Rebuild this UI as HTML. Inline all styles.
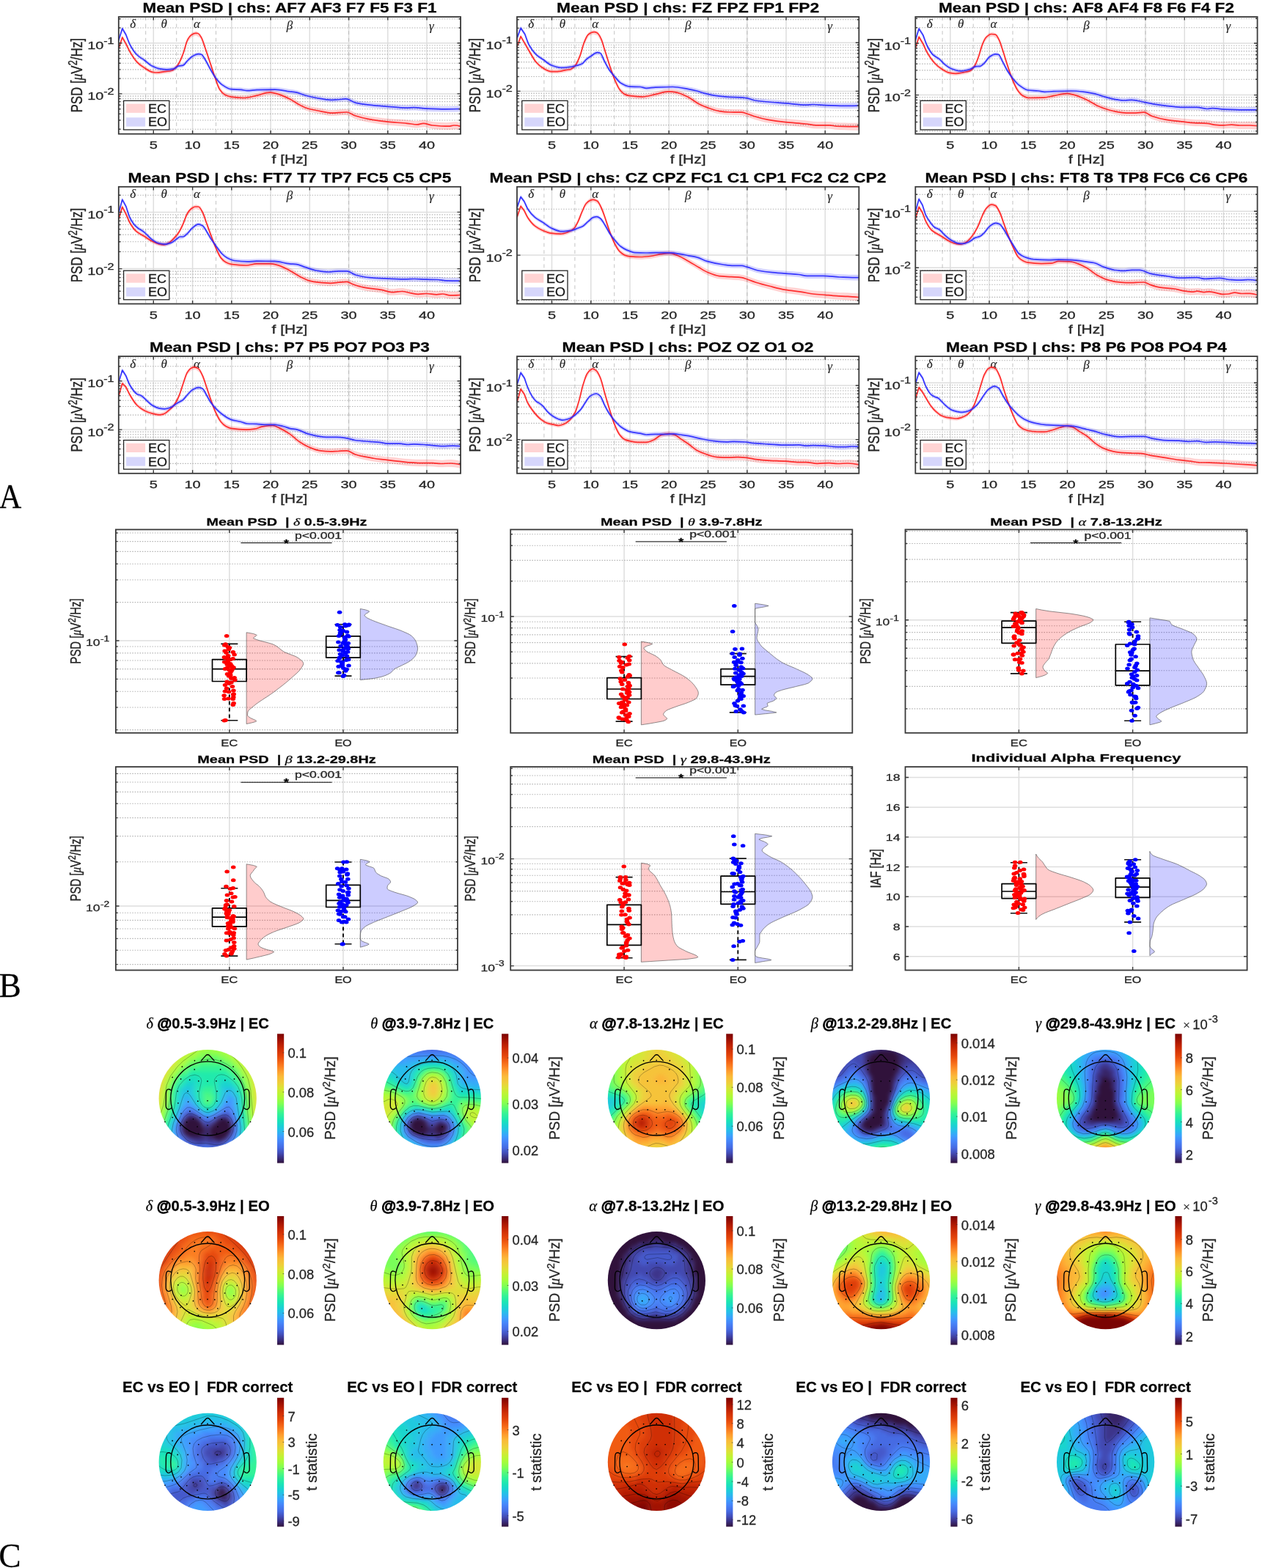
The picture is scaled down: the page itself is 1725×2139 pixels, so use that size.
<!DOCTYPE html>
<html lang="en">
<head>
<meta charset="utf-8">
<title>EEG PSD: eyes closed vs eyes open</title>
<style>
html,body{margin:0;padding:0;background:#fff;}
body{width:1725px;height:2139px;overflow:hidden;font-family:"Liberation Sans",sans-serif;}
svg{display:block;}
text{white-space:pre;stroke:#262626;stroke-width:0.3px;}
text.g{stroke-width:0.12px;}
</style>
</head>
<body>
<svg width="1725" height="2139" viewBox="0 0 1725 2139" font-family="Liberation Sans, sans-serif" fill="#262626">
<g>
<clipPath id="ca00"><rect x="161.8" y="23" width="466.3" height="159.7"/></clipPath>
<path d="M209.3 23V182.7M262.6 23V182.7M315.8 23V182.7M369.1 23V182.7M422.3 23V182.7M475.6 23V182.7M528.8 23V182.7M582 23V182.7M161.8 127.9H628.1M161.8 58.8H628.1" stroke="#dedede" stroke-width="1.5" fill="none"/>
<path d="M163.8 176.2H628.1M163.8 164H628.1M163.8 155.4H628.1M163.8 148.7H628.1M163.8 143.2H628.1M163.8 138.6H628.1M163.8 134.6H628.1M163.8 131.1H628.1M163.8 107.1H628.1M163.8 94.9H628.1M163.8 86.3H628.1M163.8 79.6H628.1M163.8 74.1H628.1M163.8 69.5H628.1M163.8 65.5H628.1M163.8 62H628.1M163.8 38H628.1M163.8 25.8H628.1" stroke="#b2b2b2" stroke-width="1.1" stroke-dasharray="1.5 1.9" fill="none"/>
<path d="M198.7 23V182.7M240.7 23V182.7M294.5 23V182.7M475.6 23V182.7" stroke="#aaa" stroke-width="0.7" stroke-dasharray="5 4.6" fill="none"/>
<text x="181.1" y="38.4" font-size="17" text-anchor="middle" font-family="Liberation Serif, serif" fill="#222" font-style="italic" class="g">δ</text>
<text x="223.7" y="38.4" font-size="17" text-anchor="middle" font-family="Liberation Serif, serif" fill="#222" font-style="italic" class="g">θ</text>
<text x="268.4" y="38.4" font-size="17" text-anchor="middle" font-family="Liberation Serif, serif" fill="#222" font-style="italic" class="g">α</text>
<text x="395.1" y="39.9" font-size="17" text-anchor="middle" font-family="Liberation Serif, serif" fill="#222" font-style="italic" class="g">β</text>
<text x="588.4" y="41.4" font-size="17" text-anchor="middle" font-family="Liberation Serif, serif" fill="#222" font-style="italic" class="g">γ</text>
<g clip-path="url(#ca00)" fill="none">
<path d="M161.8 63.7L166.8 48.7L171.7 57.4L177.3 68.5L183.3 77.9L189.3 84.6L195.3 89.1L201.3 92.9L207.3 95.7L213.3 96.5L219.3 96L225.3 95.1L231.3 94.3L237.3 91.9L243.3 85L249.3 71.9L255.3 52.8L261.3 44.9L267.3 42.8L273.3 46.4L279.3 61.1L285.3 79L291.3 97.3L297.3 114.4L303.3 123.9L309.3 127.6L315.3 129.2L321.3 130L327.3 130.4L333.3 130.5L339.3 129.7L345.3 128.3L351.3 127L357.3 125.3L363.3 123.6L369.3 123.1L375.3 124.2L381.3 125.7L387.3 128L393.3 130.7L399.3 133.9L405.3 137.8L411.3 141L417.3 143.6L423.3 145.5L429.3 146.7L435.3 147.7L441.3 149L447.3 150.2L453.3 150.4L459.3 150L465.3 149.5L471.3 149.2L477.3 150.5L483.3 153.7L489.3 155.5L495.3 157.1L501.3 158.3L507.3 159.4L513.3 160.3L519.3 161L525.3 161.7L531.3 162.3L537.3 162.7L543.3 163.1L549.3 163.5L555.3 164L561.3 164.8L567.3 165.5L573.3 164.6L579.3 164L585.3 165.6L591.3 166.6L597.3 167L603.3 167.3L609.3 167.5L615.3 167L621.3 166.4L627.3 167.4L628.1 167.6L628.1 177.2L627.3 177L621.3 175.9L615.3 176.4L609.3 176.8L603.3 176.6L597.3 176.2L591.3 175.7L585.3 174.6L579.3 172.9L573.3 173.5L567.3 174.3L561.3 173.5L555.3 172.6L549.3 172L543.3 171.6L537.3 171.1L531.3 170.6L525.3 169.9L519.3 169.2L513.3 168.3L507.3 167.3L501.3 166.2L495.3 164.9L489.3 163.3L483.3 161.4L477.3 158.1L471.3 156.7L465.3 157L459.3 157.4L453.3 157.7L447.3 157.4L441.3 156.2L435.3 154.8L429.3 153.7L423.3 152.5L417.3 150.5L411.3 147.8L405.3 144.5L399.3 140.6L393.3 137.3L387.3 134.5L381.3 132.2L375.3 130.6L369.3 129.5L363.3 129.9L357.3 131.5L351.3 133.2L345.3 134.4L339.3 135.7L333.3 136.4L327.3 136.3L321.3 135.8L315.3 135L309.3 133.4L303.3 129.6L297.3 120L291.3 102.9L285.3 84.5L279.3 66.6L273.3 51.8L267.3 48.1L261.3 50.2L255.3 58L249.3 77.1L243.3 90.1L237.3 97L231.3 99.4L225.3 100.1L219.3 101L213.3 101.4L207.3 100.6L201.3 97.7L195.3 93.9L189.3 89.3L183.3 82.6L177.3 73.2L171.7 62.1L166.8 53.3L161.8 68.3Z" fill="#ff0000" fill-opacity="0.17" stroke="#ff0000" stroke-opacity="0.12" stroke-width="0.6"/>
<path d="M161.8 66L166.8 51L171.7 59.7C173.6 63.4 175.4 67.7 177.3 70.9C180.5 76.4 183.8 81.5 187 84.8C190.2 88.1 193.5 90.4 196.7 92.4C200.4 94.8 204.2 97.6 207.9 98.3C209.7 98.6 211.6 99 213.4 99C217.1 99 220.9 98.2 224.6 97.7C227.8 97.3 231.1 97.1 234.3 96.2C236.6 95.6 238.9 93 241.3 90.3C243.1 88.2 245 84.6 246.8 80.6C248.2 77.6 249.6 73.6 251 69.5C252.4 65.4 253.8 58.3 255.2 55.6C257 51.9 258.9 49.2 260.7 47.9C262.6 46.7 264.4 45.4 266.3 45.4C267.5 45.4 268.6 45.5 269.8 45.5C271.4 45.7 273 48.7 274.7 51.4C276.5 54.5 278.4 61.4 280.2 66.7C282.5 73.3 284.9 80.6 287.2 87.6C289.5 94.5 291.8 102.1 294.1 108.4C296 113.5 297.8 119.7 299.7 122.3C302 125.7 304.3 128.1 306.7 129.3C309.4 130.7 312.2 131.7 315 132.1C320.6 132.9 326.1 133.5 331.7 133.5C337.7 133.5 343.8 131.6 349.8 130.4C355.8 129.2 361.8 126.2 367.9 126.2C371.1 126.2 374.4 127.2 377.6 127.9C383.4 129.3 389.2 132.1 395 134.9C399.6 137.1 404.3 140.9 408.9 143.2C413.1 145.3 417.3 147.4 421.4 148.5C426.5 149.9 431.6 150.6 436.7 151.6C441.4 152.4 446 154.1 450.7 154.1C458.1 154.1 465.5 153 472.9 153C476.6 153 480.3 156.6 484 157.8C490.5 159.9 497 161.5 503.5 162.7C511.9 164.2 520.2 165.3 528.6 166.2C537.4 167.1 546.2 167.4 555 168.3C559.6 168.7 564.3 169.9 568.9 169.9C571.7 169.9 574.5 168.3 577.3 168.3C581.4 168.3 585.6 170.7 589.8 171C597.2 171.7 604.6 172.2 612 172.2C614.4 172.2 616.7 171 619 171C622 171 625.1 171.4 628.1 172.4" stroke="#ff2020" stroke-width="1.7" stroke-linejoin="round" stroke-opacity="0.92"/>
<path d="M161.8 52.6L166.8 36.6L171.7 44.9L177.3 58.8L183.3 68.4L189.3 74.6L195.3 78.6L201.3 83.3L207.3 87.7L213.3 90.3L219.3 91.7L225.3 92.3L231.3 92.3L237.3 91.3L243.3 87.7L249.3 86.9L255.3 80.8L261.3 75.2L267.3 71.9L273.3 71.5L279.3 77.9L285.3 89.1L291.3 99.6L297.3 107.7L303.3 113.4L309.3 117.2L315.3 119.1L321.3 119.4L327.3 119.6L333.3 120.5L339.3 121L345.3 120.3L351.3 119.9L357.3 119.6L363.3 119.5L369.3 119.3L375.3 119.3L381.3 119.8L387.3 120.7L393.3 121.8L399.3 122.6L405.3 123.5L411.3 125.5L417.3 127.5L423.3 129L429.3 130.2L435.3 131.3L441.3 132.4L447.3 133.1L453.3 133.2L459.3 133L465.3 132.4L471.3 131.8L477.3 133.5L483.3 136.6L489.3 138.1L495.3 139.1L501.3 139.8L507.3 140.4L513.3 140.9L519.3 141.4L525.3 141.8L531.3 142.3L537.3 142.8L543.3 143.3L549.3 143.6L555.3 143.8L561.3 143.5L567.3 143.4L573.3 143.9L579.3 144.5L585.3 144.8L591.3 145L597.3 145.2L603.3 145.2L609.3 145.2L615.3 145.2L621.3 145.1L627.3 144.9L628.1 144.9L628.1 152.1L627.3 152.1L621.3 152.2L615.3 152.3L609.3 152.3L603.3 152.3L597.3 152.1L591.3 151.9L585.3 151.7L579.3 151.4L573.3 150.7L567.3 150.2L561.3 150.2L555.3 150.5L549.3 150.3L543.3 149.9L537.3 149.3L531.3 148.8L525.3 148.3L519.3 147.8L513.3 147.3L507.3 146.8L501.3 146.1L495.3 145.3L489.3 144.3L483.3 142.8L477.3 139.7L471.3 137.9L465.3 138.5L459.3 139.1L453.3 139.2L447.3 139.1L441.3 138.3L435.3 137.2L429.3 136.1L423.3 134.8L417.3 133.3L411.3 131.3L405.3 129.2L399.3 128.2L393.3 127.4L387.3 126.3L381.3 125.3L375.3 124.8L369.3 124.9L363.3 124.9L357.3 125.1L351.3 125.3L345.3 125.7L339.3 126.3L333.3 125.8L327.3 124.9L321.3 124.6L315.3 124.3L309.3 122.3L303.3 118.5L297.3 112.8L291.3 104.7L285.3 94.2L279.3 82.9L273.3 76.5L267.3 76.9L261.3 80.2L255.3 85.8L249.3 91.8L243.3 92.6L237.3 96.2L231.3 97.1L225.3 97.1L219.3 96.5L213.3 95L207.3 92.4L201.3 88L195.3 83.3L189.3 79.3L183.3 73.1L177.3 63.4L171.7 49.5L166.8 41.2L161.8 57.2Z" fill="#0000ff" fill-opacity="0.17" stroke="#0000ff" stroke-opacity="0.12" stroke-width="0.6"/>
<path d="M161.8 54.9L166.8 38.9L171.7 47.2C173.6 51.9 175.4 57.7 177.3 61.1C180.5 67.2 183.8 72 187 75C190.2 78.1 193.5 79.6 196.7 82C200.4 84.7 204.2 88.6 207.9 90.3C211.1 91.9 214.4 93.3 217.6 93.8C220.9 94.3 224.1 94.8 227.3 94.8C230.1 94.8 232.9 94.6 235.7 94.2C238.5 93.9 241.3 90.5 244 89.9C245.9 89.6 247.8 89.6 249.6 89.2C251.5 88.8 253.3 85.2 255.2 83.4C257.5 81.1 259.8 78.5 262.1 77.1C264.9 75.5 267.7 73.7 270.5 73.7C271.9 73.7 273.3 73.9 274.7 74.3C276.5 74.9 278.4 79.1 280.2 82C282.5 85.7 284.9 91.2 287.2 95.2C289.5 99.2 291.8 103.3 294.1 106.3C296.9 110 299.7 113.4 302.5 115.4C306.7 118.3 310.8 121.3 315 121.7C319.6 122.1 324.3 122 328.9 122.3C331.7 122.6 334.5 123.7 337.3 123.7C341.4 123.7 345.6 122.8 349.8 122.6C358.1 122.3 366.5 122.1 374.8 122.1C381.6 122.1 388.3 123.9 395 124.9C398.2 125.3 401.5 125.6 404.7 126.2C408.4 127 412.2 129 415.9 130C421 131.4 426.1 132.6 431.2 133.5C437.7 134.6 444.2 136.3 450.7 136.3C453.9 136.3 457.1 136.1 460.4 136C464.1 135.8 467.8 134.9 471.5 134.9C476.2 134.9 480.8 139.4 485.4 140.4C491.5 141.8 497.5 142.6 503.5 143.2C511.9 144.1 520.2 144.7 528.6 145.3C537.4 146 546.2 147.1 555 147.1C558.2 147.1 561.5 146.7 564.7 146.7C570.3 146.7 575.9 147.9 581.4 148.1C590.2 148.5 599.1 148.8 607.9 148.8C614.6 148.8 621.4 148.7 628.1 148.5" stroke="#2828ff" stroke-width="1.7" stroke-linejoin="round" stroke-opacity="0.92"/>
</g>
<path d="M209.3 182.7v-4.6M209.3 23v4.6M262.6 182.7v-4.6M262.6 23v4.6M315.8 182.7v-4.6M315.8 23v4.6M369.1 182.7v-4.6M369.1 23v4.6M422.3 182.7v-4.6M422.3 23v4.6M475.6 182.7v-4.6M475.6 23v4.6M528.8 182.7v-4.6M528.8 23v4.6M582 182.7v-4.6M582 23v4.6M161.8 127.9h4.6M628.1 127.9h-4.6M161.8 58.8h4.6M628.1 58.8h-4.6M161.8 176.2h2.6M628.1 176.2h-2.6M161.8 164h2.6M628.1 164h-2.6M161.8 155.4h2.6M628.1 155.4h-2.6M161.8 148.7h2.6M628.1 148.7h-2.6M161.8 143.2h2.6M628.1 143.2h-2.6M161.8 138.6h2.6M628.1 138.6h-2.6M161.8 134.6h2.6M628.1 134.6h-2.6M161.8 131.1h2.6M628.1 131.1h-2.6M161.8 107.1h2.6M628.1 107.1h-2.6M161.8 94.9h2.6M628.1 94.9h-2.6M161.8 86.3h2.6M628.1 86.3h-2.6M161.8 79.6h2.6M628.1 79.6h-2.6M161.8 74.1h2.6M628.1 74.1h-2.6M161.8 69.5h2.6M628.1 69.5h-2.6M161.8 65.5h2.6M628.1 65.5h-2.6M161.8 62h2.6M628.1 62h-2.6M161.8 38h2.6M628.1 38h-2.6M161.8 25.8h2.6M628.1 25.8h-2.6" stroke="#3a3a3a" stroke-width="1.4" fill="none"/>
<rect x="161.8" y="23" width="466.3" height="159.7" fill="none" stroke="#3a3a3a" stroke-width="1.8"/>
<rect x="168.6" y="137.4" width="62.2" height="39.6" fill="#fff" stroke="#262626" stroke-width="1.3"/>
<rect x="172.1" y="141.6" width="26" height="12.3" fill="#ffd4d4"/>
<rect x="172.1" y="160.3" width="26" height="12.3" fill="#d6d6fb"/>
<text x="201.9" y="153.7" font-size="16.6" fill="#111" textLength="25" lengthAdjust="spacingAndGlyphs">EC</text>
<text x="201.9" y="172.4" font-size="16.6" fill="#111" textLength="26" lengthAdjust="spacingAndGlyphs">EO</text>
<text transform="translate(209.3 202.9) scale(1.33 1)" font-size="15" text-anchor="middle" fill="#262626">5</text>
<text transform="translate(262.6 202.9) scale(1.33 1)" font-size="15" text-anchor="middle" fill="#262626">10</text>
<text transform="translate(315.8 202.9) scale(1.33 1)" font-size="15" text-anchor="middle" fill="#262626">15</text>
<text transform="translate(369.1 202.9) scale(1.33 1)" font-size="15" text-anchor="middle" fill="#262626">20</text>
<text transform="translate(422.3 202.9) scale(1.33 1)" font-size="15" text-anchor="middle" fill="#262626">25</text>
<text transform="translate(475.6 202.9) scale(1.33 1)" font-size="15" text-anchor="middle" fill="#262626">30</text>
<text transform="translate(528.8 202.9) scale(1.33 1)" font-size="15" text-anchor="middle" fill="#262626">35</text>
<text transform="translate(582 202.9) scale(1.33 1)" font-size="15" text-anchor="middle" fill="#262626">40</text>
<text transform="translate(395 223) scale(1.27 1)" font-size="16.5" text-anchor="middle" fill="#262626">f [Hz]</text>
<text transform="translate(141.4 67.3) scale(1.33 1)" font-size="15" text-anchor="end">10</text><text transform="translate(141.2 59.8) scale(1.3 1)" font-size="12.5">-1</text>
<text transform="translate(141.4 136.4) scale(1.33 1)" font-size="15" text-anchor="end">10</text><text transform="translate(141.2 128.9) scale(1.3 1)" font-size="12.5">-2</text>
<text transform="translate(112 102.8) rotate(-90) scale(1 1.28)" font-size="17" text-anchor="middle" textLength="101.5" lengthAdjust="spacingAndGlyphs">PSD [<tspan font-family="Liberation Serif, serif" font-style="italic">μ</tspan>V<tspan dy="-5.5" font-size="12.8">2</tspan><tspan dy="5.5">/Hz]</tspan></text>
<text x="395" y="17.2" font-size="18" text-anchor="middle" font-weight="bold" fill="#000" textLength="401" lengthAdjust="spacingAndGlyphs">Mean PSD | chs: AF7 AF3 F7 F5 F3 F1</text>
</g>
<g>
<clipPath id="ca01"><rect x="705" y="23" width="466.3" height="159.7"/></clipPath>
<path d="M752.5 23V182.7M805.8 23V182.7M859 23V182.7M912.2 23V182.7M965.5 23V182.7M1018.8 23V182.7M1072 23V182.7M1125.2 23V182.7M705 124.4H1171.3M705 58.3H1171.3" stroke="#dedede" stroke-width="1.5" fill="none"/>
<path d="M707 170.6H1171.3M707 159H1171.3M707 150.7H1171.3M707 144.3H1171.3M707 139.1H1171.3M707 134.6H1171.3M707 130.8H1171.3M707 127.4H1171.3M707 104.5H1171.3M707 92.9H1171.3M707 84.6H1171.3M707 78.2H1171.3M707 73H1171.3M707 68.5H1171.3M707 64.7H1171.3M707 61.3H1171.3M707 38.4H1171.3M707 26.8H1171.3" stroke="#b2b2b2" stroke-width="1.1" stroke-dasharray="1.5 1.9" fill="none"/>
<path d="M741.9 23V182.7M783.9 23V182.7M837.7 23V182.7M1018.8 23V182.7" stroke="#aaa" stroke-width="0.7" stroke-dasharray="5 4.6" fill="none"/>
<text x="724.3" y="38.4" font-size="17" text-anchor="middle" font-family="Liberation Serif, serif" fill="#222" font-style="italic" class="g">δ</text>
<text x="766.9" y="38.4" font-size="17" text-anchor="middle" font-family="Liberation Serif, serif" fill="#222" font-style="italic" class="g">θ</text>
<text x="811.6" y="38.4" font-size="17" text-anchor="middle" font-family="Liberation Serif, serif" fill="#222" font-style="italic" class="g">α</text>
<text x="938.3" y="39.9" font-size="17" text-anchor="middle" font-family="Liberation Serif, serif" fill="#222" font-style="italic" class="g">β</text>
<text x="1131.6" y="41.4" font-size="17" text-anchor="middle" font-family="Liberation Serif, serif" fill="#222" font-style="italic" class="g">γ</text>
<g clip-path="url(#ca01)" fill="none">
<path d="M705 61.6L710.1 47.4L719.9 64.4L731 82.4L737 88.2L743 92L749 94.7L755 95.1L761 95.1L767 94.1L773 92.9L779 91.7L785 86L791 73.4L797 54.2L803 43.9L809 41.2L815 42.8L821 53.5L827 72.9L833 91.7L839 107.7L845 119.4L851 125.2L857 127.4L863 128.3L869 128.9L875 129.1L881 128.6L887 127.2L893 125.7L899 124.2L905 122.6L911 121.7L917 122L923 122.8L929 124.7L935 127.5L941 130.6L947 134.7L953 138.5L959 141.2L965 143.5L971 145.5L977 147.3L983 148.3L989 149L995 149.3L1001 149.4L1007 149.4L1013 149.7L1019 151.5L1025 153.6L1031 155.5L1037 157.1L1043 158.5L1049 159.7L1055 160.6L1061 161.4L1067 162L1073 162.6L1079 163.1L1085 163.6L1091 164L1097 164.5L1103 165.2L1109 166.1L1115 166.4L1121 166.3L1127 166.3L1133 166.4L1139 167.4L1145 167.7L1151 167.8L1157 167.9L1163 167.9L1169 167.9L1171.3 167.9L1171.3 177.5L1169 177.5L1163 177.4L1157 177.3L1151 177.1L1145 176.9L1139 176.6L1133 175.4L1127 175.3L1121 175.2L1115 175.2L1109 174.9L1103 173.9L1097 173L1091 172.5L1085 172L1079 171.5L1073 170.9L1067 170.2L1061 169.5L1055 168.6L1049 167.6L1043 166.4L1037 165L1031 163.3L1025 161.3L1019 159.1L1013 157.2L1007 156.8L1001 156.7L995 156.6L989 156.2L983 155.5L977 154.4L971 152.5L965 150.4L959 148.1L953 145.3L947 141.4L941 137.2L935 134.1L929 131.3L923 129.3L917 128.4L911 128L905 128.9L899 130.4L893 131.8L887 133.3L881 134.6L875 135.1L869 134.8L863 134.1L857 133.2L851 130.9L845 125.1L839 113.3L833 97.2L827 78.4L821 59L815 48.2L809 46.5L803 49.1L797 59.4L791 78.6L785 91.1L779 96.8L773 97.9L767 99L761 100L755 100L749 99.6L743 96.8L737 93L731 87.1L719.9 69L710.1 52L705 66.2Z" fill="#ff0000" fill-opacity="0.17" stroke="#ff0000" stroke-opacity="0.12" stroke-width="0.6"/>
<path d="M705 63.9L710.1 49.7L719.9 66.7C723.6 72.7 727.3 80.6 731 84.8C734.2 88.4 737.5 91.3 740.7 93.1C744.4 95.2 748.2 97.6 751.9 97.6C754.7 97.6 757.4 97.6 760.2 97.6C763.9 97.6 767.6 96.3 771.3 95.6C773.7 95.2 776 95.2 778.3 94.5C780.6 93.9 782.9 91.2 785.3 88.3C787.1 85.9 789 81.2 790.8 76.4C792.7 71.7 794.5 62.9 796.4 58.3C798.2 53.8 800.1 48.6 802 47.2C804.7 45.2 807.5 43.7 810.3 43.7C811.7 43.7 813.1 44.4 814.5 45.1C816.1 46 817.7 48.9 819.3 52.1C821 55.2 822.6 61.7 824.2 66.7C826.5 73.9 828.9 82 831.2 89C833.5 95.9 835.8 103 838.1 108.4C840.4 113.8 842.8 119.5 845.1 122.3C847.4 125.2 849.7 127.6 852 128.6C854.4 129.7 856.7 130.4 859 130.7C864.6 131.5 870.1 132.1 875.7 132.1C881.7 132.1 887.8 129.8 893.8 128.6C899.8 127.4 905.8 124.9 911.9 124.9C915.1 124.9 918.4 125.3 921.6 125.8C927.4 126.7 933.2 129.9 939 132.8C943.6 135.1 948.3 139.5 952.9 141.8C957.1 144 961.3 145.7 965.4 147.1C970.5 148.9 975.6 150.8 980.7 151.6C985.4 152.3 990 152.8 994.7 153C1000.2 153.1 1005.8 153 1011.3 153.2C1013.7 153.3 1016 154.4 1018.3 155C1021.6 156 1024.8 157.5 1028 158.5C1034.5 160.5 1041 162.2 1047.5 163.4C1055.4 164.8 1063.3 165.8 1071.2 166.6C1080.4 167.6 1089.7 168 1099 169C1103.6 169.4 1108.3 170.8 1112.9 170.8C1118.9 170.8 1125 170.8 1131 170.8C1134.2 170.8 1137.5 172 1140.7 172.2C1150.9 172.5 1161.1 172.7 1171.3 172.7" stroke="#ff2020" stroke-width="1.7" stroke-linejoin="round" stroke-opacity="0.92"/>
<path d="M705 49.8L710.1 35.9L715.7 44.2L721.3 58.8L727.3 68L733.3 73.9L739.3 78L745.3 82.4L751.3 86.3L757.3 88.5L763.3 89.9L769.3 89.9L775.3 89.3L781.3 88.3L787.3 86.7L793.3 84.9L799.3 78.8L805.3 74.5L811.3 70.2L817.3 69.5L823.3 78.8L829.3 90.3L835.3 98.5L841.3 105.5L847.3 111.2L853.3 114.2L859.3 115.6L865.3 115.7L871.3 115.8L877.3 116.8L883.3 117.5L889.3 116.9L895.3 116.4L901.3 116.1L907.3 115.9L913.3 115.7L919.3 115.7L925.3 116.3L931.3 117.3L937.3 118.5L943.3 119.6L949.3 120.9L955.3 122.8L961.3 124.7L967.3 126.1L973.3 127.2L979.3 128L985.3 128.7L991.3 129.2L997.3 129.5L1003.3 129.6L1009.3 129.8L1015.3 130.3L1021.3 131.4L1027.3 133.3L1033.3 134.4L1039.3 135.1L1045.3 135.7L1051.3 136.2L1057.3 136.6L1063.3 137L1069.3 137.5L1075.3 138L1081.3 138.6L1087.3 139.2L1093.3 139.7L1099.3 139.9L1105.3 139.4L1111.3 139.2L1117.3 139.6L1123.3 140.1L1129.3 140.3L1135.3 140.5L1141.3 140.7L1147.3 140.8L1153.3 140.8L1159.3 140.7L1165.3 140.6L1171.3 140.5L1171.3 140.5L1171.3 147.7L1171.3 147.7L1165.3 147.8L1159.3 147.9L1153.3 147.9L1147.3 147.8L1141.3 147.7L1135.3 147.5L1129.3 147.2L1123.3 146.9L1117.3 146.4L1111.3 146L1105.3 146.1L1099.3 146.6L1093.3 146.4L1087.3 145.8L1081.3 145.2L1075.3 144.5L1069.3 143.9L1063.3 143.5L1057.3 143L1051.3 142.6L1045.3 142L1039.3 141.4L1033.3 140.7L1027.3 139.6L1021.3 137.5L1015.3 136.4L1009.3 135.9L1003.3 135.6L997.3 135.5L991.3 135.2L985.3 134.6L979.3 133.9L973.3 133.1L967.3 131.9L961.3 130.5L955.3 128.6L949.3 126.7L943.3 125.3L937.3 124.2L931.3 123L925.3 121.9L919.3 121.3L913.3 121.2L907.3 121.4L901.3 121.5L895.3 121.8L889.3 122.3L883.3 122.9L877.3 122.1L871.3 121L865.3 120.9L859.3 120.8L853.3 119.4L847.3 116.3L841.3 110.6L835.3 103.6L829.3 95.4L823.3 83.9L817.3 74.5L811.3 75.2L805.3 79.5L799.3 83.7L793.3 89.8L787.3 91.6L781.3 93.2L775.3 94.1L769.3 94.7L763.3 94.7L757.3 93.2L751.3 91.1L745.3 87.1L739.3 82.6L733.3 78.6L727.3 72.6L721.3 63.4L715.7 48.8L710.1 40.5L705 54.4Z" fill="#0000ff" fill-opacity="0.17" stroke="#0000ff" stroke-opacity="0.12" stroke-width="0.6"/>
<path d="M705 52.1L710.1 38.2L715.7 46.5C717.6 51.4 719.4 57.7 721.3 61.1C724.5 67.1 727.8 71.3 731 74.3C734.2 77.4 737.5 79 740.7 81.3C744.4 83.9 748.2 87.6 751.9 89C756.5 90.7 761.1 92.4 765.8 92.4C770.4 92.4 775.1 91.7 779.7 91C781.6 90.8 783.4 90.2 785.3 89.7C788 88.9 790.8 88.5 793.6 87.1C795.5 86.2 797.3 82.9 799.2 81.3C801.5 79.3 803.8 77.9 806.1 76.4C808.9 74.7 811.7 71.6 814.5 71.6C815.9 71.6 817.3 72 818.7 72.5C820.5 73.3 822.4 79.9 824.2 83.4C826.5 87.7 828.9 92.6 831.2 95.9C833.5 99.3 835.8 101.6 838.1 104.3C840.9 107.4 843.7 111.7 846.5 113.3C850.7 115.8 854.8 118 859 118.2C863.6 118.4 868.3 118.3 872.9 118.5C875.7 118.6 878.5 120.3 881.3 120.3C885.4 120.3 889.6 119.3 893.8 119.1C901.7 118.8 909.6 118.5 917.4 118.5C924.6 118.5 931.8 120.4 939 121.7C942.7 122.3 946.4 123.1 950.1 124C953.4 124.9 956.6 126.4 959.9 127.2C965 128.5 970.1 129.7 975.2 130.4C981.7 131.3 988.2 132.1 994.7 132.4C999.3 132.6 1003.9 132.6 1008.6 132.8C1011.8 132.9 1015.1 133.3 1018.3 133.8C1022 134.3 1025.7 136.3 1029.4 137C1035.5 138 1041.5 138.5 1047.5 139C1055.4 139.8 1063.3 140.2 1071.2 140.9C1080.4 141.6 1089.7 143.2 1099 143.2C1102.2 143.2 1105.5 142.5 1108.7 142.5C1114.3 142.5 1119.9 143.4 1125.4 143.6C1134.2 144 1143.1 144.3 1151.9 144.3C1158.3 144.3 1164.8 144.3 1171.3 144.1" stroke="#2828ff" stroke-width="1.7" stroke-linejoin="round" stroke-opacity="0.92"/>
</g>
<path d="M752.5 182.7v-4.6M752.5 23v4.6M805.8 182.7v-4.6M805.8 23v4.6M859 182.7v-4.6M859 23v4.6M912.2 182.7v-4.6M912.2 23v4.6M965.5 182.7v-4.6M965.5 23v4.6M1018.8 182.7v-4.6M1018.8 23v4.6M1072 182.7v-4.6M1072 23v4.6M1125.2 182.7v-4.6M1125.2 23v4.6M705 124.4h4.6M1171.3 124.4h-4.6M705 58.3h4.6M1171.3 58.3h-4.6M705 170.6h2.6M1171.3 170.6h-2.6M705 159h2.6M1171.3 159h-2.6M705 150.7h2.6M1171.3 150.7h-2.6M705 144.3h2.6M1171.3 144.3h-2.6M705 139.1h2.6M1171.3 139.1h-2.6M705 134.6h2.6M1171.3 134.6h-2.6M705 130.8h2.6M1171.3 130.8h-2.6M705 127.4h2.6M1171.3 127.4h-2.6M705 104.5h2.6M1171.3 104.5h-2.6M705 92.9h2.6M1171.3 92.9h-2.6M705 84.6h2.6M1171.3 84.6h-2.6M705 78.2h2.6M1171.3 78.2h-2.6M705 73h2.6M1171.3 73h-2.6M705 68.5h2.6M1171.3 68.5h-2.6M705 64.7h2.6M1171.3 64.7h-2.6M705 61.3h2.6M1171.3 61.3h-2.6M705 38.4h2.6M1171.3 38.4h-2.6M705 26.8h2.6M1171.3 26.8h-2.6" stroke="#3a3a3a" stroke-width="1.4" fill="none"/>
<rect x="705" y="23" width="466.3" height="159.7" fill="none" stroke="#3a3a3a" stroke-width="1.8"/>
<rect x="711.8" y="137.4" width="62.2" height="39.6" fill="#fff" stroke="#262626" stroke-width="1.3"/>
<rect x="715.3" y="141.6" width="26" height="12.3" fill="#ffd4d4"/>
<rect x="715.3" y="160.3" width="26" height="12.3" fill="#d6d6fb"/>
<text x="745.1" y="153.7" font-size="16.6" fill="#111" textLength="25" lengthAdjust="spacingAndGlyphs">EC</text>
<text x="745.1" y="172.4" font-size="16.6" fill="#111" textLength="26" lengthAdjust="spacingAndGlyphs">EO</text>
<text transform="translate(752.5 202.9) scale(1.33 1)" font-size="15" text-anchor="middle" fill="#262626">5</text>
<text transform="translate(805.8 202.9) scale(1.33 1)" font-size="15" text-anchor="middle" fill="#262626">10</text>
<text transform="translate(859 202.9) scale(1.33 1)" font-size="15" text-anchor="middle" fill="#262626">15</text>
<text transform="translate(912.2 202.9) scale(1.33 1)" font-size="15" text-anchor="middle" fill="#262626">20</text>
<text transform="translate(965.5 202.9) scale(1.33 1)" font-size="15" text-anchor="middle" fill="#262626">25</text>
<text transform="translate(1018.8 202.9) scale(1.33 1)" font-size="15" text-anchor="middle" fill="#262626">30</text>
<text transform="translate(1072 202.9) scale(1.33 1)" font-size="15" text-anchor="middle" fill="#262626">35</text>
<text transform="translate(1125.2 202.9) scale(1.33 1)" font-size="15" text-anchor="middle" fill="#262626">40</text>
<text transform="translate(938.1 223) scale(1.27 1)" font-size="16.5" text-anchor="middle" fill="#262626">f [Hz]</text>
<text transform="translate(684.6 66.8) scale(1.33 1)" font-size="15" text-anchor="end">10</text><text transform="translate(684.4 59.3) scale(1.3 1)" font-size="12.5">-1</text>
<text transform="translate(684.6 132.9) scale(1.33 1)" font-size="15" text-anchor="end">10</text><text transform="translate(684.4 125.4) scale(1.3 1)" font-size="12.5">-2</text>
<text transform="translate(655.2 102.8) rotate(-90) scale(1 1.28)" font-size="17" text-anchor="middle" textLength="101.5" lengthAdjust="spacingAndGlyphs">PSD [<tspan font-family="Liberation Serif, serif" font-style="italic">μ</tspan>V<tspan dy="-5.5" font-size="12.8">2</tspan><tspan dy="5.5">/Hz]</tspan></text>
<text x="938.1" y="17.2" font-size="18" text-anchor="middle" font-weight="bold" fill="#000" textLength="358" lengthAdjust="spacingAndGlyphs">Mean PSD | chs: FZ FPZ FP1 FP2</text>
</g>
<g>
<clipPath id="ca02"><rect x="1248.3" y="23" width="466.3" height="159.7"/></clipPath>
<path d="M1295.8 23V182.7M1349 23V182.7M1402.3 23V182.7M1455.5 23V182.7M1508.8 23V182.7M1562 23V182.7M1615.3 23V182.7M1668.5 23V182.7M1248.3 129.6H1714.6M1248.3 59H1714.6" stroke="#dedede" stroke-width="1.5" fill="none"/>
<path d="M1250.3 178.9H1714.6M1250.3 166.5H1714.6M1250.3 157.7H1714.6M1250.3 150.9H1714.6M1250.3 145.3H1714.6M1250.3 140.5H1714.6M1250.3 136.4H1714.6M1250.3 132.8H1714.6M1250.3 108.3H1714.6M1250.3 95.9H1714.6M1250.3 87.1H1714.6M1250.3 80.3H1714.6M1250.3 74.7H1714.6M1250.3 69.9H1714.6M1250.3 65.8H1714.6M1250.3 62.2H1714.6M1250.3 37.7H1714.6M1250.3 25.3H1714.6" stroke="#b2b2b2" stroke-width="1.1" stroke-dasharray="1.5 1.9" fill="none"/>
<path d="M1285.1 23V182.7M1327.2 23V182.7M1381 23V182.7M1562 23V182.7" stroke="#aaa" stroke-width="0.7" stroke-dasharray="5 4.6" fill="none"/>
<text x="1267.6" y="38.4" font-size="17" text-anchor="middle" font-family="Liberation Serif, serif" fill="#222" font-style="italic" class="g">δ</text>
<text x="1310.2" y="38.4" font-size="17" text-anchor="middle" font-family="Liberation Serif, serif" fill="#222" font-style="italic" class="g">θ</text>
<text x="1354.9" y="38.4" font-size="17" text-anchor="middle" font-family="Liberation Serif, serif" fill="#222" font-style="italic" class="g">α</text>
<text x="1481.6" y="39.9" font-size="17" text-anchor="middle" font-family="Liberation Serif, serif" fill="#222" font-style="italic" class="g">β</text>
<text x="1674.9" y="41.4" font-size="17" text-anchor="middle" font-family="Liberation Serif, serif" fill="#222" font-style="italic" class="g">γ</text>
<g clip-path="url(#ca02)" fill="none">
<path d="M1248.3 63.7L1253.1 48L1258.7 57.4L1264.3 69.2L1270.3 78.6L1276.3 85.4L1282.3 90.5L1288.3 94.2L1294.3 96.8L1300.3 97.8L1306.3 97.7L1312.3 96.6L1318.3 95.4L1324.3 93.1L1330.3 85.1L1336.3 68.7L1342.3 52.1L1348.3 45.3L1354.3 44L1360.3 47.6L1366.3 62.4L1372.3 81.6L1378.3 99.6L1384.3 114.1L1390.3 123.6L1396.3 128.5L1402.3 130.6L1408.3 130.5L1414.3 130.4L1420.3 130.3L1426.3 129.9L1432.3 128.6L1438.3 127.3L1444.3 126L1450.3 124.8L1456.3 124.5L1462.3 125.5L1468.3 127.1L1474.3 129.4L1480.3 132.1L1486.3 135.2L1492.3 138.7L1498.3 141.5L1504.3 143.9L1510.3 145.9L1516.3 147.6L1522.3 148.9L1528.3 149.7L1534.3 150.3L1540.3 150.4L1546.3 150.4L1552.3 150.1L1558.3 149.5L1564.3 150.9L1570.3 154.4L1576.3 156.3L1582.3 157.8L1588.3 159L1594.3 160L1600.3 160.7L1606.3 161.3L1612.3 161.9L1618.3 162.5L1624.3 163.1L1630.3 163.4L1636.3 163.6L1642.3 163.7L1648.3 164.2L1654.3 165.5L1660.3 166.1L1666.3 166.3L1672.3 166.1L1678.3 165.7L1684.3 165.9L1690.3 166.4L1696.3 166.4L1702.3 166.3L1708.3 166.4L1714.3 166.9L1714.6 166.9L1714.6 176.5L1714.3 176.5L1708.3 175.9L1702.3 175.8L1696.3 175.7L1690.3 175.7L1684.3 175.1L1678.3 174.8L1672.3 175.1L1666.3 175.2L1660.3 174.9L1654.3 174.3L1648.3 172.9L1642.3 172.4L1636.3 172.1L1630.3 171.9L1624.3 171.5L1618.3 170.8L1612.3 170.1L1606.3 169.4L1600.3 168.7L1594.3 167.9L1588.3 167L1582.3 165.7L1576.3 164L1570.3 162.1L1564.3 158.5L1558.3 157.1L1552.3 157.6L1546.3 157.8L1540.3 157.7L1534.3 157.6L1528.3 156.9L1522.3 156L1516.3 154.6L1510.3 152.8L1504.3 150.8L1498.3 148.4L1492.3 145.4L1486.3 141.9L1480.3 138.8L1474.3 136L1468.3 133.6L1462.3 132L1456.3 130.9L1450.3 131.1L1444.3 132.2L1438.3 133.5L1432.3 134.7L1426.3 135.9L1420.3 136.2L1414.3 136.3L1408.3 136.4L1402.3 136.4L1396.3 134.3L1390.3 129.3L1384.3 119.7L1378.3 105.2L1372.3 87.1L1366.3 67.8L1360.3 52.9L1354.3 49.3L1348.3 50.6L1342.3 57.3L1336.3 73.9L1330.3 90.2L1324.3 98.2L1318.3 100.5L1312.3 101.6L1306.3 102.6L1300.3 102.7L1294.3 101.7L1288.3 99.1L1282.3 95.2L1276.3 90.2L1270.3 83.3L1264.3 73.9L1258.7 62.1L1253.1 52.6L1248.3 68.3Z" fill="#ff0000" fill-opacity="0.17" stroke="#ff0000" stroke-opacity="0.12" stroke-width="0.6"/>
<path d="M1248.3 66L1253.1 50.3L1258.7 59.7C1260.6 63.7 1262.4 68.3 1264.3 71.6C1267.5 77.2 1270.8 82 1274 85.5C1277.2 89 1280.5 91.8 1283.7 93.8C1287.4 96.2 1291.2 98.7 1294.9 99.4C1297.7 99.9 1300.4 100.4 1303.2 100.4C1306.9 100.4 1310.6 99.4 1314.3 98.7C1317.1 98.2 1319.9 97.8 1322.7 96.6C1324.6 95.8 1326.4 93.6 1328.3 91C1330.1 88.5 1332 84 1333.8 79.2C1335.7 74.5 1337.5 65.5 1339.4 61.1C1341.2 56.7 1343.1 52.4 1345 50.7C1347.3 48.5 1349.6 46.5 1351.9 46.5C1353.8 46.5 1355.6 46.8 1357.5 47.2C1359.1 47.6 1360.7 51.1 1362.3 54.2C1364 57.3 1365.6 63.2 1367.2 68.1C1369.5 75.1 1371.9 83.4 1374.2 90.3C1376.5 97.3 1378.8 104.4 1381.1 109.8C1383.4 115.2 1385.8 120.6 1388.1 123.7C1390.4 126.8 1392.7 129.4 1395 130.7C1397.4 132 1399.7 133.5 1402 133.5C1409 133.5 1415.9 133.4 1422.9 133.2C1427.5 133.1 1432.1 131.5 1436.8 130.7C1442.8 129.6 1448.8 127.6 1454.9 127.6C1458.1 127.6 1461.4 128.6 1464.6 129.3C1470.4 130.6 1476.2 133.6 1482 136.3C1486.6 138.4 1491.3 141.8 1495.9 143.9C1500.1 145.8 1504.3 147.5 1508.4 148.8C1513.5 150.4 1518.6 152 1523.7 152.7C1528.4 153.3 1533 154.1 1537.7 154.1C1541.4 154.1 1545.1 154.1 1548.8 154.1C1552.5 154.1 1556.2 153.2 1559.9 153.2C1563.6 153.2 1567.3 157.3 1571 158.5C1577.5 160.7 1584 162.3 1590.5 163.4C1598.4 164.7 1606.3 165.3 1614.2 166.2C1618.8 166.7 1623.4 167.3 1628.1 167.6C1634.1 167.9 1640.1 167.9 1646.2 168.3C1649.9 168.5 1653.6 170.1 1657.3 170.3C1661 170.6 1664.7 170.8 1668.4 170.8C1672.1 170.8 1675.9 170.2 1679.6 170.2C1683.3 170.2 1687 171 1690.7 171C1695.3 171 1700 171 1704.6 171C1707.9 171 1711.3 171.4 1714.6 171.7" stroke="#ff2020" stroke-width="1.7" stroke-linejoin="round" stroke-opacity="0.92"/>
<path d="M1248.3 52.6L1253.1 36.8L1258.7 45.6L1264.3 60.2L1270.3 70.1L1276.3 75.3L1282.3 79.4L1288.3 85.5L1294.3 89.8L1300.3 92.4L1306.3 94.1L1312.3 94.4L1318.3 93.3L1324.3 91.5L1330.3 88.3L1336.3 87.9L1342.3 83.6L1348.3 76.1L1354.3 72.2L1360.3 71.6L1366.3 79.6L1372.3 91.4L1378.3 100.8L1384.3 108.3L1390.3 114.1L1396.3 118.3L1402.3 120.5L1408.3 120.9L1414.3 121.2L1420.3 122.2L1426.3 122.7L1432.3 122.3L1438.3 121.9L1444.3 121.7L1450.3 121.5L1456.3 121.3L1462.3 121.3L1468.3 121.6L1474.3 122.1L1480.3 122.8L1486.3 123.6L1492.3 124.8L1498.3 126.6L1504.3 128.5L1510.3 130.2L1516.3 131.7L1522.3 132.8L1528.3 133.7L1534.3 134L1540.3 133.4L1546.3 133.4L1552.3 134.5L1558.3 136L1564.3 137.2L1570.3 138.4L1576.3 139.3L1582.3 140.1L1588.3 140.9L1594.3 141.6L1600.3 142.4L1606.3 142.9L1612.3 143L1618.3 143L1624.3 143L1630.3 143L1636.3 143.4L1642.3 144.7L1648.3 145L1654.3 144.3L1660.3 144.8L1666.3 145.5L1672.3 145.8L1678.3 146L1684.3 146.2L1690.3 146.3L1696.3 146.4L1702.3 146.3L1708.3 146.3L1714.3 146.2L1714.6 146.2L1714.6 153.4L1714.3 153.4L1708.3 153.4L1702.3 153.4L1696.3 153.4L1690.3 153.4L1684.3 153.2L1678.3 153L1672.3 152.7L1666.3 152.3L1660.3 151.6L1654.3 151.1L1648.3 151.7L1642.3 151.4L1636.3 150L1630.3 149.6L1624.3 149.6L1618.3 149.5L1612.3 149.5L1606.3 149.4L1600.3 148.8L1594.3 148L1588.3 147.2L1582.3 146.4L1576.3 145.5L1570.3 144.6L1564.3 143.4L1558.3 142.1L1552.3 140.6L1546.3 139.5L1540.3 139.4L1534.3 139.9L1528.3 139.6L1522.3 138.7L1516.3 137.6L1510.3 136L1504.3 134.3L1498.3 132.4L1492.3 130.6L1486.3 129.3L1480.3 128.4L1474.3 127.7L1468.3 127.1L1462.3 126.8L1456.3 126.8L1450.3 126.9L1444.3 127.1L1438.3 127.4L1432.3 127.7L1426.3 128L1420.3 127.5L1414.3 126.5L1408.3 126.2L1402.3 125.7L1396.3 123.4L1390.3 119.3L1384.3 113.4L1378.3 105.9L1372.3 96.5L1366.3 84.7L1360.3 76.6L1354.3 77.2L1348.3 81L1342.3 88.6L1336.3 92.8L1330.3 93.2L1324.3 96.3L1318.3 98.1L1312.3 99.2L1306.3 98.9L1300.3 97.1L1294.3 94.5L1288.3 90.2L1282.3 84.1L1276.3 80L1270.3 74.8L1264.3 64.8L1258.7 50.2L1253.1 41.5L1248.3 57.2Z" fill="#0000ff" fill-opacity="0.17" stroke="#0000ff" stroke-opacity="0.12" stroke-width="0.6"/>
<path d="M1248.3 54.9L1253.1 39.1L1258.7 47.9C1260.6 52.8 1262.4 58.9 1264.3 62.5C1267 67.9 1269.8 72.5 1272.6 75C1275.4 77.6 1278.2 78.4 1281 80.6C1283.3 82.5 1285.6 85.7 1287.9 87.6C1291.2 90.1 1294.4 92.7 1297.7 93.8C1301.8 95.3 1306 96.9 1310.2 96.9C1314.3 96.9 1318.5 95.7 1322.7 94.5C1325.5 93.8 1328.3 90.9 1331 90.6C1332.9 90.5 1334.8 90.5 1336.6 90.3C1338.5 90.2 1340.3 87.9 1342.2 86.2C1344.5 84.1 1346.8 79.4 1349.1 77.8C1351.9 75.9 1354.7 73.9 1357.5 73.9C1358.9 73.9 1360.3 74.1 1361.7 74.3C1363.5 74.7 1365.4 80.7 1367.2 84.1C1369.5 88.3 1371.9 93.6 1374.2 97.3C1376.5 101 1378.8 104.2 1381.1 107C1383.9 110.5 1386.7 114 1389.5 116.1C1393.7 119.2 1397.8 122.5 1402 123C1406.6 123.6 1411.3 123.5 1415.9 124C1418.7 124.3 1421.5 125.4 1424.3 125.4C1428.4 125.4 1432.6 124.9 1436.8 124.7C1444.7 124.4 1452.6 124 1460.4 124C1467.6 124 1474.8 125 1482 125.8C1485.7 126.3 1489.4 127 1493.1 127.9C1496.4 128.7 1499.6 130.1 1502.9 131C1508.9 132.7 1514.9 134.7 1521 135.6C1525.1 136.2 1529.3 137 1533.5 137C1536.7 137 1540 136.3 1543.2 136.3C1549.2 136.3 1555.3 138.6 1561.3 139.7C1565 140.4 1568.7 141.2 1572.4 141.8C1578.5 142.8 1584.5 143.6 1590.5 144.3C1597 145.1 1603.5 146.3 1610 146.3C1617.4 146.3 1624.8 146.3 1632.3 146.3C1636.9 146.3 1641.5 148.5 1646.2 148.5C1648.5 148.5 1650.8 147.7 1653.1 147.7C1658.2 147.7 1663.3 148.8 1668.4 149.1C1677.2 149.5 1686.1 149.9 1694.9 149.9C1701.4 149.9 1708 149.9 1714.6 149.8" stroke="#2828ff" stroke-width="1.7" stroke-linejoin="round" stroke-opacity="0.92"/>
</g>
<path d="M1295.8 182.7v-4.6M1295.8 23v4.6M1349 182.7v-4.6M1349 23v4.6M1402.3 182.7v-4.6M1402.3 23v4.6M1455.5 182.7v-4.6M1455.5 23v4.6M1508.8 182.7v-4.6M1508.8 23v4.6M1562 182.7v-4.6M1562 23v4.6M1615.3 182.7v-4.6M1615.3 23v4.6M1668.5 182.7v-4.6M1668.5 23v4.6M1248.3 129.6h4.6M1714.6 129.6h-4.6M1248.3 59h4.6M1714.6 59h-4.6M1248.3 178.9h2.6M1714.6 178.9h-2.6M1248.3 166.5h2.6M1714.6 166.5h-2.6M1248.3 157.7h2.6M1714.6 157.7h-2.6M1248.3 150.9h2.6M1714.6 150.9h-2.6M1248.3 145.3h2.6M1714.6 145.3h-2.6M1248.3 140.5h2.6M1714.6 140.5h-2.6M1248.3 136.4h2.6M1714.6 136.4h-2.6M1248.3 132.8h2.6M1714.6 132.8h-2.6M1248.3 108.3h2.6M1714.6 108.3h-2.6M1248.3 95.9h2.6M1714.6 95.9h-2.6M1248.3 87.1h2.6M1714.6 87.1h-2.6M1248.3 80.3h2.6M1714.6 80.3h-2.6M1248.3 74.7h2.6M1714.6 74.7h-2.6M1248.3 69.9h2.6M1714.6 69.9h-2.6M1248.3 65.8h2.6M1714.6 65.8h-2.6M1248.3 62.2h2.6M1714.6 62.2h-2.6M1248.3 37.7h2.6M1714.6 37.7h-2.6M1248.3 25.3h2.6M1714.6 25.3h-2.6" stroke="#3a3a3a" stroke-width="1.4" fill="none"/>
<rect x="1248.3" y="23" width="466.3" height="159.7" fill="none" stroke="#3a3a3a" stroke-width="1.8"/>
<rect x="1255.1" y="137.4" width="62.2" height="39.6" fill="#fff" stroke="#262626" stroke-width="1.3"/>
<rect x="1258.6" y="141.6" width="26" height="12.3" fill="#ffd4d4"/>
<rect x="1258.6" y="160.3" width="26" height="12.3" fill="#d6d6fb"/>
<text x="1288.4" y="153.7" font-size="16.6" fill="#111" textLength="25" lengthAdjust="spacingAndGlyphs">EC</text>
<text x="1288.4" y="172.4" font-size="16.6" fill="#111" textLength="26" lengthAdjust="spacingAndGlyphs">EO</text>
<text transform="translate(1295.8 202.9) scale(1.33 1)" font-size="15" text-anchor="middle" fill="#262626">5</text>
<text transform="translate(1349 202.9) scale(1.33 1)" font-size="15" text-anchor="middle" fill="#262626">10</text>
<text transform="translate(1402.3 202.9) scale(1.33 1)" font-size="15" text-anchor="middle" fill="#262626">15</text>
<text transform="translate(1455.5 202.9) scale(1.33 1)" font-size="15" text-anchor="middle" fill="#262626">20</text>
<text transform="translate(1508.8 202.9) scale(1.33 1)" font-size="15" text-anchor="middle" fill="#262626">25</text>
<text transform="translate(1562 202.9) scale(1.33 1)" font-size="15" text-anchor="middle" fill="#262626">30</text>
<text transform="translate(1615.3 202.9) scale(1.33 1)" font-size="15" text-anchor="middle" fill="#262626">35</text>
<text transform="translate(1668.5 202.9) scale(1.33 1)" font-size="15" text-anchor="middle" fill="#262626">40</text>
<text transform="translate(1481.5 223) scale(1.27 1)" font-size="16.5" text-anchor="middle" fill="#262626">f [Hz]</text>
<text transform="translate(1227.9 67.5) scale(1.33 1)" font-size="15" text-anchor="end">10</text><text transform="translate(1227.7 60) scale(1.3 1)" font-size="12.5">-1</text>
<text transform="translate(1227.9 138.1) scale(1.33 1)" font-size="15" text-anchor="end">10</text><text transform="translate(1227.7 130.6) scale(1.3 1)" font-size="12.5">-2</text>
<text transform="translate(1198.5 102.8) rotate(-90) scale(1 1.28)" font-size="17" text-anchor="middle" textLength="101.5" lengthAdjust="spacingAndGlyphs">PSD [<tspan font-family="Liberation Serif, serif" font-style="italic">μ</tspan>V<tspan dy="-5.5" font-size="12.8">2</tspan><tspan dy="5.5">/Hz]</tspan></text>
<text x="1481.5" y="17.2" font-size="18" text-anchor="middle" font-weight="bold" fill="#000" textLength="403" lengthAdjust="spacingAndGlyphs">Mean PSD | chs: AF8 AF4 F8 F6 F4 F2</text>
</g>
<g>
<clipPath id="ca10"><rect x="161.8" y="254.8" width="466.3" height="159.7"/></clipPath>
<path d="M209.3 254.8V414.5M262.6 254.8V414.5M315.8 254.8V414.5M369.1 254.8V414.5M422.3 254.8V414.5M475.6 254.8V414.5M528.8 254.8V414.5M582 254.8V414.5M161.8 366.6H628.1M161.8 289.4H628.1" stroke="#dedede" stroke-width="1.5" fill="none"/>
<path d="M163.8 407H628.1M163.8 397.3H628.1M163.8 389.8H628.1M163.8 383.7H628.1M163.8 378.6H628.1M163.8 374.1H628.1M163.8 370.1H628.1M163.8 343.4H628.1M163.8 329.8H628.1M163.8 320.1H628.1M163.8 312.6H628.1M163.8 306.5H628.1M163.8 301.4H628.1M163.8 296.9H628.1M163.8 292.9H628.1M163.8 266.2H628.1" stroke="#b2b2b2" stroke-width="1.1" stroke-dasharray="1.5 1.9" fill="none"/>
<path d="M198.7 254.8V414.5M240.7 254.8V414.5M294.5 254.8V414.5M475.6 254.8V414.5" stroke="#aaa" stroke-width="0.7" stroke-dasharray="5 4.6" fill="none"/>
<text x="181.1" y="270.2" font-size="17" text-anchor="middle" font-family="Liberation Serif, serif" fill="#222" font-style="italic" class="g">δ</text>
<text x="223.7" y="270.2" font-size="17" text-anchor="middle" font-family="Liberation Serif, serif" fill="#222" font-style="italic" class="g">θ</text>
<text x="268.4" y="270.2" font-size="17" text-anchor="middle" font-family="Liberation Serif, serif" fill="#222" font-style="italic" class="g">α</text>
<text x="395.1" y="271.7" font-size="17" text-anchor="middle" font-family="Liberation Serif, serif" fill="#222" font-style="italic" class="g">β</text>
<text x="588.4" y="273.2" font-size="17" text-anchor="middle" font-family="Liberation Serif, serif" fill="#222" font-style="italic" class="g">γ</text>
<g clip-path="url(#ca10)" fill="none">
<path d="M161.8 296.4L166.8 280L171.7 289.4L177.3 301.9L183.3 310.7L189.3 315.7L195.3 319.1L201.3 322.9L207.3 326.6L213.3 329.4L219.3 331L225.3 331.1L231.3 328.2L237.3 322.5L243.3 315.4L249.3 303.8L255.3 289L261.3 281.8L267.3 279.3L273.3 281.6L279.3 294.5L285.3 311.6L291.3 327.8L297.3 341.9L303.3 351.2L309.3 355.6L315.3 357.5L321.3 358.2L327.3 358.7L333.3 359L339.3 358.7L345.3 357.4L351.3 356.8L357.3 356.8L363.3 356.8L369.3 356.8L375.3 357.6L381.3 359.1L387.3 361.7L393.3 364.7L399.3 368.1L405.3 371.9L411.3 375.1L417.3 378L423.3 379.9L429.3 381.1L435.3 381.8L441.3 382.3L447.3 382.7L453.3 382.6L459.3 381.8L465.3 381.1L471.3 380.5L477.3 381.9L483.3 384.6L489.3 386.5L495.3 388L501.3 389L507.3 389.7L513.3 390.3L519.3 391.2L525.3 392.6L531.3 394.2L537.3 394.3L543.3 393.6L549.3 393.3L555.3 394.4L561.3 395.6L567.3 396.8L573.3 396.8L579.3 396.2L585.3 396.3L591.3 397.1L597.3 397.2L603.3 396.3L609.3 397.4L615.3 398.1L621.3 397.9L627.3 397.6L628.1 397.5L628.1 407.1L627.3 407.2L621.3 407.5L615.3 407.5L609.3 406.7L603.3 405.6L597.3 406.4L591.3 406.2L585.3 405.3L579.3 405.1L573.3 405.7L567.3 405.5L561.3 404.3L555.3 403L549.3 401.8L543.3 402L537.3 402.6L531.3 402.5L525.3 400.8L519.3 399.3L513.3 398.4L507.3 397.7L501.3 396.9L495.3 395.8L489.3 394.3L483.3 392.3L477.3 389.5L471.3 388.1L465.3 388.6L459.3 389.2L453.3 389.9L447.3 389.9L441.3 389.5L435.3 388.9L429.3 388.1L423.3 386.8L417.3 384.9L411.3 381.9L405.3 378.6L399.3 374.8L393.3 371.4L387.3 368.2L381.3 365.6L375.3 364L369.3 363.1L363.3 363.1L357.3 363L351.3 363L345.3 363.5L339.3 364.7L333.3 365L327.3 364.6L321.3 364.1L315.3 363.3L309.3 361.3L303.3 356.9L297.3 347.5L291.3 333.4L285.3 317.1L279.3 299.9L273.3 287L267.3 284.7L261.3 287L255.3 294.2L249.3 309L243.3 320.5L237.3 327.6L231.3 333.2L225.3 336.1L219.3 335.9L213.3 334.3L207.3 331.4L201.3 327.7L195.3 323.8L189.3 320.4L183.3 315.3L177.3 306.6L171.7 294.1L166.8 284.6L161.8 301Z" fill="#ff0000" fill-opacity="0.17" stroke="#ff0000" stroke-opacity="0.12" stroke-width="0.6"/>
<path d="M161.8 298.7L166.8 282.3L171.7 291.7C173.6 295.9 175.4 301.1 177.3 304.3C180 309 182.8 313 185.6 315.4C189.3 318.6 193 320 196.7 322.3C200.4 324.7 204.2 327.5 207.9 329.3C210.7 330.7 213.4 332.1 216.2 332.8C218.5 333.3 220.9 333.9 223.2 333.9C225.5 333.9 227.8 332.6 230.1 331.4C232.9 330 235.7 326.7 238.5 323.7C240.3 321.8 242.2 319.6 244 316.8C245.9 313.9 247.8 309.8 249.6 305.7C251.5 301.5 253.3 294.8 255.2 291.7C257 288.6 258.9 286.1 260.7 284.8C262.6 283.5 264.4 282 266.3 282C267.7 282 269.1 282 270.5 282C272.3 282 274.2 285.8 276 289C277.9 292.1 279.8 299.2 281.6 304.3C283.5 309.4 285.3 314.6 287.2 319.6C289.5 325.8 291.8 332.4 294.1 337.7C296.4 342.9 298.8 348.7 301.1 351.6C303.4 354.4 305.7 356.6 308 357.8C310.4 359 312.7 360 315 360.3C322 361.3 328.9 362 335.9 362C340.5 362 345.1 359.9 349.8 359.9C355.8 359.9 361.8 359.9 367.9 359.9C371.1 359.9 374.4 360.6 377.6 361.3C383.4 362.5 389.2 366 395 369C399.6 371.3 404.3 374.9 408.9 377.3C413.1 379.4 417.3 381.8 421.4 382.9C425.6 384 429.8 384.8 434 385.2C439.5 385.8 445.1 386.3 450.7 386.3C454.4 386.3 458.1 385.6 461.8 385.2C465.5 384.9 469.2 384.3 472.9 384.3C475.7 384.3 478.5 386.8 481.3 387.7C485.9 389.4 490.5 391 495.2 391.9C503.5 393.6 511.9 393.9 520.2 395.4C524.9 396.2 529.5 398.6 534.1 398.6C538.8 398.6 543.4 397.5 548 397.5C551.8 397.5 555.5 398.9 559.2 399.6C562.9 400.2 566.6 401.4 570.3 401.4C574 401.4 577.7 400.5 581.4 400.5C586.1 400.5 590.7 401.9 595.3 401.9C598.1 401.9 600.9 401 603.7 401C606.9 401 610.2 402.8 613.4 402.8C618.3 402.8 623.2 402.8 628.1 402.3" stroke="#ff2020" stroke-width="1.7" stroke-linejoin="round" stroke-opacity="0.92"/>
<path d="M161.8 288L166.8 270L171.7 279L177.3 295L183.3 304.3L189.3 309.6L195.3 313.3L201.3 318.7L207.3 324.4L213.3 328.3L219.3 330.2L225.3 330.8L231.3 329.5L237.3 326.4L243.3 321.7L249.3 320.6L255.3 316.3L261.3 309.5L267.3 304.6L273.3 304L279.3 309L285.3 319.3L291.3 328.5L297.3 336.8L303.3 344.2L309.3 348.9L315.3 351.8L321.3 353.1L327.3 353.8L333.3 354.1L339.3 354.1L345.3 353.7L351.3 353.5L357.3 353.5L363.3 353.5L369.3 353.6L375.3 353.7L381.3 354.4L387.3 355.7L393.3 356.9L399.3 357.4L405.3 357.8L411.3 359.7L417.3 361.9L423.3 363.9L429.3 365.6L435.3 366.7L441.3 367.6L447.3 368.1L453.3 367.7L459.3 367L465.3 366.9L471.3 366.9L477.3 368.1L483.3 371.3L489.3 373.1L495.3 374.4L501.3 375.3L507.3 375.8L513.3 376.2L519.3 376.5L525.3 376.7L531.3 376.9L537.3 377.1L543.3 377.3L549.3 377.4L555.3 377.4L561.3 377.2L567.3 377.2L573.3 377.4L579.3 377.7L585.3 377.8L591.3 377.9L597.3 378L603.3 378.8L609.3 379.4L615.3 379.5L621.3 379.5L627.3 379.6L628.1 379.5L628.1 386.7L627.3 386.7L621.3 386.7L615.3 386.6L609.3 386.4L603.3 385.9L597.3 385L591.3 384.8L585.3 384.7L579.3 384.6L573.3 384.2L567.3 383.9L561.3 383.9L555.3 384.1L549.3 384.1L543.3 383.9L537.3 383.7L531.3 383.4L525.3 383.2L519.3 382.9L513.3 382.6L507.3 382.2L501.3 381.6L495.3 380.7L489.3 379.3L483.3 377.5L477.3 374.2L471.3 373L465.3 373L459.3 373.1L453.3 373.7L447.3 374L441.3 373.6L435.3 372.6L429.3 371.5L423.3 369.8L417.3 367.7L411.3 365.5L405.3 363.5L399.3 363L393.3 362.5L387.3 361.3L381.3 360L375.3 359.2L369.3 359.1L363.3 359L357.3 358.9L351.3 358.9L345.3 359L339.3 359.5L333.3 359.4L327.3 359L321.3 358.4L315.3 357L309.3 354.1L303.3 349.3L297.3 341.9L291.3 333.5L285.3 324.4L279.3 314.1L273.3 309L267.3 309.6L261.3 314.5L255.3 321.3L249.3 325.5L243.3 326.6L237.3 331.3L231.3 334.3L225.3 335.6L219.3 334.9L213.3 333L207.3 329.1L201.3 323.4L195.3 318L189.3 314.3L183.3 309L177.3 299.6L171.7 283.6L166.8 274.6L161.8 292.6Z" fill="#0000ff" fill-opacity="0.17" stroke="#0000ff" stroke-opacity="0.12" stroke-width="0.6"/>
<path d="M161.8 290.3L166.8 272.3L171.7 281.3C173.6 286.6 175.4 293.7 177.3 297.3C180 302.7 182.8 306.5 185.6 309.1C189.3 312.6 193 313.8 196.7 316.8C200.4 319.7 204.2 324.7 207.9 327.2C210.7 329.1 213.4 331.1 216.2 331.8C219 332.5 221.8 333.2 224.6 333.2C227.3 333.2 230.1 332.3 232.9 331.4C235.7 330.5 238.5 327.7 241.3 325.8C242.7 324.9 244 323 245.4 323C246.8 323 248.2 323 249.6 323C251.5 323 253.3 320.5 255.2 318.9C257.5 316.8 259.8 313.1 262.1 311.2C264.9 309 267.7 305.9 270.5 305.9C272.3 305.9 274.2 306.8 276 307.7C277.9 308.7 279.8 312.5 281.6 315.4C283.5 318.2 285.3 322.2 287.2 325.1C289.5 328.8 291.8 331.7 294.1 334.9C296.9 338.7 299.7 343.2 302.5 346C304.8 348.3 307.1 350.3 309.4 351.6C312.7 353.3 315.9 355 319.2 355.5C325.2 356.3 331.2 356.9 337.3 356.9C341.4 356.9 345.6 356.2 349.8 356.2C358.1 356.2 366.5 356.3 374.8 356.4C381.6 356.6 388.3 359.3 395 359.9C398.2 360.2 401.5 360.2 404.7 360.6C408.4 361 412.2 363.2 415.9 364.4C421 366 426.1 368.1 431.2 369C436.7 369.9 442.3 371 447.9 371C452.5 371 457.1 369.9 461.8 369.9C465.5 369.9 469.2 369.9 472.9 369.9C477.1 369.9 481.3 374.1 485.4 375.2C491.5 376.8 497.5 378.2 503.5 378.7C511.9 379.4 520.2 379.8 528.6 380.1C537.4 380.4 546.2 380.8 555 380.8C558.2 380.8 561.5 380.5 564.7 380.5C570.3 380.5 575.9 381.1 581.4 381.2C586.5 381.3 591.6 381.3 596.7 381.5C600.4 381.6 604.2 382.8 607.9 382.9C614.6 383.1 621.4 383.1 628.1 383.1" stroke="#2828ff" stroke-width="1.7" stroke-linejoin="round" stroke-opacity="0.92"/>
</g>
<path d="M209.3 414.5v-4.6M209.3 254.8v4.6M262.6 414.5v-4.6M262.6 254.8v4.6M315.8 414.5v-4.6M315.8 254.8v4.6M369.1 414.5v-4.6M369.1 254.8v4.6M422.3 414.5v-4.6M422.3 254.8v4.6M475.6 414.5v-4.6M475.6 254.8v4.6M528.8 414.5v-4.6M528.8 254.8v4.6M582 414.5v-4.6M582 254.8v4.6M161.8 366.6h4.6M628.1 366.6h-4.6M161.8 289.4h4.6M628.1 289.4h-4.6M161.8 407h2.6M628.1 407h-2.6M161.8 397.3h2.6M628.1 397.3h-2.6M161.8 389.8h2.6M628.1 389.8h-2.6M161.8 383.7h2.6M628.1 383.7h-2.6M161.8 378.6h2.6M628.1 378.6h-2.6M161.8 374.1h2.6M628.1 374.1h-2.6M161.8 370.1h2.6M628.1 370.1h-2.6M161.8 343.4h2.6M628.1 343.4h-2.6M161.8 329.8h2.6M628.1 329.8h-2.6M161.8 320.1h2.6M628.1 320.1h-2.6M161.8 312.6h2.6M628.1 312.6h-2.6M161.8 306.5h2.6M628.1 306.5h-2.6M161.8 301.4h2.6M628.1 301.4h-2.6M161.8 296.9h2.6M628.1 296.9h-2.6M161.8 292.9h2.6M628.1 292.9h-2.6M161.8 266.2h2.6M628.1 266.2h-2.6" stroke="#3a3a3a" stroke-width="1.4" fill="none"/>
<rect x="161.8" y="254.8" width="466.3" height="159.7" fill="none" stroke="#3a3a3a" stroke-width="1.8"/>
<rect x="168.6" y="369.2" width="62.2" height="39.6" fill="#fff" stroke="#262626" stroke-width="1.3"/>
<rect x="172.1" y="373.4" width="26" height="12.3" fill="#ffd4d4"/>
<rect x="172.1" y="392.1" width="26" height="12.3" fill="#d6d6fb"/>
<text x="201.9" y="385.5" font-size="16.6" fill="#111" textLength="25" lengthAdjust="spacingAndGlyphs">EC</text>
<text x="201.9" y="404.2" font-size="16.6" fill="#111" textLength="26" lengthAdjust="spacingAndGlyphs">EO</text>
<text transform="translate(209.3 434.7) scale(1.33 1)" font-size="15" text-anchor="middle" fill="#262626">5</text>
<text transform="translate(262.6 434.7) scale(1.33 1)" font-size="15" text-anchor="middle" fill="#262626">10</text>
<text transform="translate(315.8 434.7) scale(1.33 1)" font-size="15" text-anchor="middle" fill="#262626">15</text>
<text transform="translate(369.1 434.7) scale(1.33 1)" font-size="15" text-anchor="middle" fill="#262626">20</text>
<text transform="translate(422.3 434.7) scale(1.33 1)" font-size="15" text-anchor="middle" fill="#262626">25</text>
<text transform="translate(475.6 434.7) scale(1.33 1)" font-size="15" text-anchor="middle" fill="#262626">30</text>
<text transform="translate(528.8 434.7) scale(1.33 1)" font-size="15" text-anchor="middle" fill="#262626">35</text>
<text transform="translate(582 434.7) scale(1.33 1)" font-size="15" text-anchor="middle" fill="#262626">40</text>
<text transform="translate(395 454.8) scale(1.27 1)" font-size="16.5" text-anchor="middle" fill="#262626">f [Hz]</text>
<text transform="translate(141.4 297.9) scale(1.33 1)" font-size="15" text-anchor="end">10</text><text transform="translate(141.2 290.4) scale(1.3 1)" font-size="12.5">-1</text>
<text transform="translate(141.4 375.1) scale(1.33 1)" font-size="15" text-anchor="end">10</text><text transform="translate(141.2 367.6) scale(1.3 1)" font-size="12.5">-2</text>
<text transform="translate(112 334.6) rotate(-90) scale(1 1.28)" font-size="17" text-anchor="middle" textLength="101.5" lengthAdjust="spacingAndGlyphs">PSD [<tspan font-family="Liberation Serif, serif" font-style="italic">μ</tspan>V<tspan dy="-5.5" font-size="12.8">2</tspan><tspan dy="5.5">/Hz]</tspan></text>
<text x="395" y="249" font-size="18" text-anchor="middle" font-weight="bold" fill="#000" textLength="441" lengthAdjust="spacingAndGlyphs">Mean PSD | chs: FT7 T7 TP7 FC5 C5 CP5</text>
</g>
<g>
<clipPath id="ca11"><rect x="705" y="254.8" width="466.3" height="159.7"/></clipPath>
<path d="M752.5 254.8V414.5M805.8 254.8V414.5M859 254.8V414.5M912.2 254.8V414.5M965.5 254.8V414.5M1018.8 254.8V414.5M1072 254.8V414.5M1125.2 254.8V414.5M705 348.1H1171.3" stroke="#dedede" stroke-width="1.5" fill="none"/>
<path d="M707 285.2H1171.3M707 410H1171.3" stroke="#b2b2b2" stroke-width="1.1" stroke-dasharray="1.5 1.9" fill="none"/>
<path d="M741.9 254.8V414.5M783.9 254.8V414.5M837.7 254.8V414.5M1018.8 254.8V414.5" stroke="#aaa" stroke-width="0.7" stroke-dasharray="5 4.6" fill="none"/>
<text x="724.3" y="270.2" font-size="17" text-anchor="middle" font-family="Liberation Serif, serif" fill="#222" font-style="italic" class="g">δ</text>
<text x="766.9" y="270.2" font-size="17" text-anchor="middle" font-family="Liberation Serif, serif" fill="#222" font-style="italic" class="g">θ</text>
<text x="811.6" y="270.2" font-size="17" text-anchor="middle" font-family="Liberation Serif, serif" fill="#222" font-style="italic" class="g">α</text>
<text x="938.3" y="271.7" font-size="17" text-anchor="middle" font-family="Liberation Serif, serif" fill="#222" font-style="italic" class="g">β</text>
<text x="1131.6" y="273.2" font-size="17" text-anchor="middle" font-family="Liberation Serif, serif" fill="#222" font-style="italic" class="g">γ</text>
<g clip-path="url(#ca11)" fill="none">
<path d="M705 294.3L710.1 279L715 285.2L719.9 295L725.9 302.7L731.9 307.7L737.9 311.1L743.9 313.5L749.9 315.4L755.9 316.2L761.9 316.6L767.9 316.3L773.9 314.4L779.9 311.4L785.9 304.5L791.9 290.7L797.9 277.1L803.9 271.1L809.9 269.7L815.9 273.1L821.9 285.3L827.9 302.8L833.9 319.7L839.9 332.6L845.9 341.1L851.9 345.2L857.9 346.9L863.9 347.3L869.9 347.5L875.9 347.4L881.9 347L887.9 346.3L893.9 345.1L899.9 343.7L905.9 342.8L911.9 342.2L917.9 343L923.9 345.3L929.9 348L935.9 351.4L941.9 354.8L947.9 358.4L953.9 361.9L959.9 365.5L965.9 368.4L971.9 370.8L977.9 372.6L983.9 373.3L989.9 373.7L995.9 374L1001.9 374.3L1007.9 374.6L1013.9 375.5L1019.9 377.5L1025.9 379.7L1031.9 381.7L1037.9 383.4L1043.9 384.9L1049.9 386.4L1055.9 387.9L1061.9 389.4L1067.9 390.7L1073.9 391.7L1079.9 392.4L1085.9 393.1L1091.9 393.9L1097.9 394.9L1103.9 395.9L1109.9 396.7L1115.9 397.2L1121.9 397.6L1127.9 398.1L1133.9 398.6L1139.9 399.1L1145.9 399.4L1151.9 399.6L1157.9 399.8L1163.9 400.2L1169.9 400.6L1171.3 400.7L1171.3 410.3L1169.9 410.2L1163.9 409.7L1157.9 409.2L1151.9 408.9L1145.9 408.6L1139.9 408.3L1133.9 407.7L1127.9 407.1L1121.9 406.5L1115.9 406L1109.9 405.5L1103.9 404.6L1097.9 403.5L1091.9 402.4L1085.9 401.6L1079.9 400.8L1073.9 400L1067.9 398.9L1061.9 397.5L1055.9 396L1049.9 394.4L1043.9 392.8L1037.9 391.2L1031.9 389.4L1025.9 387.4L1019.9 385.1L1013.9 383L1007.9 382.1L1001.9 381.7L995.9 381.3L989.9 380.9L983.9 380.5L977.9 379.7L971.9 377.8L965.9 375.4L959.9 372.4L953.9 368.7L947.9 365.1L941.9 361.4L935.9 358L929.9 354.6L923.9 351.8L917.9 349.4L911.9 348.5L905.9 349.1L899.9 349.9L893.9 351.2L887.9 352.4L881.9 353L875.9 353.4L869.9 353.4L863.9 353.1L857.9 352.7L851.9 350.9L845.9 346.8L839.9 338.2L833.9 325.2L827.9 308.3L821.9 290.7L815.9 278.4L809.9 275L803.9 276.4L797.9 282.3L791.9 295.9L785.9 309.6L779.9 316.5L773.9 319.4L767.9 321.2L761.9 321.6L755.9 321.1L749.9 320.2L743.9 318.3L737.9 315.8L731.9 312.4L725.9 307.4L719.9 299.6L715 289.9L710.1 283.6L705 298.9Z" fill="#ff0000" fill-opacity="0.17" stroke="#ff0000" stroke-opacity="0.12" stroke-width="0.6"/>
<path d="M705 296.6L710.1 281.3L715 287.6C716.6 290.8 718.2 294.9 719.9 297.3C723.1 302.2 726.4 306 729.6 308.4C733.3 311.3 737 313.2 740.7 314.7C744.4 316.2 748.2 317.7 751.9 318.2C756 318.7 760.2 319.1 764.4 319.1C767.6 319.1 770.9 317.9 774.1 316.8C776.9 315.8 779.7 314.4 782.5 311.9C784.3 310.3 786.2 306.5 788 302.9C789.9 299.2 791.8 293.1 793.6 289C795.5 284.8 797.3 279.9 799.2 277.8C801 275.7 802.9 274.1 804.7 273.4C806.1 272.8 807.5 272.3 808.9 272.3C810.8 272.3 812.6 273.2 814.5 274.3C816.1 275.3 817.7 278.8 819.3 282C821 285.2 822.6 290 824.2 294.5C826.5 300.9 828.9 309.2 831.2 315.4C833.5 321.6 835.8 327.6 838.1 332.1C840.4 336.5 842.8 341 845.1 343.2C847.4 345.5 849.7 347.2 852 348.1C854.4 349 856.7 349.7 859 349.9C863.6 350.2 868.3 350.5 872.9 350.5C877.6 350.5 882.2 350 886.8 349.5C891.5 349 896.1 347.4 900.7 346.7C904.9 346.1 909.1 345.3 913.3 345.3C917 345.3 920.7 347.3 924.4 348.8C929.3 350.7 934.1 353.7 939 356.4C943.6 359 948.3 362.1 952.9 364.8C957.1 367.2 961.3 370 965.4 371.7C970.5 373.8 975.6 376 980.7 376.6C986.3 377.2 991.9 377.3 997.4 377.7C1002.1 378 1006.7 378.1 1011.3 378.7C1013.7 379 1016 380 1018.3 380.8C1022.5 382.1 1026.7 383.9 1030.8 385.2C1037.3 387.3 1043.8 388.9 1050.3 390.5C1057.3 392.3 1064.2 394.2 1071.2 395.4C1078.1 396.6 1085.1 397.1 1092 398.2C1097.6 399 1103.2 400.3 1108.7 401C1114.3 401.6 1119.9 401.9 1125.4 402.3C1130.5 402.8 1135.6 403.4 1140.7 403.7C1145.8 404 1150.9 404.1 1156 404.4C1161.1 404.7 1166.2 405.1 1171.3 405.5" stroke="#ff2020" stroke-width="1.7" stroke-linejoin="round" stroke-opacity="0.92"/>
<path d="M705 281.1L710.1 266.2L715 272.7L719.9 283.2L725.9 290.8L731.9 295.9L737.9 299.5L743.9 303.5L749.9 307.8L755.9 310.6L761.9 312.8L767.9 313.2L773.9 312.7L779.9 311.8L785.9 309.7L791.9 307.4L797.9 303.7L803.9 297.9L809.9 293.8L815.9 293.7L821.9 299.4L827.9 309.8L833.9 319.4L839.9 326.7L845.9 333.2L851.9 337.1L857.9 339.8L863.9 341.7L869.9 342.2L875.9 342.3L881.9 342.3L887.9 342.1L893.9 341.9L899.9 341.9L905.9 342L911.9 342.1L917.9 342.3L923.9 343.1L929.9 344.1L935.9 345.3L941.9 346.5L947.9 347.5L953.9 349.3L959.9 352L965.9 354L971.9 355.5L977.9 356.7L983.9 357.7L989.9 358.5L995.9 359.2L1001.9 359.4L1007.9 359.4L1013.9 359.7L1019.9 361.5L1025.9 363.5L1031.9 365.4L1037.9 366.6L1043.9 367.5L1049.9 368.2L1055.9 368.8L1061.9 369.2L1067.9 369.6L1073.9 370.1L1079.9 370.5L1085.9 370.9L1091.9 371.6L1097.9 372.8L1103.9 373L1109.9 372.9L1115.9 372.9L1121.9 372.9L1127.9 373.1L1133.9 373.6L1139.9 374.2L1145.9 374.5L1151.9 374.7L1157.9 374.9L1163.9 375L1169.9 375.1L1171.3 375.1L1171.3 382.3L1169.9 382.3L1163.9 382.2L1157.9 382L1151.9 381.8L1145.9 381.5L1139.9 381.1L1133.9 380.5L1127.9 380L1121.9 379.8L1115.9 379.7L1109.9 379.7L1103.9 379.7L1097.9 379.5L1091.9 378.3L1085.9 377.5L1079.9 377L1073.9 376.6L1067.9 376.1L1061.9 375.7L1055.9 375.2L1049.9 374.6L1043.9 373.8L1037.9 372.9L1031.9 371.7L1025.9 369.7L1019.9 367.6L1013.9 365.8L1007.9 365.5L1001.9 365.4L995.9 365.2L989.9 364.5L983.9 363.7L977.9 362.6L971.9 361.4L965.9 359.8L959.9 357.8L953.9 355L947.9 353.2L941.9 352.1L935.9 351L929.9 349.7L923.9 348.7L917.9 347.9L911.9 347.6L905.9 347.4L899.9 347.4L893.9 347.3L887.9 347.5L881.9 347.7L875.9 347.6L869.9 347.4L863.9 347L857.9 345L851.9 342.3L845.9 338.3L839.9 331.9L833.9 324.5L827.9 314.8L821.9 304.4L815.9 298.7L809.9 298.8L803.9 302.9L797.9 308.6L791.9 312.3L785.9 314.6L779.9 316.7L773.9 317.5L767.9 318L761.9 317.5L755.9 315.4L749.9 312.5L743.9 308.2L737.9 304.2L731.9 300.6L725.9 295.5L719.9 287.8L715 277.4L710.1 270.8L705 285.7Z" fill="#0000ff" fill-opacity="0.17" stroke="#0000ff" stroke-opacity="0.12" stroke-width="0.6"/>
<path d="M705 283.4L710.1 268.5L715 275C716.6 278.5 718.2 283 719.9 285.5C723.1 290.5 726.4 294 729.6 296.6C733.3 299.6 737 301.1 740.7 303.6C744.4 306 748.2 309.6 751.9 311.2C756.5 313.3 761.1 315.7 765.8 315.7C770.4 315.7 775.1 315 779.7 314.3C782.5 313.8 785.3 312.3 788 311.2C790.4 310.3 792.7 309.7 795 308.4C797.3 307.2 799.6 304.1 802 302.2C804.3 300.2 806.6 297.3 808.9 296.6C810.5 296.1 812.2 295.6 813.8 295.6C815.4 295.6 817 296.8 818.7 298C820.5 299.3 822.4 302.8 824.2 305.7C826.5 309.2 828.9 314.7 831.2 318.2C833.5 321.7 835.8 324.5 838.1 327.2C840.9 330.5 843.7 334.2 846.5 336.3C849.3 338.4 852 340 854.8 341.1C858.5 342.7 862.2 344.4 866 344.6C870.6 344.9 875.2 345 879.9 345C884.5 345 889.1 344.6 893.8 344.6C900.7 344.6 907.7 344.7 914.7 344.9C919.3 345 923.9 346 928.6 346.7C932 347.2 935.5 348.1 939 348.8C942.7 349.5 946.4 349.9 950.1 350.9C954.8 352 959.4 355.1 964 356.4C971.5 358.5 978.9 360.1 986.3 361C990.9 361.6 995.6 362.4 1000.2 362.4C1003.9 362.4 1007.6 362.4 1011.3 362.4C1013.7 362.4 1016 363.5 1018.3 364.1C1023.4 365.5 1028.5 367.9 1033.6 369C1040.1 370.3 1046.6 371.1 1053.1 371.7C1059.1 372.3 1065.1 372.7 1071.2 373.1C1077.2 373.6 1083.2 373.9 1089.3 374.5C1093 374.9 1096.7 376.3 1100.4 376.3C1107.8 376.3 1115.2 376.3 1122.7 376.3C1130.1 376.3 1137.5 377.7 1144.9 378C1153.7 378.3 1162.5 378.7 1171.3 378.7" stroke="#2828ff" stroke-width="1.7" stroke-linejoin="round" stroke-opacity="0.92"/>
</g>
<path d="M752.5 414.5v-4.6M752.5 254.8v4.6M805.8 414.5v-4.6M805.8 254.8v4.6M859 414.5v-4.6M859 254.8v4.6M912.2 414.5v-4.6M912.2 254.8v4.6M965.5 414.5v-4.6M965.5 254.8v4.6M1018.8 414.5v-4.6M1018.8 254.8v4.6M1072 414.5v-4.6M1072 254.8v4.6M1125.2 414.5v-4.6M1125.2 254.8v4.6M705 348.1h4.6M1171.3 348.1h-4.6M705 285.2h2.6M1171.3 285.2h-2.6M705 410h2.6M1171.3 410h-2.6" stroke="#3a3a3a" stroke-width="1.4" fill="none"/>
<rect x="705" y="254.8" width="466.3" height="159.7" fill="none" stroke="#3a3a3a" stroke-width="1.8"/>
<rect x="711.8" y="369.2" width="62.2" height="39.6" fill="#fff" stroke="#262626" stroke-width="1.3"/>
<rect x="715.3" y="373.4" width="26" height="12.3" fill="#ffd4d4"/>
<rect x="715.3" y="392.1" width="26" height="12.3" fill="#d6d6fb"/>
<text x="745.1" y="385.5" font-size="16.6" fill="#111" textLength="25" lengthAdjust="spacingAndGlyphs">EC</text>
<text x="745.1" y="404.2" font-size="16.6" fill="#111" textLength="26" lengthAdjust="spacingAndGlyphs">EO</text>
<text transform="translate(752.5 434.7) scale(1.33 1)" font-size="15" text-anchor="middle" fill="#262626">5</text>
<text transform="translate(805.8 434.7) scale(1.33 1)" font-size="15" text-anchor="middle" fill="#262626">10</text>
<text transform="translate(859 434.7) scale(1.33 1)" font-size="15" text-anchor="middle" fill="#262626">15</text>
<text transform="translate(912.2 434.7) scale(1.33 1)" font-size="15" text-anchor="middle" fill="#262626">20</text>
<text transform="translate(965.5 434.7) scale(1.33 1)" font-size="15" text-anchor="middle" fill="#262626">25</text>
<text transform="translate(1018.8 434.7) scale(1.33 1)" font-size="15" text-anchor="middle" fill="#262626">30</text>
<text transform="translate(1072 434.7) scale(1.33 1)" font-size="15" text-anchor="middle" fill="#262626">35</text>
<text transform="translate(1125.2 434.7) scale(1.33 1)" font-size="15" text-anchor="middle" fill="#262626">40</text>
<text transform="translate(938.1 454.8) scale(1.27 1)" font-size="16.5" text-anchor="middle" fill="#262626">f [Hz]</text>
<text transform="translate(684.6 356.6) scale(1.33 1)" font-size="15" text-anchor="end">10</text><text transform="translate(684.4 349.1) scale(1.3 1)" font-size="12.5">-2</text>
<text transform="translate(655.2 334.6) rotate(-90) scale(1 1.28)" font-size="17" text-anchor="middle" textLength="101.5" lengthAdjust="spacingAndGlyphs">PSD [<tspan font-family="Liberation Serif, serif" font-style="italic">μ</tspan>V<tspan dy="-5.5" font-size="12.8">2</tspan><tspan dy="5.5">/Hz]</tspan></text>
<text x="938.1" y="249" font-size="18" text-anchor="middle" font-weight="bold" fill="#000" textLength="541" lengthAdjust="spacingAndGlyphs">Mean PSD | chs: CZ CPZ FC1 C1 CP1 FC2 C2 CP2</text>
</g>
<g>
<clipPath id="ca12"><rect x="1248.3" y="254.8" width="466.3" height="159.7"/></clipPath>
<path d="M1295.8 254.8V414.5M1349 254.8V414.5M1402.3 254.8V414.5M1455.5 254.8V414.5M1508.8 254.8V414.5M1562 254.8V414.5M1615.3 254.8V414.5M1668.5 254.8V414.5M1248.3 365.2H1714.6M1248.3 288.3H1714.6" stroke="#dedede" stroke-width="1.5" fill="none"/>
<path d="M1250.3 405.4H1714.6M1250.3 395.8H1714.6M1250.3 388.3H1714.6M1250.3 382.3H1714.6M1250.3 377.1H1714.6M1250.3 372.7H1714.6M1250.3 368.7H1714.6M1250.3 342.1H1714.6M1250.3 328.5H1714.6M1250.3 318.9H1714.6M1250.3 311.4H1714.6M1250.3 305.4H1714.6M1250.3 300.2H1714.6M1250.3 295.8H1714.6M1250.3 291.8H1714.6M1250.3 265.2H1714.6" stroke="#b2b2b2" stroke-width="1.1" stroke-dasharray="1.5 1.9" fill="none"/>
<path d="M1285.1 254.8V414.5M1327.2 254.8V414.5M1381 254.8V414.5M1562 254.8V414.5" stroke="#aaa" stroke-width="0.7" stroke-dasharray="5 4.6" fill="none"/>
<text x="1267.6" y="270.2" font-size="17" text-anchor="middle" font-family="Liberation Serif, serif" fill="#222" font-style="italic" class="g">δ</text>
<text x="1310.2" y="270.2" font-size="17" text-anchor="middle" font-family="Liberation Serif, serif" fill="#222" font-style="italic" class="g">θ</text>
<text x="1354.9" y="270.2" font-size="17" text-anchor="middle" font-family="Liberation Serif, serif" fill="#222" font-style="italic" class="g">α</text>
<text x="1481.6" y="271.7" font-size="17" text-anchor="middle" font-family="Liberation Serif, serif" fill="#222" font-style="italic" class="g">β</text>
<text x="1674.9" y="273.2" font-size="17" text-anchor="middle" font-family="Liberation Serif, serif" fill="#222" font-style="italic" class="g">γ</text>
<g clip-path="url(#ca12)" fill="none">
<path d="M1248.3 296.4L1253.1 280L1258 288L1262.9 300.5L1268.9 309.9L1274.9 314.8L1280.9 318.3L1286.9 322L1292.9 325.9L1298.9 328.6L1304.9 330.2L1310.9 330.5L1316.9 328.3L1322.9 323L1328.9 315L1334.9 303.1L1340.9 288.7L1346.9 279.5L1352.9 276.6L1358.9 279.1L1364.9 290.6L1370.9 307.8L1376.9 323.6L1382.9 337.4L1388.9 348.2L1394.9 352.8L1400.9 355.1L1406.9 355.9L1412.9 356.4L1418.9 356.7L1424.9 356.6L1430.9 356.3L1436.9 355.5L1442.9 353.4L1448.9 353.3L1454.9 353.5L1460.9 353.9L1466.9 355.5L1472.9 357.7L1478.9 360.5L1484.9 364L1490.9 368.4L1496.9 372.3L1502.9 375.4L1508.9 377.7L1514.9 379.5L1520.9 380.7L1526.9 381.4L1532.9 381.9L1538.9 382L1544.9 381.8L1550.9 381.5L1556.9 381.2L1562.9 381.9L1568.9 384.8L1574.9 386.7L1580.9 388.1L1586.9 388.8L1592.9 389.2L1598.9 389.6L1604.9 390.5L1610.9 392L1616.9 393.1L1622.9 393.8L1628.9 393.6L1634.9 393.2L1640.9 394.2L1646.9 393.6L1652.9 393.8L1658.9 395.2L1664.9 396.6L1670.9 396.8L1676.9 396.2L1682.9 394.6L1688.9 395.3L1694.9 395.9L1700.9 395.6L1706.9 395.7L1712.9 397L1714.6 397.5L1714.6 407.1L1712.9 406.6L1706.9 405.2L1700.9 405L1694.9 405.2L1688.9 404.5L1682.9 403.8L1676.9 405.3L1670.9 405.8L1664.9 405.5L1658.9 404L1652.9 402.5L1646.9 402.3L1640.9 402.8L1634.9 401.7L1628.9 402.1L1622.9 402.2L1616.9 401.3L1610.9 400.2L1604.9 398.7L1598.9 397.7L1592.9 397.2L1586.9 396.7L1580.9 395.9L1574.9 394.4L1568.9 392.5L1562.9 389.5L1556.9 388.8L1550.9 388.9L1544.9 389.2L1538.9 389.3L1532.9 389.1L1526.9 388.6L1520.9 387.8L1514.9 386.5L1508.9 384.7L1502.9 382.3L1496.9 379.2L1490.9 375.2L1484.9 370.6L1478.9 367.1L1472.9 364.2L1466.9 362L1460.9 360.3L1454.9 359.8L1448.9 359.6L1442.9 359.6L1436.9 361.6L1430.9 362.4L1424.9 362.6L1418.9 362.6L1412.9 362.3L1406.9 361.8L1400.9 360.9L1394.9 358.5L1388.9 353.9L1382.9 343L1376.9 329.1L1370.9 313.3L1364.9 296L1358.9 284.4L1352.9 281.9L1346.9 284.8L1340.9 293.9L1334.9 308.3L1328.9 320.1L1322.9 328.1L1316.9 333.3L1310.9 335.5L1304.9 335.1L1298.9 333.5L1292.9 330.7L1286.9 326.8L1280.9 323.1L1274.9 319.5L1268.9 314.6L1262.9 305.2L1258 292.7L1253.1 284.6L1248.3 301Z" fill="#ff0000" fill-opacity="0.17" stroke="#ff0000" stroke-opacity="0.12" stroke-width="0.6"/>
<path d="M1248.3 298.7L1253.1 282.3L1258 290.3C1259.6 294.5 1261.2 299.7 1262.9 302.9C1265.2 307.3 1267.5 311 1269.8 313.3C1271.7 315.1 1273.5 316.3 1275.4 317.5C1278.2 319.3 1281 320.7 1283.7 322.3C1287.4 324.6 1291.2 327.6 1294.9 329.3C1297.7 330.6 1300.4 331.9 1303.2 332.4C1305.5 332.7 1307.9 333.1 1310.2 333.1C1312.5 333.1 1314.8 331.9 1317.1 330.7C1319.9 329.3 1322.7 325.8 1325.5 322.3C1327.8 319.5 1330.1 315.7 1332.4 311.2C1334.8 306.8 1337.1 299.4 1339.4 294.5C1341.2 290.6 1343.1 286 1345 284.1C1347.3 281.7 1349.6 279.2 1351.9 279.2C1353.8 279.2 1355.6 279.8 1357.5 280.6C1359.3 281.4 1361.2 285.4 1363 289C1364.9 292.6 1366.8 299.2 1368.6 304.3C1370.5 309.4 1372.3 314.8 1374.2 319.6C1376.5 325.5 1378.8 331.2 1381.1 336.3C1383.4 341.3 1385.8 347.5 1388.1 350.2C1390.4 352.8 1392.7 354.6 1395 355.7C1397.4 356.9 1399.7 357.9 1402 358.2C1408 359.1 1414.1 359.6 1420.1 359.6C1424.7 359.6 1429.4 359.5 1434 359.2C1437.2 359 1440.5 356.4 1443.7 356.4C1448.8 356.4 1453.9 356.6 1459 356.9C1462.8 357 1466.5 358.6 1470.2 359.9C1474.1 361.3 1478.1 363.3 1482 365.5C1486.6 368.1 1491.3 372.6 1495.9 375.2C1500.1 377.5 1504.3 379.7 1508.4 381.1C1512.6 382.4 1516.8 383.7 1521 384.3C1526.5 385 1532.1 385.7 1537.7 385.7C1545.1 385.7 1552.5 385 1559.9 385C1562.7 385 1565.5 387.5 1568.3 388.4C1572.9 390 1577.5 391.5 1582.2 392.2C1588.7 393.1 1595.2 393.1 1601.7 394C1605.8 394.6 1610 396.2 1614.2 396.8C1618.3 397.4 1622.5 398.2 1626.7 398.2C1628.6 398.2 1630.4 397.2 1632.3 397.2C1635.5 397.2 1638.8 398.6 1642 398.6C1644.3 398.6 1646.6 397.8 1649 397.8C1655.4 397.8 1661.9 401.4 1668.4 401.4C1670.8 401.4 1673.1 401.2 1675.4 401C1678.2 400.7 1681 399.1 1683.7 399.1C1687 399.1 1690.2 400.5 1693.5 400.5C1697.2 400.5 1700.9 400.3 1704.6 400.3C1707.9 400.3 1711.3 401.3 1714.6 402.3" stroke="#ff2020" stroke-width="1.7" stroke-linejoin="round" stroke-opacity="0.92"/>
<path d="M1248.3 286.7L1253.1 269.3L1258 277.6L1262.9 292.2L1268.9 301.4L1274.9 308.1L1280.9 310.9L1286.9 316.9L1292.9 322.2L1298.9 326.3L1304.9 329.2L1310.9 329.9L1316.9 329.3L1322.9 326.8L1328.9 322.4L1334.9 320.5L1340.9 316.4L1346.9 309L1352.9 303.7L1358.9 301.9L1364.9 304.6L1370.9 313.8L1376.9 324.2L1382.9 333.8L1388.9 342.9L1394.9 346.9L1400.9 349.2L1406.9 350.8L1412.9 351.3L1418.9 351.7L1424.9 351.9L1430.9 351.9L1436.9 351.6L1442.9 351.4L1448.9 351.4L1454.9 351.6L1460.9 351.8L1466.9 352.2L1472.9 353L1478.9 353.9L1484.9 354.7L1490.9 355.5L1496.9 357.5L1502.9 360.4L1508.9 362.5L1514.9 364.4L1520.9 365.5L1526.9 366.2L1532.9 366.4L1538.9 365.6L1544.9 365.2L1550.9 365.2L1556.9 365.5L1562.9 368L1568.9 370.2L1574.9 371.3L1580.9 372.2L1586.9 373L1592.9 373.8L1598.9 374.8L1604.9 375.6L1610.9 375.9L1616.9 375.8L1622.9 375.6L1628.9 375.4L1634.9 375.6L1640.9 376.8L1646.9 376.9L1652.9 376.5L1658.9 376.1L1664.9 376.1L1670.9 377.1L1676.9 378L1682.9 378.4L1688.9 378.6L1694.9 378.4L1700.9 377.9L1706.9 378.1L1712.9 378.9L1714.6 379.3L1714.6 386.5L1712.9 386.1L1706.9 385.3L1700.9 385L1694.9 385.5L1688.9 385.7L1682.9 385.4L1676.9 384.9L1670.9 384L1664.9 382.9L1658.9 382.9L1652.9 383.3L1646.9 383.6L1640.9 383.5L1634.9 382.2L1628.9 382L1622.9 382.1L1616.9 382.3L1610.9 382.3L1604.9 382L1598.9 381.2L1592.9 380.1L1586.9 379.3L1580.9 378.4L1574.9 377.5L1568.9 376.4L1562.9 374.1L1556.9 371.7L1550.9 371.3L1544.9 371.3L1538.9 371.6L1532.9 372.3L1526.9 372.1L1520.9 371.4L1514.9 370.2L1508.9 368.4L1502.9 366.1L1496.9 363.2L1490.9 361.2L1484.9 360.3L1478.9 359.5L1472.9 358.6L1466.9 357.8L1460.9 357.3L1454.9 357.1L1448.9 356.9L1442.9 356.8L1436.9 357L1430.9 357.3L1424.9 357.2L1418.9 357L1412.9 356.6L1406.9 356L1400.9 354.4L1394.9 352.1L1388.9 348L1382.9 338.9L1376.9 329.3L1370.9 318.9L1364.9 309.7L1358.9 306.9L1352.9 308.7L1346.9 314L1340.9 321.3L1334.9 325.4L1328.9 327.2L1322.9 331.6L1316.9 334.1L1310.9 334.7L1304.9 334L1298.9 331L1292.9 326.9L1286.9 321.6L1280.9 315.6L1274.9 312.7L1268.9 306L1262.9 296.8L1258 282.2L1253.1 273.9L1248.3 291.3Z" fill="#0000ff" fill-opacity="0.17" stroke="#0000ff" stroke-opacity="0.12" stroke-width="0.6"/>
<path d="M1248.3 289L1253.1 271.6L1258 279.9C1259.6 284.8 1261.2 291.2 1262.9 294.5C1265.2 299.3 1267.5 301.9 1269.8 305C1271.2 306.8 1272.6 308.8 1274 309.8C1276.3 311.5 1278.6 311.8 1281 313.3C1283.3 314.9 1285.6 318.2 1287.9 320.3C1291.2 323.1 1294.4 326 1297.7 327.9C1300.4 329.5 1303.2 331.4 1306 331.8C1308.3 332.1 1310.6 332.4 1313 332.4C1315.7 332.4 1318.5 331.1 1321.3 330C1324.1 328.9 1326.9 325.6 1329.7 324.4C1332 323.5 1334.3 323.4 1336.6 322.3C1338.5 321.5 1340.3 319.3 1342.2 317.5C1344.5 315.1 1346.8 311 1349.1 309.1C1351.9 306.9 1354.7 304.3 1357.5 304.3C1359.3 304.3 1361.2 304.9 1363 305.7C1364.9 306.4 1366.8 309.9 1368.6 312.6C1370.5 315.3 1372.3 319.2 1374.2 322.3C1376.5 326.2 1378.8 329.9 1381.1 333.5C1383.9 337.8 1386.7 343.6 1389.5 346C1391.8 348 1394.1 349.3 1396.4 350.2C1400.6 351.8 1404.8 353.3 1409 353.7C1415.9 354.2 1422.9 354.6 1429.8 354.6C1434.5 354.6 1439.1 354.1 1443.7 354.1C1449.8 354.1 1455.8 354.3 1461.8 354.6C1468.6 355 1475.3 356.2 1482 357.1C1485.2 357.6 1488.5 357.8 1491.7 358.5C1496.4 359.5 1501 362.8 1505.7 364.4C1510.3 365.9 1514.9 367.6 1519.6 368.3C1523.7 368.8 1527.9 369.4 1532.1 369.4C1535.8 369.4 1539.5 368.3 1543.2 368.3C1546.9 368.3 1550.6 368.3 1554.3 368.3C1559 368.3 1563.6 372.1 1568.3 373.1C1575.7 374.8 1583.1 375.6 1590.5 376.6C1597 377.5 1603.5 379.1 1610 379.1C1617.4 379.1 1624.8 378.7 1632.3 378.7C1636 378.7 1639.7 380.4 1643.4 380.4C1649.9 380.4 1656.4 379.4 1662.9 379.4C1667.5 379.4 1672.1 381.1 1676.8 381.5C1681.4 381.8 1686.1 382.2 1690.7 382.2C1694.4 382.2 1698.1 381.5 1701.8 381.5C1706.1 381.5 1710.3 382 1714.6 382.9" stroke="#2828ff" stroke-width="1.7" stroke-linejoin="round" stroke-opacity="0.92"/>
</g>
<path d="M1295.8 414.5v-4.6M1295.8 254.8v4.6M1349 414.5v-4.6M1349 254.8v4.6M1402.3 414.5v-4.6M1402.3 254.8v4.6M1455.5 414.5v-4.6M1455.5 254.8v4.6M1508.8 414.5v-4.6M1508.8 254.8v4.6M1562 414.5v-4.6M1562 254.8v4.6M1615.3 414.5v-4.6M1615.3 254.8v4.6M1668.5 414.5v-4.6M1668.5 254.8v4.6M1248.3 365.2h4.6M1714.6 365.2h-4.6M1248.3 288.3h4.6M1714.6 288.3h-4.6M1248.3 405.4h2.6M1714.6 405.4h-2.6M1248.3 395.8h2.6M1714.6 395.8h-2.6M1248.3 388.3h2.6M1714.6 388.3h-2.6M1248.3 382.3h2.6M1714.6 382.3h-2.6M1248.3 377.1h2.6M1714.6 377.1h-2.6M1248.3 372.7h2.6M1714.6 372.7h-2.6M1248.3 368.7h2.6M1714.6 368.7h-2.6M1248.3 342.1h2.6M1714.6 342.1h-2.6M1248.3 328.5h2.6M1714.6 328.5h-2.6M1248.3 318.9h2.6M1714.6 318.9h-2.6M1248.3 311.4h2.6M1714.6 311.4h-2.6M1248.3 305.4h2.6M1714.6 305.4h-2.6M1248.3 300.2h2.6M1714.6 300.2h-2.6M1248.3 295.8h2.6M1714.6 295.8h-2.6M1248.3 291.8h2.6M1714.6 291.8h-2.6M1248.3 265.2h2.6M1714.6 265.2h-2.6" stroke="#3a3a3a" stroke-width="1.4" fill="none"/>
<rect x="1248.3" y="254.8" width="466.3" height="159.7" fill="none" stroke="#3a3a3a" stroke-width="1.8"/>
<rect x="1255.1" y="369.2" width="62.2" height="39.6" fill="#fff" stroke="#262626" stroke-width="1.3"/>
<rect x="1258.6" y="373.4" width="26" height="12.3" fill="#ffd4d4"/>
<rect x="1258.6" y="392.1" width="26" height="12.3" fill="#d6d6fb"/>
<text x="1288.4" y="385.5" font-size="16.6" fill="#111" textLength="25" lengthAdjust="spacingAndGlyphs">EC</text>
<text x="1288.4" y="404.2" font-size="16.6" fill="#111" textLength="26" lengthAdjust="spacingAndGlyphs">EO</text>
<text transform="translate(1295.8 434.7) scale(1.33 1)" font-size="15" text-anchor="middle" fill="#262626">5</text>
<text transform="translate(1349 434.7) scale(1.33 1)" font-size="15" text-anchor="middle" fill="#262626">10</text>
<text transform="translate(1402.3 434.7) scale(1.33 1)" font-size="15" text-anchor="middle" fill="#262626">15</text>
<text transform="translate(1455.5 434.7) scale(1.33 1)" font-size="15" text-anchor="middle" fill="#262626">20</text>
<text transform="translate(1508.8 434.7) scale(1.33 1)" font-size="15" text-anchor="middle" fill="#262626">25</text>
<text transform="translate(1562 434.7) scale(1.33 1)" font-size="15" text-anchor="middle" fill="#262626">30</text>
<text transform="translate(1615.3 434.7) scale(1.33 1)" font-size="15" text-anchor="middle" fill="#262626">35</text>
<text transform="translate(1668.5 434.7) scale(1.33 1)" font-size="15" text-anchor="middle" fill="#262626">40</text>
<text transform="translate(1481.5 454.8) scale(1.27 1)" font-size="16.5" text-anchor="middle" fill="#262626">f [Hz]</text>
<text transform="translate(1227.9 296.8) scale(1.33 1)" font-size="15" text-anchor="end">10</text><text transform="translate(1227.7 289.3) scale(1.3 1)" font-size="12.5">-1</text>
<text transform="translate(1227.9 373.7) scale(1.33 1)" font-size="15" text-anchor="end">10</text><text transform="translate(1227.7 366.2) scale(1.3 1)" font-size="12.5">-2</text>
<text transform="translate(1198.5 334.6) rotate(-90) scale(1 1.28)" font-size="17" text-anchor="middle" textLength="101.5" lengthAdjust="spacingAndGlyphs">PSD [<tspan font-family="Liberation Serif, serif" font-style="italic">μ</tspan>V<tspan dy="-5.5" font-size="12.8">2</tspan><tspan dy="5.5">/Hz]</tspan></text>
<text x="1481.5" y="249" font-size="18" text-anchor="middle" font-weight="bold" fill="#000" textLength="440" lengthAdjust="spacingAndGlyphs">Mean PSD | chs: FT8 T8 TP8 FC6 C6 CP6</text>
</g>
<g>
<clipPath id="ca20"><rect x="161.8" y="486.1" width="466.3" height="159.7"/></clipPath>
<path d="M209.3 486.1V645.8M262.6 486.1V645.8M315.8 486.1V645.8M369.1 486.1V645.8M422.3 486.1V645.8M475.6 486.1V645.8M528.8 486.1V645.8M582 486.1V645.8M161.8 586.1H628.1M161.8 519.8H628.1" stroke="#dedede" stroke-width="1.5" fill="none"/>
<path d="M163.8 632.4H628.1M163.8 620.8H628.1M163.8 612.5H628.1M163.8 606.1H628.1M163.8 600.8H628.1M163.8 596.4H628.1M163.8 592.5H628.1M163.8 589.1H628.1M163.8 566.1H628.1M163.8 554.5H628.1M163.8 546.2H628.1M163.8 539.8H628.1M163.8 534.5H628.1M163.8 530.1H628.1M163.8 526.2H628.1M163.8 522.8H628.1M163.8 499.8H628.1M163.8 488.2H628.1" stroke="#b2b2b2" stroke-width="1.1" stroke-dasharray="1.5 1.9" fill="none"/>
<path d="M198.7 486.1V645.8M240.7 486.1V645.8M294.5 486.1V645.8M475.6 486.1V645.8" stroke="#aaa" stroke-width="0.7" stroke-dasharray="5 4.6" fill="none"/>
<text x="181.1" y="501.5" font-size="17" text-anchor="middle" font-family="Liberation Serif, serif" fill="#222" font-style="italic" class="g">δ</text>
<text x="223.7" y="501.5" font-size="17" text-anchor="middle" font-family="Liberation Serif, serif" fill="#222" font-style="italic" class="g">θ</text>
<text x="268.4" y="501.5" font-size="17" text-anchor="middle" font-family="Liberation Serif, serif" fill="#222" font-style="italic" class="g">α</text>
<text x="395.1" y="503" font-size="17" text-anchor="middle" font-family="Liberation Serif, serif" fill="#222" font-style="italic" class="g">β</text>
<text x="588.4" y="504.5" font-size="17" text-anchor="middle" font-family="Liberation Serif, serif" fill="#222" font-style="italic" class="g">γ</text>
<g clip-path="url(#ca20)" fill="none">
<path d="M161.8 538.1L166.8 520.7L171.7 525.6L177.3 536.7L183.3 546.2L189.3 552.6L195.3 556.8L201.3 559.6L207.3 561.5L213.3 562.9L219.3 563.2L225.3 561.3L231.3 556.5L237.3 550.2L243.3 539.6L249.3 522.2L255.3 505.7L261.3 499.3L267.3 498.6L273.3 503.7L279.3 517.9L285.3 536.3L291.3 553.1L297.3 566.3L303.3 574.8L309.3 579.3L315.3 581.4L321.3 582.2L327.3 582.8L333.3 583.1L339.3 583L345.3 582.4L351.3 581L357.3 579L363.3 578L369.3 577.4L375.3 578L381.3 580.7L387.3 583.8L393.3 587.5L399.3 591.8L405.3 596.9L411.3 601.1L417.3 604.6L423.3 607.3L429.3 609.5L435.3 611.1L441.3 611.8L447.3 612.1L453.3 612.1L459.3 611.7L465.3 611.4L471.3 611.1L477.3 612.4L483.3 615.6L489.3 617.4L495.3 618.8L501.3 619.9L507.3 620.9L513.3 621.7L519.3 622.5L525.3 623.2L531.3 623.8L537.3 624.3L543.3 625L549.3 625.7L555.3 626.3L561.3 626.7L567.3 627L573.3 627.1L579.3 627.1L585.3 627.1L591.3 627.1L597.3 627.7L603.3 627.9L609.3 627.5L615.3 627.3L621.3 627.8L627.3 628.9L628.1 629.1L628.1 638.7L627.3 638.5L621.3 637.3L615.3 636.7L609.3 636.8L603.3 637.1L597.3 636.9L591.3 636.2L585.3 636.1L579.3 636L573.3 636L567.3 635.8L561.3 635.4L555.3 634.9L549.3 634.3L543.3 633.4L537.3 632.7L531.3 632.1L525.3 631.4L519.3 630.6L513.3 629.8L507.3 628.9L501.3 627.8L495.3 626.6L489.3 625.1L483.3 623.3L477.3 620L471.3 618.7L465.3 618.8L459.3 619.1L453.3 619.4L447.3 619.4L441.3 618.9L435.3 618.2L429.3 616.6L423.3 614.2L417.3 611.5L411.3 608L405.3 603.7L399.3 598.5L393.3 594.1L387.3 590.3L381.3 587.2L375.3 584.4L369.3 583.8L363.3 584.3L357.3 585.2L351.3 587.2L345.3 588.5L339.3 589L333.3 589L327.3 588.7L321.3 588.1L315.3 587.2L309.3 585L303.3 580.5L297.3 571.9L291.3 558.6L285.3 541.8L279.3 523.4L273.3 509.1L267.3 503.9L261.3 504.5L255.3 510.9L249.3 527.3L243.3 544.7L237.3 555.3L231.3 561.5L225.3 566.3L219.3 568.1L213.3 567.7L207.3 566.4L201.3 564.4L195.3 561.5L189.3 557.3L183.3 550.9L177.3 541.4L171.7 530.2L166.8 525.4L161.8 542.7Z" fill="#ff0000" fill-opacity="0.17" stroke="#ff0000" stroke-opacity="0.12" stroke-width="0.6"/>
<path d="M161.8 540.4L166.8 523L171.7 527.9C173.6 531.6 175.4 535.9 177.3 539C180.5 544.5 183.8 549.9 187 553C190.2 556 193.5 558.3 196.7 559.9C200.4 561.8 204.2 563.2 207.9 564.1C211.1 564.8 214.4 565.8 217.6 565.8C219.5 565.8 221.3 565.3 223.2 564.8C225.5 564.1 227.8 561.8 230.1 559.9C232.4 558 234.8 555.9 237.1 553C239.4 550 241.7 545.7 244 540.4C245.9 536.2 247.8 529.1 249.6 523.7C251.5 518.4 253.3 511.4 255.2 508.4C257 505.5 258.9 503.1 260.7 502.2C262.1 501.5 263.5 500.8 264.9 500.8C266.8 500.8 268.6 501.7 270.5 502.9C272.3 504 274.2 508.1 276 511.9C277.9 515.8 279.8 522.5 281.6 527.9C283.5 533.4 285.3 539.4 287.2 544.6C289.5 551.1 291.8 557.8 294.1 562.7C296.4 567.6 298.8 572.4 301.1 575.2C303.4 578 305.7 580.2 308 581.5C310.4 582.8 312.7 583.9 315 584.3C322 585.4 328.9 586.1 335.9 586.1C339.6 586.1 343.3 585.7 347 585.2C350.7 584.8 354.4 582.5 358.1 581.9C362.8 581.2 367.4 580.5 372 580.5C374.8 580.5 377.6 582.3 380.4 583.6C385.3 585.7 390.1 588.7 395 591.9C399.6 595 404.3 600 408.9 603C413.1 605.8 417.3 608.3 421.4 610C426.5 612.1 431.6 614.3 436.7 614.9C441.4 615.4 446 615.8 450.7 615.8C454.4 615.8 458.1 615.4 461.8 615.3C465.5 615.1 469.2 614.9 472.9 614.9C476.6 614.9 480.3 618.5 484 619.7C488.7 621.2 493.3 622.3 498 623.2C505.4 624.7 512.8 625.8 520.2 626.7C526.7 627.5 533.2 628.1 539.7 628.8C544.8 629.4 549.9 630.2 555 630.6C561 631 567.1 631.6 573.1 631.6C578.7 631.6 584.2 631.6 589.8 631.6C593.5 631.6 597.2 632.5 600.9 632.5C605.6 632.5 610.2 632 614.8 632C619.3 632 623.7 632.9 628.1 633.9" stroke="#ff2020" stroke-width="1.7" stroke-linejoin="round" stroke-opacity="0.92"/>
<path d="M161.8 519.4L166.8 502.7L171.7 510.3L177.3 523.5L183.3 532.1L189.3 536.2L195.3 539.5L201.3 545.1L207.3 550.2L213.3 553.4L219.3 555L225.3 555.4L231.3 553.9L237.3 550.7L243.3 546.6L249.3 543.1L255.3 536.5L261.3 530.2L267.3 526.8L273.3 526.5L279.3 532L285.3 543.1L291.3 551.5L297.3 557.7L303.3 562.8L309.3 567L315.3 569.9L321.3 571.3L327.3 572.5L333.3 574.4L339.3 575.4L345.3 575.6L351.3 575.8L357.3 576.3L363.3 576.7L369.3 576.6L375.3 576.6L381.3 577.5L387.3 579L393.3 581L399.3 582.2L405.3 583.3L411.3 585.4L417.3 588.1L423.3 589.8L429.3 591.3L435.3 592.5L441.3 593.2L447.3 593.4L453.3 593.4L459.3 593.3L465.3 593.7L471.3 594.5L477.3 595.7L483.3 597.3L489.3 598.1L495.3 598.6L501.3 599L507.3 599.4L513.3 599.8L519.3 600.4L525.3 601.6L531.3 601.9L537.3 601.8L543.3 601.8L549.3 602.2L555.3 603.1L561.3 602.7L567.3 602.5L573.3 602.8L579.3 603.2L585.3 603.7L591.3 604.3L597.3 604.8L603.3 605.1L609.3 604.9L615.3 604.5L621.3 604.6L627.3 604.9L628.1 605L628.1 612.2L627.3 612.1L621.3 611.7L615.3 611.6L609.3 611.9L603.3 612.1L597.3 611.8L591.3 611.2L585.3 610.6L579.3 610.1L573.3 609.6L567.3 609.2L561.3 609.5L555.3 609.8L549.3 608.9L543.3 608.4L537.3 608.4L531.3 608.4L525.3 608.1L519.3 606.8L513.3 606.2L507.3 605.8L501.3 605.3L495.3 604.9L489.3 604.3L483.3 603.5L477.3 601.9L471.3 600.6L465.3 599.8L459.3 599.4L453.3 599.4L447.3 599.4L441.3 599.2L435.3 598.4L429.3 597.2L423.3 595.7L417.3 593.9L411.3 591.1L405.3 589L399.3 587.9L393.3 586.6L387.3 584.6L381.3 583.1L375.3 582.2L369.3 582.1L363.3 582.1L357.3 581.8L351.3 581.2L345.3 581L339.3 580.8L333.3 579.7L327.3 577.7L321.3 576.6L315.3 575.1L309.3 572.2L303.3 567.9L297.3 562.8L291.3 556.6L285.3 548.2L279.3 537L273.3 531.5L267.3 531.8L261.3 535.2L255.3 541.4L249.3 548L243.3 551.5L237.3 555.5L231.3 558.7L225.3 560.2L219.3 559.8L213.3 558.2L207.3 555L201.3 549.8L195.3 544.2L189.3 540.9L183.3 536.8L177.3 528.1L171.7 514.9L166.8 507.3L161.8 524Z" fill="#0000ff" fill-opacity="0.17" stroke="#0000ff" stroke-opacity="0.12" stroke-width="0.6"/>
<path d="M161.8 521.7L166.8 505L171.7 512.6C173.6 517 175.4 522.8 177.3 525.8C180.5 531.2 183.8 535.9 187 537.7C188.9 538.7 190.7 538.8 192.6 539.7C194 540.5 195.3 542 196.7 543.2C200.4 546.4 204.2 550.8 207.9 553C211.1 554.8 214.4 556.6 217.6 557.1C219.9 557.5 222.2 557.8 224.6 557.8C227.3 557.8 230.1 556.8 232.9 555.7C235.7 554.7 238.5 551.9 241.3 550.2C244 548.4 246.8 547.5 249.6 545.3C251.5 543.8 253.3 541 255.2 539C257.5 536.6 259.8 533.5 262.1 532.1C264.9 530.4 267.7 528.6 270.5 528.6C272.3 528.6 274.2 529.2 276 530C277.9 530.8 279.8 535.9 281.6 539C283.5 542.2 285.3 546.1 287.2 548.8C289.5 552.1 291.8 554.7 294.1 557.1C296.9 560 299.7 562.7 302.5 564.8C306.7 567.9 310.8 571.1 315 572.4C319.6 573.9 324.3 574.3 328.9 575.5C331.7 576.2 334.5 577.8 337.3 578C341.4 578.3 345.6 578.2 349.8 578.4C354.4 578.6 359.1 579.4 363.7 579.4C367.4 579.4 371.1 579.4 374.8 579.4C378.5 579.4 382.2 580.6 386 581.5C389 582.2 392 583.6 395 584.3C398.7 585.1 402.4 585.4 406.1 586.3C410.8 587.5 415.4 590.7 420 591.9C428.4 594 436.7 596.4 445.1 596.4C449.7 596.4 454.4 596.4 459 596.4C463.6 596.4 468.3 597.1 472.9 597.8C476.6 598.3 480.3 600 484 600.5C490.5 601.5 497 601.8 503.5 602.3C508.2 602.7 512.8 602.9 517.4 603.3C521.1 603.7 524.9 605.1 528.6 605.1C534.1 605.1 539.7 605.1 545.3 605.1C549 605.1 552.7 606.5 556.4 606.5C559.2 606.5 562 605.8 564.7 605.8C570.3 605.8 575.9 606.4 581.4 606.8C588.9 607.3 596.3 608.6 603.7 608.6C608.3 608.6 613 608.1 617.6 608.1C621.1 608.1 624.6 608.3 628.1 608.6" stroke="#2828ff" stroke-width="1.7" stroke-linejoin="round" stroke-opacity="0.92"/>
</g>
<path d="M209.3 645.8v-4.6M209.3 486.1v4.6M262.6 645.8v-4.6M262.6 486.1v4.6M315.8 645.8v-4.6M315.8 486.1v4.6M369.1 645.8v-4.6M369.1 486.1v4.6M422.3 645.8v-4.6M422.3 486.1v4.6M475.6 645.8v-4.6M475.6 486.1v4.6M528.8 645.8v-4.6M528.8 486.1v4.6M582 645.8v-4.6M582 486.1v4.6M161.8 586.1h4.6M628.1 586.1h-4.6M161.8 519.8h4.6M628.1 519.8h-4.6M161.8 632.4h2.6M628.1 632.4h-2.6M161.8 620.8h2.6M628.1 620.8h-2.6M161.8 612.5h2.6M628.1 612.5h-2.6M161.8 606.1h2.6M628.1 606.1h-2.6M161.8 600.8h2.6M628.1 600.8h-2.6M161.8 596.4h2.6M628.1 596.4h-2.6M161.8 592.5h2.6M628.1 592.5h-2.6M161.8 589.1h2.6M628.1 589.1h-2.6M161.8 566.1h2.6M628.1 566.1h-2.6M161.8 554.5h2.6M628.1 554.5h-2.6M161.8 546.2h2.6M628.1 546.2h-2.6M161.8 539.8h2.6M628.1 539.8h-2.6M161.8 534.5h2.6M628.1 534.5h-2.6M161.8 530.1h2.6M628.1 530.1h-2.6M161.8 526.2h2.6M628.1 526.2h-2.6M161.8 522.8h2.6M628.1 522.8h-2.6M161.8 499.8h2.6M628.1 499.8h-2.6M161.8 488.2h2.6M628.1 488.2h-2.6" stroke="#3a3a3a" stroke-width="1.4" fill="none"/>
<rect x="161.8" y="486.1" width="466.3" height="159.7" fill="none" stroke="#3a3a3a" stroke-width="1.8"/>
<rect x="168.6" y="600.5" width="62.2" height="39.6" fill="#fff" stroke="#262626" stroke-width="1.3"/>
<rect x="172.1" y="604.7" width="26" height="12.3" fill="#ffd4d4"/>
<rect x="172.1" y="623.4" width="26" height="12.3" fill="#d6d6fb"/>
<text x="201.9" y="616.8" font-size="16.6" fill="#111" textLength="25" lengthAdjust="spacingAndGlyphs">EC</text>
<text x="201.9" y="635.5" font-size="16.6" fill="#111" textLength="26" lengthAdjust="spacingAndGlyphs">EO</text>
<text transform="translate(209.3 666) scale(1.33 1)" font-size="15" text-anchor="middle" fill="#262626">5</text>
<text transform="translate(262.6 666) scale(1.33 1)" font-size="15" text-anchor="middle" fill="#262626">10</text>
<text transform="translate(315.8 666) scale(1.33 1)" font-size="15" text-anchor="middle" fill="#262626">15</text>
<text transform="translate(369.1 666) scale(1.33 1)" font-size="15" text-anchor="middle" fill="#262626">20</text>
<text transform="translate(422.3 666) scale(1.33 1)" font-size="15" text-anchor="middle" fill="#262626">25</text>
<text transform="translate(475.6 666) scale(1.33 1)" font-size="15" text-anchor="middle" fill="#262626">30</text>
<text transform="translate(528.8 666) scale(1.33 1)" font-size="15" text-anchor="middle" fill="#262626">35</text>
<text transform="translate(582 666) scale(1.33 1)" font-size="15" text-anchor="middle" fill="#262626">40</text>
<text transform="translate(395 686.1) scale(1.27 1)" font-size="16.5" text-anchor="middle" fill="#262626">f [Hz]</text>
<text transform="translate(141.4 528.3) scale(1.33 1)" font-size="15" text-anchor="end">10</text><text transform="translate(141.2 520.8) scale(1.3 1)" font-size="12.5">-1</text>
<text transform="translate(141.4 594.6) scale(1.33 1)" font-size="15" text-anchor="end">10</text><text transform="translate(141.2 587.1) scale(1.3 1)" font-size="12.5">-2</text>
<text transform="translate(112 566) rotate(-90) scale(1 1.28)" font-size="17" text-anchor="middle" textLength="101.5" lengthAdjust="spacingAndGlyphs">PSD [<tspan font-family="Liberation Serif, serif" font-style="italic">μ</tspan>V<tspan dy="-5.5" font-size="12.8">2</tspan><tspan dy="5.5">/Hz]</tspan></text>
<text x="395" y="480.3" font-size="18" text-anchor="middle" font-weight="bold" fill="#000" textLength="382" lengthAdjust="spacingAndGlyphs">Mean PSD | chs: P7 P5 PO7 PO3 P3</text>
</g>
<g>
<clipPath id="ca21"><rect x="705" y="486.1" width="466.3" height="159.7"/></clipPath>
<path d="M752.5 486.1V645.8M805.8 486.1V645.8M859 486.1V645.8M912.2 486.1V645.8M965.5 486.1V645.8M1018.8 486.1V645.8M1072 486.1V645.8M1125.2 486.1V645.8M705 599.6H1171.3M705 525.8H1171.3" stroke="#dedede" stroke-width="1.5" fill="none"/>
<path d="M707 638.2H1171.3M707 629H1171.3M707 621.8H1171.3M707 616H1171.3M707 611H1171.3M707 606.8H1171.3M707 603H1171.3M707 577.4H1171.3M707 564.4H1171.3M707 555.2H1171.3M707 548H1171.3M707 542.2H1171.3M707 537.2H1171.3M707 533H1171.3M707 529.2H1171.3M707 503.6H1171.3M707 490.6H1171.3" stroke="#b2b2b2" stroke-width="1.1" stroke-dasharray="1.5 1.9" fill="none"/>
<path d="M741.9 486.1V645.8M783.9 486.1V645.8M837.7 486.1V645.8M1018.8 486.1V645.8" stroke="#aaa" stroke-width="0.7" stroke-dasharray="5 4.6" fill="none"/>
<text x="724.3" y="501.5" font-size="17" text-anchor="middle" font-family="Liberation Serif, serif" fill="#222" font-style="italic" class="g">δ</text>
<text x="766.9" y="501.5" font-size="17" text-anchor="middle" font-family="Liberation Serif, serif" fill="#222" font-style="italic" class="g">θ</text>
<text x="811.6" y="501.5" font-size="17" text-anchor="middle" font-family="Liberation Serif, serif" fill="#222" font-style="italic" class="g">α</text>
<text x="938.3" y="503" font-size="17" text-anchor="middle" font-family="Liberation Serif, serif" fill="#222" font-style="italic" class="g">β</text>
<text x="1131.6" y="504.5" font-size="17" text-anchor="middle" font-family="Liberation Serif, serif" fill="#222" font-style="italic" class="g">γ</text>
<g clip-path="url(#ca21)" fill="none">
<path d="M705 546.5L710.1 528.4L715 535.3L719.9 547.8L725.9 557.2L731.9 564.3L737.9 570L743.9 573.9L749.9 575.8L755.9 577L761.9 578L767.9 576.5L773.9 573.2L779.9 567.3L785.9 556.1L791.9 535.1L797.9 513.5L803.9 503L809.9 500.9L815.9 506.8L821.9 523.3L827.9 544.8L833.9 564.4L839.9 580.7L845.9 591.4L851.9 596.6L857.9 598.5L863.9 599.7L869.9 600.4L875.9 600.3L881.9 600.3L887.9 598.6L893.9 595.5L899.9 591.2L905.9 589.2L911.9 588.5L917.9 589.4L923.9 592.1L929.9 596.5L935.9 600.4L941.9 604.7L947.9 609.4L953.9 612.7L959.9 615.1L965.9 617.2L971.9 619.1L977.9 620.1L983.9 620.4L989.9 620.5L995.9 620.5L1001.9 620.1L1007.9 619.9L1013.9 620.3L1019.9 620.8L1025.9 621.9L1031.9 622.9L1037.9 623.5L1043.9 624L1049.9 624.4L1055.9 624.6L1061.9 624.8L1067.9 624.9L1073.9 625.2L1079.9 625.8L1085.9 626.3L1091.9 626.3L1097.9 626.3L1103.9 626.7L1109.9 627.5L1115.9 627.8L1121.9 627.5L1127.9 627.1L1133.9 627.2L1139.9 627.9L1145.9 627.8L1151.9 627.4L1157.9 627.3L1163.9 627.8L1169.9 628.8L1171.3 629.1L1171.3 638.7L1169.9 638.4L1163.9 637.3L1157.9 636.7L1151.9 636.8L1145.9 637.1L1139.9 637L1133.9 636.3L1127.9 636.1L1121.9 636.4L1115.9 636.7L1109.9 636.3L1103.9 635.3L1097.9 634.9L1091.9 634.9L1085.9 634.7L1079.9 634.2L1073.9 633.5L1067.9 633.1L1061.9 632.9L1055.9 632.6L1049.9 632.3L1043.9 631.9L1037.9 631.4L1031.9 630.7L1025.9 629.6L1019.9 628.4L1013.9 627.8L1007.9 627.4L1001.9 627.5L995.9 627.8L989.9 627.8L983.9 627.5L977.9 627.2L971.9 626.1L965.9 624.1L959.9 622L953.9 619.5L947.9 616.1L941.9 611.4L935.9 607L929.9 603L923.9 598.6L917.9 595.8L911.9 594.8L905.9 595.5L899.9 597.4L893.9 601.7L887.9 604.6L881.9 606.3L875.9 606.3L869.9 606.3L863.9 605.6L857.9 604.3L851.9 602.3L845.9 597.1L839.9 586.3L833.9 570L827.9 550.3L821.9 528.7L815.9 512.1L809.9 506.2L803.9 508.3L797.9 518.7L791.9 540.3L785.9 561.2L779.9 572.4L773.9 578.2L767.9 581.4L761.9 583L755.9 581.8L749.9 580.6L743.9 578.7L737.9 574.7L731.9 569L725.9 561.9L719.9 552.5L715 540L710.1 533L705 551.1Z" fill="#ff0000" fill-opacity="0.17" stroke="#ff0000" stroke-opacity="0.12" stroke-width="0.6"/>
<path d="M705 548.8L710.1 530.7L715 537.7C716.6 541.8 718.2 547.1 719.9 550.2C723.1 556.3 726.4 560.3 729.6 564.1C732.4 567.3 735.2 570.4 738 572.4C740.7 574.5 743.5 576.4 746.3 577.3C749.1 578.2 751.9 578.5 754.7 579.1C757 579.6 759.3 580.5 761.6 580.5C763.9 580.5 766.2 579.6 768.6 578.7C771.3 577.7 774.1 575.7 776.9 573.1C779.2 571 781.6 567.8 783.9 563.4C785.7 559.9 787.6 553.6 789.4 547.4C791.3 541.2 793.1 531.2 795 525.1C796.9 519.1 798.7 512.8 800.6 509.8C802 507.6 803.3 505.9 804.7 505C805.9 504.1 807.1 503.1 808.2 503.1C809.8 503.1 811.5 504.4 813.1 505.7C814.9 507.1 816.8 511.1 818.7 515.4C820.5 519.7 822.4 528.5 824.2 534.9C826.5 542.9 828.9 551.1 831.2 558.5C833.5 565.9 835.8 573.8 838.1 579.4C840.4 585 842.8 590.4 845.1 593.3C847.4 596.2 849.7 598.5 852 599.6C854.4 600.6 856.7 601.2 859 601.7C862.7 602.4 866.4 603.3 870.1 603.3C873.8 603.3 877.6 603.3 881.3 603.3C884.5 603.3 887.8 601.6 891 600.3C894.7 598.7 898.4 594.3 902.1 593.3C905.4 592.4 908.6 591.6 911.9 591.6C914.7 591.6 917.4 592.4 920.2 593.3C923 594.2 925.8 597 928.6 598.9C932 601.2 935.5 603.4 939 605.8C942.7 608.4 946.4 612.1 950.1 614.2C953.8 616.2 957.6 617.8 961.3 619C966.8 621 972.4 623.3 978 623.6C983.5 624 989.1 624.2 994.7 624.2C998.4 624.2 1002.1 623.6 1005.8 623.6C1010.4 623.6 1015.1 624.1 1019.7 624.6C1023.4 625 1027.1 626.2 1030.8 626.7C1037.3 627.5 1043.8 628 1050.3 628.4C1057.3 628.7 1064.2 628.8 1071.2 629.2C1077.2 629.5 1083.2 630.6 1089.3 630.6C1092.5 630.6 1095.8 630.6 1099 630.6C1104.1 630.6 1109.2 632.3 1114.3 632.3C1119.9 632.3 1125.4 631.6 1131 631.6C1134.7 631.6 1138.4 632.5 1142.1 632.5C1146.8 632.5 1151.4 632 1156 632C1161.1 632 1166.2 632.8 1171.3 633.9" stroke="#ff2020" stroke-width="1.7" stroke-linejoin="round" stroke-opacity="0.92"/>
<path d="M705 522.8L710.1 506.1L715 513.1L719.9 527L725.9 538.8L731.9 545.7L737.9 549.5L743.9 555.9L749.9 562.3L755.9 566.6L761.9 569.4L767.9 570.7L773.9 569.4L779.9 566.8L785.9 562.4L791.9 556.2L797.9 547L803.9 538.7L809.9 535.1L815.9 535.5L821.9 544.2L827.9 556.7L833.9 566.1L839.9 573.2L845.9 579.1L851.9 583.1L857.9 585.9L863.9 587.2L869.9 588.1L875.9 589.3L881.9 590.4L887.9 590L893.9 589.6L899.9 589.6L905.9 589.6L911.9 589.4L917.9 589.2L923.9 589.6L929.9 590.5L935.9 591.3L941.9 592.4L947.9 593.8L953.9 595.1L959.9 596.4L965.9 597.6L971.9 598.5L977.9 599.1L983.9 599.6L989.9 599.8L995.9 599.5L1001.9 599.3L1007.9 599.5L1013.9 599.8L1019.9 600.4L1025.9 601.4L1031.9 601.8L1037.9 602.2L1043.9 602.5L1049.9 602.8L1055.9 603.2L1061.9 603.6L1067.9 603.9L1073.9 604L1079.9 603.8L1085.9 603.7L1091.9 603.8L1097.9 604.7L1103.9 604.6L1109.9 604.3L1115.9 604.4L1121.9 604.6L1127.9 604.9L1133.9 605.6L1139.9 606L1145.9 606.1L1151.9 606.2L1157.9 605.7L1163.9 605.5L1169.9 605.7L1171.3 605.8L1171.3 613L1169.9 612.9L1163.9 612.6L1157.9 612.8L1151.9 613.3L1145.9 613.2L1139.9 612.9L1133.9 612.6L1127.9 611.8L1121.9 611.4L1115.9 611.2L1109.9 611L1103.9 611.3L1097.9 611.4L1091.9 610.4L1085.9 610.3L1079.9 610.4L1073.9 610.5L1067.9 610.4L1061.9 610L1055.9 609.6L1049.9 609.2L1043.9 608.8L1037.9 608.5L1031.9 608.1L1025.9 607.6L1019.9 606.5L1013.9 605.9L1007.9 605.6L1001.9 605.4L995.9 605.5L989.9 605.7L983.9 605.5L977.9 605L971.9 604.4L965.9 603.4L959.9 602.1L953.9 600.8L947.9 599.5L941.9 598.1L935.9 597L929.9 596.1L923.9 595.1L917.9 594.7L911.9 595L905.9 595.1L899.9 595L893.9 595L887.9 595.3L881.9 595.7L875.9 594.6L869.9 593.3L863.9 592.5L857.9 591.1L851.9 588.3L845.9 584.3L839.9 578.4L833.9 571.1L827.9 561.8L821.9 549.3L815.9 540.5L809.9 540.1L803.9 543.6L797.9 551.9L791.9 561.1L785.9 567.2L779.9 571.6L773.9 574.2L767.9 575.5L761.9 574.2L755.9 571.4L749.9 567L743.9 560.6L737.9 554.2L731.9 550.4L725.9 543.4L719.9 531.6L715 517.7L710.1 510.7L705 527.4Z" fill="#0000ff" fill-opacity="0.17" stroke="#0000ff" stroke-opacity="0.12" stroke-width="0.6"/>
<path d="M705 525.1L710.1 508.4L715 515.4C716.6 520 718.2 525.5 719.9 529.3C721.7 533.7 723.6 537.6 725.4 540.4C727.3 543.3 729.1 545.8 731 547.4C732.9 548.9 734.7 549.5 736.6 550.9C738 551.9 739.3 553 740.7 554.3C742.6 556.2 744.4 559.4 746.3 561.3C749.1 564.1 751.9 566.5 754.7 568.3C757 569.7 759.3 571 761.6 571.7C763.5 572.3 765.3 573.1 767.2 573.1C769.5 573.1 771.8 572.4 774.1 571.7C776.9 571 779.7 569.4 782.5 567.6C784.3 566.4 786.2 564.5 788 562.7C789.9 560.9 791.8 558.9 793.6 556.4C795.5 554 797.3 550 799.2 547.4C801 544.8 802.9 541.6 804.7 540.4C807.5 538.6 810.3 537 813.1 537C814.9 537 816.8 538.6 818.7 540.4C820.5 542.2 822.4 548.6 824.2 552.3C826.5 556.8 828.9 561.3 831.2 564.8C833.5 568.3 835.8 571.2 838.1 573.8C840.9 577 843.7 580.2 846.5 582.2C850.7 585.1 854.8 587.8 859 588.9C863.6 590.1 868.3 590.3 872.9 591.2C875.7 591.8 878.5 593 881.3 593C885.4 593 889.6 592.3 893.8 592.3C898.4 592.3 903.1 592.3 907.7 592.3C911.4 592.3 915.1 591.9 918.8 591.9C922.5 591.9 926.2 592.8 930 593.3C933 593.7 936 594.2 939 594.7C943.6 595.5 948.3 596.8 952.9 597.8C959.9 599.2 966.8 601 973.8 601.7C979.3 602.2 984.9 602.8 990.5 602.8C993.7 602.8 997 602.3 1000.2 602.3C1005.8 602.3 1011.3 602.6 1016.9 603C1019.7 603.2 1022.5 604.2 1025.3 604.4C1032.7 605.2 1040.1 605.4 1047.5 605.8C1055.9 606.3 1064.2 607.2 1072.6 607.2C1078.1 607.2 1083.7 606.9 1089.3 606.9C1093 606.9 1096.7 608.2 1100.4 608.2C1103.2 608.2 1106 607.6 1108.7 607.6C1114.3 607.6 1119.9 607.9 1125.4 608.2C1129.1 608.4 1132.9 609.1 1136.6 609.3C1141.7 609.5 1146.8 609.7 1151.9 609.7C1155.1 609.7 1158.4 609 1161.6 609C1164.8 609 1168.1 609.1 1171.3 609.4" stroke="#2828ff" stroke-width="1.7" stroke-linejoin="round" stroke-opacity="0.92"/>
</g>
<path d="M752.5 645.8v-4.6M752.5 486.1v4.6M805.8 645.8v-4.6M805.8 486.1v4.6M859 645.8v-4.6M859 486.1v4.6M912.2 645.8v-4.6M912.2 486.1v4.6M965.5 645.8v-4.6M965.5 486.1v4.6M1018.8 645.8v-4.6M1018.8 486.1v4.6M1072 645.8v-4.6M1072 486.1v4.6M1125.2 645.8v-4.6M1125.2 486.1v4.6M705 599.6h4.6M1171.3 599.6h-4.6M705 525.8h4.6M1171.3 525.8h-4.6M705 638.2h2.6M1171.3 638.2h-2.6M705 629h2.6M1171.3 629h-2.6M705 621.8h2.6M1171.3 621.8h-2.6M705 616h2.6M1171.3 616h-2.6M705 611h2.6M1171.3 611h-2.6M705 606.8h2.6M1171.3 606.8h-2.6M705 603h2.6M1171.3 603h-2.6M705 577.4h2.6M1171.3 577.4h-2.6M705 564.4h2.6M1171.3 564.4h-2.6M705 555.2h2.6M1171.3 555.2h-2.6M705 548h2.6M1171.3 548h-2.6M705 542.2h2.6M1171.3 542.2h-2.6M705 537.2h2.6M1171.3 537.2h-2.6M705 533h2.6M1171.3 533h-2.6M705 529.2h2.6M1171.3 529.2h-2.6M705 503.6h2.6M1171.3 503.6h-2.6M705 490.6h2.6M1171.3 490.6h-2.6" stroke="#3a3a3a" stroke-width="1.4" fill="none"/>
<rect x="705" y="486.1" width="466.3" height="159.7" fill="none" stroke="#3a3a3a" stroke-width="1.8"/>
<rect x="711.8" y="600.5" width="62.2" height="39.6" fill="#fff" stroke="#262626" stroke-width="1.3"/>
<rect x="715.3" y="604.7" width="26" height="12.3" fill="#ffd4d4"/>
<rect x="715.3" y="623.4" width="26" height="12.3" fill="#d6d6fb"/>
<text x="745.1" y="616.8" font-size="16.6" fill="#111" textLength="25" lengthAdjust="spacingAndGlyphs">EC</text>
<text x="745.1" y="635.5" font-size="16.6" fill="#111" textLength="26" lengthAdjust="spacingAndGlyphs">EO</text>
<text transform="translate(752.5 666) scale(1.33 1)" font-size="15" text-anchor="middle" fill="#262626">5</text>
<text transform="translate(805.8 666) scale(1.33 1)" font-size="15" text-anchor="middle" fill="#262626">10</text>
<text transform="translate(859 666) scale(1.33 1)" font-size="15" text-anchor="middle" fill="#262626">15</text>
<text transform="translate(912.2 666) scale(1.33 1)" font-size="15" text-anchor="middle" fill="#262626">20</text>
<text transform="translate(965.5 666) scale(1.33 1)" font-size="15" text-anchor="middle" fill="#262626">25</text>
<text transform="translate(1018.8 666) scale(1.33 1)" font-size="15" text-anchor="middle" fill="#262626">30</text>
<text transform="translate(1072 666) scale(1.33 1)" font-size="15" text-anchor="middle" fill="#262626">35</text>
<text transform="translate(1125.2 666) scale(1.33 1)" font-size="15" text-anchor="middle" fill="#262626">40</text>
<text transform="translate(938.1 686.1) scale(1.27 1)" font-size="16.5" text-anchor="middle" fill="#262626">f [Hz]</text>
<text transform="translate(684.6 534.3) scale(1.33 1)" font-size="15" text-anchor="end">10</text><text transform="translate(684.4 526.8) scale(1.3 1)" font-size="12.5">-1</text>
<text transform="translate(684.6 608.1) scale(1.33 1)" font-size="15" text-anchor="end">10</text><text transform="translate(684.4 600.6) scale(1.3 1)" font-size="12.5">-2</text>
<text transform="translate(655.2 566) rotate(-90) scale(1 1.28)" font-size="17" text-anchor="middle" textLength="101.5" lengthAdjust="spacingAndGlyphs">PSD [<tspan font-family="Liberation Serif, serif" font-style="italic">μ</tspan>V<tspan dy="-5.5" font-size="12.8">2</tspan><tspan dy="5.5">/Hz]</tspan></text>
<text x="938.1" y="480.3" font-size="18" text-anchor="middle" font-weight="bold" fill="#000" textLength="343" lengthAdjust="spacingAndGlyphs">Mean PSD | chs: POZ OZ O1 O2</text>
</g>
<g>
<clipPath id="ca22"><rect x="1248.3" y="486.1" width="466.3" height="159.7"/></clipPath>
<path d="M1295.8 486.1V645.8M1349 486.1V645.8M1402.3 486.1V645.8M1455.5 486.1V645.8M1508.8 486.1V645.8M1562 486.1V645.8M1615.3 486.1V645.8M1668.5 486.1V645.8M1248.3 586.3H1714.6M1248.3 522.3H1714.6" stroke="#dedede" stroke-width="1.5" fill="none"/>
<path d="M1250.3 631H1714.6M1250.3 619.8H1714.6M1250.3 611.8H1714.6M1250.3 605.6H1714.6M1250.3 600.5H1714.6M1250.3 596.2H1714.6M1250.3 592.5H1714.6M1250.3 589.2H1714.6M1250.3 567H1714.6M1250.3 555.8H1714.6M1250.3 547.8H1714.6M1250.3 541.6H1714.6M1250.3 536.5H1714.6M1250.3 532.2H1714.6M1250.3 528.5H1714.6M1250.3 525.2H1714.6M1250.3 503H1714.6M1250.3 491.8H1714.6" stroke="#b2b2b2" stroke-width="1.1" stroke-dasharray="1.5 1.9" fill="none"/>
<path d="M1285.1 486.1V645.8M1327.2 486.1V645.8M1381 486.1V645.8M1562 486.1V645.8" stroke="#aaa" stroke-width="0.7" stroke-dasharray="5 4.6" fill="none"/>
<text x="1267.6" y="501.5" font-size="17" text-anchor="middle" font-family="Liberation Serif, serif" fill="#222" font-style="italic" class="g">δ</text>
<text x="1310.2" y="501.5" font-size="17" text-anchor="middle" font-family="Liberation Serif, serif" fill="#222" font-style="italic" class="g">θ</text>
<text x="1354.9" y="501.5" font-size="17" text-anchor="middle" font-family="Liberation Serif, serif" fill="#222" font-style="italic" class="g">α</text>
<text x="1481.6" y="503" font-size="17" text-anchor="middle" font-family="Liberation Serif, serif" fill="#222" font-style="italic" class="g">β</text>
<text x="1674.9" y="504.5" font-size="17" text-anchor="middle" font-family="Liberation Serif, serif" fill="#222" font-style="italic" class="g">γ</text>
<g clip-path="url(#ca22)" fill="none">
<path d="M1248.3 542.3L1253.1 526.3L1258 532.6L1262.9 540.9L1268.9 550.7L1274.9 557.8L1280.9 562.8L1286.9 565.8L1292.9 567.3L1298.9 568.1L1304.9 568.6L1310.9 567.1L1316.9 564.4L1322.9 559.2L1328.9 549L1334.9 531.6L1340.9 511.9L1346.9 501L1352.9 498.2L1358.9 501.6L1364.9 515.1L1370.9 534.9L1376.9 552L1382.9 566.7L1388.9 577.4L1394.9 582L1400.9 584.3L1406.9 585.4L1412.9 585.9L1418.9 586.1L1424.9 586.1L1430.9 584.9L1436.9 583.1L1442.9 580.9L1448.9 579L1454.9 577.9L1460.9 578.9L1466.9 581.7L1472.9 586L1478.9 589.4L1484.9 593.7L1490.9 599.2L1496.9 603.7L1502.9 607.3L1508.9 609.8L1514.9 611.6L1520.9 612.8L1526.9 613.6L1532.9 614.1L1538.9 614.3L1544.9 614.4L1550.9 614.6L1556.9 614.8L1562.9 616L1568.9 617.4L1574.9 618.4L1580.9 619.2L1586.9 620.1L1592.9 621L1598.9 622.1L1604.9 623L1610.9 623.7L1616.9 624.2L1622.9 624.8L1628.9 625.9L1634.9 626.6L1640.9 626.7L1646.9 626.8L1652.9 626.9L1658.9 627.1L1664.9 627.3L1670.9 627.6L1676.9 627.9L1682.9 628.2L1688.9 628.6L1694.9 628.9L1700.9 629.2L1706.9 629.5L1712.9 629.9L1714.6 630L1714.6 639.6L1712.9 639.4L1706.9 639L1700.9 638.6L1694.9 638.2L1688.9 637.8L1682.9 637.4L1676.9 637L1670.9 636.6L1664.9 636.3L1658.9 635.9L1652.9 635.6L1646.9 635.4L1640.9 635.3L1634.9 635.1L1628.9 634.3L1622.9 633.2L1616.9 632.5L1610.9 631.9L1604.9 631.1L1598.9 630.1L1592.9 629L1586.9 628L1580.9 627.1L1574.9 626.1L1568.9 625.1L1562.9 623.6L1556.9 622.4L1550.9 622L1544.9 621.8L1538.9 621.6L1532.9 621.3L1526.9 620.8L1520.9 619.9L1514.9 618.6L1508.9 616.7L1502.9 614.2L1496.9 610.5L1490.9 606L1484.9 600.4L1478.9 596L1472.9 592.5L1466.9 588.2L1460.9 585.3L1454.9 584.2L1448.9 585.3L1442.9 587.1L1436.9 589.2L1430.9 591L1424.9 592.1L1418.9 592L1412.9 591.8L1406.9 591.2L1400.9 590.1L1394.9 587.7L1388.9 583.1L1382.9 572.3L1376.9 557.6L1370.9 540.4L1364.9 520.5L1358.9 507L1352.9 503.5L1346.9 506.3L1340.9 517.1L1334.9 536.7L1328.9 554.1L1322.9 564.3L1316.9 569.4L1310.9 572.1L1304.9 573.5L1298.9 572.9L1292.9 572.2L1286.9 570.6L1280.9 567.5L1274.9 562.5L1268.9 555.4L1262.9 545.5L1258 537.2L1253.1 530.9L1248.3 546.9Z" fill="#ff0000" fill-opacity="0.17" stroke="#ff0000" stroke-opacity="0.12" stroke-width="0.6"/>
<path d="M1248.3 544.6L1253.1 528.6L1258 534.9C1259.6 537.7 1261.2 540.5 1262.9 543.2C1265.2 547.1 1267.5 551.3 1269.8 554.3C1271.7 556.8 1273.5 558.9 1275.4 560.6C1278.2 563.1 1281 565.5 1283.7 566.9C1286.1 568 1288.4 568.9 1290.7 569.4C1293 569.8 1295.3 570.1 1297.7 570.3C1300 570.6 1302.3 571 1304.6 571C1306.9 571 1309.2 570.1 1311.6 569.4C1314.3 568.5 1317.1 567 1319.9 564.8C1322.2 563 1324.6 559.8 1326.9 555.7C1328.7 552.5 1330.6 547.1 1332.4 541.8C1334.3 536.6 1336.1 529.5 1338 523.7C1339.4 519.4 1340.8 514 1342.2 511.2C1344 507.4 1345.9 504.2 1347.7 502.9C1349.1 501.9 1350.5 500.8 1351.9 500.8C1353.8 500.8 1355.6 501.7 1357.5 502.9C1359.3 504 1361.2 508.4 1363 512.6C1364.9 516.8 1366.8 524.9 1368.6 530.7C1370.5 536.5 1372.3 542.2 1374.2 547.4C1376.5 553.9 1378.8 560.2 1381.1 565.5C1383.4 570.7 1385.8 576.7 1388.1 579.4C1390.4 582 1392.7 583.8 1395 585C1397.4 586.1 1399.7 587 1402 587.5C1405.7 588.2 1409.4 588.7 1413.1 588.9C1416.8 589 1420.6 589.1 1424.3 589.1C1427.5 589.1 1430.8 587.9 1434 587C1437.7 586.1 1441.4 584.3 1445.1 583.3C1448.4 582.4 1451.6 581.1 1454.9 581.1C1457.7 581.1 1460.4 582 1463.2 582.9C1466 583.8 1468.8 586.7 1471.6 588.4C1475 590.6 1478.5 592.2 1482 594.7C1485.7 597.3 1489.4 601.7 1493.1 604.4C1496.8 607.1 1500.6 609.8 1504.3 611.4C1508.9 613.4 1513.5 615 1518.2 615.8C1522.8 616.7 1527.4 617.4 1532.1 617.7C1535.8 617.9 1539.5 617.9 1543.2 618.1C1547.9 618.2 1552.5 618.3 1557.1 618.6C1560.8 618.9 1564.6 620.4 1568.3 621.1C1575.7 622.5 1583.1 623.4 1590.5 624.6C1596.1 625.5 1601.7 626.7 1607.2 627.4C1611.9 628 1616.5 628.2 1621.1 628.8C1625.8 629.3 1630.4 630.7 1635 630.9C1639.7 631 1644.3 631 1649 631.1C1655.4 631.3 1661.9 631.7 1668.4 632C1674 632.3 1679.6 632.6 1685.1 633C1690.7 633.3 1696.3 633.6 1701.8 633.9C1706.1 634.2 1710.3 634.5 1714.6 634.8" stroke="#ff2020" stroke-width="1.7" stroke-linejoin="round" stroke-opacity="0.92"/>
<path d="M1248.3 521.4L1253.1 505.9L1258 513.1L1262.9 525.6L1268.9 535.1L1274.9 539.2L1280.9 541.9L1286.9 548.3L1292.9 553.7L1298.9 557.3L1304.9 559L1310.9 559.9L1316.9 559.2L1322.9 557.2L1328.9 553.3L1334.9 546.6L1340.9 537.8L1346.9 529.7L1352.9 525.2L1358.9 525.1L1364.9 531.9L1370.9 542.6L1376.9 551.1L1382.9 557.9L1388.9 563.8L1394.9 568.3L1400.9 571.2L1406.9 573.4L1412.9 574.9L1418.9 576.1L1424.9 576.8L1430.9 577.1L1436.9 577.4L1442.9 577.7L1448.9 578L1454.9 578.1L1460.9 578.3L1466.9 579L1472.9 580.5L1478.9 582L1484.9 583.5L1490.9 585L1496.9 586.7L1502.9 588.6L1508.9 590.1L1514.9 591.4L1520.9 592.5L1526.9 592.8L1532.9 592.7L1538.9 592.5L1544.9 592.4L1550.9 592.4L1556.9 592.3L1562.9 592.7L1568.9 594.5L1574.9 595.8L1580.9 596.7L1586.9 597.2L1592.9 597.5L1598.9 597.7L1604.9 597.9L1610.9 598.3L1616.9 598.9L1622.9 599L1628.9 598.5L1634.9 598.6L1640.9 599.8L1646.9 599.9L1652.9 599.5L1658.9 599.4L1664.9 599.6L1670.9 599.9L1676.9 600.3L1682.9 600.6L1688.9 600.9L1694.9 601L1700.9 601.1L1706.9 601.2L1712.9 601.5L1714.6 601.5L1714.6 608.7L1712.9 608.6L1706.9 608.4L1700.9 608.2L1694.9 608.1L1688.9 607.9L1682.9 607.6L1676.9 607.2L1670.9 606.8L1664.9 606.4L1658.9 606.2L1652.9 606.3L1646.9 606.6L1640.9 606.4L1634.9 605.2L1628.9 605.1L1622.9 605.6L1616.9 605.4L1610.9 604.8L1604.9 604.3L1598.9 604.1L1592.9 603.8L1586.9 603.5L1580.9 603L1574.9 602L1568.9 600.7L1562.9 598.8L1556.9 598.5L1550.9 598.4L1544.9 598.4L1538.9 598.5L1532.9 598.7L1526.9 598.8L1520.9 598.4L1514.9 597.3L1508.9 595.9L1502.9 594.4L1496.9 592.4L1490.9 590.7L1484.9 589.2L1478.9 587.6L1472.9 586.1L1466.9 584.6L1460.9 583.8L1454.9 583.6L1448.9 583.4L1442.9 583.1L1436.9 582.8L1430.9 582.5L1424.9 582.1L1418.9 581.4L1412.9 580.2L1406.9 578.7L1400.9 576.4L1394.9 573.4L1388.9 568.9L1382.9 563L1376.9 556.2L1370.9 547.7L1364.9 536.9L1358.9 530.1L1352.9 530.2L1346.9 534.6L1340.9 542.7L1334.9 551.5L1328.9 558.2L1322.9 562L1316.9 564L1310.9 564.7L1304.9 563.7L1298.9 562.1L1292.9 558.4L1286.9 553L1280.9 546.6L1274.9 543.8L1268.9 539.7L1262.9 530.2L1258 517.7L1253.1 510.5L1248.3 526Z" fill="#0000ff" fill-opacity="0.17" stroke="#0000ff" stroke-opacity="0.12" stroke-width="0.6"/>
<path d="M1248.3 523.7L1253.1 508.2L1258 515.4C1259.6 519.6 1261.2 524.7 1262.9 527.9C1264.7 531.6 1266.6 535.1 1268.4 537C1270.3 538.9 1272.1 540.2 1274 541.1C1275.9 542.1 1277.7 542.2 1279.6 543.2C1281 544 1282.3 546 1283.7 547.4C1285.6 549.2 1287.4 551.4 1289.3 553C1292.1 555.4 1294.9 558 1297.7 559.2C1300 560.2 1302.3 560.8 1304.6 561.3C1306.5 561.7 1308.3 562.3 1310.2 562.3C1312.5 562.3 1314.8 561.9 1317.1 561.6C1319.9 561.1 1322.7 559.8 1325.5 558.2C1327.3 557.2 1329.2 555.5 1331 553.7C1332.9 551.8 1334.8 549.2 1336.6 546.7C1338.5 544.2 1340.3 540.9 1342.2 538.3C1344 535.8 1345.9 532.8 1347.7 531.4C1350.5 529.2 1353.3 526.8 1356.1 526.8C1357.9 526.8 1359.8 528 1361.7 529.3C1363.5 530.6 1365.4 535.9 1367.2 539C1369.5 542.9 1371.9 547 1374.2 550.2C1376.5 553.4 1378.8 556 1381.1 558.5C1383.9 561.6 1386.7 564.6 1389.5 566.9C1391.8 568.8 1394.1 570.5 1396.4 571.7C1400.6 573.9 1404.8 575.6 1409 576.6C1414.1 577.9 1419.2 579 1424.3 579.4C1428.4 579.7 1432.6 579.9 1436.8 580.1C1441.4 580.3 1446.1 580.6 1450.7 580.8C1454.4 580.9 1458.1 580.9 1461.8 581.1C1465.5 581.2 1469.2 582.4 1473 583.3C1476 584 1479 584.9 1482 585.7C1485.7 586.6 1489.4 587.4 1493.1 588.4C1497.8 589.7 1502.4 591.6 1507 592.6C1513.5 594 1520 595.8 1526.5 595.8C1532.1 595.8 1537.7 595.4 1543.2 595.4C1548.8 595.4 1554.3 595.4 1559.9 595.4C1563.6 595.4 1567.3 597.5 1571 598.2C1575.7 599.1 1580.3 599.9 1585 600.3C1592.4 600.8 1599.8 600.8 1607.2 601.2C1611.9 601.5 1616.5 602.3 1621.1 602.3C1624.8 602.3 1628.6 601.7 1632.3 601.7C1636 601.7 1639.7 603.3 1643.4 603.3C1648 603.3 1652.7 602.8 1657.3 602.8C1663.8 602.8 1670.3 603.4 1676.8 603.7C1681.4 604 1686.1 604.3 1690.7 604.4C1695.3 604.6 1700 604.6 1704.6 604.7C1707.9 604.8 1711.3 605 1714.6 605.1" stroke="#2828ff" stroke-width="1.7" stroke-linejoin="round" stroke-opacity="0.92"/>
</g>
<path d="M1295.8 645.8v-4.6M1295.8 486.1v4.6M1349 645.8v-4.6M1349 486.1v4.6M1402.3 645.8v-4.6M1402.3 486.1v4.6M1455.5 645.8v-4.6M1455.5 486.1v4.6M1508.8 645.8v-4.6M1508.8 486.1v4.6M1562 645.8v-4.6M1562 486.1v4.6M1615.3 645.8v-4.6M1615.3 486.1v4.6M1668.5 645.8v-4.6M1668.5 486.1v4.6M1248.3 586.3h4.6M1714.6 586.3h-4.6M1248.3 522.3h4.6M1714.6 522.3h-4.6M1248.3 631h2.6M1714.6 631h-2.6M1248.3 619.8h2.6M1714.6 619.8h-2.6M1248.3 611.8h2.6M1714.6 611.8h-2.6M1248.3 605.6h2.6M1714.6 605.6h-2.6M1248.3 600.5h2.6M1714.6 600.5h-2.6M1248.3 596.2h2.6M1714.6 596.2h-2.6M1248.3 592.5h2.6M1714.6 592.5h-2.6M1248.3 589.2h2.6M1714.6 589.2h-2.6M1248.3 567h2.6M1714.6 567h-2.6M1248.3 555.8h2.6M1714.6 555.8h-2.6M1248.3 547.8h2.6M1714.6 547.8h-2.6M1248.3 541.6h2.6M1714.6 541.6h-2.6M1248.3 536.5h2.6M1714.6 536.5h-2.6M1248.3 532.2h2.6M1714.6 532.2h-2.6M1248.3 528.5h2.6M1714.6 528.5h-2.6M1248.3 525.2h2.6M1714.6 525.2h-2.6M1248.3 503h2.6M1714.6 503h-2.6M1248.3 491.8h2.6M1714.6 491.8h-2.6" stroke="#3a3a3a" stroke-width="1.4" fill="none"/>
<rect x="1248.3" y="486.1" width="466.3" height="159.7" fill="none" stroke="#3a3a3a" stroke-width="1.8"/>
<rect x="1255.1" y="600.5" width="62.2" height="39.6" fill="#fff" stroke="#262626" stroke-width="1.3"/>
<rect x="1258.6" y="604.7" width="26" height="12.3" fill="#ffd4d4"/>
<rect x="1258.6" y="623.4" width="26" height="12.3" fill="#d6d6fb"/>
<text x="1288.4" y="616.8" font-size="16.6" fill="#111" textLength="25" lengthAdjust="spacingAndGlyphs">EC</text>
<text x="1288.4" y="635.5" font-size="16.6" fill="#111" textLength="26" lengthAdjust="spacingAndGlyphs">EO</text>
<text transform="translate(1295.8 666) scale(1.33 1)" font-size="15" text-anchor="middle" fill="#262626">5</text>
<text transform="translate(1349 666) scale(1.33 1)" font-size="15" text-anchor="middle" fill="#262626">10</text>
<text transform="translate(1402.3 666) scale(1.33 1)" font-size="15" text-anchor="middle" fill="#262626">15</text>
<text transform="translate(1455.5 666) scale(1.33 1)" font-size="15" text-anchor="middle" fill="#262626">20</text>
<text transform="translate(1508.8 666) scale(1.33 1)" font-size="15" text-anchor="middle" fill="#262626">25</text>
<text transform="translate(1562 666) scale(1.33 1)" font-size="15" text-anchor="middle" fill="#262626">30</text>
<text transform="translate(1615.3 666) scale(1.33 1)" font-size="15" text-anchor="middle" fill="#262626">35</text>
<text transform="translate(1668.5 666) scale(1.33 1)" font-size="15" text-anchor="middle" fill="#262626">40</text>
<text transform="translate(1481.5 686.1) scale(1.27 1)" font-size="16.5" text-anchor="middle" fill="#262626">f [Hz]</text>
<text transform="translate(1227.9 530.8) scale(1.33 1)" font-size="15" text-anchor="end">10</text><text transform="translate(1227.7 523.3) scale(1.3 1)" font-size="12.5">-1</text>
<text transform="translate(1227.9 594.8) scale(1.33 1)" font-size="15" text-anchor="end">10</text><text transform="translate(1227.7 587.3) scale(1.3 1)" font-size="12.5">-2</text>
<text transform="translate(1198.5 566) rotate(-90) scale(1 1.28)" font-size="17" text-anchor="middle" textLength="101.5" lengthAdjust="spacingAndGlyphs">PSD [<tspan font-family="Liberation Serif, serif" font-style="italic">μ</tspan>V<tspan dy="-5.5" font-size="12.8">2</tspan><tspan dy="5.5">/Hz]</tspan></text>
<text x="1481.5" y="480.3" font-size="18" text-anchor="middle" font-weight="bold" fill="#000" textLength="383" lengthAdjust="spacingAndGlyphs">Mean PSD | chs: P8 P6 PO8 PO4 P4</text>
</g>
<text transform="translate(-1.2 692.8) scale(0.92 1)" font-size="46" font-family="Liberation Serif, serif" fill="#000">A</text>
<g>
<path d="M312.8 722.4V999.8M468 722.4V999.8M157.9 874H624" stroke="#dedede" stroke-width="1.5" fill="none"/>
<path d="M159.9 995.6H624M159.9 965H624M159.9 943.2H624M159.9 926.4H624M159.9 912.6H624M159.9 901H624M159.9 890.9H624M159.9 882H624M159.9 821.6H624M159.9 791H624M159.9 769.2H624M159.9 752.4H624M159.9 738.6H624M159.9 727H624" stroke="#b2b2b2" stroke-width="1.1" stroke-dasharray="1.5 1.9" fill="none"/>
<path d="M336.1 862.8L336.1 862.8L345.2 864.4L345.5 864.5L349.7 866L350.1 866.6L349.1 867.6L347.3 868.7L346.7 869.2L345.5 870.6L345.6 870.8L349.6 872.4L351.1 872.9L354.5 874L360.6 875.6L366.8 877.2L372 878.8L373.5 879.5L375.3 880.4L377.9 882L380 883.6L381.9 885.2L383.8 886.8L386.1 888.4L387.5 889.3L389 890L392.9 891.6L397.2 893.2L401.5 894.8L404.9 896.4L406.2 897.3L407.3 898L409.4 899.6L411.3 901.2L412.8 902.8L413.6 904.4L413.7 905.2L413.6 906L413.1 907.6L412.2 909.2L411.2 910.8L410.9 911.3L410.1 912.4L408.9 914L407.5 915.6L405.9 917.2L404.2 918.8L402.4 920.4L400.6 922L398.8 923.6L397 925.2L396.9 925.3L395.2 926.8L393.3 928.4L391.4 930L389.5 931.6L387.5 933.2L385.5 934.8L383.5 936.4L381.4 938L379.3 939.6L377.2 941.2L375.1 942.8L373.5 944L372.9 944.4L370.7 946L368.4 947.6L366 949.2L363.6 950.8L361.1 952.4L358.7 954L356.3 955.6L353.9 957.2L351.6 958.8L349.4 960.4L347.4 962L345.5 963.6L345.5 963.6L343.5 965.2L341.5 966.8L339.7 968.4L338.4 970L338 971.1L337.9 971.6L337.7 973.2L337.5 974.8L337.5 975.8L337.7 976.4L339.5 978L341.7 979.5L341.9 979.6L345.4 981.2L348.9 982.8L349.7 983.8L348.7 984.4L343.6 985.9L343.1 986L336.1 987.5L336.1 987.5Z" fill="#ff0000" fill-opacity="0.2" stroke="#444" stroke-width="0.6" stroke-linejoin="round"/>
<path d="M289.5 899.6H336.1V929.5H289.5ZM289.5 912.7H336.1" fill="none" stroke="#000" stroke-width="1.7" stroke-linejoin="round"/>
<path d="M312.8 899.6V878.4M312.8 929.5V982.8" fill="none" stroke="#000" stroke-width="1.8" stroke-dasharray="5 4"/>
<path d="M301.3 878.4h23M301.3 982.8h23" fill="none" stroke="#111" stroke-width="1.6"/>
<g fill="#ff0000">
<ellipse cx="309.1" cy="867.5" rx="3.3" ry="2.5"/>
<ellipse cx="305.9" cy="983.1" rx="3.3" ry="2.5"/>
<ellipse cx="317.8" cy="961.6" rx="3.3" ry="2.5"/>
<ellipse cx="306.1" cy="953.4" rx="3.3" ry="2.5"/>
<ellipse cx="317.8" cy="953.4" rx="3.3" ry="2.5"/>
<ellipse cx="305.6" cy="948.7" rx="3.3" ry="2.5"/>
<ellipse cx="318.2" cy="947.6" rx="3.3" ry="2.5"/>
<ellipse cx="307" cy="943.1" rx="3.3" ry="2.5"/>
<ellipse cx="307.5" cy="878.8" rx="3.3" ry="2.5"/>
<ellipse cx="306.3" cy="880.3" rx="3.3" ry="2.5"/>
<ellipse cx="310.8" cy="882.4" rx="3.3" ry="2.5"/>
<ellipse cx="312.9" cy="883.6" rx="3.3" ry="2.5"/>
<ellipse cx="311.8" cy="885.8" rx="3.3" ry="2.5"/>
<ellipse cx="306.6" cy="888" rx="3.3" ry="2.5"/>
<ellipse cx="317.8" cy="889.6" rx="3.3" ry="2.5"/>
<ellipse cx="308.6" cy="890.4" rx="3.3" ry="2.5"/>
<ellipse cx="319.6" cy="893" rx="3.3" ry="2.5"/>
<ellipse cx="311.2" cy="894.5" rx="3.3" ry="2.5"/>
<ellipse cx="305.9" cy="896.5" rx="3.3" ry="2.5"/>
<ellipse cx="309.6" cy="897.2" rx="3.3" ry="2.5"/>
<ellipse cx="307" cy="897.4" rx="3.3" ry="2.5"/>
<ellipse cx="317.6" cy="898.4" rx="3.3" ry="2.5"/>
<ellipse cx="314" cy="899.7" rx="3.3" ry="2.5"/>
<ellipse cx="310.9" cy="901.6" rx="3.3" ry="2.5"/>
<ellipse cx="306.2" cy="902.9" rx="3.3" ry="2.5"/>
<ellipse cx="308.3" cy="903.6" rx="3.3" ry="2.5"/>
<ellipse cx="311.7" cy="905" rx="3.3" ry="2.5"/>
<ellipse cx="314.1" cy="905.5" rx="3.3" ry="2.5"/>
<ellipse cx="309.8" cy="906.5" rx="3.3" ry="2.5"/>
<ellipse cx="315.8" cy="908.3" rx="3.3" ry="2.5"/>
<ellipse cx="313.9" cy="908.9" rx="3.3" ry="2.5"/>
<ellipse cx="318.5" cy="910.6" rx="3.3" ry="2.5"/>
<ellipse cx="309.6" cy="911.2" rx="3.3" ry="2.5"/>
<ellipse cx="307" cy="912.4" rx="3.3" ry="2.5"/>
<ellipse cx="316.7" cy="913" rx="3.3" ry="2.5"/>
<ellipse cx="312.6" cy="914.1" rx="3.3" ry="2.5"/>
<ellipse cx="315.4" cy="915.4" rx="3.3" ry="2.5"/>
<ellipse cx="313.9" cy="917.9" rx="3.3" ry="2.5"/>
<ellipse cx="310" cy="919.6" rx="3.3" ry="2.5"/>
<ellipse cx="314.2" cy="920.9" rx="3.3" ry="2.5"/>
<ellipse cx="312.1" cy="922.3" rx="3.3" ry="2.5"/>
<ellipse cx="319.6" cy="924.4" rx="3.3" ry="2.5"/>
<ellipse cx="315.3" cy="925.3" rx="3.3" ry="2.5"/>
<ellipse cx="315.9" cy="925.3" rx="3.3" ry="2.5"/>
<ellipse cx="320.3" cy="927.7" rx="3.3" ry="2.5"/>
<ellipse cx="309.5" cy="929.9" rx="3.3" ry="2.5"/>
<ellipse cx="315.4" cy="930.9" rx="3.3" ry="2.5"/>
<ellipse cx="312.2" cy="932.2" rx="3.3" ry="2.5"/>
<ellipse cx="307" cy="934.5" rx="3.3" ry="2.5"/>
<ellipse cx="316.9" cy="936.5" rx="3.3" ry="2.5"/>
<ellipse cx="309" cy="938.9" rx="3.3" ry="2.5"/>
<ellipse cx="318.4" cy="942.1" rx="3.3" ry="2.5"/>
<ellipse cx="312" cy="943.7" rx="3.3" ry="2.5"/>
<ellipse cx="318.6" cy="946.7" rx="3.3" ry="2.5"/>
<ellipse cx="318.3" cy="951.1" rx="3.3" ry="2.5"/>
<ellipse cx="311.5" cy="953.1" rx="3.3" ry="2.5"/>
<ellipse cx="318.6" cy="959.2" rx="3.3" ry="2.5"/>
<ellipse cx="307.5" cy="982.5" rx="3.3" ry="2.5"/>
</g>
<path d="M491.3 830.5L491.3 830.5L498.5 831.9L499.1 832.1L503.3 833.7L503.6 834.2L502.6 835.3L499.6 836.9L499.4 837L497.6 838.5L497.1 839.4L497.3 840.1L499.1 841.7L500.4 842.7L501.4 843.3L504.7 844.9L506 845.5L508.4 846.5L512.4 848.1L516.7 849.7L521.2 851.3L525.7 852.9L528.4 853.9L530.2 854.5L534.9 856.1L539.7 857.7L544.3 859.3L547.1 860.4L548.3 860.9L552 862.5L555.6 864.1L558.7 865.7L561 867.3L561.2 867.4L562.7 868.9L564.2 870.5L565.4 872.1L566.5 873.7L567.3 875.3L567.7 876.3L567.9 876.9L568.4 878.5L568.9 880.1L569.3 881.7L569.5 883.3L569.6 884.7L569.6 884.9L569.4 886.5L569.1 888.1L568.6 889.7L568 891.3L567.3 892.9L566.8 894.1L566.6 894.5L565.4 896.1L563.9 897.7L562.1 899.3L560.2 900.9L559.3 901.6L557.9 902.5L555.2 904.1L552 905.7L548.7 907.3L547.1 908.1L545.5 908.9L542 910.5L538.8 912.1L537.8 912.8L536.7 913.7L535.3 915.3L533.8 916.9L533.1 917.5L531.6 918.5L528.7 920.1L524.9 921.7L523.7 922.1L520 923.3L512.6 924.9L509.7 925.4L501.2 926.5L491.3 927.5L491.3 927.5Z" fill="#0000ff" fill-opacity="0.2" stroke="#444" stroke-width="0.6" stroke-linejoin="round"/>
<path d="M444.7 867.9H491.3V897.1H444.7ZM444.7 883.1H491.3" fill="none" stroke="#000" stroke-width="1.7" stroke-linejoin="round"/>
<path d="M468 867.9V851.8M468 897.1V922.1" fill="none" stroke="#000" stroke-width="1.8" stroke-dasharray="5 4"/>
<path d="M456.5 851.8h23M456.5 922.1h23" fill="none" stroke="#111" stroke-width="1.6"/>
<g fill="#0000ff">
<ellipse cx="463.1" cy="835.2" rx="3.3" ry="2.5"/>
<ellipse cx="460.1" cy="852.5" rx="3.3" ry="2.5"/>
<ellipse cx="470.3" cy="851.8" rx="3.3" ry="2.5"/>
<ellipse cx="475.9" cy="852" rx="3.3" ry="2.5"/>
<ellipse cx="468" cy="922.6" rx="3.3" ry="2.5"/>
<ellipse cx="475.5" cy="908.1" rx="3.3" ry="2.5"/>
<ellipse cx="475" cy="852.9" rx="3.3" ry="2.5"/>
<ellipse cx="471.1" cy="853.9" rx="3.3" ry="2.5"/>
<ellipse cx="464.2" cy="855.5" rx="3.3" ry="2.5"/>
<ellipse cx="463.6" cy="859.4" rx="3.3" ry="2.5"/>
<ellipse cx="467.4" cy="860.3" rx="3.3" ry="2.5"/>
<ellipse cx="467.9" cy="860.8" rx="3.3" ry="2.5"/>
<ellipse cx="473" cy="861.9" rx="3.3" ry="2.5"/>
<ellipse cx="464" cy="863.4" rx="3.3" ry="2.5"/>
<ellipse cx="464.5" cy="864.8" rx="3.3" ry="2.5"/>
<ellipse cx="474.1" cy="867" rx="3.3" ry="2.5"/>
<ellipse cx="462.1" cy="867.4" rx="3.3" ry="2.5"/>
<ellipse cx="475.5" cy="868.2" rx="3.3" ry="2.5"/>
<ellipse cx="469.8" cy="869.3" rx="3.3" ry="2.5"/>
<ellipse cx="470.4" cy="871.2" rx="3.3" ry="2.5"/>
<ellipse cx="470.9" cy="872.5" rx="3.3" ry="2.5"/>
<ellipse cx="470.3" cy="874.1" rx="3.3" ry="2.5"/>
<ellipse cx="469.2" cy="875.8" rx="3.3" ry="2.5"/>
<ellipse cx="461.4" cy="876" rx="3.3" ry="2.5"/>
<ellipse cx="467.8" cy="877.2" rx="3.3" ry="2.5"/>
<ellipse cx="474.8" cy="877.6" rx="3.3" ry="2.5"/>
<ellipse cx="471.5" cy="879.5" rx="3.3" ry="2.5"/>
<ellipse cx="464.7" cy="881.2" rx="3.3" ry="2.5"/>
<ellipse cx="473.7" cy="881.8" rx="3.3" ry="2.5"/>
<ellipse cx="472" cy="882.9" rx="3.3" ry="2.5"/>
<ellipse cx="470.9" cy="884.1" rx="3.3" ry="2.5"/>
<ellipse cx="474.8" cy="884.9" rx="3.3" ry="2.5"/>
<ellipse cx="468.1" cy="886.3" rx="3.3" ry="2.5"/>
<ellipse cx="462.7" cy="886.7" rx="3.3" ry="2.5"/>
<ellipse cx="468.1" cy="888.5" rx="3.3" ry="2.5"/>
<ellipse cx="474.1" cy="889.3" rx="3.3" ry="2.5"/>
<ellipse cx="471.1" cy="891.2" rx="3.3" ry="2.5"/>
<ellipse cx="464.1" cy="892.2" rx="3.3" ry="2.5"/>
<ellipse cx="465.6" cy="893.2" rx="3.3" ry="2.5"/>
<ellipse cx="466.8" cy="894.2" rx="3.3" ry="2.5"/>
<ellipse cx="473.1" cy="895" rx="3.3" ry="2.5"/>
<ellipse cx="463.1" cy="897.1" rx="3.3" ry="2.5"/>
<ellipse cx="462.9" cy="897.9" rx="3.3" ry="2.5"/>
<ellipse cx="475.2" cy="899.8" rx="3.3" ry="2.5"/>
<ellipse cx="472.1" cy="900.6" rx="3.3" ry="2.5"/>
<ellipse cx="460.6" cy="901.5" rx="3.3" ry="2.5"/>
<ellipse cx="465.6" cy="903" rx="3.3" ry="2.5"/>
<ellipse cx="467" cy="903.6" rx="3.3" ry="2.5"/>
<ellipse cx="466.6" cy="905.4" rx="3.3" ry="2.5"/>
<ellipse cx="466.8" cy="907.5" rx="3.3" ry="2.5"/>
<ellipse cx="464.8" cy="908.6" rx="3.3" ry="2.5"/>
<ellipse cx="461.7" cy="909.2" rx="3.3" ry="2.5"/>
<ellipse cx="468.3" cy="911.4" rx="3.3" ry="2.5"/>
<ellipse cx="472.7" cy="913.1" rx="3.3" ry="2.5"/>
<ellipse cx="471.2" cy="915.3" rx="3.3" ry="2.5"/>
<ellipse cx="461.4" cy="917.8" rx="3.3" ry="2.5"/>
<ellipse cx="462.5" cy="917.8" rx="3.3" ry="2.5"/>
<ellipse cx="469.1" cy="921.3" rx="3.3" ry="2.5"/>
</g>
<path d="M328.4 740.6H452.6" stroke="#000" stroke-width="1" fill="none"/>
<text transform="translate(390.4 745.6) scale(1.25 1)" font-size="15" text-anchor="middle" font-weight="bold" fill="#000">*</text>
<text x="402" y="734.8" font-size="12.6" fill="#262626" textLength="64" lengthAdjust="spacingAndGlyphs">p&lt;0.001</text>
<path d="M312.8 999.8v-4.6M312.8 722.4v4.6M468 999.8v-4.6M468 722.4v4.6M157.9 874h4.6M624 874h-4.6M157.9 995.6h2.6M624 995.6h-2.6M157.9 965h2.6M624 965h-2.6M157.9 943.2h2.6M624 943.2h-2.6M157.9 926.4h2.6M624 926.4h-2.6M157.9 912.6h2.6M624 912.6h-2.6M157.9 901h2.6M624 901h-2.6M157.9 890.9h2.6M624 890.9h-2.6M157.9 882h2.6M624 882h-2.6M157.9 821.6h2.6M624 821.6h-2.6M157.9 791h2.6M624 791h-2.6M157.9 769.2h2.6M624 769.2h-2.6M157.9 752.4h2.6M624 752.4h-2.6M157.9 738.6h2.6M624 738.6h-2.6M157.9 727h2.6M624 727h-2.6" stroke="#3a3a3a" stroke-width="1.4" fill="none"/>
<rect x="157.9" y="722.4" width="466.1" height="277.4" fill="none" stroke="#3a3a3a" stroke-width="1.8"/>
<text x="312.8" y="1017.5" font-size="13.6" text-anchor="middle" fill="#262626" textLength="23.2" lengthAdjust="spacingAndGlyphs">EC</text>
<text x="468" y="1017.5" font-size="13.6" text-anchor="middle" fill="#262626" textLength="23.2" lengthAdjust="spacingAndGlyphs">EO</text>
<text transform="translate(136.6 881.1) scale(1.3 1)" font-size="13.5" text-anchor="end">10</text>
<text transform="translate(137 874.7) scale(1.3 1)" font-size="10.6">-1</text>
<text transform="translate(109.9 861.1) rotate(-90) scale(1 1.3)" font-size="15" text-anchor="middle" textLength="89.4" lengthAdjust="spacingAndGlyphs">PSD [<tspan font-family="Liberation Serif, serif" font-style="italic">μ</tspan>V<tspan dy="-5" font-size="11.2">2</tspan><tspan dy="5">/Hz]</tspan></text>
<text x="391" y="717.4" font-size="15.4" text-anchor="middle" font-weight="bold" fill="#000" textLength="219" lengthAdjust="spacingAndGlyphs">Mean PSD  | <tspan font-family="Liberation Serif, serif" font-style="italic" font-weight="normal">δ</tspan> 0.5-3.9Hz</text>
</g>
<g>
<path d="M851.1 722.4V999.8M1006.3 722.4V999.8M696.2 841H1162.3" stroke="#dedede" stroke-width="1.5" fill="none"/>
<path d="M698.2 953.3H1162.3M698.2 925H1162.3M698.2 904.9H1162.3M698.2 889.3H1162.3M698.2 876.6H1162.3M698.2 865.9H1162.3M698.2 856.6H1162.3M698.2 848.3H1162.3M698.2 792.7H1162.3M698.2 764.4H1162.3M698.2 744.3H1162.3M698.2 728.7H1162.3" stroke="#b2b2b2" stroke-width="1.1" stroke-dasharray="1.5 1.9" fill="none"/>
<path d="M874.4 875L874.4 875L883.6 876.6L883.6 876.6L889.5 878.2L889.6 878.5L886.7 879.8L882.6 881.1L881.9 881.4L878.7 883L878 883.9L878.1 884.6L879.1 886.2L880.8 887.8L881.7 888.6L882.9 889.4L886.1 891L889.8 892.6L892.9 894.2L893 894.2L895.5 895.8L897.7 897.4L899.7 899L900.4 899.8L901 900.6L902 902.2L902.8 903.8L903.7 905.4L904.8 907L905.1 907.3L906.7 908.6L909.4 910.2L912.5 911.8L915.6 913.4L916.3 913.8L918.5 915L921.5 916.6L924.7 918.2L927.8 919.8L930.7 921.4L933.4 923L935 924.1L935.7 924.6L937.8 926.2L939.8 927.8L941.7 929.4L943.4 931L945 932.6L946.3 934.2L947.2 935.3L947.5 935.8L948.6 937.4L949.7 939L950.7 940.6L951.5 942.2L952.1 943.8L952.3 945.4L952.3 945.6L952.2 947L951.7 948.6L951 950.2L950.2 951.8L950 952.1L948.7 953.4L945.9 955L942.3 956.6L939.7 957.7L938.6 958.2L934.3 959.8L929.5 961.4L924.6 963L921 964.3L920.2 964.6L915.8 966.2L911.7 967.8L908.5 969.4L907.9 969.9L906.8 971L905.4 972.6L904.6 974.2L904.6 974.6L905.2 975.8L906.9 977.4L907.9 978.3L908.7 979L909.7 980.2L909.6 980.6L907.6 982.2L906 983L903.5 983.8L895.2 985.4L892.9 985.8L886.2 987L875.8 988.6L874.4 988.8L874.4 988.8Z" fill="#ff0000" fill-opacity="0.2" stroke="#444" stroke-width="0.6" stroke-linejoin="round"/>
<path d="M827.8 924.6H874.4V953.5H827.8ZM827.8 940H874.4" fill="none" stroke="#000" stroke-width="1.7" stroke-linejoin="round"/>
<path d="M851.1 924.6V895.6M851.1 953.5V984.1" fill="none" stroke="#000" stroke-width="1.8" stroke-dasharray="5 4"/>
<path d="M839.6 895.6h23M839.6 984.1h23" fill="none" stroke="#111" stroke-width="1.6"/>
<g fill="#ff0000">
<ellipse cx="851.8" cy="879" rx="3.3" ry="2.5"/>
<ellipse cx="844.2" cy="896.5" rx="3.3" ry="2.5"/>
<ellipse cx="858.2" cy="895.3" rx="3.3" ry="2.5"/>
<ellipse cx="858.2" cy="900.7" rx="3.3" ry="2.5"/>
<ellipse cx="844.6" cy="901.2" rx="3.3" ry="2.5"/>
<ellipse cx="847" cy="904.4" rx="3.3" ry="2.5"/>
<ellipse cx="857.7" cy="905.9" rx="3.3" ry="2.5"/>
<ellipse cx="856.8" cy="984.7" rx="3.3" ry="2.5"/>
<ellipse cx="844.6" cy="979.7" rx="3.3" ry="2.5"/>
<ellipse cx="848.9" cy="980.9" rx="3.3" ry="2.5"/>
<ellipse cx="853.5" cy="975.5" rx="3.3" ry="2.5"/>
<ellipse cx="857.3" cy="977.4" rx="3.3" ry="2.5"/>
<ellipse cx="849.8" cy="970.7" rx="3.3" ry="2.5"/>
<ellipse cx="853.1" cy="969.7" rx="3.3" ry="2.5"/>
<ellipse cx="847" cy="964.8" rx="3.3" ry="2.5"/>
<ellipse cx="844.2" cy="959.6" rx="3.3" ry="2.5"/>
<ellipse cx="850.7" cy="960.6" rx="3.3" ry="2.5"/>
<ellipse cx="855.8" cy="897.4" rx="3.3" ry="2.5"/>
<ellipse cx="847.9" cy="903.2" rx="3.3" ry="2.5"/>
<ellipse cx="854.2" cy="907" rx="3.3" ry="2.5"/>
<ellipse cx="845.2" cy="909.2" rx="3.3" ry="2.5"/>
<ellipse cx="849.3" cy="910.6" rx="3.3" ry="2.5"/>
<ellipse cx="847.3" cy="914.8" rx="3.3" ry="2.5"/>
<ellipse cx="848.3" cy="916.9" rx="3.3" ry="2.5"/>
<ellipse cx="857.9" cy="920.5" rx="3.3" ry="2.5"/>
<ellipse cx="858.7" cy="921.8" rx="3.3" ry="2.5"/>
<ellipse cx="855.9" cy="923.2" rx="3.3" ry="2.5"/>
<ellipse cx="845.8" cy="925.8" rx="3.3" ry="2.5"/>
<ellipse cx="852" cy="927.5" rx="3.3" ry="2.5"/>
<ellipse cx="846.7" cy="930.1" rx="3.3" ry="2.5"/>
<ellipse cx="856.9" cy="931.2" rx="3.3" ry="2.5"/>
<ellipse cx="848.2" cy="933.4" rx="3.3" ry="2.5"/>
<ellipse cx="857.8" cy="934.2" rx="3.3" ry="2.5"/>
<ellipse cx="858.6" cy="935.6" rx="3.3" ry="2.5"/>
<ellipse cx="855.8" cy="936.5" rx="3.3" ry="2.5"/>
<ellipse cx="857.5" cy="939.6" rx="3.3" ry="2.5"/>
<ellipse cx="849.2" cy="939.9" rx="3.3" ry="2.5"/>
<ellipse cx="854.9" cy="941.8" rx="3.3" ry="2.5"/>
<ellipse cx="858.1" cy="944.1" rx="3.3" ry="2.5"/>
<ellipse cx="855.3" cy="945.5" rx="3.3" ry="2.5"/>
<ellipse cx="847.1" cy="946.9" rx="3.3" ry="2.5"/>
<ellipse cx="858.1" cy="948.2" rx="3.3" ry="2.5"/>
<ellipse cx="849" cy="949.9" rx="3.3" ry="2.5"/>
<ellipse cx="855.5" cy="951.2" rx="3.3" ry="2.5"/>
<ellipse cx="852.7" cy="952" rx="3.3" ry="2.5"/>
<ellipse cx="851.9" cy="953.9" rx="3.3" ry="2.5"/>
<ellipse cx="853.5" cy="955" rx="3.3" ry="2.5"/>
<ellipse cx="848.3" cy="957.9" rx="3.3" ry="2.5"/>
<ellipse cx="857.3" cy="958.1" rx="3.3" ry="2.5"/>
<ellipse cx="847.6" cy="960.9" rx="3.3" ry="2.5"/>
<ellipse cx="854.9" cy="962" rx="3.3" ry="2.5"/>
<ellipse cx="850.6" cy="964.5" rx="3.3" ry="2.5"/>
<ellipse cx="853.1" cy="967.5" rx="3.3" ry="2.5"/>
<ellipse cx="848.2" cy="972" rx="3.3" ry="2.5"/>
<ellipse cx="858.5" cy="973.6" rx="3.3" ry="2.5"/>
<ellipse cx="843.8" cy="978.7" rx="3.3" ry="2.5"/>
<ellipse cx="853.9" cy="980.3" rx="3.3" ry="2.5"/>
<ellipse cx="854.6" cy="982.4" rx="3.3" ry="2.5"/>
</g>
<path d="M1029.6 823.2L1029.6 823.2L1040.5 824.8L1040.6 824.8L1048 826.4L1048 826.5L1041.6 828L1038.7 828.5L1032.2 829.6L1029.6 830.4L1029.6 831.2L1029.6 832.8L1029.6 834.4L1029.6 836L1029.6 837.6L1029.6 839.2L1029.6 840.8L1029.6 842.4L1029.6 844L1029.6 845.6L1029.6 847.2L1029.6 847.7L1029.7 848.8L1030.3 850.4L1031.3 852L1032.3 853.6L1033.2 855.2L1033.8 856.8L1034 858L1034 858.4L1033.9 860L1033.6 861.6L1033.3 863.2L1032.9 864.8L1032.5 866.4L1032.3 868L1032.1 869.6L1032.1 870.1L1032.2 871.2L1032.7 872.8L1033.4 874.4L1034.4 876L1035.5 877.6L1036.6 879.2L1036.8 879.5L1037.8 880.8L1039.3 882.4L1041 884L1042.9 885.6L1044.9 887.2L1046.8 888.8L1048 889.8L1048.8 890.4L1050.7 892L1052.6 893.6L1054.5 895.2L1056.5 896.8L1058.6 898.4L1060.8 900L1063.2 901.6L1065.7 903.2L1066.7 903.8L1068.5 904.8L1071.9 906.4L1075.6 908L1079.4 909.6L1083.2 911.2L1085.4 912.2L1086.7 912.8L1090.2 914.4L1093.7 916L1097 917.6L1100 919.2L1102.3 920.6L1102.5 920.8L1104.8 922.4L1106.9 924L1107.9 925.6L1107.9 925.8L1107.5 927.2L1106.2 928.8L1104.3 930.4L1102.3 931.9L1102 932L1097.5 933.6L1090.9 935.2L1085.4 936.5L1084.4 936.8L1077.7 938.4L1071 940L1066.7 941.2L1065.5 941.6L1060.7 943.2L1057.5 944.8L1057.4 944.9L1056.3 946.4L1055.6 948L1055.5 948.7L1056 949.6L1057.9 951.2L1058.8 952.4L1058.7 952.8L1057.3 954.4L1054.8 956L1054.6 956.2L1050.5 957.6L1046.3 959.2L1046.2 959.4L1046.4 960.8L1047 962.4L1047.1 963.2L1046.3 964L1042 965.6L1038.7 967.2L1038.7 967.4L1043.3 968.8L1043.3 968.8L1052.9 970.4L1058.8 971.9L1058.7 972L1044.9 973.6L1043.3 973.7L1029.6 975.1L1029.6 975.1Z" fill="#0000ff" fill-opacity="0.2" stroke="#444" stroke-width="0.6" stroke-linejoin="round"/>
<path d="M983 912.7H1029.6V934.2H983ZM983 922.7H1029.6" fill="none" stroke="#000" stroke-width="1.7" stroke-linejoin="round"/>
<path d="M1006.3 912.7V891.6M1006.3 934.2V971.9" fill="none" stroke="#000" stroke-width="1.8" stroke-dasharray="5 4"/>
<path d="M994.8 891.6h23M994.8 971.9h23" fill="none" stroke="#111" stroke-width="1.6"/>
<g fill="#0000ff">
<ellipse cx="1001.3" cy="826.5" rx="3.3" ry="2.5"/>
<ellipse cx="999.1" cy="861.4" rx="3.3" ry="2.5"/>
<ellipse cx="1002.4" cy="885.6" rx="3.3" ry="2.5"/>
<ellipse cx="1011.9" cy="885.1" rx="3.3" ry="2.5"/>
<ellipse cx="998.8" cy="891.6" rx="3.3" ry="2.5"/>
<ellipse cx="1008.6" cy="893.5" rx="3.3" ry="2.5"/>
<ellipse cx="1012.4" cy="898.2" rx="3.3" ry="2.5"/>
<ellipse cx="1001.2" cy="903.3" rx="3.3" ry="2.5"/>
<ellipse cx="1010.5" cy="903.8" rx="3.3" ry="2.5"/>
<ellipse cx="1004.9" cy="963.2" rx="3.3" ry="2.5"/>
<ellipse cx="1013.8" cy="962.9" rx="3.3" ry="2.5"/>
<ellipse cx="1011.4" cy="970.2" rx="3.3" ry="2.5"/>
<ellipse cx="1014.2" cy="971.9" rx="3.3" ry="2.5"/>
<ellipse cx="1010.5" cy="953.4" rx="3.3" ry="2.5"/>
<ellipse cx="1012.4" cy="949.6" rx="3.3" ry="2.5"/>
<ellipse cx="1010.5" cy="945.9" rx="3.3" ry="2.5"/>
<ellipse cx="1005.8" cy="942.1" rx="3.3" ry="2.5"/>
<ellipse cx="1008.8" cy="892" rx="3.3" ry="2.5"/>
<ellipse cx="1001.7" cy="896.4" rx="3.3" ry="2.5"/>
<ellipse cx="1006.2" cy="900.4" rx="3.3" ry="2.5"/>
<ellipse cx="1005.7" cy="903.3" rx="3.3" ry="2.5"/>
<ellipse cx="1002.6" cy="904.3" rx="3.3" ry="2.5"/>
<ellipse cx="1003.6" cy="907.6" rx="3.3" ry="2.5"/>
<ellipse cx="1010.7" cy="909.7" rx="3.3" ry="2.5"/>
<ellipse cx="1013" cy="911.7" rx="3.3" ry="2.5"/>
<ellipse cx="1002.3" cy="912.2" rx="3.3" ry="2.5"/>
<ellipse cx="1007.4" cy="913.8" rx="3.3" ry="2.5"/>
<ellipse cx="1009" cy="914.6" rx="3.3" ry="2.5"/>
<ellipse cx="1011.4" cy="917.3" rx="3.3" ry="2.5"/>
<ellipse cx="1003.2" cy="917.9" rx="3.3" ry="2.5"/>
<ellipse cx="1013.5" cy="919" rx="3.3" ry="2.5"/>
<ellipse cx="1009.8" cy="920.6" rx="3.3" ry="2.5"/>
<ellipse cx="1007.7" cy="921.1" rx="3.3" ry="2.5"/>
<ellipse cx="1011.2" cy="922.5" rx="3.3" ry="2.5"/>
<ellipse cx="1003.3" cy="924" rx="3.3" ry="2.5"/>
<ellipse cx="1006" cy="924.7" rx="3.3" ry="2.5"/>
<ellipse cx="1000.9" cy="925.8" rx="3.3" ry="2.5"/>
<ellipse cx="1008.3" cy="926.6" rx="3.3" ry="2.5"/>
<ellipse cx="1001.8" cy="927.2" rx="3.3" ry="2.5"/>
<ellipse cx="1005.3" cy="929.4" rx="3.3" ry="2.5"/>
<ellipse cx="1006" cy="930.4" rx="3.3" ry="2.5"/>
<ellipse cx="1009.4" cy="931.3" rx="3.3" ry="2.5"/>
<ellipse cx="1006.8" cy="932" rx="3.3" ry="2.5"/>
<ellipse cx="1011" cy="933.1" rx="3.3" ry="2.5"/>
<ellipse cx="1007" cy="935.6" rx="3.3" ry="2.5"/>
<ellipse cx="1000.9" cy="936" rx="3.3" ry="2.5"/>
<ellipse cx="999.9" cy="936.8" rx="3.3" ry="2.5"/>
<ellipse cx="1007" cy="940.2" rx="3.3" ry="2.5"/>
<ellipse cx="1012.5" cy="941.3" rx="3.3" ry="2.5"/>
<ellipse cx="1010.7" cy="944.8" rx="3.3" ry="2.5"/>
<ellipse cx="1009.1" cy="948.1" rx="3.3" ry="2.5"/>
<ellipse cx="1013.7" cy="949.5" rx="3.3" ry="2.5"/>
<ellipse cx="1009.2" cy="951.6" rx="3.3" ry="2.5"/>
<ellipse cx="1006" cy="956.1" rx="3.3" ry="2.5"/>
<ellipse cx="1001.5" cy="959.4" rx="3.3" ry="2.5"/>
<ellipse cx="1002.8" cy="962.5" rx="3.3" ry="2.5"/>
<ellipse cx="1009.4" cy="967.7" rx="3.3" ry="2.5"/>
<ellipse cx="1003.8" cy="970.5" rx="3.3" ry="2.5"/>
</g>
<path d="M866.7 738.9H990.9" stroke="#000" stroke-width="1" fill="none"/>
<text transform="translate(928.7 743.9) scale(1.25 1)" font-size="15" text-anchor="middle" font-weight="bold" fill="#000">*</text>
<text x="940.3" y="733.1" font-size="12.6" fill="#262626" textLength="64" lengthAdjust="spacingAndGlyphs">p&lt;0.001</text>
<path d="M851.1 999.8v-4.6M851.1 722.4v4.6M1006.3 999.8v-4.6M1006.3 722.4v4.6M696.2 841h4.6M1162.3 841h-4.6M696.2 953.3h2.6M1162.3 953.3h-2.6M696.2 925h2.6M1162.3 925h-2.6M696.2 904.9h2.6M1162.3 904.9h-2.6M696.2 889.3h2.6M1162.3 889.3h-2.6M696.2 876.6h2.6M1162.3 876.6h-2.6M696.2 865.9h2.6M1162.3 865.9h-2.6M696.2 856.6h2.6M1162.3 856.6h-2.6M696.2 848.3h2.6M1162.3 848.3h-2.6M696.2 792.7h2.6M1162.3 792.7h-2.6M696.2 764.4h2.6M1162.3 764.4h-2.6M696.2 744.3h2.6M1162.3 744.3h-2.6M696.2 728.7h2.6M1162.3 728.7h-2.6" stroke="#3a3a3a" stroke-width="1.4" fill="none"/>
<rect x="696.2" y="722.4" width="466.1" height="277.4" fill="none" stroke="#3a3a3a" stroke-width="1.8"/>
<text x="851.1" y="1017.5" font-size="13.6" text-anchor="middle" fill="#262626" textLength="23.2" lengthAdjust="spacingAndGlyphs">EC</text>
<text x="1006.3" y="1017.5" font-size="13.6" text-anchor="middle" fill="#262626" textLength="23.2" lengthAdjust="spacingAndGlyphs">EO</text>
<text transform="translate(674.9 848.1) scale(1.3 1)" font-size="13.5" text-anchor="end">10</text>
<text transform="translate(675.3 841.7) scale(1.3 1)" font-size="10.6">-1</text>
<text transform="translate(648.2 861.1) rotate(-90) scale(1 1.3)" font-size="15" text-anchor="middle" textLength="89.4" lengthAdjust="spacingAndGlyphs">PSD [<tspan font-family="Liberation Serif, serif" font-style="italic">μ</tspan>V<tspan dy="-5" font-size="11.2">2</tspan><tspan dy="5">/Hz]</tspan></text>
<text x="929.2" y="717.4" font-size="15.4" text-anchor="middle" font-weight="bold" fill="#000" textLength="220.5" lengthAdjust="spacingAndGlyphs">Mean PSD  | <tspan font-family="Liberation Serif, serif" font-style="italic" font-weight="normal">θ</tspan> 3.9-7.8Hz</text>
</g>
<g>
<path d="M1389.4 722.4V999.8M1544.6 722.4V999.8M1234.5 845.8H1700.6" stroke="#dedede" stroke-width="1.5" fill="none"/>
<path d="M1236.5 966.9H1700.6M1236.5 936.4H1700.6M1236.5 914.8H1700.6M1236.5 898H1700.6M1236.5 884.2H1700.6M1236.5 872.6H1700.6M1236.5 862.6H1700.6M1236.5 853.7H1700.6M1236.5 793.6H1700.6M1236.5 763.1H1700.6M1236.5 741.5H1700.6M1236.5 724.7H1700.6" stroke="#b2b2b2" stroke-width="1.1" stroke-dasharray="1.5 1.9" fill="none"/>
<path d="M1412.7 830.5L1412.7 830.5L1420.5 832.1L1430.4 833.7L1430.9 833.8L1443.9 835.3L1458 836.9L1459 837L1468.4 838.5L1476.7 840.1L1477.7 840.3L1483 841.7L1487 843.1L1487.4 843.3L1490.5 844.9L1490.8 845.5L1490.4 846.5L1488.6 848.1L1487 849.2L1486.3 849.7L1482.6 851.3L1478.1 852.9L1473.8 854.5L1473 854.8L1470 856.1L1466.4 857.7L1463 859.3L1459.8 860.9L1459 861.4L1457 862.5L1454.4 864.1L1452 865.7L1449.7 867.3L1447.8 868.8L1447.7 868.9L1445.8 870.5L1444.1 872.1L1442.5 873.7L1441.1 875.3L1440.3 876.3L1439.9 876.9L1438.8 878.5L1437.9 880.1L1437 881.7L1436.3 883.3L1435.6 884.7L1435.5 884.9L1434.9 886.5L1434.3 888.1L1433.7 889.7L1433.2 891.3L1432.8 892.2L1432.5 892.9L1431.9 894.5L1431.3 896.1L1430.6 897.7L1430 898.8L1429.7 899.3L1428.4 900.9L1426.9 902.5L1425.5 904.1L1425.3 904.4L1424.3 905.7L1423.1 907.3L1422.3 908.9L1422.1 910L1422.1 910.5L1422.7 912.1L1423.7 913.7L1424.4 914.7L1425 915.3L1427.4 916.9L1428.6 918.4L1428.6 918.5L1426.6 920.1L1425.3 920.7L1423.1 921.7L1417.7 923.3L1412.7 924.5L1412.7 924.5Z" fill="#ff0000" fill-opacity="0.2" stroke="#444" stroke-width="0.6" stroke-linejoin="round"/>
<path d="M1366.1 847.1H1412.7V877.3H1366.1ZM1366.1 856.2H1412.7" fill="none" stroke="#000" stroke-width="1.7" stroke-linejoin="round"/>
<path d="M1389.4 847.1V835.6M1389.4 877.3V918.9" fill="none" stroke="#000" stroke-width="1.8" stroke-dasharray="5 4"/>
<path d="M1377.9 835.6h23M1377.9 918.9h23" fill="none" stroke="#111" stroke-width="1.6"/>
<g fill="#ff0000">
<ellipse cx="1393.4" cy="835.6" rx="3.3" ry="2.5"/>
<ellipse cx="1396.2" cy="838.9" rx="3.3" ry="2.5"/>
<ellipse cx="1389.2" cy="914.2" rx="3.3" ry="2.5"/>
<ellipse cx="1393.4" cy="918.9" rx="3.3" ry="2.5"/>
<ellipse cx="1393.4" cy="904.2" rx="3.3" ry="2.5"/>
<ellipse cx="1384.1" cy="899.7" rx="3.3" ry="2.5"/>
<ellipse cx="1389.2" cy="899.7" rx="3.3" ry="2.5"/>
<ellipse cx="1382.2" cy="893.3" rx="3.3" ry="2.5"/>
<ellipse cx="1387.8" cy="891.3" rx="3.3" ry="2.5"/>
<ellipse cx="1392.5" cy="891.3" rx="3.3" ry="2.5"/>
<ellipse cx="1393.4" cy="886.1" rx="3.3" ry="2.5"/>
<ellipse cx="1391.6" cy="880.2" rx="3.3" ry="2.5"/>
<ellipse cx="1382.7" cy="881" rx="3.3" ry="2.5"/>
<ellipse cx="1392.5" cy="835.4" rx="3.3" ry="2.5"/>
<ellipse cx="1384.8" cy="837" rx="3.3" ry="2.5"/>
<ellipse cx="1394.3" cy="837" rx="3.3" ry="2.5"/>
<ellipse cx="1387.5" cy="838.6" rx="3.3" ry="2.5"/>
<ellipse cx="1384.6" cy="840.2" rx="3.3" ry="2.5"/>
<ellipse cx="1389.3" cy="840.6" rx="3.3" ry="2.5"/>
<ellipse cx="1395.8" cy="840.8" rx="3.3" ry="2.5"/>
<ellipse cx="1383" cy="842.4" rx="3.3" ry="2.5"/>
<ellipse cx="1393.6" cy="843.2" rx="3.3" ry="2.5"/>
<ellipse cx="1391.8" cy="843.4" rx="3.3" ry="2.5"/>
<ellipse cx="1382" cy="844.8" rx="3.3" ry="2.5"/>
<ellipse cx="1391.6" cy="845.3" rx="3.3" ry="2.5"/>
<ellipse cx="1391.1" cy="845.4" rx="3.3" ry="2.5"/>
<ellipse cx="1391.7" cy="846.1" rx="3.3" ry="2.5"/>
<ellipse cx="1389.8" cy="847.4" rx="3.3" ry="2.5"/>
<ellipse cx="1387.8" cy="847.9" rx="3.3" ry="2.5"/>
<ellipse cx="1393.2" cy="848.9" rx="3.3" ry="2.5"/>
<ellipse cx="1393.6" cy="849.7" rx="3.3" ry="2.5"/>
<ellipse cx="1384.4" cy="850.4" rx="3.3" ry="2.5"/>
<ellipse cx="1385.8" cy="851.9" rx="3.3" ry="2.5"/>
<ellipse cx="1384.4" cy="853.7" rx="3.3" ry="2.5"/>
<ellipse cx="1382" cy="854.6" rx="3.3" ry="2.5"/>
<ellipse cx="1387.1" cy="854.9" rx="3.3" ry="2.5"/>
<ellipse cx="1388.1" cy="855.9" rx="3.3" ry="2.5"/>
<ellipse cx="1388.5" cy="857.1" rx="3.3" ry="2.5"/>
<ellipse cx="1387.2" cy="859.7" rx="3.3" ry="2.5"/>
<ellipse cx="1393.7" cy="860.7" rx="3.3" ry="2.5"/>
<ellipse cx="1387.2" cy="861.3" rx="3.3" ry="2.5"/>
<ellipse cx="1389.7" cy="863.3" rx="3.3" ry="2.5"/>
<ellipse cx="1393.4" cy="864.7" rx="3.3" ry="2.5"/>
<ellipse cx="1383.2" cy="867.8" rx="3.3" ry="2.5"/>
<ellipse cx="1382.7" cy="868.9" rx="3.3" ry="2.5"/>
<ellipse cx="1383.5" cy="871" rx="3.3" ry="2.5"/>
<ellipse cx="1390.2" cy="873.6" rx="3.3" ry="2.5"/>
<ellipse cx="1386.4" cy="876.7" rx="3.3" ry="2.5"/>
<ellipse cx="1389.6" cy="879.1" rx="3.3" ry="2.5"/>
<ellipse cx="1395.6" cy="883.1" rx="3.3" ry="2.5"/>
<ellipse cx="1393.6" cy="884.8" rx="3.3" ry="2.5"/>
<ellipse cx="1395.4" cy="889.3" rx="3.3" ry="2.5"/>
<ellipse cx="1381.9" cy="892.8" rx="3.3" ry="2.5"/>
<ellipse cx="1393.9" cy="894.3" rx="3.3" ry="2.5"/>
<ellipse cx="1391.1" cy="899.1" rx="3.3" ry="2.5"/>
<ellipse cx="1390.3" cy="903.5" rx="3.3" ry="2.5"/>
<ellipse cx="1388.8" cy="911.2" rx="3.3" ry="2.5"/>
<ellipse cx="1395.4" cy="914.9" rx="3.3" ry="2.5"/>
</g>
<path d="M1567.9 842.9L1567.9 842.9L1578.4 844.5L1585.7 845.7L1588.3 846.1L1595 847.4L1595.3 847.7L1596 849.3L1596.4 850.2L1596.9 850.9L1597.8 852.1L1598.4 852.5L1601.5 854.1L1605.8 855.7L1610.4 857.3L1613.7 858.6L1614.4 858.9L1618.3 860.5L1622.3 862.1L1625.7 863.7L1627.7 865.2L1627.9 865.3L1629.4 866.9L1630.7 868.5L1631.6 870.1L1632 871.7L1632 871.7L1631.7 873.3L1631 874.9L1630.1 876.5L1629.2 878.1L1628.7 879.2L1628.5 879.7L1627.7 881.3L1627 882.9L1626.2 884.5L1625.6 886.1L1625.1 887.7L1624.9 889.3L1624.9 889.5L1625 890.9L1625.2 892.5L1625.5 894.1L1625.9 895.7L1626.4 897.3L1626.8 898.8L1626.8 898.9L1627.4 900.5L1628.3 902.1L1629.2 903.7L1630.3 905.3L1631.4 906.9L1632.6 908.5L1633.7 910.1L1634.3 911L1634.8 911.7L1635.9 913.3L1637 914.9L1638.2 916.5L1639.3 918.1L1640.4 919.7L1641.3 921.3L1641.8 922.2L1642.1 922.9L1642.9 924.5L1643.7 926.1L1644.4 927.7L1645 929.3L1645.4 930.9L1645.5 932.5L1645.5 932.5L1645.4 934.1L1645 935.7L1644.5 937.3L1643.8 938.9L1643 940.5L1642.2 942.1L1641.8 942.8L1641.1 943.7L1639.5 945.3L1637.5 946.9L1635.2 948.5L1632.7 950.1L1632.4 950.3L1629.9 951.7L1626.5 953.3L1622.8 954.9L1619 956.5L1615.1 958.1L1613.7 958.7L1611.2 959.7L1607.1 961.3L1603 962.9L1598.9 964.5L1595.1 966.1L1595 966.2L1591.6 967.7L1588.1 969.3L1584.9 970.9L1582.2 972.5L1581.9 972.7L1579.9 974.1L1577.7 975.7L1576.8 977.3L1576.8 977.4L1577.6 978.9L1579.4 980.5L1580.1 981.1L1581.5 982.1L1583.7 983.7L1583.8 984.1L1581.5 985.3L1576.3 986.7L1575.7 986.9L1569.2 988.5L1567.9 988.8L1567.9 988.8Z" fill="#0000ff" fill-opacity="0.2" stroke="#444" stroke-width="0.6" stroke-linejoin="round"/>
<path d="M1521.3 879H1567.9V934.8H1521.3ZM1521.3 915.2H1567.9" fill="none" stroke="#000" stroke-width="1.7" stroke-linejoin="round"/>
<path d="M1544.6 879V848.3M1544.6 934.8V983.2" fill="none" stroke="#000" stroke-width="1.8" stroke-dasharray="5 4"/>
<path d="M1533.1 848.3h23M1533.1 983.2h23" fill="none" stroke="#111" stroke-width="1.6"/>
<g fill="#0000ff">
<ellipse cx="1539.3" cy="848.3" rx="3.3" ry="2.5"/>
<ellipse cx="1543.5" cy="851.6" rx="3.3" ry="2.5"/>
<ellipse cx="1548.2" cy="958.2" rx="3.3" ry="2.5"/>
<ellipse cx="1550.5" cy="966.4" rx="3.3" ry="2.5"/>
<ellipse cx="1543.5" cy="983.2" rx="3.3" ry="2.5"/>
<ellipse cx="1539" cy="849.3" rx="3.3" ry="2.5"/>
<ellipse cx="1539.7" cy="853.4" rx="3.3" ry="2.5"/>
<ellipse cx="1544.1" cy="855.8" rx="3.3" ry="2.5"/>
<ellipse cx="1540.2" cy="858.9" rx="3.3" ry="2.5"/>
<ellipse cx="1549.8" cy="862" rx="3.3" ry="2.5"/>
<ellipse cx="1539.9" cy="864" rx="3.3" ry="2.5"/>
<ellipse cx="1540.6" cy="865.3" rx="3.3" ry="2.5"/>
<ellipse cx="1552" cy="867.8" rx="3.3" ry="2.5"/>
<ellipse cx="1552" cy="870.9" rx="3.3" ry="2.5"/>
<ellipse cx="1550.7" cy="871.7" rx="3.3" ry="2.5"/>
<ellipse cx="1547.5" cy="875" rx="3.3" ry="2.5"/>
<ellipse cx="1541.1" cy="878.1" rx="3.3" ry="2.5"/>
<ellipse cx="1547.3" cy="879.1" rx="3.3" ry="2.5"/>
<ellipse cx="1537.2" cy="880.5" rx="3.3" ry="2.5"/>
<ellipse cx="1546.6" cy="885.1" rx="3.3" ry="2.5"/>
<ellipse cx="1544.9" cy="886.5" rx="3.3" ry="2.5"/>
<ellipse cx="1541.2" cy="889.8" rx="3.3" ry="2.5"/>
<ellipse cx="1543.3" cy="890.3" rx="3.3" ry="2.5"/>
<ellipse cx="1542.6" cy="893.3" rx="3.3" ry="2.5"/>
<ellipse cx="1548.6" cy="895.7" rx="3.3" ry="2.5"/>
<ellipse cx="1542.7" cy="899.1" rx="3.3" ry="2.5"/>
<ellipse cx="1540.9" cy="900.7" rx="3.3" ry="2.5"/>
<ellipse cx="1550.3" cy="904.9" rx="3.3" ry="2.5"/>
<ellipse cx="1539.7" cy="906.8" rx="3.3" ry="2.5"/>
<ellipse cx="1548.7" cy="908.1" rx="3.3" ry="2.5"/>
<ellipse cx="1547.5" cy="910.4" rx="3.3" ry="2.5"/>
<ellipse cx="1537.5" cy="912" rx="3.3" ry="2.5"/>
<ellipse cx="1550.9" cy="913.9" rx="3.3" ry="2.5"/>
<ellipse cx="1547.3" cy="916.6" rx="3.3" ry="2.5"/>
<ellipse cx="1543.1" cy="919.8" rx="3.3" ry="2.5"/>
<ellipse cx="1550.1" cy="921.4" rx="3.3" ry="2.5"/>
<ellipse cx="1544.9" cy="922.8" rx="3.3" ry="2.5"/>
<ellipse cx="1543.8" cy="924.4" rx="3.3" ry="2.5"/>
<ellipse cx="1547.2" cy="926.3" rx="3.3" ry="2.5"/>
<ellipse cx="1550.2" cy="928.1" rx="3.3" ry="2.5"/>
<ellipse cx="1540.5" cy="930.3" rx="3.3" ry="2.5"/>
<ellipse cx="1537.2" cy="932.5" rx="3.3" ry="2.5"/>
<ellipse cx="1545.4" cy="933.2" rx="3.3" ry="2.5"/>
<ellipse cx="1549.6" cy="935.4" rx="3.3" ry="2.5"/>
<ellipse cx="1544.7" cy="938.1" rx="3.3" ry="2.5"/>
<ellipse cx="1552" cy="938.8" rx="3.3" ry="2.5"/>
<ellipse cx="1542.5" cy="941.8" rx="3.3" ry="2.5"/>
<ellipse cx="1540" cy="942.8" rx="3.3" ry="2.5"/>
<ellipse cx="1539" cy="944.1" rx="3.3" ry="2.5"/>
<ellipse cx="1541.5" cy="947.8" rx="3.3" ry="2.5"/>
<ellipse cx="1546.9" cy="949.9" rx="3.3" ry="2.5"/>
<ellipse cx="1548.6" cy="950.2" rx="3.3" ry="2.5"/>
<ellipse cx="1549.2" cy="952.8" rx="3.3" ry="2.5"/>
<ellipse cx="1543.9" cy="958.1" rx="3.3" ry="2.5"/>
<ellipse cx="1544.7" cy="958.7" rx="3.3" ry="2.5"/>
<ellipse cx="1551.9" cy="965.3" rx="3.3" ry="2.5"/>
<ellipse cx="1543.1" cy="969.3" rx="3.3" ry="2.5"/>
<ellipse cx="1547.6" cy="976.2" rx="3.3" ry="2.5"/>
</g>
<path d="M1405 740.6H1529.2" stroke="#000" stroke-width="1" fill="none"/>
<text transform="translate(1467 745.6) scale(1.25 1)" font-size="15" text-anchor="middle" font-weight="bold" fill="#000">*</text>
<text x="1478.6" y="734.8" font-size="12.6" fill="#262626" textLength="64" lengthAdjust="spacingAndGlyphs">p&lt;0.001</text>
<path d="M1389.4 999.8v-4.6M1389.4 722.4v4.6M1544.6 999.8v-4.6M1544.6 722.4v4.6M1234.5 845.8h4.6M1700.6 845.8h-4.6M1234.5 966.9h2.6M1700.6 966.9h-2.6M1234.5 936.4h2.6M1700.6 936.4h-2.6M1234.5 914.8h2.6M1700.6 914.8h-2.6M1234.5 898h2.6M1700.6 898h-2.6M1234.5 884.2h2.6M1700.6 884.2h-2.6M1234.5 872.6h2.6M1700.6 872.6h-2.6M1234.5 862.6h2.6M1700.6 862.6h-2.6M1234.5 853.7h2.6M1700.6 853.7h-2.6M1234.5 793.6h2.6M1700.6 793.6h-2.6M1234.5 763.1h2.6M1700.6 763.1h-2.6M1234.5 741.5h2.6M1700.6 741.5h-2.6M1234.5 724.7h2.6M1700.6 724.7h-2.6" stroke="#3a3a3a" stroke-width="1.4" fill="none"/>
<rect x="1234.5" y="722.4" width="466.1" height="277.4" fill="none" stroke="#3a3a3a" stroke-width="1.8"/>
<text x="1389.4" y="1017.5" font-size="13.6" text-anchor="middle" fill="#262626" textLength="23.2" lengthAdjust="spacingAndGlyphs">EC</text>
<text x="1544.6" y="1017.5" font-size="13.6" text-anchor="middle" fill="#262626" textLength="23.2" lengthAdjust="spacingAndGlyphs">EO</text>
<text transform="translate(1213.2 852.9) scale(1.3 1)" font-size="13.5" text-anchor="end">10</text>
<text transform="translate(1213.6 846.5) scale(1.3 1)" font-size="10.6">-1</text>
<text transform="translate(1186.5 861.1) rotate(-90) scale(1 1.3)" font-size="15" text-anchor="middle" textLength="89.4" lengthAdjust="spacingAndGlyphs">PSD [<tspan font-family="Liberation Serif, serif" font-style="italic">μ</tspan>V<tspan dy="-5" font-size="11.2">2</tspan><tspan dy="5">/Hz]</tspan></text>
<text x="1467.5" y="717.4" font-size="15.4" text-anchor="middle" font-weight="bold" fill="#000" textLength="234.4" lengthAdjust="spacingAndGlyphs">Mean PSD  | <tspan font-family="Liberation Serif, serif" font-style="italic" font-weight="normal">α</tspan> 7.8-13.2Hz</text>
</g>
<g>
<path d="M312.8 1046.1V1323.5M468 1046.1V1323.5M157.9 1236H624" stroke="#dedede" stroke-width="1.5" fill="none"/>
<path d="M159.9 1315.6H624M159.9 1296.2H624M159.9 1280.4H624M159.9 1267H624M159.9 1255.4H624M159.9 1245.2H624M159.9 1175.8H624M159.9 1140.6H624M159.9 1115.6H624M159.9 1096.2H624M159.9 1080.4H624M159.9 1067H624M159.9 1055.4H624" stroke="#b2b2b2" stroke-width="1.1" stroke-dasharray="1.5 1.9" fill="none"/>
<path d="M336.1 1178.8L336.1 1178.8L345.2 1180.4L345.5 1180.5L349.9 1182L350.1 1182.4L349.2 1183.6L347.3 1185.2L347.3 1185.2L346.2 1186.8L345.5 1188L345.1 1188.4L343.8 1190L342.5 1191.6L341.5 1193.2L341.2 1194.5L341.3 1194.8L341.6 1196.4L342.5 1198L343.6 1199.6L344.9 1201.2L345.5 1202L346.1 1202.8L347.8 1204.4L349.7 1206L351.8 1207.6L353.6 1209.2L354.8 1210.4L355.1 1210.8L356.4 1212.4L357.6 1214L358.7 1215.6L359.5 1217L359.6 1217.2L360.3 1218.8L360.9 1220.4L361.5 1222L362.3 1223.5L362.3 1223.6L363.5 1225.2L365 1226.8L366.7 1228.4L368.8 1230L368.8 1230.1L371.4 1231.6L374.8 1233.2L378.6 1234.8L382.4 1236.4L382.9 1236.6L386.3 1238L390.5 1239.6L394.8 1241.2L398.8 1242.8L401.6 1244.1L402.2 1244.4L405.3 1246L408.1 1247.6L410.4 1249.2L410.9 1249.7L412.1 1250.8L413.6 1252.4L413.9 1253.4L413.8 1254L412.5 1255.6L410.4 1257.2L409 1258.1L407.9 1258.8L404.3 1260.4L399.9 1262L395.2 1263.6L392.2 1264.7L390.7 1265.2L385.9 1266.8L381.1 1268.4L376.5 1270L373.5 1271.2L372.6 1271.6L369 1273.2L365.7 1274.8L362.9 1276.4L362.3 1276.8L360.6 1278L358.5 1279.6L356.7 1281.2L355.2 1282.8L354.8 1283.4L354 1284.4L352.7 1286L352 1287.6L352 1288L352.4 1289.2L353.7 1290.8L354.8 1291.8L355.8 1292.4L359.7 1294L364.2 1295.5L364.4 1295.6L371 1297.2L373.5 1298.3L373.3 1298.8L370.5 1300.4L368.8 1301.1L366.3 1302L360.1 1303.6L354.8 1304.9L353.4 1305.2L346.6 1306.8L339.3 1308.4L336.1 1309.1L336.1 1309.1Z" fill="#ff0000" fill-opacity="0.2" stroke="#444" stroke-width="0.6" stroke-linejoin="round"/>
<path d="M289.5 1238.9H336.1V1263.9H289.5ZM289.5 1251.1H336.1" fill="none" stroke="#000" stroke-width="1.7" stroke-linejoin="round"/>
<path d="M312.8 1238.9V1211.8M312.8 1263.9V1304.1" fill="none" stroke="#000" stroke-width="1.8" stroke-dasharray="5 4"/>
<path d="M301.3 1211.8h23M301.3 1304.1h23" fill="none" stroke="#111" stroke-width="1.6"/>
<g fill="#ff0000">
<ellipse cx="318.2" cy="1183.1" rx="3.3" ry="2.5"/>
<ellipse cx="309.6" cy="1189.1" rx="3.3" ry="2.5"/>
<ellipse cx="318.2" cy="1200.8" rx="3.3" ry="2.5"/>
<ellipse cx="308.4" cy="1209.3" rx="3.3" ry="2.5"/>
<ellipse cx="317.8" cy="1211.5" rx="3.3" ry="2.5"/>
<ellipse cx="317.8" cy="1224" rx="3.3" ry="2.5"/>
<ellipse cx="308.9" cy="1304.1" rx="3.3" ry="2.5"/>
<ellipse cx="315.4" cy="1300.9" rx="3.3" ry="2.5"/>
<ellipse cx="307.9" cy="1296.5" rx="3.3" ry="2.5"/>
<ellipse cx="315" cy="1292.7" rx="3.3" ry="2.5"/>
<ellipse cx="308.9" cy="1282.9" rx="3.3" ry="2.5"/>
<ellipse cx="314.5" cy="1281.5" rx="3.3" ry="2.5"/>
<ellipse cx="318.7" cy="1272.6" rx="3.3" ry="2.5"/>
<ellipse cx="313.1" cy="1273.5" rx="3.3" ry="2.5"/>
<ellipse cx="314" cy="1212.4" rx="3.3" ry="2.5"/>
<ellipse cx="315.2" cy="1218.8" rx="3.3" ry="2.5"/>
<ellipse cx="309.9" cy="1221.1" rx="3.3" ry="2.5"/>
<ellipse cx="320.4" cy="1223.5" rx="3.3" ry="2.5"/>
<ellipse cx="309" cy="1228.5" rx="3.3" ry="2.5"/>
<ellipse cx="316" cy="1230.1" rx="3.3" ry="2.5"/>
<ellipse cx="309.5" cy="1233.7" rx="3.3" ry="2.5"/>
<ellipse cx="308" cy="1234.7" rx="3.3" ry="2.5"/>
<ellipse cx="319.2" cy="1236.6" rx="3.3" ry="2.5"/>
<ellipse cx="307.3" cy="1238.6" rx="3.3" ry="2.5"/>
<ellipse cx="306.4" cy="1239.9" rx="3.3" ry="2.5"/>
<ellipse cx="312.7" cy="1241.4" rx="3.3" ry="2.5"/>
<ellipse cx="309.3" cy="1243" rx="3.3" ry="2.5"/>
<ellipse cx="311.6" cy="1244.2" rx="3.3" ry="2.5"/>
<ellipse cx="308.8" cy="1246" rx="3.3" ry="2.5"/>
<ellipse cx="311.3" cy="1247.1" rx="3.3" ry="2.5"/>
<ellipse cx="309.7" cy="1248.1" rx="3.3" ry="2.5"/>
<ellipse cx="318" cy="1249.6" rx="3.3" ry="2.5"/>
<ellipse cx="318.7" cy="1250.3" rx="3.3" ry="2.5"/>
<ellipse cx="309.7" cy="1251.6" rx="3.3" ry="2.5"/>
<ellipse cx="313.8" cy="1252.3" rx="3.3" ry="2.5"/>
<ellipse cx="317.1" cy="1253.5" rx="3.3" ry="2.5"/>
<ellipse cx="317.3" cy="1254.5" rx="3.3" ry="2.5"/>
<ellipse cx="315.4" cy="1256" rx="3.3" ry="2.5"/>
<ellipse cx="317.3" cy="1257.1" rx="3.3" ry="2.5"/>
<ellipse cx="317.3" cy="1257.8" rx="3.3" ry="2.5"/>
<ellipse cx="313" cy="1258.8" rx="3.3" ry="2.5"/>
<ellipse cx="311" cy="1259.6" rx="3.3" ry="2.5"/>
<ellipse cx="313.8" cy="1261.7" rx="3.3" ry="2.5"/>
<ellipse cx="311.1" cy="1263.3" rx="3.3" ry="2.5"/>
<ellipse cx="315.6" cy="1264.9" rx="3.3" ry="2.5"/>
<ellipse cx="319.8" cy="1266.7" rx="3.3" ry="2.5"/>
<ellipse cx="311.3" cy="1266.9" rx="3.3" ry="2.5"/>
<ellipse cx="313.3" cy="1271.2" rx="3.3" ry="2.5"/>
<ellipse cx="309.1" cy="1272.8" rx="3.3" ry="2.5"/>
<ellipse cx="318.3" cy="1275.6" rx="3.3" ry="2.5"/>
<ellipse cx="318.6" cy="1279.8" rx="3.3" ry="2.5"/>
<ellipse cx="319.2" cy="1285.6" rx="3.3" ry="2.5"/>
<ellipse cx="319.1" cy="1290.4" rx="3.3" ry="2.5"/>
<ellipse cx="319.3" cy="1294.3" rx="3.3" ry="2.5"/>
<ellipse cx="311.4" cy="1295.6" rx="3.3" ry="2.5"/>
<ellipse cx="316.9" cy="1297.8" rx="3.3" ry="2.5"/>
<ellipse cx="315.4" cy="1300.8" rx="3.3" ry="2.5"/>
<ellipse cx="306.4" cy="1301.6" rx="3.3" ry="2.5"/>
</g>
<path d="M491.3 1172.3L491.3 1172.3L500.1 1173.9L500.4 1174L503.9 1175.5L504.1 1175.8L501.7 1177.1L500.4 1177.7L499.1 1178.7L498.5 1179.6L499.1 1180.3L503.5 1181.9L508.5 1183.5L509.7 1184.2L510.3 1185.1L511.1 1186.7L511.6 1188.3L512.5 1189.8L512.5 1189.9L514.2 1191.5L516.6 1193.1L519.1 1194.5L519.3 1194.7L523.4 1196.3L527.9 1197.9L530.3 1199.2L530.6 1199.5L531.9 1201.1L532.6 1202.7L532.6 1202.9L532.1 1204.3L530.5 1205.9L529 1207.5L528.4 1208.6L528.3 1209.1L528.1 1210.7L528 1212.3L528 1212.3L529.7 1213.9L533.6 1215.5L537.8 1217L538 1217.1L543.1 1218.7L549 1220.3L554.5 1221.9L556.5 1222.6L558.7 1223.5L562.5 1225.1L565.7 1226.7L567.7 1228.2L567.8 1228.3L569.2 1229.9L569.6 1231L569.5 1231.5L568 1233.1L565.6 1234.7L564 1235.7L563 1236.3L559.9 1237.9L556.2 1239.5L552.2 1241.1L548.3 1242.7L547.1 1243.2L544.4 1244.3L540.5 1245.9L536.4 1247.5L532.4 1249.1L528.4 1250.6L528.3 1250.7L524.3 1252.3L520.1 1253.9L516 1255.5L512.1 1257.1L509.7 1258.1L508.5 1258.7L504.9 1260.3L501.5 1261.9L498.8 1263.5L498.5 1263.7L496.8 1265.1L495 1266.7L493.5 1268.3L492.6 1269.9L492.4 1270.3L492.1 1271.5L491.6 1273.1L491.4 1274.7L491.3 1275.9L491.3 1276.3L491.3 1277.9L491.3 1279.5L491.3 1279.6L491.6 1281.1L492.4 1282.7L492.9 1283.4L494.4 1284.3L498.7 1285.9L499.4 1286.2L502.6 1287.5L503.2 1288L501.5 1289.1L498.5 1290.1L496.8 1290.7L491.3 1292.2L491.3 1292.2Z" fill="#0000ff" fill-opacity="0.2" stroke="#444" stroke-width="0.6" stroke-linejoin="round"/>
<path d="M444.7 1207.4H491.3V1237.5H444.7ZM444.7 1228.4H491.3" fill="none" stroke="#000" stroke-width="1.7" stroke-linejoin="round"/>
<path d="M468 1207.4V1176M468 1237.5V1287.8" fill="none" stroke="#000" stroke-width="1.8" stroke-dasharray="5 4"/>
<path d="M456.5 1176h23M456.5 1287.8h23" fill="none" stroke="#111" stroke-width="1.6"/>
<g fill="#0000ff">
<ellipse cx="468.5" cy="1176" rx="3.3" ry="2.5"/>
<ellipse cx="460.1" cy="1184.7" rx="3.3" ry="2.5"/>
<ellipse cx="472.2" cy="1186.1" rx="3.3" ry="2.5"/>
<ellipse cx="468" cy="1188.9" rx="3.3" ry="2.5"/>
<ellipse cx="473.9" cy="1191.7" rx="3.3" ry="2.5"/>
<ellipse cx="467.5" cy="1287.8" rx="3.3" ry="2.5"/>
<ellipse cx="475" cy="1253.9" rx="3.3" ry="2.5"/>
<ellipse cx="469.4" cy="1257.2" rx="3.3" ry="2.5"/>
<ellipse cx="472.2" cy="1257.9" rx="3.3" ry="2.5"/>
<ellipse cx="472.8" cy="1175.8" rx="3.3" ry="2.5"/>
<ellipse cx="466.3" cy="1184.8" rx="3.3" ry="2.5"/>
<ellipse cx="463.4" cy="1186.5" rx="3.3" ry="2.5"/>
<ellipse cx="463.7" cy="1189.9" rx="3.3" ry="2.5"/>
<ellipse cx="473.4" cy="1193.3" rx="3.3" ry="2.5"/>
<ellipse cx="463.3" cy="1195.1" rx="3.3" ry="2.5"/>
<ellipse cx="474.3" cy="1199.3" rx="3.3" ry="2.5"/>
<ellipse cx="465.3" cy="1199.3" rx="3.3" ry="2.5"/>
<ellipse cx="466.3" cy="1202.8" rx="3.3" ry="2.5"/>
<ellipse cx="470.9" cy="1203.3" rx="3.3" ry="2.5"/>
<ellipse cx="461.2" cy="1205.6" rx="3.3" ry="2.5"/>
<ellipse cx="472.8" cy="1208.1" rx="3.3" ry="2.5"/>
<ellipse cx="465.7" cy="1208.9" rx="3.3" ry="2.5"/>
<ellipse cx="475.4" cy="1212.1" rx="3.3" ry="2.5"/>
<ellipse cx="463.5" cy="1213.7" rx="3.3" ry="2.5"/>
<ellipse cx="467.8" cy="1215.6" rx="3.3" ry="2.5"/>
<ellipse cx="475.2" cy="1217" rx="3.3" ry="2.5"/>
<ellipse cx="474.1" cy="1217.6" rx="3.3" ry="2.5"/>
<ellipse cx="462.1" cy="1220" rx="3.3" ry="2.5"/>
<ellipse cx="474.8" cy="1220.9" rx="3.3" ry="2.5"/>
<ellipse cx="467.1" cy="1222" rx="3.3" ry="2.5"/>
<ellipse cx="465.8" cy="1223" rx="3.3" ry="2.5"/>
<ellipse cx="463.2" cy="1224.2" rx="3.3" ry="2.5"/>
<ellipse cx="468.8" cy="1225.4" rx="3.3" ry="2.5"/>
<ellipse cx="472.4" cy="1225.9" rx="3.3" ry="2.5"/>
<ellipse cx="473.4" cy="1228.1" rx="3.3" ry="2.5"/>
<ellipse cx="468.5" cy="1228.2" rx="3.3" ry="2.5"/>
<ellipse cx="471.6" cy="1228.3" rx="3.3" ry="2.5"/>
<ellipse cx="473.9" cy="1230.1" rx="3.3" ry="2.5"/>
<ellipse cx="464.2" cy="1230.5" rx="3.3" ry="2.5"/>
<ellipse cx="474.5" cy="1231.2" rx="3.3" ry="2.5"/>
<ellipse cx="462.5" cy="1232.4" rx="3.3" ry="2.5"/>
<ellipse cx="467.2" cy="1233.8" rx="3.3" ry="2.5"/>
<ellipse cx="472.3" cy="1234.7" rx="3.3" ry="2.5"/>
<ellipse cx="467.8" cy="1235.7" rx="3.3" ry="2.5"/>
<ellipse cx="466.3" cy="1236" rx="3.3" ry="2.5"/>
<ellipse cx="463.2" cy="1237.2" rx="3.3" ry="2.5"/>
<ellipse cx="468.9" cy="1238.3" rx="3.3" ry="2.5"/>
<ellipse cx="469.3" cy="1241.2" rx="3.3" ry="2.5"/>
<ellipse cx="460.9" cy="1241.9" rx="3.3" ry="2.5"/>
<ellipse cx="465.2" cy="1243.3" rx="3.3" ry="2.5"/>
<ellipse cx="471.3" cy="1243.8" rx="3.3" ry="2.5"/>
<ellipse cx="462.1" cy="1246.8" rx="3.3" ry="2.5"/>
<ellipse cx="463.7" cy="1247.2" rx="3.3" ry="2.5"/>
<ellipse cx="468.2" cy="1250.7" rx="3.3" ry="2.5"/>
<ellipse cx="470.3" cy="1250.8" rx="3.3" ry="2.5"/>
<ellipse cx="462" cy="1255.6" rx="3.3" ry="2.5"/>
<ellipse cx="466.1" cy="1258" rx="3.3" ry="2.5"/>
<ellipse cx="466.9" cy="1287.9" rx="3.3" ry="2.5"/>
</g>
<path d="M328.4 1067.2H452.6" stroke="#000" stroke-width="1" fill="none"/>
<text transform="translate(390.4 1072.2) scale(1.25 1)" font-size="15" text-anchor="middle" font-weight="bold" fill="#000">*</text>
<text x="402" y="1061.4" font-size="12.6" fill="#262626" textLength="64" lengthAdjust="spacingAndGlyphs">p&lt;0.001</text>
<path d="M312.8 1323.5v-4.6M312.8 1046.1v4.6M468 1323.5v-4.6M468 1046.1v4.6M157.9 1236h4.6M624 1236h-4.6M157.9 1315.6h2.6M624 1315.6h-2.6M157.9 1296.2h2.6M624 1296.2h-2.6M157.9 1280.4h2.6M624 1280.4h-2.6M157.9 1267h2.6M624 1267h-2.6M157.9 1255.4h2.6M624 1255.4h-2.6M157.9 1245.2h2.6M624 1245.2h-2.6M157.9 1175.8h2.6M624 1175.8h-2.6M157.9 1140.6h2.6M624 1140.6h-2.6M157.9 1115.6h2.6M624 1115.6h-2.6M157.9 1096.2h2.6M624 1096.2h-2.6M157.9 1080.4h2.6M624 1080.4h-2.6M157.9 1067h2.6M624 1067h-2.6M157.9 1055.4h2.6M624 1055.4h-2.6" stroke="#3a3a3a" stroke-width="1.4" fill="none"/>
<rect x="157.9" y="1046.1" width="466.1" height="277.4" fill="none" stroke="#3a3a3a" stroke-width="1.8"/>
<text x="312.8" y="1341.2" font-size="13.6" text-anchor="middle" fill="#262626" textLength="23.2" lengthAdjust="spacingAndGlyphs">EC</text>
<text x="468" y="1341.2" font-size="13.6" text-anchor="middle" fill="#262626" textLength="23.2" lengthAdjust="spacingAndGlyphs">EO</text>
<text transform="translate(136.6 1243.1) scale(1.3 1)" font-size="13.5" text-anchor="end">10</text>
<text transform="translate(137 1236.7) scale(1.3 1)" font-size="10.6">-2</text>
<text transform="translate(109.9 1184.8) rotate(-90) scale(1 1.3)" font-size="15" text-anchor="middle" textLength="89.4" lengthAdjust="spacingAndGlyphs">PSD [<tspan font-family="Liberation Serif, serif" font-style="italic">μ</tspan>V<tspan dy="-5" font-size="11.2">2</tspan><tspan dy="5">/Hz]</tspan></text>
<text x="391" y="1041.1" font-size="15.4" text-anchor="middle" font-weight="bold" fill="#000" textLength="243.5" lengthAdjust="spacingAndGlyphs">Mean PSD  | <tspan font-family="Liberation Serif, serif" font-style="italic" font-weight="normal">β</tspan> 13.2-29.8Hz</text>
</g>
<g>
<path d="M851.1 1046.1V1323.5M1006.3 1046.1V1323.5M696.2 1317.6H1162.3M696.2 1171.6H1162.3" stroke="#dedede" stroke-width="1.5" fill="none"/>
<path d="M698.2 1273.6H1162.3M698.2 1247.9H1162.3M698.2 1229.7H1162.3M698.2 1215.6H1162.3M698.2 1204H1162.3M698.2 1194.2H1162.3M698.2 1185.7H1162.3M698.2 1178.3H1162.3M698.2 1127.6H1162.3M698.2 1101.9H1162.3M698.2 1083.7H1162.3M698.2 1069.6H1162.3M698.2 1058H1162.3M698.2 1048.2H1162.3" stroke="#b2b2b2" stroke-width="1.1" stroke-dasharray="1.5 1.9" fill="none"/>
<path d="M874.4 1177.2L874.4 1177.2L882.5 1178.6L883.1 1178.8L886.4 1180.4L886.7 1181L886 1182L884.9 1183.3L884.8 1183.6L884.4 1185.2L884.4 1185.2L884.9 1186.8L886.2 1188.4L888 1190L889.9 1191.6L891.7 1193.2L892.8 1194.5L893 1194.8L894.1 1196.4L895.1 1198L896 1199.6L896.9 1201.2L897.7 1202.8L898.5 1204.4L899.4 1206L900.3 1207.6L900.3 1207.6L901.2 1209.2L902.2 1210.8L903.2 1212.4L904.1 1214L905.1 1215.6L906 1217.2L906.8 1218.8L906.8 1218.8L907.7 1220.4L908.4 1222L909.2 1223.6L909.9 1225.2L910.6 1226.8L911.3 1228.4L911.5 1229.1L911.8 1230L912.4 1231.6L912.9 1233.2L913.4 1234.8L913.9 1236.4L914.2 1238L914.3 1238.5L914.6 1239.6L914.9 1241.2L915.1 1242.8L915.4 1244.4L915.6 1246L915.7 1247.6L915.7 1247.8L915.8 1249.2L915.9 1250.8L915.9 1252.4L916 1254L916 1255.6L916.1 1257.2L916.1 1258.8L916.2 1260.4L916.2 1260.9L916.3 1262L916.3 1263.6L916.4 1265.2L916.6 1266.8L916.7 1268.4L916.8 1270L917 1271.6L917.1 1273.1L917.2 1273.2L917.4 1274.8L917.6 1276.4L917.9 1278L918.3 1279.6L918.7 1281.2L919 1282.4L919.1 1282.8L919.7 1284.4L920.4 1286L921.3 1287.6L922.4 1289.2L923.7 1290.8L923.7 1290.8L925.6 1292.4L928.3 1294L931.5 1295.6L934.6 1297.2L934.9 1297.4L938 1298.8L942.2 1300.4L946.3 1302L949.7 1303.6L951.6 1305.2L951.7 1305.8L948.8 1306.8L939.6 1308.1L936.8 1308.4L911.5 1310L911.3 1310L886.2 1311.6L874.4 1312.3L874.4 1312.3Z" fill="#ff0000" fill-opacity="0.2" stroke="#444" stroke-width="0.6" stroke-linejoin="round"/>
<path d="M827.8 1234.3H874.4V1289.4H827.8ZM827.8 1261.4H874.4" fill="none" stroke="#000" stroke-width="1.7" stroke-linejoin="round"/>
<path d="M851.1 1234.3V1196.6M851.1 1289.4V1306.7" fill="none" stroke="#000" stroke-width="1.8" stroke-dasharray="5 4"/>
<path d="M839.6 1196.6h23M839.6 1306.7h23" fill="none" stroke="#111" stroke-width="1.6"/>
<g fill="#ff0000">
<ellipse cx="850.8" cy="1181.9" rx="3.3" ry="2.5"/>
<ellipse cx="853" cy="1196.6" rx="3.3" ry="2.5"/>
<ellipse cx="853.4" cy="1200.6" rx="3.3" ry="2.5"/>
<ellipse cx="848.8" cy="1205.3" rx="3.3" ry="2.5"/>
<ellipse cx="858.1" cy="1204.3" rx="3.3" ry="2.5"/>
<ellipse cx="853.4" cy="1220.2" rx="3.3" ry="2.5"/>
<ellipse cx="857.2" cy="1221.2" rx="3.3" ry="2.5"/>
<ellipse cx="846" cy="1196.4" rx="3.3" ry="2.5"/>
<ellipse cx="845.9" cy="1198.6" rx="3.3" ry="2.5"/>
<ellipse cx="845.3" cy="1201.4" rx="3.3" ry="2.5"/>
<ellipse cx="852.1" cy="1204.5" rx="3.3" ry="2.5"/>
<ellipse cx="855.8" cy="1206.7" rx="3.3" ry="2.5"/>
<ellipse cx="858.3" cy="1207.6" rx="3.3" ry="2.5"/>
<ellipse cx="846" cy="1210.8" rx="3.3" ry="2.5"/>
<ellipse cx="849.9" cy="1213.4" rx="3.3" ry="2.5"/>
<ellipse cx="854.2" cy="1215.1" rx="3.3" ry="2.5"/>
<ellipse cx="852.5" cy="1218.8" rx="3.3" ry="2.5"/>
<ellipse cx="857.3" cy="1220.7" rx="3.3" ry="2.5"/>
<ellipse cx="851.9" cy="1223" rx="3.3" ry="2.5"/>
<ellipse cx="857" cy="1226.9" rx="3.3" ry="2.5"/>
<ellipse cx="845.2" cy="1227.6" rx="3.3" ry="2.5"/>
<ellipse cx="853" cy="1230.7" rx="3.3" ry="2.5"/>
<ellipse cx="846.7" cy="1231" rx="3.3" ry="2.5"/>
<ellipse cx="849.7" cy="1234.6" rx="3.3" ry="2.5"/>
<ellipse cx="848.2" cy="1237.1" rx="3.3" ry="2.5"/>
<ellipse cx="857.4" cy="1239.2" rx="3.3" ry="2.5"/>
<ellipse cx="857.8" cy="1242.2" rx="3.3" ry="2.5"/>
<ellipse cx="847.8" cy="1243" rx="3.3" ry="2.5"/>
<ellipse cx="852.5" cy="1247.7" rx="3.3" ry="2.5"/>
<ellipse cx="847.4" cy="1247.9" rx="3.3" ry="2.5"/>
<ellipse cx="858.6" cy="1251.9" rx="3.3" ry="2.5"/>
<ellipse cx="855" cy="1254.1" rx="3.3" ry="2.5"/>
<ellipse cx="854.9" cy="1257.1" rx="3.3" ry="2.5"/>
<ellipse cx="855.9" cy="1259" rx="3.3" ry="2.5"/>
<ellipse cx="857.5" cy="1261.1" rx="3.3" ry="2.5"/>
<ellipse cx="847.8" cy="1264.1" rx="3.3" ry="2.5"/>
<ellipse cx="849.4" cy="1265.8" rx="3.3" ry="2.5"/>
<ellipse cx="848" cy="1267.4" rx="3.3" ry="2.5"/>
<ellipse cx="849.3" cy="1272.4" rx="3.3" ry="2.5"/>
<ellipse cx="850.3" cy="1272.8" rx="3.3" ry="2.5"/>
<ellipse cx="855.9" cy="1275.4" rx="3.3" ry="2.5"/>
<ellipse cx="853" cy="1277.3" rx="3.3" ry="2.5"/>
<ellipse cx="858.4" cy="1279.9" rx="3.3" ry="2.5"/>
<ellipse cx="855.7" cy="1282.5" rx="3.3" ry="2.5"/>
<ellipse cx="854.3" cy="1285.5" rx="3.3" ry="2.5"/>
<ellipse cx="854.1" cy="1287" rx="3.3" ry="2.5"/>
<ellipse cx="854" cy="1290" rx="3.3" ry="2.5"/>
<ellipse cx="849.1" cy="1292.2" rx="3.3" ry="2.5"/>
<ellipse cx="847.8" cy="1293.2" rx="3.3" ry="2.5"/>
<ellipse cx="856.1" cy="1296.3" rx="3.3" ry="2.5"/>
<ellipse cx="851.4" cy="1297.4" rx="3.3" ry="2.5"/>
<ellipse cx="847.2" cy="1301.6" rx="3.3" ry="2.5"/>
<ellipse cx="844.3" cy="1301.9" rx="3.3" ry="2.5"/>
<ellipse cx="844.6" cy="1304.5" rx="3.3" ry="2.5"/>
<ellipse cx="853.7" cy="1305.1" rx="3.3" ry="2.5"/>
<ellipse cx="851.5" cy="1305.6" rx="3.3" ry="2.5"/>
<ellipse cx="843.6" cy="1306" rx="3.3" ry="2.5"/>
<ellipse cx="853.5" cy="1306.6" rx="3.3" ry="2.5"/>
</g>
<path d="M1029.6 1137.3L1029.6 1137.3L1043.3 1138.9L1043.4 1138.9L1052.4 1140.5L1052.7 1140.8L1046.5 1142.1L1040.5 1143.1L1038.1 1143.7L1034.9 1145L1035.1 1145.3L1038.9 1146.9L1042.4 1148.2L1042.9 1148.5L1045.8 1150.1L1047.1 1151.5L1047.1 1151.7L1045.7 1153.3L1043.4 1154.9L1042.4 1155.7L1041.6 1156.5L1040 1158.1L1039.2 1159.7L1039.1 1159.9L1039.6 1161.3L1041.2 1162.9L1043.4 1164.5L1046 1166.1L1048 1167.4L1048.5 1167.7L1051.3 1169.3L1054.6 1170.9L1058.2 1172.5L1061.7 1174.1L1064.9 1175.7L1066.7 1176.8L1067.6 1177.3L1069.9 1178.9L1072.2 1180.5L1074.4 1182.1L1076.4 1183.7L1078.3 1185.3L1080.2 1186.9L1082 1188.5L1083.7 1190.1L1085.4 1191.7L1085.4 1191.7L1087 1193.3L1088.6 1194.9L1090.1 1196.5L1091.6 1198.1L1093 1199.7L1094.4 1201.3L1095.7 1202.9L1097 1204.5L1098.3 1206.1L1099.5 1207.6L1099.5 1207.7L1100.8 1209.3L1102.1 1210.9L1103.3 1212.5L1104.5 1214.1L1105.4 1215.7L1106 1217L1106.1 1217.3L1106.8 1218.9L1107.3 1220.5L1107.7 1222.1L1107.9 1223.5L1107.9 1223.7L1107.6 1225.3L1107.1 1226.9L1106.3 1228.5L1105.3 1230.1L1104.3 1231.7L1104.1 1231.9L1103 1233.3L1101 1234.9L1098.6 1236.5L1095.9 1238.1L1093 1239.7L1090.1 1241.3L1090.1 1241.3L1086.9 1242.9L1083.4 1244.5L1079.6 1246.1L1075.7 1247.7L1071.9 1249.3L1068.2 1250.9L1066.7 1251.6L1064.7 1252.5L1061.2 1254.1L1057.6 1255.7L1054.3 1257.3L1051.2 1258.9L1048.6 1260.5L1048 1260.9L1046.5 1262.1L1044.6 1263.7L1042.8 1265.3L1041.3 1266.9L1039.9 1268.5L1038.8 1270.1L1038.7 1270.3L1037.7 1271.7L1036.7 1273.3L1036 1274.9L1035.9 1275.9L1035.9 1276.5L1035.9 1278.1L1035.9 1279.7L1035.9 1281.3L1035.9 1282.9L1035.9 1284.3L1035.9 1284.5L1035.5 1286.1L1034.8 1287.7L1033.9 1289.3L1033.1 1290.8L1033 1290.9L1032.2 1292.5L1031.2 1294.1L1030.3 1295.7L1029.7 1297.3L1029.6 1298.3L1029.6 1298.9L1029.6 1300.5L1029.6 1302.1L1029.6 1303L1029.9 1303.7L1032 1305.3L1033.1 1305.8L1039.2 1306.9L1044.3 1307.7L1048.6 1308.5L1051.8 1309.5L1050.4 1310.1L1040.5 1311.6L1040 1311.7L1030.7 1313.3L1029.6 1313.5L1029.6 1313.5Z" fill="#0000ff" fill-opacity="0.2" stroke="#444" stroke-width="0.6" stroke-linejoin="round"/>
<path d="M983 1195.2H1029.6V1233.3H983ZM983 1216.5H1029.6" fill="none" stroke="#000" stroke-width="1.7" stroke-linejoin="round"/>
<path d="M1006.3 1195.2V1171.1M1006.3 1233.3V1309.4" fill="none" stroke="#000" stroke-width="1.8" stroke-dasharray="5 4"/>
<path d="M994.8 1171.1h23M994.8 1309.4h23" fill="none" stroke="#111" stroke-width="1.6"/>
<g fill="#0000ff">
<ellipse cx="1000.2" cy="1140.8" rx="3.3" ry="2.5"/>
<ellipse cx="1001.3" cy="1152" rx="3.3" ry="2.5"/>
<ellipse cx="1013.1" cy="1153.8" rx="3.3" ry="2.5"/>
<ellipse cx="1012.8" cy="1283.5" rx="3.3" ry="2.5"/>
<ellipse cx="1005.4" cy="1260.5" rx="3.3" ry="2.5"/>
<ellipse cx="1010" cy="1262.3" rx="3.3" ry="2.5"/>
<ellipse cx="999.1" cy="1309.4" rx="3.3" ry="2.5"/>
<ellipse cx="999.8" cy="1171.1" rx="3.3" ry="2.5"/>
<ellipse cx="1000.2" cy="1176.3" rx="3.3" ry="2.5"/>
<ellipse cx="1010.5" cy="1177.7" rx="3.3" ry="2.5"/>
<ellipse cx="1001.5" cy="1172.8" rx="3.3" ry="2.5"/>
<ellipse cx="1004.2" cy="1174.3" rx="3.3" ry="2.5"/>
<ellipse cx="1003.3" cy="1178.6" rx="3.3" ry="2.5"/>
<ellipse cx="1007.9" cy="1182.1" rx="3.3" ry="2.5"/>
<ellipse cx="1007.9" cy="1183.8" rx="3.3" ry="2.5"/>
<ellipse cx="1006.6" cy="1186.7" rx="3.3" ry="2.5"/>
<ellipse cx="1009.1" cy="1189.8" rx="3.3" ry="2.5"/>
<ellipse cx="998.8" cy="1191.5" rx="3.3" ry="2.5"/>
<ellipse cx="1000.7" cy="1191.7" rx="3.3" ry="2.5"/>
<ellipse cx="1013.3" cy="1195.3" rx="3.3" ry="2.5"/>
<ellipse cx="1010.2" cy="1196.4" rx="3.3" ry="2.5"/>
<ellipse cx="1011.6" cy="1197.9" rx="3.3" ry="2.5"/>
<ellipse cx="1011.2" cy="1200" rx="3.3" ry="2.5"/>
<ellipse cx="1012" cy="1203.2" rx="3.3" ry="2.5"/>
<ellipse cx="1005.6" cy="1205.4" rx="3.3" ry="2.5"/>
<ellipse cx="1001.6" cy="1206" rx="3.3" ry="2.5"/>
<ellipse cx="1008.9" cy="1207.8" rx="3.3" ry="2.5"/>
<ellipse cx="1010.4" cy="1208" rx="3.3" ry="2.5"/>
<ellipse cx="998.8" cy="1210" rx="3.3" ry="2.5"/>
<ellipse cx="1012.6" cy="1213.3" rx="3.3" ry="2.5"/>
<ellipse cx="1010.8" cy="1214.2" rx="3.3" ry="2.5"/>
<ellipse cx="1001.4" cy="1215.7" rx="3.3" ry="2.5"/>
<ellipse cx="1002.9" cy="1217.2" rx="3.3" ry="2.5"/>
<ellipse cx="1011.9" cy="1217.3" rx="3.3" ry="2.5"/>
<ellipse cx="1010.4" cy="1219.8" rx="3.3" ry="2.5"/>
<ellipse cx="1008.6" cy="1222.1" rx="3.3" ry="2.5"/>
<ellipse cx="1001.4" cy="1222.5" rx="3.3" ry="2.5"/>
<ellipse cx="1006.6" cy="1223.9" rx="3.3" ry="2.5"/>
<ellipse cx="1010.2" cy="1224.4" rx="3.3" ry="2.5"/>
<ellipse cx="1001.1" cy="1227.3" rx="3.3" ry="2.5"/>
<ellipse cx="1013.2" cy="1228.5" rx="3.3" ry="2.5"/>
<ellipse cx="1010.2" cy="1229.5" rx="3.3" ry="2.5"/>
<ellipse cx="1010" cy="1231.7" rx="3.3" ry="2.5"/>
<ellipse cx="1006.8" cy="1231.9" rx="3.3" ry="2.5"/>
<ellipse cx="1000.5" cy="1233.4" rx="3.3" ry="2.5"/>
<ellipse cx="999.6" cy="1236.5" rx="3.3" ry="2.5"/>
<ellipse cx="1011.9" cy="1237" rx="3.3" ry="2.5"/>
<ellipse cx="1013.4" cy="1239.2" rx="3.3" ry="2.5"/>
<ellipse cx="1008.7" cy="1241.3" rx="3.3" ry="2.5"/>
<ellipse cx="1003.2" cy="1243.1" rx="3.3" ry="2.5"/>
<ellipse cx="1003.8" cy="1244.9" rx="3.3" ry="2.5"/>
<ellipse cx="1004.6" cy="1247.2" rx="3.3" ry="2.5"/>
<ellipse cx="999.5" cy="1251.5" rx="3.3" ry="2.5"/>
<ellipse cx="1003.1" cy="1252.1" rx="3.3" ry="2.5"/>
<ellipse cx="1001" cy="1258.9" rx="3.3" ry="2.5"/>
<ellipse cx="998.8" cy="1261.7" rx="3.3" ry="2.5"/>
<ellipse cx="1008.4" cy="1284.4" rx="3.3" ry="2.5"/>
<ellipse cx="1000.6" cy="1290.7" rx="3.3" ry="2.5"/>
</g>
<path d="M866.7 1061H990.9" stroke="#000" stroke-width="1" fill="none"/>
<text transform="translate(928.7 1066) scale(1.25 1)" font-size="15" text-anchor="middle" font-weight="bold" fill="#000">*</text>
<text x="940.3" y="1055.2" font-size="12.6" fill="#262626" textLength="64" lengthAdjust="spacingAndGlyphs">p&lt;0.001</text>
<path d="M851.1 1323.5v-4.6M851.1 1046.1v4.6M1006.3 1323.5v-4.6M1006.3 1046.1v4.6M696.2 1317.6h4.6M1162.3 1317.6h-4.6M696.2 1171.6h4.6M1162.3 1171.6h-4.6M696.2 1273.6h2.6M1162.3 1273.6h-2.6M696.2 1247.9h2.6M1162.3 1247.9h-2.6M696.2 1229.7h2.6M1162.3 1229.7h-2.6M696.2 1215.6h2.6M1162.3 1215.6h-2.6M696.2 1204h2.6M1162.3 1204h-2.6M696.2 1194.2h2.6M1162.3 1194.2h-2.6M696.2 1185.7h2.6M1162.3 1185.7h-2.6M696.2 1178.3h2.6M1162.3 1178.3h-2.6M696.2 1127.6h2.6M1162.3 1127.6h-2.6M696.2 1101.9h2.6M1162.3 1101.9h-2.6M696.2 1083.7h2.6M1162.3 1083.7h-2.6M696.2 1069.6h2.6M1162.3 1069.6h-2.6M696.2 1058h2.6M1162.3 1058h-2.6M696.2 1048.2h2.6M1162.3 1048.2h-2.6" stroke="#3a3a3a" stroke-width="1.4" fill="none"/>
<rect x="696.2" y="1046.1" width="466.1" height="277.4" fill="none" stroke="#3a3a3a" stroke-width="1.8"/>
<text x="851.1" y="1341.2" font-size="13.6" text-anchor="middle" fill="#262626" textLength="23.2" lengthAdjust="spacingAndGlyphs">EC</text>
<text x="1006.3" y="1341.2" font-size="13.6" text-anchor="middle" fill="#262626" textLength="23.2" lengthAdjust="spacingAndGlyphs">EO</text>
<text transform="translate(674.9 1178.7) scale(1.3 1)" font-size="13.5" text-anchor="end">10</text>
<text transform="translate(675.3 1172.3) scale(1.3 1)" font-size="10.6">-2</text>
<text transform="translate(674.9 1324.7) scale(1.3 1)" font-size="13.5" text-anchor="end">10</text>
<text transform="translate(675.3 1318.3) scale(1.3 1)" font-size="10.6">-3</text>
<text transform="translate(648.2 1184.8) rotate(-90) scale(1 1.3)" font-size="15" text-anchor="middle" textLength="89.4" lengthAdjust="spacingAndGlyphs">PSD [<tspan font-family="Liberation Serif, serif" font-style="italic">μ</tspan>V<tspan dy="-5" font-size="11.2">2</tspan><tspan dy="5">/Hz]</tspan></text>
<text x="929.2" y="1041.1" font-size="15.4" text-anchor="middle" font-weight="bold" fill="#000" textLength="243" lengthAdjust="spacingAndGlyphs">Mean PSD  | <tspan font-family="Liberation Serif, serif" font-style="italic" font-weight="normal">γ</tspan> 29.8-43.9Hz</text>
</g>
<g>
<path d="M1389.4 1046.1V1323.5M1544.6 1046.1V1323.5M1234.5 1304.7H1700.6M1234.5 1264H1700.6M1234.5 1223.3H1700.6M1234.5 1182.6H1700.6M1234.5 1141.9H1700.6M1234.5 1101.2H1700.6M1234.5 1060.5H1700.6" stroke="#dedede" stroke-width="1.5" fill="none"/>
<path d="M1412.7 1165.1L1412.7 1165.1L1413.5 1166.7L1414.6 1168.3L1415.7 1169.9L1416 1170.2L1417.1 1171.5L1418.8 1173.1L1420.5 1174.7L1421.6 1175.8L1421.9 1176.3L1423 1177.9L1424 1179.5L1425.1 1181.1L1425.3 1181.4L1426.2 1182.7L1427.3 1184.3L1428.8 1185.9L1429.1 1186.1L1431.4 1187.5L1435.4 1189.1L1440 1190.7L1440.3 1190.8L1444.9 1192.3L1450.4 1193.9L1456 1195.5L1459 1196.4L1461.1 1197.1L1466.1 1198.7L1470.9 1200.3L1475.2 1201.9L1477.7 1202.9L1478.8 1203.5L1481.9 1205.1L1484.7 1206.7L1486.8 1208.3L1487 1208.6L1488.3 1209.9L1489.7 1211.5L1490.6 1213.1L1490.8 1214.2L1490.7 1214.7L1490.1 1216.3L1488.9 1217.9L1487.4 1219.5L1487 1219.8L1485.2 1221.1L1481.8 1222.7L1478.1 1224.3L1477.7 1224.4L1474.4 1225.9L1470.5 1227.5L1466.3 1229.1L1462.2 1230.7L1459 1231.9L1458.1 1232.3L1454.1 1233.9L1450.1 1235.5L1446.1 1237.1L1442.1 1238.7L1440.3 1239.4L1438.1 1240.3L1433.8 1241.9L1429.5 1243.5L1425.4 1245.1L1422 1246.7L1421.6 1246.9L1419.2 1248.3L1416.9 1249.9L1416 1250.6L1415.1 1251.5L1413.6 1253.1L1412.7 1254.4L1412.7 1254.4Z" fill="#ff0000" fill-opacity="0.2" stroke="#444" stroke-width="0.6" stroke-linejoin="round"/>
<path d="M1366.1 1205.7H1412.7V1225.6H1366.1ZM1366.1 1216H1412.7" fill="none" stroke="#000" stroke-width="1.7" stroke-linejoin="round"/>
<path d="M1389.4 1205.7V1176.8M1389.4 1225.6V1245.8" fill="none" stroke="#000" stroke-width="1.8" stroke-dasharray="5 4"/>
<path d="M1377.9 1176.8h23M1377.9 1245.8h23" fill="none" stroke="#111" stroke-width="1.6"/>
<g fill="#ff0000">
<ellipse cx="1384.1" cy="1176.3" rx="3.3" ry="2.5"/>
<ellipse cx="1384.1" cy="1181" rx="3.3" ry="2.5"/>
<ellipse cx="1390.8" cy="1187.5" rx="3.3" ry="2.5"/>
<ellipse cx="1382.7" cy="1191.9" rx="3.3" ry="2.5"/>
<ellipse cx="1382.7" cy="1198.7" rx="3.3" ry="2.5"/>
<ellipse cx="1388.1" cy="1245.5" rx="3.3" ry="2.5"/>
<ellipse cx="1392.5" cy="1240.8" rx="3.3" ry="2.5"/>
<ellipse cx="1384.1" cy="1238" rx="3.3" ry="2.5"/>
<ellipse cx="1397.2" cy="1238" rx="3.3" ry="2.5"/>
<ellipse cx="1394.8" cy="1233.8" rx="3.3" ry="2.5"/>
<ellipse cx="1391.3" cy="1176.3" rx="3.3" ry="2.5"/>
<ellipse cx="1383.3" cy="1184.1" rx="3.3" ry="2.5"/>
<ellipse cx="1396.1" cy="1186" rx="3.3" ry="2.5"/>
<ellipse cx="1386.3" cy="1190.4" rx="3.3" ry="2.5"/>
<ellipse cx="1396" cy="1192.3" rx="3.3" ry="2.5"/>
<ellipse cx="1396.3" cy="1193.8" rx="3.3" ry="2.5"/>
<ellipse cx="1396.4" cy="1195.6" rx="3.3" ry="2.5"/>
<ellipse cx="1383.7" cy="1196.9" rx="3.3" ry="2.5"/>
<ellipse cx="1383.4" cy="1198.6" rx="3.3" ry="2.5"/>
<ellipse cx="1390.8" cy="1198.8" rx="3.3" ry="2.5"/>
<ellipse cx="1382.1" cy="1201.5" rx="3.3" ry="2.5"/>
<ellipse cx="1392.9" cy="1202.5" rx="3.3" ry="2.5"/>
<ellipse cx="1387.5" cy="1203" rx="3.3" ry="2.5"/>
<ellipse cx="1386.1" cy="1203.3" rx="3.3" ry="2.5"/>
<ellipse cx="1385.7" cy="1204.4" rx="3.3" ry="2.5"/>
<ellipse cx="1387.4" cy="1205.1" rx="3.3" ry="2.5"/>
<ellipse cx="1392.7" cy="1206.3" rx="3.3" ry="2.5"/>
<ellipse cx="1386.1" cy="1207.6" rx="3.3" ry="2.5"/>
<ellipse cx="1392.8" cy="1208.4" rx="3.3" ry="2.5"/>
<ellipse cx="1394.4" cy="1209.1" rx="3.3" ry="2.5"/>
<ellipse cx="1394.2" cy="1209.5" rx="3.3" ry="2.5"/>
<ellipse cx="1390.5" cy="1211.3" rx="3.3" ry="2.5"/>
<ellipse cx="1391.6" cy="1212.4" rx="3.3" ry="2.5"/>
<ellipse cx="1385.2" cy="1212.7" rx="3.3" ry="2.5"/>
<ellipse cx="1384.8" cy="1214" rx="3.3" ry="2.5"/>
<ellipse cx="1396.6" cy="1214.5" rx="3.3" ry="2.5"/>
<ellipse cx="1384" cy="1214.9" rx="3.3" ry="2.5"/>
<ellipse cx="1394.7" cy="1215.3" rx="3.3" ry="2.5"/>
<ellipse cx="1386.2" cy="1216.5" rx="3.3" ry="2.5"/>
<ellipse cx="1392.1" cy="1218" rx="3.3" ry="2.5"/>
<ellipse cx="1388.4" cy="1219" rx="3.3" ry="2.5"/>
<ellipse cx="1390.3" cy="1219.6" rx="3.3" ry="2.5"/>
<ellipse cx="1387.5" cy="1220.1" rx="3.3" ry="2.5"/>
<ellipse cx="1383.4" cy="1220.5" rx="3.3" ry="2.5"/>
<ellipse cx="1390.2" cy="1221.8" rx="3.3" ry="2.5"/>
<ellipse cx="1384.8" cy="1223.1" rx="3.3" ry="2.5"/>
<ellipse cx="1384.1" cy="1224.4" rx="3.3" ry="2.5"/>
<ellipse cx="1390.9" cy="1225" rx="3.3" ry="2.5"/>
<ellipse cx="1397" cy="1225.9" rx="3.3" ry="2.5"/>
<ellipse cx="1392.5" cy="1226.7" rx="3.3" ry="2.5"/>
<ellipse cx="1396.3" cy="1229.2" rx="3.3" ry="2.5"/>
<ellipse cx="1386.4" cy="1230.3" rx="3.3" ry="2.5"/>
<ellipse cx="1387.3" cy="1231.6" rx="3.3" ry="2.5"/>
<ellipse cx="1388.8" cy="1232.7" rx="3.3" ry="2.5"/>
<ellipse cx="1382.7" cy="1233.9" rx="3.3" ry="2.5"/>
<ellipse cx="1385.6" cy="1236.5" rx="3.3" ry="2.5"/>
<ellipse cx="1381.9" cy="1238.7" rx="3.3" ry="2.5"/>
<ellipse cx="1395" cy="1241.4" rx="3.3" ry="2.5"/>
</g>
<path d="M1567.9 1161.3L1567.9 1161.3L1568.4 1162.9L1569.6 1164.5L1571.3 1166.1L1571.6 1166.5L1573.7 1167.7L1577.7 1169.3L1582.4 1170.9L1585.7 1172.1L1586.9 1172.5L1591.5 1174.1L1596.4 1175.7L1601 1177.3L1604.4 1178.6L1605.1 1178.9L1608.6 1180.5L1611.9 1182.1L1615.1 1183.7L1618.1 1185.3L1621.1 1186.9L1623.1 1188L1624.1 1188.5L1627.4 1190.1L1630.6 1191.7L1633.6 1193.3L1636.3 1194.9L1637.1 1195.5L1638.6 1196.5L1640.8 1198.1L1642.6 1199.7L1643.6 1201.1L1643.8 1201.3L1644.7 1202.9L1645.3 1204.5L1645.5 1205.7L1645.5 1206.1L1645 1207.7L1644.1 1209.3L1642.9 1210.9L1641.8 1212.3L1641.6 1212.5L1639.8 1214.1L1637.6 1215.7L1635 1217.3L1632.4 1218.8L1632.3 1218.9L1629.2 1220.5L1625.7 1222.1L1622 1223.7L1618.2 1225.3L1614.5 1226.9L1613.7 1227.3L1610.8 1228.5L1607 1230.1L1603.2 1231.7L1599.5 1233.3L1596.3 1234.9L1595 1235.7L1593.6 1236.5L1591.2 1238.1L1589 1239.7L1586.9 1241.3L1585.1 1242.9L1583.8 1244.1L1583.3 1244.5L1581.6 1246.1L1580 1247.7L1578.6 1249.3L1577.3 1250.9L1576.3 1252.5L1576.3 1252.5L1575.5 1254.1L1574.7 1255.7L1574 1257.3L1573.5 1258.9L1573.1 1260.5L1573 1260.9L1572.9 1262.1L1572.7 1263.7L1572.6 1265.3L1572.4 1266.9L1572.3 1268.5L1572.1 1270.1L1572.1 1270.3L1571.9 1271.7L1571.6 1273.3L1571.3 1274.9L1571 1276.5L1570.7 1277.7L1570.6 1278.1L1570 1279.7L1569.3 1281.3L1568.6 1282.9L1568.4 1284.3L1568.4 1284.5L1568.2 1286.1L1568.2 1287.7L1568.1 1289.3L1568.1 1290.8L1568.1 1290.9L1568.9 1292.5L1570.3 1294.1L1570.7 1294.6L1572 1295.7L1574 1297.3L1574.4 1298.3L1574.1 1298.9L1571.6 1300.5L1570.7 1301.1L1569.6 1302.1L1567.9 1303.7L1567.9 1303.7L1567.9 1303.7Z" fill="#0000ff" fill-opacity="0.2" stroke="#444" stroke-width="0.6" stroke-linejoin="round"/>
<path d="M1521.3 1197.8H1567.9V1224.4H1521.3ZM1521.3 1210.1H1567.9" fill="none" stroke="#000" stroke-width="1.7" stroke-linejoin="round"/>
<path d="M1544.6 1197.8V1172.8M1544.6 1224.4V1257.9" fill="none" stroke="#000" stroke-width="1.8" stroke-dasharray="5 4"/>
<path d="M1533.1 1172.8h23M1533.1 1257.9h23" fill="none" stroke="#111" stroke-width="1.6"/>
<g fill="#0000ff">
<ellipse cx="1539.6" cy="1272.8" rx="3.3" ry="2.5"/>
<ellipse cx="1546.3" cy="1297.4" rx="3.3" ry="2.5"/>
<ellipse cx="1548.2" cy="1172.8" rx="3.3" ry="2.5"/>
<ellipse cx="1538.8" cy="1178.2" rx="3.3" ry="2.5"/>
<ellipse cx="1545.8" cy="1178.8" rx="3.3" ry="2.5"/>
<ellipse cx="1540.9" cy="1257.9" rx="3.3" ry="2.5"/>
<ellipse cx="1546.3" cy="1249.5" rx="3.3" ry="2.5"/>
<ellipse cx="1537.9" cy="1242.2" rx="3.3" ry="2.5"/>
<ellipse cx="1542.1" cy="1242.7" rx="3.3" ry="2.5"/>
<ellipse cx="1540.6" cy="1174.9" rx="3.3" ry="2.5"/>
<ellipse cx="1539" cy="1176.7" rx="3.3" ry="2.5"/>
<ellipse cx="1539.3" cy="1178" rx="3.3" ry="2.5"/>
<ellipse cx="1540.8" cy="1180.6" rx="3.3" ry="2.5"/>
<ellipse cx="1547.8" cy="1182.9" rx="3.3" ry="2.5"/>
<ellipse cx="1538" cy="1184.6" rx="3.3" ry="2.5"/>
<ellipse cx="1541.4" cy="1185.7" rx="3.3" ry="2.5"/>
<ellipse cx="1550.8" cy="1187.6" rx="3.3" ry="2.5"/>
<ellipse cx="1543.7" cy="1188.7" rx="3.3" ry="2.5"/>
<ellipse cx="1543.1" cy="1189.4" rx="3.3" ry="2.5"/>
<ellipse cx="1549.8" cy="1192.2" rx="3.3" ry="2.5"/>
<ellipse cx="1541.9" cy="1192.8" rx="3.3" ry="2.5"/>
<ellipse cx="1547.3" cy="1194.3" rx="3.3" ry="2.5"/>
<ellipse cx="1540" cy="1195.4" rx="3.3" ry="2.5"/>
<ellipse cx="1537" cy="1196" rx="3.3" ry="2.5"/>
<ellipse cx="1538" cy="1197.1" rx="3.3" ry="2.5"/>
<ellipse cx="1541" cy="1198.5" rx="3.3" ry="2.5"/>
<ellipse cx="1542.7" cy="1200" rx="3.3" ry="2.5"/>
<ellipse cx="1545.6" cy="1201" rx="3.3" ry="2.5"/>
<ellipse cx="1549.2" cy="1201.2" rx="3.3" ry="2.5"/>
<ellipse cx="1539.1" cy="1201.8" rx="3.3" ry="2.5"/>
<ellipse cx="1543.8" cy="1202.6" rx="3.3" ry="2.5"/>
<ellipse cx="1541.8" cy="1204.2" rx="3.3" ry="2.5"/>
<ellipse cx="1548.7" cy="1205.7" rx="3.3" ry="2.5"/>
<ellipse cx="1543.3" cy="1206.1" rx="3.3" ry="2.5"/>
<ellipse cx="1543.4" cy="1207" rx="3.3" ry="2.5"/>
<ellipse cx="1544.5" cy="1208.1" rx="3.3" ry="2.5"/>
<ellipse cx="1550.9" cy="1209.5" rx="3.3" ry="2.5"/>
<ellipse cx="1547" cy="1210.1" rx="3.3" ry="2.5"/>
<ellipse cx="1545.3" cy="1212.1" rx="3.3" ry="2.5"/>
<ellipse cx="1549" cy="1212.3" rx="3.3" ry="2.5"/>
<ellipse cx="1546.9" cy="1213" rx="3.3" ry="2.5"/>
<ellipse cx="1538.7" cy="1213.7" rx="3.3" ry="2.5"/>
<ellipse cx="1545.4" cy="1215" rx="3.3" ry="2.5"/>
<ellipse cx="1548.5" cy="1217.6" rx="3.3" ry="2.5"/>
<ellipse cx="1542.3" cy="1218.1" rx="3.3" ry="2.5"/>
<ellipse cx="1537.5" cy="1218.9" rx="3.3" ry="2.5"/>
<ellipse cx="1546.1" cy="1220.6" rx="3.3" ry="2.5"/>
<ellipse cx="1539.7" cy="1221.2" rx="3.3" ry="2.5"/>
<ellipse cx="1550.6" cy="1223.7" rx="3.3" ry="2.5"/>
<ellipse cx="1545.1" cy="1225.6" rx="3.3" ry="2.5"/>
<ellipse cx="1550.9" cy="1227.1" rx="3.3" ry="2.5"/>
<ellipse cx="1540.9" cy="1228.5" rx="3.3" ry="2.5"/>
<ellipse cx="1551.5" cy="1229.3" rx="3.3" ry="2.5"/>
<ellipse cx="1545.4" cy="1232.2" rx="3.3" ry="2.5"/>
<ellipse cx="1550.3" cy="1236.1" rx="3.3" ry="2.5"/>
<ellipse cx="1543" cy="1241.1" rx="3.3" ry="2.5"/>
<ellipse cx="1538.4" cy="1246.1" rx="3.3" ry="2.5"/>
<ellipse cx="1552.1" cy="1253.1" rx="3.3" ry="2.5"/>
</g>
<path d="M1389.4 1323.5v-4.6M1389.4 1046.1v4.6M1544.6 1323.5v-4.6M1544.6 1046.1v4.6M1234.5 1304.7h4.6M1700.6 1304.7h-4.6M1234.5 1264h4.6M1700.6 1264h-4.6M1234.5 1223.3h4.6M1700.6 1223.3h-4.6M1234.5 1182.6h4.6M1700.6 1182.6h-4.6M1234.5 1141.9h4.6M1700.6 1141.9h-4.6M1234.5 1101.2h4.6M1700.6 1101.2h-4.6M1234.5 1060.5h4.6M1700.6 1060.5h-4.6" stroke="#3a3a3a" stroke-width="1.4" fill="none"/>
<rect x="1234.5" y="1046.1" width="466.1" height="277.4" fill="none" stroke="#3a3a3a" stroke-width="1.8"/>
<text x="1389.4" y="1341.2" font-size="13.6" text-anchor="middle" fill="#262626" textLength="23.2" lengthAdjust="spacingAndGlyphs">EC</text>
<text x="1544.6" y="1341.2" font-size="13.6" text-anchor="middle" fill="#262626" textLength="23.2" lengthAdjust="spacingAndGlyphs">EO</text>
<text transform="translate(1227.5 1309.6) scale(1.3 1)" font-size="13.6" text-anchor="end" fill="#262626">6</text>
<text transform="translate(1227.5 1268.9) scale(1.3 1)" font-size="13.6" text-anchor="end" fill="#262626">8</text>
<text transform="translate(1227.5 1228.2) scale(1.3 1)" font-size="13.6" text-anchor="end" fill="#262626">10</text>
<text transform="translate(1227.5 1187.5) scale(1.3 1)" font-size="13.6" text-anchor="end" fill="#262626">12</text>
<text transform="translate(1227.5 1146.8) scale(1.3 1)" font-size="13.6" text-anchor="end" fill="#262626">14</text>
<text transform="translate(1227.5 1106.1) scale(1.3 1)" font-size="13.6" text-anchor="end" fill="#262626">16</text>
<text transform="translate(1227.5 1065.4) scale(1.3 1)" font-size="13.6" text-anchor="end" fill="#262626">18</text>
<text transform="translate(1200.7 1184.8) rotate(-90) scale(1 1.3)" font-size="15" text-anchor="middle" textLength="53.5" lengthAdjust="spacingAndGlyphs">IAF [Hz]</text>
<text x="1467.5" y="1039.2" font-size="15.4" text-anchor="middle" font-weight="bold" fill="#000" textLength="286" lengthAdjust="spacingAndGlyphs">Individual Alpha Frequency</text>
</g>
<text x="-1.6" y="1359.7" font-size="45.5" font-family="Liberation Serif, serif" fill="#000">B</text>
<defs>
<filter id="tb" x="-5%" y="-5%" width="110%" height="110%" color-interpolation-filters="sRGB"><feGaussianBlur stdDeviation="2.6"/></filter>
<linearGradient id="cb" x1="0" y1="0" x2="0" y2="1"><stop offset="0" stop-color="#7a0403"/><stop offset="0.04" stop-color="#9b0f01"/><stop offset="0.08" stop-color="#b91e02"/><stop offset="0.12" stop-color="#d02f05"/><stop offset="0.17" stop-color="#e4450a"/><stop offset="0.21" stop-color="#f26014"/><stop offset="0.25" stop-color="#fb7e21"/><stop offset="0.29" stop-color="#fe9e2f"/><stop offset="0.33" stop-color="#faba39"/><stop offset="0.38" stop-color="#eecf3a"/><stop offset="0.42" stop-color="#d9e436"/><stop offset="0.46" stop-color="#bef434"/><stop offset="0.5" stop-color="#a4fc3c"/><stop offset="0.54" stop-color="#80ff53"/><stop offset="0.58" stop-color="#55fa76"/><stop offset="0.62" stop-color="#32f298"/><stop offset="0.67" stop-color="#1ae4b6"/><stop offset="0.71" stop-color="#1ad2d2"/><stop offset="0.75" stop-color="#28bceb"/><stop offset="0.79" stop-color="#3ba0fd"/><stop offset="0.83" stop-color="#4685fa"/><stop offset="0.88" stop-color="#466be3"/><stop offset="0.92" stop-color="#434eba"/><stop offset="0.96" stop-color="#3b2f80"/><stop offset="1" stop-color="#30123b"/></linearGradient>
<g id="head">
<g fill="#000"><circle cx="-17.8" cy="-51.8" r="0.85"/><circle cx="-0.2" cy="-52.2" r="0.85"/><circle cx="17.9" cy="-51.8" r="0.85"/><circle cx="-34.8" cy="-43.4" r="0.85"/><circle cx="34.9" cy="-43.4" r="0.85"/><circle cx="-18" cy="-39.7" r="0.85"/><circle cx="17.4" cy="-39.7" r="0.85"/><circle cx="-48.1" cy="-29" r="0.85"/><circle cx="48.2" cy="-29" r="0.85"/><circle cx="-36.6" cy="-26.7" r="0.85"/><circle cx="-24.5" cy="-25.5" r="0.85"/><circle cx="-12.4" cy="-23.9" r="0.85"/><circle cx="-0.2" cy="-23.7" r="0.85"/><circle cx="11.7" cy="-23.9" r="0.85"/><circle cx="23.7" cy="-24.9" r="0.85"/><circle cx="36.3" cy="-26.7" r="0.85"/><circle cx="-41" cy="-10" r="0.85"/><circle cx="-27.1" cy="-10" r="0.85"/><circle cx="-13.4" cy="-10" r="0.85"/><circle cx="12.8" cy="-10" r="0.85"/><circle cx="26.5" cy="-10" r="0.85"/><circle cx="40.8" cy="-9.8" r="0.85"/><circle cx="-40.3" cy="6.2" r="0.85"/><circle cx="-26.6" cy="4.4" r="0.85"/><circle cx="-13.4" cy="3.6" r="0.85"/><circle cx="-0.2" cy="3" r="0.85"/><circle cx="12.6" cy="3.6" r="0.85"/><circle cx="26.1" cy="4.6" r="0.85"/><circle cx="40" cy="6.9" r="0.85"/><circle cx="-36.2" cy="20.4" r="0.85"/><circle cx="-24.3" cy="17.3" r="0.85"/><circle cx="-12.2" cy="15.2" r="0.85"/><circle cx="-0.2" cy="14.8" r="0.85"/><circle cx="11.4" cy="15.2" r="0.85"/><circle cx="23.3" cy="17.3" r="0.85"/><circle cx="35.5" cy="20.8" r="0.85"/><circle cx="-48" cy="25.7" r="0.85"/><circle cx="-19.7" cy="28" r="0.85"/><circle cx="-10.2" cy="26" r="0.85"/><circle cx="-0.2" cy="25.7" r="0.85"/><circle cx="9.6" cy="26.2" r="0.85"/><circle cx="19.1" cy="28.5" r="0.85"/><circle cx="47.9" cy="26" r="0.85"/><circle cx="-28.5" cy="32.2" r="0.85"/><circle cx="28.1" cy="32.5" r="0.85"/><circle cx="-37.3" cy="36.8" r="0.85"/><circle cx="37.4" cy="37.1" r="0.85"/><circle cx="-58.2" cy="31.7" r="0.85"/><circle cx="58.3" cy="31.7" r="0.85"/><circle cx="-14.1" cy="38.4" r="0.85"/><circle cx="-0.2" cy="36.5" r="0.85"/><circle cx="13.7" cy="38.4" r="0.85"/><circle cx="-25.2" cy="44.2" r="0.85"/><circle cx="24.9" cy="44.2" r="0.85"/><circle cx="-12.7" cy="47.7" r="0.85"/><circle cx="-0.2" cy="48" r="0.85"/><circle cx="12.3" cy="47.5" r="0.85"/></g>
<g fill="none" stroke="#000" stroke-width="1.35" stroke-linejoin="round" stroke-linecap="round">
<circle r="50.4"/>
<path d="M-8.8 -51.7L-2 -59.2Q0 -60.6 2 -59.2L8.8 -51.7"/>
<path d="M-50.1 -11.4C-51.5 -12.7 -54 -13.1 -55.1 -12.1C-56.4 -11 -56.8 -8 -56.8 -5.4L-57 9.5C-57 11.5 -56.8 12.4 -56 13.2C-55 14.5 -54.5 14.9 -53.5 14.9C-52.5 14.9 -51.5 14.6 -49.8 13.2"/>
<path d="M50.1 -11.4C51.5 -12.7 54 -13.1 55.1 -12.1C56.4 -11 56.8 -8 56.8 -5.4L57 9.5C57 11.5 56.8 12.4 56 13.2C55 14.5 54.5 14.9 53.5 14.9C52.5 14.9 51.5 14.6 49.8 13.2"/>
</g></g>
<clipPath id="tc0"><circle cx="283.2" cy="1498.6" r="66.6"/></clipPath>
<clipPath id="tc1"><circle cx="589.3" cy="1498.6" r="66.6"/></clipPath>
<clipPath id="tc2"><circle cx="895.4" cy="1498.6" r="66.6"/></clipPath>
<clipPath id="tc3"><circle cx="1201.5" cy="1498.6" r="66.6"/></clipPath>
<clipPath id="tc4"><circle cx="1507.6" cy="1498.6" r="66.6"/></clipPath>
<clipPath id="tc5"><circle cx="283.2" cy="1746.7" r="66.6"/></clipPath>
<clipPath id="tc6"><circle cx="589.3" cy="1746.7" r="66.6"/></clipPath>
<clipPath id="tc7"><circle cx="895.4" cy="1746.7" r="66.6"/></clipPath>
<clipPath id="tc8"><circle cx="1201.5" cy="1746.7" r="66.6"/></clipPath>
<clipPath id="tc9"><circle cx="1507.6" cy="1746.7" r="66.6"/></clipPath>
<clipPath id="tc10"><circle cx="283.2" cy="1994.4" r="66.6"/></clipPath>
<clipPath id="tc11"><circle cx="589.3" cy="1994.4" r="66.6"/></clipPath>
<clipPath id="tc12"><circle cx="895.4" cy="1994.4" r="66.6"/></clipPath>
<clipPath id="tc13"><circle cx="1201.5" cy="1994.4" r="66.6"/></clipPath>
<clipPath id="tc14"><circle cx="1507.6" cy="1994.4" r="66.6"/></clipPath>
</defs>
<g clip-path="url(#tc0)"><g filter="url(#tb)" stroke-width="4.3" fill="none" transform="translate(210.6 1426)">
<path stroke="#30123b" d="M44 102h16M88 102h12M40 106h24M84 106h20M40 110h24M80 110h24M40 114h28M76 114h28M40 118h28M76 118h28M44 122h20M76 122h24M80 126h16"/>
<path stroke="#372466" d="M44 98h12M40 102h4M84 102h4M80 106h4M36 110h4M64 110h4M76 110h4M36 114h4M68 114h8M68 118h8M40 122h4M64 122h12M48 126h20M72 126h8M96 126h4M84 130h8"/>
<path stroke="#3d358b" d="M56 98h4M88 98h12M60 102h4M100 102h4M36 106h4M64 106h4M76 106h4M68 110h8M104 110h4M104 114h4M36 118h4M100 122h4M44 126h4M68 126h4M52 130h32M92 130h4"/>
<path stroke="#4249b1" d="M44 94h12M40 98h4M84 98h4M100 98h4M36 102h4M80 102h4M68 106h8M104 106h4M104 118h4M36 122h4M40 126h4M100 126h4M44 130h8M96 130h4M56 134h12M72 134h20"/>
<path stroke="#4559cb" d="M40 94h4M92 94h12M60 98h4M64 102h4M76 102h4M104 102h4M32 110h4M32 114h4M32 118h4M104 122h4M40 130h4M48 134h8M68 134h4M92 134h4M76 138h12"/>
<path stroke="#466be3" d="M44 90h8M96 90h4M56 94h4M88 94h4M36 98h4M64 98h4M80 98h4M104 98h4M68 102h8M32 106h4M108 106h4M108 110h4M108 114h4M108 118h4M32 122h4M36 126h4M104 126h4M100 130h4M44 134h4M96 134h4M48 138h28M88 138h8"/>
<path stroke="#477bf2" d="M44 86h4M96 86h8M40 90h4M52 90h4M92 90h4M100 90h4M36 94h4M60 94h4M84 94h4M104 94h4M76 98h4M32 102h4M108 102h4M108 122h4M32 126h4M36 130h4M104 130h4M40 134h4M100 134h4M44 138h4M96 138h4M52 142h40"/>
<path stroke="#458afc" d="M44 82h4M96 82h8M40 86h4M48 86h8M92 86h4M104 86h4M36 90h4M56 90h4M88 90h4M104 90h4M80 94h4M32 98h4M68 98h8M108 98h4M28 110h4M28 114h4M28 118h4M28 122h4M108 126h4M32 130h4M36 134h4M40 138h4M100 138h4M48 142h4M92 142h4"/>
<path stroke="#3e9bfe" d="M100 74h8M44 78h4M96 78h12M40 82h4M48 82h4M92 82h4M104 82h4M36 86h4M88 86h4M60 90h4M84 90h4M108 90h4M64 94h4M76 94h4M108 94h4M28 106h4M112 106h4M112 110h4M112 114h4M112 118h4M28 126h4M108 130h4M32 134h4M104 134h4"/>
<path stroke="#35abf8" d="M100 66h4M96 70h12M40 74h8M96 74h4M108 74h4M40 78h4M48 78h4M92 78h4M108 78h4M36 82h4M52 82h4M108 82h4M56 86h4M108 86h4M32 90h4M80 90h4M32 94h4M68 94h8M112 98h4M28 102h4M112 102h4M24 110h4M24 114h4M24 118h4M24 122h4M112 122h4M112 126h4M28 130h4M108 134h4"/>
<path stroke="#28bceb" d="M96 62h12M40 66h8M96 66h4M104 66h4M36 70h16M92 70h4M108 70h4M36 74h4M48 74h4M92 74h4M36 78h4M52 78h4M56 82h4M88 82h4M32 86h4M60 86h4M84 86h4M112 86h4M64 90h4M112 90h4M112 94h4M28 98h4M24 106h4M116 114h4M24 126h4M112 130h4"/>
<path stroke="#1fc9dd" d="M40 58h12M92 58h16M36 62h16M92 62h4M108 62h4M36 66h4M48 66h4M92 66h4M108 66h4M52 70h4M112 70h4M32 74h4M52 74h4M88 74h4M112 74h4M32 78h4M88 78h4M112 78h4M32 82h4M84 82h4M112 82h4M80 86h4M28 90h4M68 90h12M28 94h4M24 102h4M116 102h4M116 106h4M116 110h4M20 114h4M20 118h4M116 118h4M20 122h4M116 122h4"/>
<path stroke="#19d5cd" d="M44 50h12M92 50h12M40 54h16M88 54h20M36 58h4M52 58h4M88 58h4M108 58h4M32 62h4M52 62h4M88 62h4M32 66h4M52 66h4M88 66h4M112 66h4M32 70h4M88 70h4M56 74h4M56 78h4M84 78h4M60 82h4M28 86h4M64 86h4M116 90h4M116 94h4M24 98h4M116 98h4M20 106h4M20 110h4M116 126h4"/>
<path stroke="#19e2bb" d="M48 42h12M88 42h8M44 46h20M84 46h20M40 50h4M56 50h8M84 50h8M104 50h4M36 54h4M56 54h8M84 54h4M108 54h4M32 58h4M56 58h4M84 58h4M112 58h4M56 62h4M84 62h4M112 62h4M28 66h4M56 66h4M84 66h4M28 70h4M56 70h4M84 70h4M116 70h4M28 74h4M84 74h4M116 74h4M28 78h4M60 78h4M116 78h4M28 82h4M80 82h4M116 82h4M68 86h12M116 86h4M24 90h4M24 94h4M20 102h4M120 106h4M120 110h4M16 114h4M120 114h4M16 118h4M120 118h4M120 122h4"/>
<path stroke="#20eaac" d="M48 38h52M44 42h4M60 42h28M96 42h8M36 46h8M64 46h20M104 46h4M36 50h4M64 50h20M108 50h4M32 54h4M64 54h20M112 54h4M28 58h4M60 58h8M80 58h4M28 62h4M60 62h4M80 62h4M116 62h4M60 66h4M80 66h4M116 66h4M60 70h4M60 74h4M80 74h4M80 78h4M24 82h4M64 82h4M76 82h4M24 86h4M120 94h4M20 98h4M120 98h4M120 102h4M16 106h4M16 110h4M120 126h4"/>
<path stroke="#32f298" d="M60 30h32M48 34h52M44 38h4M100 38h4M36 42h8M104 42h4M32 46h4M108 46h4M32 50h4M112 50h4M28 54h4M68 58h12M116 58h4M64 62h16M24 66h4M64 66h4M76 66h4M24 70h4M64 70h4M80 70h4M120 70h4M24 74h4M64 74h4M120 74h4M24 78h4M64 78h4M76 78h4M120 78h4M68 82h8M120 82h4M120 86h4M20 90h4M120 90h4M20 94h4M16 102h4M12 114h4M124 114h4M124 118h4M124 122h4"/>
<path stroke="#46f884" d="M76 22h4M60 26h36M48 30h12M92 30h8M44 34h4M100 34h8M36 38h8M104 38h8M32 42h4M108 42h4M112 46h4M28 50h4M116 50h4M116 54h4M24 58h4M24 62h4M120 62h4M68 66h8M120 66h4M68 70h12M68 74h4M76 74h4M68 78h8M20 82h4M20 86h4M16 94h4M16 98h4M124 98h4M124 102h4M12 106h4M124 106h4M12 110h4M124 110h4"/>
<path stroke="#5dfc6f" d="M68 18h20M56 22h20M80 22h16M48 26h12M96 26h8M44 30h4M100 30h8M36 34h8M108 34h4M112 38h4M112 42h4M28 46h4M116 46h4M24 50h4M24 54h4M120 54h4M120 58h4M20 62h4M20 66h4M20 70h4M124 70h4M20 74h4M72 74h4M124 74h4M20 78h4M124 78h4M124 82h4M124 86h4M16 90h4M124 90h4M124 94h4M12 102h4"/>
<path stroke="#79fe59" d="M64 14h24M56 18h12M88 18h8M48 22h8M96 22h8M44 26h4M104 26h4M40 30h4M108 30h4M112 34h4M32 38h4M28 42h4M116 42h4M24 46h4M120 46h4M120 50h4M20 54h4M20 58h4M124 58h4M124 62h4M124 66h4M16 78h4M16 82h4M16 86h4M12 94h4M12 98h4M128 98h4M128 102h4M8 106h4M128 106h4M8 110h4M128 110h4M128 114h4"/>
<path stroke="#8fff49" d="M72 6h8M60 10h32M56 14h8M88 14h12M48 18h8M96 18h8M44 22h4M104 22h4M40 26h4M108 26h4M36 30h4M112 30h4M32 34h4M116 34h4M28 38h4M116 38h4M24 42h4M120 42h4M20 50h4M124 50h4M124 54h4M16 58h4M16 62h4M16 66h4M16 70h4M16 74h4M128 74h4M128 78h4M128 82h4M12 86h4M128 86h4M12 90h4M128 90h4M128 94h4M8 98h4M8 102h4"/>
<path stroke="#a4fc3c" d="M68 2h16M60 6h12M80 6h12M56 10h4M92 10h8M48 14h8M100 14h4M44 18h4M104 18h4M40 22h4M108 22h4M36 26h4M112 26h4M32 30h4M116 30h4M28 34h4M24 38h4M120 38h4M20 42h4M124 42h4M20 46h4M124 46h4M16 50h4M16 54h4M128 54h4M128 58h4M128 62h4M128 66h4M128 70h4M12 74h4M12 78h4M12 82h4M8 90h4M8 94h4M132 98h4M4 102h4M132 102h4M132 106h4M132 110h4"/>
<path stroke="#b4f836" d="M60 2h8M84 2h8M52 6h8M92 6h8M48 10h8M100 10h8M44 14h4M104 14h8M36 18h8M108 18h8M32 22h8M112 22h4M32 26h4M116 26h4M28 30h4M120 30h4M24 34h4M120 34h4M20 38h4M124 38h4M16 46h4M128 46h4M128 50h4M12 58h4M12 62h4M12 66h4M12 70h4M132 74h4M132 78h4M8 82h4M132 82h4M8 86h4M132 86h4M132 90h4M4 94h4M132 94h4M4 98h4"/>
<path stroke="#c3f134" d="M56 2h4M48 6h4M100 6h4M40 10h8M108 10h4M36 14h8M112 14h4M32 18h4M116 18h4M28 22h4M116 22h4M28 26h4M120 26h4M24 30h4M124 30h4M20 34h4M124 34h4M128 38h4M16 42h4M128 42h4M12 50h4M132 50h4M12 54h4M132 54h4M132 58h4M132 62h4M8 66h4M132 66h4M8 70h4M132 70h4M8 74h4M8 78h4M4 86h4M4 90h4M136 94h4M136 98h4M136 102h4"/>
<path stroke="#d4e735" d="M44 6h4M36 10h4M32 14h4M28 18h4M24 22h4M120 22h4M24 26h4M124 26h4M20 30h4M128 30h4M16 34h4M128 34h4M16 38h4M12 42h4M132 42h4M12 46h4M132 46h4M8 54h4M8 58h4M8 62h4M136 62h4M136 66h4M136 70h4M136 74h4M4 78h4M136 78h4M4 82h4M136 82h4M136 86h4M0 90h4M136 90h4"/>
<path stroke="#e1dd37" d="M28 14h4M24 18h4M20 22h4M20 26h4M16 30h4M12 34h4M132 34h4M12 38h4M132 38h4M8 42h4M8 46h4M136 46h4M8 50h4M136 50h4M136 54h4M4 58h4M136 58h4M4 62h4M4 66h4M4 70h4M4 74h4M0 82h4M0 86h4M140 90h4M140 94h4"/>
<path stroke="#eecf3a" d="M16 26h4M12 30h4M8 38h4M136 42h4M4 46h4M4 50h4M140 50h4M4 54h4M140 54h4M140 58h4M140 62h4M0 66h4M140 66h4M0 70h4M140 70h4M0 74h4M140 74h4M0 78h4M140 78h4M140 82h4M140 86h4"/>
<path stroke="#f6c33a" d="M0 58h4M0 62h4"/>
</g>
<path d="M299.7 1561.2L304.5 1559.6L309.8 1555.8L315 1549.2L317.5 1543.9L318.4 1538.6L317.6 1531.9L315.2 1526.1L312.1 1522.6L308.5 1520.8L303.2 1521.1L296.5 1524L285.9 1530.6L283.2 1531.3L279.2 1530.1L268.5 1522.2L261.9 1519.2L256.6 1519.5L251.2 1523.9L246.3 1533.2L245.7 1541.2L248.6 1548.4L255.2 1555.4L260.6 1558.3L265.9 1559.7L280.5 1559.6L292.5 1561.5L299.7 1561.2M303.4 1569.2L309.8 1565.1L315.2 1559.3L320.5 1550.1L322.9 1542.6L323.1 1534.6L320.6 1523.9L316.5 1514.4L312.5 1510L308.5 1510.6L291.2 1521.2L284.5 1523.8L281.9 1523.7L277.9 1522.3L263.2 1512.5L259.2 1510.6L255.2 1510.9L251.2 1514.5L247.2 1520.7L241.5 1533.2L240.3 1539.9L240.8 1545.2L243.2 1552.2L248.6 1560.1L253.9 1565.1L261.4 1569.2M317 1569.2L321.8 1561.8L325.8 1552.8L327.8 1545.2L328.2 1537.2L322 1497.3L317.8 1490.1L315.2 1488.1L312.5 1487.4L309.8 1488L307.2 1490.7L301.5 1503.9L296.8 1510.6L291.2 1515.2L284.5 1517.7L281.9 1517.6L277.9 1516.2L271.9 1511.9L267.2 1506.6L259.2 1494.1L256.6 1491.4L253.9 1490.6L251.2 1492.5L248.6 1498.9L244.6 1511.9L236.5 1531.9L234.5 1541.2L234.7 1547.9L236.6 1555.7L239.6 1562.5L244 1569.2M326.8 1569.2L331.8 1555.9L333.7 1542.6L329.8 1499.9L328.5 1492.2L324.7 1482.6L319.2 1475.3L309.8 1468.1L305.8 1466.4L301.8 1465.8L298.1 1466.6L295.7 1468L292.7 1472L292.3 1476L295.1 1490.6L295 1498.6L294 1502.6L292 1506.6L289.6 1509.3L285.9 1511.4L281.9 1511.6L277.9 1509.7L275 1506.6L272.4 1501.3L271.3 1495.9L271.3 1490.6L274.8 1474.6L273.8 1470.6L271.2 1468L265.9 1466.2L259.2 1467.6L251.2 1473L244.6 1480.4L240.8 1489.3L237.8 1510.6L229.8 1533.2L228 1541.2L228 1554.5L229.7 1562.5L232.1 1569.2M335.9 1569.2L339.3 1554.5L339.8 1541.2L335.6 1493.3L334.1 1485.3L332 1478.6L328.7 1472L324.5 1465.8L319.2 1459.6L313.8 1454.9L307.2 1450.6L300.5 1447.6L293.9 1445.5L287.2 1444.7L281.9 1445.1L275.2 1447L256.6 1455.6L245.9 1464.4L240.7 1470.6L237.4 1476L233.6 1486.6L229.8 1511.9L222.6 1533.2L220.4 1542.6L219.4 1555.9L221.1 1569.2M280.9 1428L275.2 1429.9L269.9 1432.8L249.9 1447.3L241.9 1455.2L232.6 1467.7L227.3 1480L222.7 1507.9L212.6 1539.1M345.1 1569.2L346.8 1555.9L346.8 1542.6L341.7 1486.6L338.3 1472L335.1 1464.9L329.8 1456.1L324.5 1448.8L319.2 1443.1L312.5 1437.5L305.8 1433.1L299.2 1429.8L293.1 1428" fill="none" stroke="#000" stroke-opacity="0.55" stroke-width="0.5" stroke-linejoin="round"/>
</g>
<use href="#head" x="283.2" y="1498.6"/>
<rect x="378" y="1410.3" width="9.2" height="176.3" fill="url(#cb)"/>
<text x="392.4" y="1443.1" font-size="18.4" fill="#262626">0.1</text>
<text x="392.4" y="1496.9" font-size="18.4" fill="#262626">0.08</text>
<text x="392.4" y="1550.6" font-size="18.4" fill="#262626">0.06</text>
<path d="M387.2 1436h-1.6M387.2 1489.8h-1.6M387.2 1543.5h-1.6" stroke="#333" stroke-width="0.7" fill="none"/>
<text x="456.6" y="1498" font-size="20" text-anchor="middle" transform="rotate(-90 456.6 1498)" textLength="113.6" lengthAdjust="spacingAndGlyphs">PSD [<tspan font-family="Liberation Serif, serif" font-style="italic">μ</tspan>V<tspan dy="-7" font-size="15">2</tspan><tspan dy="7">/Hz]</tspan></text>
<text x="283.2" y="1403.3" font-size="20" text-anchor="middle" font-weight="bold" fill="#000" textLength="167.5" lengthAdjust="spacingAndGlyphs"><tspan font-family="Liberation Serif, serif" font-style="italic" font-weight="normal">δ</tspan> <tspan stroke="#000" stroke-width="0.9">@</tspan>0.5-3.9Hz | EC</text>
<g clip-path="url(#tc1)"><g filter="url(#tb)" stroke-width="4.3" fill="none" transform="translate(516.7 1426)">
<path stroke="#30123b" d="M48 102h12M44 106h20M44 110h20M80 110h12M44 114h24M76 114h16M48 118h16M80 118h8"/>
<path stroke="#372466" d="M44 102h4M60 102h4M64 106h4M80 106h8M40 110h4M64 110h4M76 110h4M68 114h8M44 118h4M64 118h16M88 118h4M52 122h16M76 122h12"/>
<path stroke="#3d358b" d="M52 98h4M40 106h4M76 106h4M88 106h4M68 110h8M92 110h4M40 114h4M92 114h4M48 122h4M68 122h8M88 122h4M76 126h8"/>
<path stroke="#4249b1" d="M84 2h8M48 98h4M56 98h4M64 102h4M80 102h8M68 106h8M92 106h4M40 118h4M92 118h4M44 122h4M56 126h20M84 126h4"/>
<path stroke="#4559cb" d="M56 2h28M92 6h12M108 10h4M44 98h4M60 98h4M40 102h4M68 102h12M88 102h4M36 110h4M96 114h4M92 122h4M52 126h4M88 126h4M64 130h24"/>
<path stroke="#466be3" d="M44 6h48M96 10h12M108 14h8M116 18h4M64 98h4M92 102h4M36 106h4M96 106h4M96 110h4M36 114h4M96 118h4M40 122h4M48 126h4M92 126h4M56 130h8M88 130h4"/>
<path stroke="#477bf2" d="M36 10h60M100 14h8M108 18h8M116 22h8M120 26h8M124 30h8M128 34h8M48 94h12M40 98h4M68 98h24M36 102h4M36 118h4M96 122h4M44 126h4M52 130h4M60 134h28"/>
<path stroke="#458afc" d="M28 14h72M100 18h8M108 22h8M112 26h8M116 30h8M120 34h8M124 38h12M128 42h12M44 94h4M60 94h4M92 98h4M96 102h4M100 110h4M100 114h4M100 118h4M36 122h4M40 126h4M96 126h4M48 130h4M92 130h4M56 134h4M88 134h4M68 138h16"/>
<path stroke="#3e9bfe" d="M24 18h36M88 18h12M24 22h12M100 22h8M108 26h4M112 30h4M116 34h4M116 38h8M116 42h12M120 46h20M136 50h8M64 94h8M80 94h12M36 98h4M32 106h4M100 106h4M32 110h4M32 114h4M32 118h4M100 122h4M44 130h4M96 130h4M52 134h4M92 134h4M60 138h8M84 138h4"/>
<path stroke="#35abf8" d="M60 18h28M20 22h4M36 22h20M92 22h8M16 26h28M100 26h8M108 30h4M108 34h8M112 38h4M112 42h4M112 46h8M112 50h24M124 54h20M48 90h12M40 94h4M72 94h8M92 94h4M96 98h4M32 102h4M100 102h4M104 114h4M32 122h4M36 126h4M100 126h4M40 130h4M48 134h4M96 134h4M52 138h8M88 138h4M64 142h24"/>
<path stroke="#28bceb" d="M56 22h36M44 26h8M96 26h4M12 30h36M100 30h8M20 34h24M104 34h4M24 38h16M108 38h4M28 42h12M108 42h4M32 46h8M108 46h4M108 50h4M112 54h12M120 58h24M44 90h4M60 90h4M96 94h4M104 106h4M104 110h4M28 114h4M104 118h4M104 122h4M32 126h4M36 130h4M100 130h4M44 134h4M48 138h4M92 138h4M56 142h8M88 142h4"/>
<path stroke="#1fc9dd" d="M52 26h8M88 26h8M48 30h4M96 30h4M12 34h8M44 34h4M100 34h4M16 38h8M40 38h4M104 38h4M20 42h8M40 42h4M104 42h4M24 46h8M40 46h4M104 46h4M28 50h16M104 50h4M36 54h4M108 54h4M108 58h12M124 62h20M40 90h4M64 90h4M80 90h16M36 94h4M32 98h4M100 98h4M104 102h4M28 106h4M28 110h4M28 118h4M28 122h4M104 126h4M40 134h4M100 134h4M44 138h4M96 138h4M52 142h4M92 142h4"/>
<path stroke="#19d5cd" d="M60 26h28M52 30h4M92 30h4M48 34h4M96 34h4M8 38h8M44 38h4M100 38h4M12 42h8M44 42h4M100 42h4M20 46h4M44 46h4M24 50h4M28 54h8M40 54h4M104 54h4M108 62h16M136 66h8M48 86h8M68 90h12M96 90h4M100 94h4M28 102h4M108 110h4M108 114h4M108 118h4M108 122h4M28 126h4M32 130h4M104 130h4M36 134h4M40 138h4M100 138h4M48 142h4"/>
<path stroke="#19e2bb" d="M56 30h8M88 30h4M52 34h4M92 34h4M48 38h4M96 38h4M8 42h4M48 42h4M12 46h8M100 46h4M20 50h4M44 50h4M100 50h4M24 54h4M44 54h4M100 54h4M32 58h12M104 58h4M104 62h4M108 66h28M44 86h4M56 86h8M88 86h12M36 90h4M100 90h4M32 94h4M104 98h4M108 106h4M24 110h4M24 114h4M24 118h4M108 126h4M28 130h4M108 130h4M32 134h4M104 134h4"/>
<path stroke="#20eaac" d="M64 30h24M56 34h4M88 34h4M52 38h4M92 38h4M96 42h4M4 46h8M48 46h4M96 46h4M12 50h8M20 54h4M28 58h4M44 58h4M100 58h4M36 62h4M104 66h4M108 70h36M92 82h8M40 86h4M64 86h4M80 86h8M100 86h4M104 94h4M28 98h4M108 102h4M24 106h4M112 110h4M112 114h4M112 118h4M24 122h4M112 122h4M24 126h4M108 134h4"/>
<path stroke="#32f298" d="M60 34h4M84 34h4M56 38h4M52 42h4M92 42h4M4 50h8M48 50h4M96 50h4M12 54h8M48 54h4M96 54h4M20 58h8M28 62h8M40 62h4M100 62h4M100 66h4M100 70h8M100 74h12M128 74h16M96 78h12M44 82h12M88 82h4M100 82h8M36 86h4M68 86h12M104 86h4M32 90h4M104 90h4M108 98h4M24 102h4M112 106h4M20 114h4M116 114h4M20 118h4M116 118h4M112 126h4M112 130h4"/>
<path stroke="#46f884" d="M64 34h8M76 34h8M88 38h4M52 46h4M92 46h4M4 54h8M16 58h4M48 58h4M96 58h4M24 62h4M44 62h4M96 62h4M32 66h16M96 66h4M96 70h4M96 74h4M112 74h16M44 78h8M92 78h4M108 78h4M136 78h8M40 82h4M56 82h4M84 82h4M28 94h4M108 94h4M24 98h4M112 102h4M20 106h4M20 110h4M116 110h4M20 122h4M116 122h4M116 126h4"/>
<path stroke="#5dfc6f" d="M72 34h4M60 38h4M84 38h4M56 42h4M88 42h4M52 50h4M92 50h4M52 54h4M92 54h4M4 58h12M20 62h4M48 62h4M28 66h4M36 70h12M40 74h12M92 74h4M40 78h4M52 78h4M88 78h4M112 78h24M36 82h4M60 82h8M80 82h4M108 82h4M32 86h4M108 86h4M28 90h4M108 90h4M112 98h4M20 102h4M116 106h4M120 110h4M120 114h4M120 118h4M120 122h4M120 126h4"/>
<path stroke="#79fe59" d="M64 38h4M80 38h4M60 42h4M56 46h4M88 46h4M0 58h4M52 58h4M92 58h4M8 62h12M92 62h4M24 66h4M48 66h4M92 66h4M32 70h4M48 70h4M92 70h4M36 74h4M52 74h4M88 74h4M36 78h4M56 78h4M84 78h4M32 82h4M68 82h12M112 82h8M132 82h12M112 86h4M112 90h4M24 94h4M112 94h4M20 98h4M116 102h4M16 106h4M120 106h4M16 110h4M16 114h4M124 114h4M16 118h4M124 118h4M124 122h4"/>
<path stroke="#8fff49" d="M68 38h12M84 42h4M56 50h4M88 50h4M56 54h4M0 62h8M52 62h4M16 66h8M52 66h4M28 70h4M52 70h4M88 70h4M32 74h4M32 78h4M60 78h4M80 78h4M120 82h12M28 86h4M116 86h4M140 86h4M24 90h4M116 98h4M16 102h4M124 110h4M12 114h4M128 114h4"/>
<path stroke="#a4fc3c" d="M64 42h4M80 42h4M60 46h4M84 46h4M88 54h4M56 58h4M88 58h4M56 62h4M88 62h4M0 66h16M88 66h4M20 70h8M56 70h4M28 74h4M56 74h4M84 74h4M28 78h4M64 78h4M28 82h4M120 86h20M116 90h4M140 90h4M20 94h4M116 94h4M16 98h4M120 102h4M12 106h4M124 106h4M12 110h4M128 110h4"/>
<path stroke="#b4f836" d="M68 42h12M80 46h4M60 50h4M84 50h4M56 66h4M0 70h20M84 70h4M0 74h8M24 74h4M60 74h4M80 74h4M68 78h12M24 86h4M20 90h4M120 90h4M132 90h8M16 94h4M120 94h4M136 94h8M12 98h4M120 98h4M12 102h4M124 102h8M8 106h4M128 106h8M8 110h4M132 110h4"/>
<path stroke="#c3f134" d="M64 46h4M60 54h4M84 54h4M60 58h4M84 58h4M60 62h4M84 62h4M60 66h4M84 66h4M60 70h4M8 74h16M64 74h4M0 78h12M24 78h4M24 82h4M20 86h4M16 90h4M124 90h8M12 94h4M124 94h12M8 98h4M124 98h16M8 102h4M132 102h8"/>
<path stroke="#d4e735" d="M68 46h12M64 50h4M80 50h4M64 54h4M80 54h4M80 66h4M64 70h4M80 70h4M68 74h12M12 78h12M0 82h24M0 86h20M4 90h12M4 94h8M4 98h4M4 102h4"/>
<path stroke="#e1dd37" d="M68 50h12M64 58h4M80 58h4M64 62h4M80 62h4M64 66h4M68 70h4M76 70h4M0 90h4"/>
<path stroke="#eecf3a" d="M68 54h12M68 58h4M76 58h4M68 62h4M76 62h4M68 66h12M72 70h4"/>
<path stroke="#f6c33a" d="M72 58h4M72 62h4"/>
</g>
<path d="M586.2 1428L607.9 1429.1L623.3 1432L634.6 1436.2L659.9 1448.8M601.3 1554.5L605.3 1552.8L609.3 1549.6L611.5 1546.6L613.1 1542.6L613.5 1538.6L612.7 1534.6L610.6 1530.9L607.9 1528.6L605.3 1527.5L601.3 1527L589.3 1529.6L577.3 1523.7L569.3 1522.3L562.7 1524.3L557.7 1529.2L555.8 1534.6L556.1 1539.9L558.7 1544.8L562.7 1548.3L570.7 1552L577.3 1553.7L593.3 1555.3L601.3 1554.5M518.7 1435.4L533.4 1439.8L545.3 1441.7L594.6 1440L604 1440.4L611.9 1441.8L621.3 1445.1L628.2 1449.3L634.1 1454.6L641.2 1463.4L645.2 1466.6L651.9 1469.1L659.9 1470.3M598.1 1563.9L604 1562.3L609.3 1559.2L613.8 1554.5L617.6 1547.9L619.2 1541.2L618.9 1535.9L617 1530.6L613.3 1525.4L609.3 1522.7L605.3 1521.6L589.3 1522.1L570.7 1518L562.7 1519.5L556.5 1523.9L552.2 1530.6L550.9 1537.2L552 1543.9L556.4 1550.5L568 1557.9L577.3 1561.8L588 1563.9L598.1 1563.9M518.7 1454.2L536 1463.3L541.3 1467.6L549.3 1476.1L552 1477.9L554.7 1478.5L556 1477.7L557.3 1475.2L559.3 1465.3L561.2 1461.3L564.4 1457.3L569.3 1453.8L576 1451.1L582.6 1449.9L596 1449.4L604 1450.3L613.3 1454.2L619.2 1460L622.2 1466.6L624.4 1478.6L627.9 1482.9L631.9 1484.8L637.3 1485.8L659.9 1486.9M608.9 1569.2L614.6 1565L618.9 1559.9L622.3 1553.2L624.7 1545.2L625.2 1539.9L624.4 1534.6L621.8 1527.9L617.6 1521.2L613.3 1517.3L609.3 1516L589.3 1517L573.3 1513.9L566.7 1513.7L562.7 1514.6L558.7 1516.5L554.7 1519.6L550.9 1523.9L548.5 1527.9L546.6 1533.2L546 1542.6L548.7 1550.5L553.3 1556.5L562.7 1563.5L573.4 1569.2M518.7 1471.5L548 1486.9L553.3 1488.6L557.3 1488.4L560 1487.2L563.2 1483.9L569.7 1468L572.3 1464L575.1 1461.3L578.6 1459.1L584 1457.4L592 1456.7L598.6 1457.3L605.4 1460L611 1465.3L614.1 1472L619.2 1489.3L621.3 1493.5L623.6 1495.9L626.6 1496.9L641.2 1497.1L659.9 1499.3M622.8 1569.2L626.4 1563.9L629.4 1557.2L632.6 1545.2L632.9 1539.9L631.2 1534.6L619.9 1509.5L618.6 1507.3L615.9 1506L600 1511.2L592 1512.4L584 1511.8L570.7 1508.5L564 1508.4L558.7 1510.2L552 1515.7L546.2 1522.6L542.5 1529.2L540.6 1535.9L540.2 1543.9L541.5 1550.5L544.6 1557.2L549.3 1563.2L556.1 1569.2M592 1508L585.3 1507.6L577.3 1504.6L570.5 1499.9L568.6 1495.9L568.9 1491.9L572.9 1478.6L576.4 1470.6L581.6 1465.3L585.3 1463.6L589.3 1462.8L597.3 1463.9L601.3 1466.1L604 1468.6L608 1476L610.3 1487.9L609.1 1495.9L605.6 1501.3L600 1505.4L592 1508M518.7 1486.1L532 1488.9L540 1491.7L548 1496.2L550.6 1498.6L552 1501.3L551.8 1505.3L549.8 1509.3L540.5 1521.2L536.5 1527.9L533.3 1539.9L533.2 1547.9L534.7 1554.5L538.3 1562.5L543.1 1569.2M636 1569.2L642.6 1554.5L644.1 1549.2L644.5 1543.9L642.5 1537.2L635.9 1529L632.3 1522.6L630.7 1517.2L630.8 1511.9L631.9 1509.9L634.3 1507.9L639.9 1506.4L646.6 1506.8L659.9 1509.9M592 1502.8L588 1503.1L582.6 1500.6L579.5 1497.3L577.7 1491.9L578.4 1483.9L581.1 1476L585.3 1470.8L589.3 1469.2L594.6 1470.3L598.3 1473.3L601.4 1478.6L602.8 1485.3L602.5 1490.6L600.5 1495.9L597.1 1499.9L592 1502.8M518.7 1502.8L524 1502.6L529.4 1499.9L533.4 1499.3L539 1501.3L541.9 1505.3L541.6 1507.9L540 1510.4L532 1518.4L528.9 1522.6L525.9 1529.2L524.3 1535.9L523.7 1545.2L524.7 1553.2L527.2 1561.2L531.3 1569.2M650.6 1524.7L646.6 1524.6L642.6 1522.7L641.2 1521.2L641.4 1518.6L643.9 1517.6L647.4 1518.6L651.2 1522.6L651.4 1523.9L650.6 1524.7" fill="none" stroke="#000" stroke-opacity="0.55" stroke-width="0.5" stroke-linejoin="round"/>
</g>
<use href="#head" x="589.3" y="1498.6"/>
<rect x="684.1" y="1410.3" width="9.2" height="176.3" fill="url(#cb)"/>
<text x="698.5" y="1450.2" font-size="18.4" fill="#262626">0.04</text>
<text x="698.5" y="1512.8" font-size="18.4" fill="#262626">0.03</text>
<text x="698.5" y="1575.6" font-size="18.4" fill="#262626">0.02</text>
<path d="M693.3 1443.1h-1.6M693.3 1505.7h-1.6M693.3 1568.5h-1.6" stroke="#333" stroke-width="0.7" fill="none"/>
<text x="762.7" y="1498" font-size="20" text-anchor="middle" transform="rotate(-90 762.7 1498)" textLength="113.6" lengthAdjust="spacingAndGlyphs">PSD [<tspan font-family="Liberation Serif, serif" font-style="italic">μ</tspan>V<tspan dy="-7" font-size="15">2</tspan><tspan dy="7">/Hz]</tspan></text>
<text x="589.3" y="1403.3" font-size="20" text-anchor="middle" font-weight="bold" fill="#000" textLength="168" lengthAdjust="spacingAndGlyphs"><tspan font-family="Liberation Serif, serif" font-style="italic" font-weight="normal">θ</tspan> <tspan stroke="#000" stroke-width="0.9">@</tspan>3.9-7.8Hz | EC</text>
<g clip-path="url(#tc2)"><g filter="url(#tb)" stroke-width="4.3" fill="none" transform="translate(822.8 1426)">
<path stroke="#28bceb" d="M0 82h4"/>
<path stroke="#1fc9dd" d="M0 74h12M0 78h12M140 78h4M4 82h8M140 82h4M0 86h8M136 86h8M0 90h4M140 90h4M140 94h4"/>
<path stroke="#19d5cd" d="M0 70h8M12 74h8M140 74h4M12 78h8M132 78h8M12 82h4M132 82h8M8 86h4M132 86h4M4 90h4M136 90h4M136 94h4"/>
<path stroke="#19e2bb" d="M0 66h8M8 70h12M140 70h4M20 74h4M132 74h8M20 78h4M128 78h4M16 82h4M124 82h8M12 86h4M128 86h4M8 90h4M132 90h4M4 94h4M132 94h4M136 98h4M136 102h4"/>
<path stroke="#20eaac" d="M0 62h4M8 66h8M140 66h4M20 70h4M132 70h8M24 74h4M124 74h8M24 78h4M120 78h8M20 82h4M120 82h4M16 86h4M124 86h4M12 90h4M128 90h4M8 94h4M128 94h4M4 98h4M132 98h4"/>
<path stroke="#32f298" d="M0 58h4M140 58h4M4 62h8M140 62h4M16 66h8M136 66h4M24 70h4M128 70h4M28 74h4M120 74h4M28 78h4M116 78h4M24 82h4M116 82h4M20 86h4M120 86h4M16 90h4M124 90h4M12 94h4M8 98h4M128 98h4M4 102h4M132 102h4M132 106h4"/>
<path stroke="#46f884" d="M140 50h4M4 54h4M140 54h4M4 58h4M136 58h4M12 62h8M136 62h4M24 66h4M128 66h8M28 70h4M120 70h8M116 74h4M116 86h4M120 90h4M124 94h4M12 98h4M8 102h4M128 102h4M132 110h4"/>
<path stroke="#5dfc6f" d="M136 42h4M4 46h4M136 46h4M4 50h8M136 50h4M8 54h4M136 54h4M8 58h8M132 58h4M20 62h4M128 62h8M28 66h4M124 66h4M32 70h4M116 70h4M32 74h4M112 74h4M32 78h4M112 78h4M28 82h4M112 82h4M24 86h4M20 90h4M16 94h4M124 98h4M8 106h4M128 106h4M8 110h4"/>
<path stroke="#79fe59" d="M12 30h4M12 34h4M132 34h4M8 38h8M132 38h4M8 42h8M132 42h4M8 46h8M132 46h4M12 50h4M132 50h4M12 54h8M132 54h4M16 58h8M128 58h4M24 62h4M124 62h4M32 66h4M120 66h4M112 86h4M116 90h4M120 94h4M16 98h4M12 102h4M124 102h4M12 106h4M128 110h4M128 114h4"/>
<path stroke="#8fff49" d="M16 26h4M16 30h4M128 30h4M16 34h4M128 34h4M16 38h4M128 38h4M16 42h4M128 42h4M16 46h4M128 46h4M16 50h4M128 50h4M20 54h4M128 54h4M24 58h4M124 58h4M28 62h4M120 62h4M116 66h4M36 70h4M112 70h4M36 74h4M108 74h4M36 78h4M108 78h4M32 82h4M108 82h4M28 86h4M24 90h4M20 94h4M116 94h4M120 98h4M16 102h4M124 106h4M12 110h4M124 110h4M12 114h4"/>
<path stroke="#a4fc3c" d="M20 22h4M20 26h4M124 26h4M20 30h4M124 30h4M20 34h4M124 34h4M20 38h4M124 38h4M20 42h4M124 42h4M20 46h4M124 46h4M20 50h8M124 50h4M24 54h4M124 54h4M28 58h4M120 58h4M32 62h4M116 62h4M36 66h4M112 66h4M108 70h4M108 86h4M112 90h4M20 98h4M120 102h4M16 106h4M124 114h4M124 118h4M124 122h4"/>
<path stroke="#b4f836" d="M28 14h4M24 18h8M116 18h4M24 22h8M120 22h4M24 26h4M120 26h4M24 30h4M120 30h4M24 34h4M120 34h4M24 38h4M120 38h4M24 42h4M120 42h4M24 46h4M120 46h4M120 50h4M28 54h4M120 54h4M32 58h4M116 58h4M36 62h4M112 62h4M40 66h4M108 66h4M40 70h4M40 74h4M104 74h4M104 78h4M36 82h4M104 82h4M32 86h4M28 90h4M24 94h4M116 98h4M20 102h4M120 106h4M16 110h4M120 110h4M16 114h4M120 114h4M16 118h4M120 118h4M120 122h4M120 126h4"/>
<path stroke="#c3f134" d="M44 6h4M36 10h12M108 10h4M32 14h12M108 14h8M32 18h8M112 18h4M32 22h4M112 22h8M28 26h8M116 26h4M28 30h4M116 30h4M28 34h4M116 34h4M28 38h4M116 38h4M28 42h4M116 42h4M28 46h4M116 46h4M28 50h4M116 50h4M32 54h4M116 54h4M36 58h4M112 58h4M40 62h4M108 62h4M104 66h4M44 70h4M104 70h4M44 74h4M40 78h4M108 90h4M112 94h4M24 98h4M116 102h4M20 106h4M116 126h4"/>
<path stroke="#d4e735" d="M56 2h4M48 6h8M96 6h8M48 10h8M96 10h12M44 14h12M100 14h8M40 18h12M104 18h8M36 22h16M108 22h4M36 26h8M108 26h8M32 30h8M112 30h4M32 34h4M112 34h4M32 38h4M112 38h4M32 42h4M112 42h4M32 46h4M112 46h4M32 50h4M112 50h4M36 54h4M112 54h4M40 58h4M108 58h4M104 62h4M44 66h4M100 70h4M100 74h4M44 78h4M100 78h4M40 82h4M36 86h4M104 86h4M32 90h4M28 94h4M116 106h4M20 110h4M20 114h4M116 114h4M20 118h4M116 118h4M20 122h4M116 122h4M112 130h4"/>
<path stroke="#e1dd37" d="M60 2h32M56 6h12M80 6h16M56 10h12M84 10h12M56 14h8M88 14h12M52 18h12M92 18h12M52 22h8M96 22h12M44 26h12M100 26h8M40 30h12M104 30h8M36 34h8M108 34h4M36 38h4M108 38h4M36 42h4M108 42h4M36 46h4M108 46h4M36 50h4M108 50h4M40 54h4M108 54h4M44 58h4M104 58h4M44 62h8M100 62h4M48 66h4M100 66h4M48 70h4M96 70h4M48 74h4M96 74h4M100 82h4M104 90h4M108 94h4M112 98h4M24 102h4M24 106h4M116 110h4M24 118h4M24 122h4M112 122h4M24 126h4M112 126h4M108 130h4M108 134h4M64 142h32"/>
<path stroke="#eecf3a" d="M68 6h12M68 10h16M64 14h24M64 18h28M60 22h36M56 26h16M84 26h16M52 30h12M92 30h12M44 34h12M96 34h12M40 38h12M100 38h8M40 42h8M104 42h4M40 46h8M104 46h4M40 50h8M104 50h4M44 54h4M100 54h8M48 58h8M96 58h8M52 62h8M96 62h4M52 66h8M92 66h8M52 70h8M92 70h4M52 74h8M92 74h4M48 78h4M96 78h4M44 82h4M96 82h4M40 86h4M100 86h4M36 90h4M32 94h4M28 98h4M112 102h4M24 110h4M24 114h4M112 118h4M28 126h4M108 126h4M28 130h4M32 134h4M104 134h4M64 138h24M96 138h8M52 142h12"/>
<path stroke="#f6c33a" d="M72 26h12M64 30h28M56 34h40M52 38h48M48 42h24M84 42h20M48 46h20M88 46h16M48 50h24M88 50h16M48 54h52M56 58h40M60 62h36M60 66h32M60 70h32M60 74h32M52 78h28M88 78h8M48 82h4M92 82h4M96 86h4M100 90h4M108 98h4M28 102h4M112 106h4M112 110h4M112 114h4M28 118h4M28 122h4M108 122h4M32 126h4M104 126h4M32 130h4M104 130h4M36 134h4M64 134h20M96 134h8M40 138h4M52 138h12M88 138h8M48 142h4"/>
<path stroke="#fbb637" d="M72 42h12M68 46h20M72 50h16M80 78h8M52 82h40M44 86h4M92 86h4M40 90h4M104 94h4M32 98h4M28 106h4M28 110h4M28 114h4M108 118h4M32 122h4M104 122h4M36 126h4M100 126h4M36 130h4M64 130h20M96 130h8M40 134h8M52 134h12M84 134h12M44 138h8"/>
<path stroke="#fea431" d="M48 86h4M64 86h28M96 90h4M36 94h4M100 94h4M108 102h4M108 106h4M108 110h4M108 114h4M32 118h4M104 118h4M36 122h4M100 122h4M40 126h4M64 126h16M96 126h4M40 130h24M84 130h12M48 134h4"/>
<path stroke="#fe932a" d="M52 86h12M44 90h4M68 90h28M104 98h4M32 102h4M32 106h4M32 110h4M32 114h4M104 114h4M36 118h4M40 122h4M68 122h12M96 122h4M44 126h20M80 126h16"/>
<path stroke="#fb7e21" d="M48 90h20M40 94h4M68 94h16M92 94h8M36 98h4M100 98h4M104 102h4M104 110h4M72 118h4M100 118h4M44 122h8M60 122h8M80 122h16"/>
<path stroke="#f66c19" d="M44 94h4M64 94h4M84 94h8M68 98h16M96 98h4M36 102h4M104 106h4M36 110h4M36 114h4M72 114h4M100 114h4M40 118h8M64 118h8M76 118h8M92 118h8M52 122h8"/>
<path stroke="#f05b12" d="M48 94h4M56 94h8M40 98h4M64 98h4M84 98h12M68 102h16M100 102h4M36 106h4M68 106h12M100 106h4M68 110h12M100 110h4M40 114h4M64 114h8M76 114h8M96 114h4M48 118h16M84 118h8"/>
<path stroke="#e7490c" d="M52 94h4M44 98h4M60 98h4M40 102h4M64 102h4M84 102h16M64 106h4M80 106h8M96 106h4M40 110h4M64 110h4M80 110h8M92 110h8M44 114h4M60 114h4M84 114h12"/>
<path stroke="#dd3d08" d="M48 98h12M60 102h4M40 106h4M60 106h4M88 106h8M60 110h4M88 110h4M48 114h12"/>
<path stroke="#d02f05" d="M44 102h4M56 102h4M44 106h4M44 110h4M56 110h4"/>
<path stroke="#c32503" d="M48 102h8M56 106h4M48 110h8"/>
<path stroke="#b41b01" d="M48 106h8"/>
</g>
<path d="M824.8 1535.2L827.9 1529.2L832.5 1522.6L850.1 1505.3L851.8 1501.3L850.1 1497.9L846.1 1494.9L831.5 1489.7L824.8 1485.6M966 1487.6L960.2 1493.3L946 1501.7L943.7 1503.9L942.8 1506.6L944.7 1510.6L955.2 1523.9L960.6 1535.9L962.5 1543.9L963.3 1551.9L963.1 1561.2L962 1569.2M833.6 1569.2L832.4 1559.9L832.5 1550.5L833.8 1541.2L836 1533.2L841.8 1522.6L857.1 1506.6L859.2 1502.6L859.6 1499.9L858.8 1495.9L856.1 1491.9L851.4 1488.1L841.2 1481.3L837.8 1477.3L837.1 1473.3L837.4 1462.6L834.3 1446.7L832.1 1428M957.8 1428L956.7 1444L954.1 1462.6L955.4 1476L954.7 1481.3L951.1 1486.6L936.8 1497.3L934.9 1499.9L933.7 1503.9L934.1 1507.9L935.3 1510.6L946.1 1523.9L949 1529.2L951.1 1535.9L952.2 1543.9L951.9 1553.2L950.5 1561.2L947.9 1569.2M848.7 1569.2L845.4 1561.2L843.6 1551.9L843 1539.9L844.3 1531.9L846.4 1526.6L850 1521.2L864.9 1505.3L867.7 1498.6L867.3 1494.6L866.1 1491.9L854.8 1477.3L853.1 1469.3L853.1 1458.6L854.1 1452.5L862.5 1437.3L865.4 1428M932.4 1428L940.4 1452L941.9 1476L941 1480L939.5 1482.6L931.6 1490.6L928.7 1494.6L927.2 1498.6L926.9 1503.9L927.9 1507.9L930 1511.9L940.9 1526.6L942.9 1531.9L943.8 1538.6L942.9 1547.9L940.7 1555.8L937.6 1562.5L932.7 1569.2M872.8 1567.9L867.4 1567.1L863.8 1565.2L859.7 1561.2L856.8 1556.8L853.2 1549.2L851.2 1542.6L850.4 1535.9L851.1 1530.6L854.1 1523.9L858.5 1518.6L868.8 1510.1L886.5 1497.3L888.1 1494.6L887.4 1491.9L885.4 1489.3L871.4 1477.1L870.4 1473.3L872.4 1468L878.1 1463L892.7 1454.9L899.4 1453.1L904.7 1453.6L911.4 1456.4L918 1460.5L921.7 1464L923.9 1468L925 1473.3L924.4 1477.3L914.7 1489.3L912.9 1493.3L912.8 1495.9L914.2 1499.9L918.5 1506.6L931.4 1521.2L935 1526.6L937 1533.2L936.3 1541.2L934 1547.4L930 1553.9L924.7 1559.8L920.4 1562.5L916.7 1563.7L912.7 1563.8L898.8 1559.9L894.1 1559.6L889.2 1561.2L878.1 1566.8L872.8 1567.9M915.4 1550.7L910.1 1550.9L899.4 1547.7L895.4 1547.1L882.1 1551L876.8 1551.5L866.1 1548.1L861.8 1545.2L858.2 1539.9L856.8 1533.2L857.8 1527.9L859.9 1523.9L864.8 1519.3L871.4 1515.5L876.8 1513.8L884.7 1514.1L896.7 1518.5L910.1 1516.2L916.7 1517.3L922 1520L927.4 1524.2L929.9 1527.9L930.9 1533.2L929.6 1538.6L926 1543.9L919.4 1548.9L915.4 1550.7M882.1 1541.5L878.1 1542.5L874.1 1542.3L870.1 1541.1L866.3 1538.6L864.4 1535.9L863.5 1531.9L864.4 1527.9L866.3 1525.2L871.4 1522.1L876.8 1521.2L882.1 1522.4L886.1 1525.2L889 1529.2L889.6 1533.2L888.7 1535.9L886.6 1538.6L882.1 1541.5M915.4 1539L912.7 1539.5L910.1 1538.9L907.1 1535.9L907.3 1531.9L910.1 1529.2L915.4 1528L919.2 1529.2L920.6 1530.6L921 1531.9L920.5 1534.6L918.3 1537.2L915.4 1539" fill="none" stroke="#000" stroke-opacity="0.55" stroke-width="0.5" stroke-linejoin="round"/>
</g>
<use href="#head" x="895.4" y="1498.6"/>
<rect x="990.2" y="1410.3" width="9.2" height="176.3" fill="url(#cb)"/>
<text x="1004.6" y="1438.2" font-size="18.4" fill="#262626">0.1</text>
<text x="1004.6" y="1490.4" font-size="18.4" fill="#262626">0.08</text>
<text x="1004.6" y="1543.4" font-size="18.4" fill="#262626">0.06</text>
<path d="M999.4 1431.1h-1.6M999.4 1483.3h-1.6M999.4 1536.3h-1.6" stroke="#333" stroke-width="0.7" fill="none"/>
<text x="1068.8" y="1498" font-size="20" text-anchor="middle" transform="rotate(-90 1068.8 1498)" textLength="113.6" lengthAdjust="spacingAndGlyphs">PSD [<tspan font-family="Liberation Serif, serif" font-style="italic">μ</tspan>V<tspan dy="-7" font-size="15">2</tspan><tspan dy="7">/Hz]</tspan></text>
<text x="895.4" y="1403.3" font-size="20" text-anchor="middle" font-weight="bold" fill="#000" textLength="183" lengthAdjust="spacingAndGlyphs"><tspan font-family="Liberation Serif, serif" font-style="italic" font-weight="normal">α</tspan> <tspan stroke="#000" stroke-width="0.9">@</tspan>7.8-13.2Hz | EC</text>
<g clip-path="url(#tc3)"><g filter="url(#tb)" stroke-width="4.3" fill="none" transform="translate(1128.9 1426)">
<path stroke="#30123b" d="M68 10h24M60 14h36M56 18h40M56 22h40M56 26h40M56 30h40M56 34h40M56 38h36M60 42h32M60 46h28M60 50h28M60 54h28M60 58h28M60 62h28M60 66h24M64 70h20M64 74h20M64 78h20M64 82h16M64 86h16M64 90h12M60 94h16M56 98h20M52 102h24M48 106h28M48 110h24M52 114h12"/>
<path stroke="#372466" d="M80 2h12M64 6h36M56 10h12M92 10h12M52 14h8M96 14h8M52 18h4M96 18h8M52 22h4M96 22h8M52 26h4M96 26h4M52 30h4M96 30h4M52 34h4M92 38h4M56 42h4M88 46h4M88 50h4M84 66h4M60 70h4M60 74h4M60 78h4M60 82h4M80 82h4M60 86h4M60 90h4M76 90h4M48 102h4M44 110h4M72 110h4M48 114h4M64 114h4"/>
<path stroke="#3d358b" d="M56 2h24M52 6h12M100 6h4M48 10h8M104 10h8M48 14h4M104 14h12M48 18h4M104 18h16M48 22h4M104 22h20M16 26h4M48 26h4M100 26h8M120 26h8M12 30h4M48 30h4M100 30h4M124 30h8M12 34h4M96 34h4M128 34h8M8 38h4M52 38h4M96 38h4M92 42h4M56 46h4M92 46h4M56 50h4M56 54h4M88 54h4M88 58h4M84 70h4M56 94h4M76 94h4M52 98h4M76 98h4M76 102h4M44 106h4M76 106h4M76 110h4M44 114h4M68 114h4M48 118h16"/>
<path stroke="#4249b1" d="M44 6h8M36 10h12M28 14h20M24 18h24M20 22h12M36 22h12M20 26h8M40 26h8M108 26h12M16 30h8M44 30h4M104 30h20M16 34h8M48 34h4M100 34h8M120 34h8M12 38h8M48 38h4M100 38h4M124 38h12M8 42h4M52 42h4M96 42h4M128 42h12M92 50h4M56 58h4M56 62h4M88 62h4M84 74h4M80 86h4M56 90h4M80 106h4M40 110h4M72 114h8M44 118h4M64 118h4"/>
<path stroke="#4559cb" d="M32 22h4M28 26h12M24 30h20M24 34h4M40 34h8M108 34h12M20 38h4M44 38h4M104 38h20M12 42h8M48 42h4M100 42h4M120 42h8M4 46h12M52 46h4M96 46h4M128 46h12M52 50h4M92 54h4M92 58h4M56 66h4M88 66h4M56 70h4M56 74h4M84 78h4M56 86h4M80 90h4M52 94h4M80 94h4M48 98h4M80 98h4M44 102h4M80 102h4M40 106h4M80 110h4M40 114h4M80 114h4M68 118h4M48 122h12"/>
<path stroke="#466be3" d="M28 34h12M24 38h8M40 38h4M20 42h8M44 42h4M104 42h16M16 46h4M48 46h4M100 46h4M120 46h8M4 50h8M96 50h4M128 50h16M52 54h4M52 58h4M92 62h4M88 70h4M56 78h4M56 82h4M84 82h4M84 106h4M84 110h4M84 114h4M40 118h4M72 118h8M100 118h12M44 122h4M60 122h4M100 122h16M108 126h8"/>
<path stroke="#477bf2" d="M32 38h8M28 42h4M40 42h4M20 46h8M44 46h4M104 46h16M12 50h8M48 50h4M100 50h4M120 50h8M4 54h8M96 54h4M132 54h12M0 58h4M52 62h4M40 102h4M84 102h4M36 110h4M88 110h4M36 114h4M88 114h24M36 118h4M80 118h20M112 118h4M40 122h4M64 122h4M96 122h4M116 122h4M100 126h8M116 126h4M108 130h8"/>
<path stroke="#458afc" d="M32 42h8M28 46h4M40 46h4M20 50h4M44 50h4M104 50h16M12 54h4M48 54h4M100 54h4M124 54h8M4 58h4M96 58h4M136 58h8M0 62h4M52 66h4M92 66h4M88 74h4M84 86h4M52 90h4M48 94h4M44 98h4M84 98h4M36 106h4M88 106h4M92 110h8M32 114h4M112 114h4M32 118h4M116 118h4M36 122h4M68 122h8M88 122h8M120 122h4M44 126h20M96 126h4M120 126h4M104 130h4M108 134h4"/>
<path stroke="#3e9bfe" d="M32 46h8M24 50h8M40 50h4M16 54h4M104 54h8M116 54h8M8 58h4M48 58h4M100 58h4M128 58h8M4 62h4M96 62h4M136 62h8M0 66h4M52 70h4M84 90h4M84 94h4M32 110h4M100 110h12M116 114h4M28 118h4M120 118h4M32 122h4M76 122h12M124 122h4M36 126h8M64 126h4M92 126h4M100 130h4M104 134h4"/>
<path stroke="#35abf8" d="M32 50h8M20 54h4M44 54h4M112 54h4M12 58h4M104 58h4M120 58h8M8 62h4M48 62h4M132 62h4M4 66h4M140 66h4M0 70h4M92 70h4M52 74h4M88 78h4M52 86h4M40 98h4M36 102h4M88 102h4M32 106h4M92 106h8M28 110h4M112 110h4M28 114h4M120 114h4M24 118h4M124 118h4M24 122h8M28 126h8M68 126h8M84 126h8M40 130h20M96 130h4M100 134h4"/>
<path stroke="#28bceb" d="M24 54h20M16 58h4M44 58h4M108 58h12M100 62h4M124 62h8M96 66h4M132 66h8M4 70h4M140 70h4M0 74h4M52 78h4M52 82h4M48 90h4M44 94h4M88 98h4M28 106h4M100 106h8M24 110h4M116 110h8M24 114h4M124 114h8M20 118h4M20 122h4M24 126h4M76 126h8M28 130h12M60 130h8M92 130h4"/>
<path stroke="#1fc9dd" d="M20 58h4M40 58h4M12 62h4M104 62h4M120 62h4M8 66h4M48 66h4M128 66h4M132 70h8M4 74h4M92 74h4M140 74h4M0 78h4M140 78h4M0 82h4M88 82h4M36 98h4M32 102h4M92 102h4M108 106h8M20 110h4M124 110h4M16 114h8M16 118h4M68 130h8M80 130h12M32 134h28M96 134h4M100 138h4"/>
<path stroke="#19d5cd" d="M24 58h16M16 62h4M44 62h4M108 62h12M12 66h4M100 66h4M124 66h4M8 70h4M96 70h4M128 70h4M136 74h4M4 78h4M136 78h4M140 82h4M0 86h4M140 86h4M0 90h4M88 94h4M28 102h4M96 102h4M20 106h8M116 106h8M8 110h12M128 110h8M12 114h4M76 130h4M60 134h8M88 134h8M40 138h8M96 138h4"/>
<path stroke="#19e2bb" d="M20 62h4M40 62h4M104 66h4M120 66h4M48 70h4M8 74h4M132 74h4M132 78h4M4 82h4M136 82h4M4 86h4M48 86h4M88 86h4M136 86h4M4 90h4M88 90h4M136 90h8M4 94h4M40 94h4M136 94h8M4 98h4M32 98h4M92 98h4M136 98h4M4 102h8M24 102h4M100 102h8M132 102h8M8 106h12M124 106h12M68 134h20M48 138h12M92 138h4"/>
<path stroke="#20eaac" d="M24 62h8M36 62h4M16 66h4M44 66h4M108 66h12M12 70h4M100 70h4M124 70h4M48 74h4M128 74h4M8 78h4M92 78h4M128 78h4M8 82h4M132 82h4M132 86h4M44 90h4M132 90h4M8 94h4M132 94h4M8 98h4M28 98h4M128 98h8M12 102h12M108 102h24M60 138h8M84 138h8M48 142h8M92 142h4"/>
<path stroke="#32f298" d="M32 62h4M20 66h4M104 70h4M116 70h8M12 74h4M96 74h4M124 74h4M48 82h4M128 82h4M8 86h4M128 86h4M8 90h4M128 90h4M12 94h4M36 94h4M128 94h4M12 98h16M96 98h4M124 98h4M68 138h16M56 142h8M84 142h8"/>
<path stroke="#46f884" d="M40 66h4M16 70h4M44 70h4M108 70h8M120 74h4M12 78h4M48 78h4M124 78h4M12 82h4M92 82h4M124 82h4M12 90h4M124 90h4M16 94h4M32 94h4M92 94h4M124 94h4M100 98h4M116 98h8M64 142h20"/>
<path stroke="#5dfc6f" d="M24 66h16M16 74h4M100 74h4M116 74h4M120 78h4M12 86h4M44 86h4M124 86h4M40 90h4M20 94h12M120 94h4M104 98h12"/>
<path stroke="#79fe59" d="M20 70h4M104 74h4M112 74h4M16 78h4M96 78h4M120 82h4M16 86h4M92 86h4M120 86h4M16 90h4M92 90h4M120 90h4M96 94h4M116 94h4"/>
<path stroke="#8fff49" d="M24 70h4M40 70h4M20 74h4M44 74h4M108 74h4M116 78h4M16 82h4M20 90h4M36 90h4M112 94h4"/>
<path stroke="#a4fc3c" d="M28 70h4M36 70h4M44 78h4M100 78h4M44 82h4M96 82h4M116 82h4M20 86h4M40 86h4M116 86h4M24 90h12M116 90h4M100 94h12"/>
<path stroke="#b4f836" d="M32 70h4M20 78h4M112 78h4M20 82h4M96 90h4"/>
<path stroke="#c3f134" d="M24 74h4M40 74h4M104 78h8M112 82h4M24 86h4M36 86h4M96 86h4M112 90h4"/>
<path stroke="#d4e735" d="M28 74h4M24 78h4M40 78h4M24 82h4M40 82h4M100 82h4M28 86h8M112 86h4M100 90h4M108 90h4"/>
<path stroke="#e1dd37" d="M32 74h8M104 82h8M100 86h4M104 90h4"/>
<path stroke="#eecf3a" d="M28 78h4M36 78h4M28 82h4M36 82h4M108 86h4"/>
<path stroke="#f6c33a" d="M32 78h4M32 82h4M104 86h4"/>
</g>
<path d="M1130.9 1475L1147.1 1466.6L1156.2 1455.7L1161.5 1451.6L1164.2 1451L1166.9 1451.8L1173.5 1458.4L1180.2 1468.3L1183.8 1476L1186.7 1491.9L1187.9 1509.3L1187.3 1513.3L1185.7 1517.2L1182.5 1521.2L1172.4 1530.6L1170.9 1533.2L1170.3 1537.2L1171.5 1541.2L1174.9 1544.8L1178.9 1546.7L1184.2 1547.4L1190.8 1546.3L1205.5 1541.2L1208.3 1539.9L1211 1537.2L1211.7 1533.2L1209.9 1521.2L1211.5 1513.3L1224.5 1476L1228.1 1470L1234.8 1462.7L1238.8 1460.4L1244.1 1460.2L1248.1 1462.3L1256.9 1469.3L1272.1 1472.7M1130.9 1489.5L1141.6 1481.5L1160.2 1472.8L1165.5 1471.9L1170.9 1473.6L1176.2 1478.2L1180.8 1486.6L1183.6 1495.9L1184.6 1507.9L1183.4 1513.3L1181 1517.2L1168.7 1527.9L1163.7 1534.6L1162 1541.2L1162.4 1543.9L1164.2 1547.1L1166.9 1549.5L1171.4 1551.9L1181.5 1553.6L1189.5 1552.7L1204.2 1548.3L1217.5 1547.9L1222.8 1549.8L1237.5 1559.5L1242.8 1561.3L1246.8 1561.7L1252.1 1560.2L1255 1557.2L1255.8 1553.2L1253.9 1547.9L1249.1 1542.6L1244.1 1539.5L1237.5 1537.2L1225.5 1535.4L1220.1 1532.2L1216.3 1526.6L1214.5 1521.2L1214.3 1515.9L1215.6 1510.6L1220.1 1498.6L1225.5 1489.3L1232.1 1481.1L1237.5 1477.8L1242.8 1477.1L1248.1 1478.2L1272.1 1487.8M1130.9 1506.9L1139.5 1493.3L1143.6 1489.3L1148.2 1486.2L1154.9 1483.4L1161.5 1482.2L1166.9 1482.5L1172.2 1484.7L1177.5 1490.3L1180.6 1497.3L1182 1505.3L1180.6 1511.9L1177.9 1515.9L1174.9 1518.7L1159.4 1529.2L1144.2 1541.2L1142.1 1543.9L1141.1 1546.6L1141.3 1549.2L1142.7 1551.9L1146.8 1555.9L1151.6 1558.5L1157.5 1560.3L1164.2 1561.2L1182.9 1560.6L1204.2 1555.7L1214.8 1556.3L1222.8 1559.1L1235.3 1569.2M1272.1 1538.1L1266.8 1538.6L1261.4 1538L1246.8 1532.9L1226.8 1529.1L1222.8 1526.8L1220.1 1524L1218.1 1519.9L1217.5 1515.9L1217.9 1511.9L1219.7 1506.6L1225.5 1496.7L1232.1 1490.6L1236.1 1488.3L1240.1 1487.1L1248.1 1487.6L1256.1 1490.8L1265.1 1497.3L1272.1 1505.1M1154.9 1524.1L1150.9 1524.6L1146.9 1524.2L1143.6 1522.6L1141.2 1519.9L1139.7 1515.9L1139.5 1511.9L1140.6 1506.6L1142.6 1501.3L1147 1494.6L1153.5 1490.3L1160.2 1488.9L1169.5 1489.9L1173.5 1492.4L1177.5 1497.9L1179.3 1503.9L1178.6 1509.3L1176.1 1513.3L1170.9 1517.6L1161.5 1522L1154.9 1524.1M1250.8 1525.4L1242.8 1526.3L1232.1 1525.5L1226.8 1524L1223.3 1521.2L1220.9 1517.2L1220.4 1511.9L1223.3 1505.3L1228.1 1499.4L1234.8 1495.6L1241.5 1494.3L1248.1 1495.6L1254.2 1499.9L1258.3 1506.6L1259.6 1511.9L1259.6 1515.9L1258.5 1519.9L1256.5 1522.6L1250.8 1525.4M1184.6 1569.2L1198.8 1565.1L1204.2 1564.5L1212.2 1565.8L1219.1 1569.2M1161.5 1517.4L1154.9 1517.7L1150.6 1515.9L1147.7 1511.9L1147.5 1505.3L1149.8 1499.9L1154 1495.9L1160.2 1493.9L1166.9 1494.1L1170.9 1495.7L1173.9 1498.6L1176 1502.6L1176.2 1506.6L1174.1 1510.6L1170.9 1513.6L1166.9 1515.8L1161.5 1517.4M1241.5 1521.3L1236.1 1521.8L1230.8 1521.1L1226.8 1519L1224.4 1515.9L1223.6 1511.9L1224.5 1509.3L1228.1 1504.3L1232.1 1501.5L1237.5 1500.2L1242.8 1500.7L1246.8 1503.1L1249.1 1506.6L1249.8 1510.6L1248.9 1515.9L1245.5 1519.7L1241.5 1521.3M1165.5 1512.1L1158.9 1512.6L1154.9 1510.1L1153.9 1507.9L1153.8 1505.3L1154.9 1502.4L1157.5 1499.7L1161.5 1498.2L1165.5 1498.3L1168.2 1499.3L1170.9 1501.8L1171.9 1505.3L1171 1507.9L1168.5 1510.6L1165.5 1512.1M1237.5 1517.4L1232.1 1516.9L1229.5 1515L1228.5 1513.3L1228.6 1510.6L1230.3 1507.9L1234.8 1505.3L1237.5 1505.1L1240.1 1506L1242.9 1509.3L1243.1 1511.9L1242.1 1514.6L1240.1 1516.3L1237.5 1517.4" fill="none" stroke="#000" stroke-opacity="0.55" stroke-width="0.5" stroke-linejoin="round"/>
</g>
<use href="#head" x="1201.5" y="1498.6"/>
<rect x="1296.3" y="1410.3" width="9.2" height="176.3" fill="url(#cb)"/>
<text x="1310.7" y="1429.8" font-size="18.4" fill="#262626">0.014</text>
<text x="1310.7" y="1480.2" font-size="18.4" fill="#262626">0.012</text>
<text x="1310.7" y="1530.2" font-size="18.4" fill="#262626">0.01</text>
<text x="1310.7" y="1580.6" font-size="18.4" fill="#262626">0.008</text>
<path d="M1305.5 1422.7h-1.6M1305.5 1473.1h-1.6M1305.5 1523.1h-1.6M1305.5 1573.5h-1.6" stroke="#333" stroke-width="0.7" fill="none"/>
<text x="1385.5" y="1498" font-size="20" text-anchor="middle" transform="rotate(-90 1385.5 1498)" textLength="113.6" lengthAdjust="spacingAndGlyphs">PSD [<tspan font-family="Liberation Serif, serif" font-style="italic">μ</tspan>V<tspan dy="-7" font-size="15">2</tspan><tspan dy="7">/Hz]</tspan></text>
<text x="1201.5" y="1403.3" font-size="20" text-anchor="middle" font-weight="bold" fill="#000" textLength="191.7" lengthAdjust="spacingAndGlyphs"><tspan font-family="Liberation Serif, serif" font-style="italic" font-weight="normal">β</tspan> <tspan stroke="#000" stroke-width="0.9">@</tspan>13.2-29.8Hz | EC</text>
<g clip-path="url(#tc4)"><g filter="url(#tb)" stroke-width="4.3" fill="none" transform="translate(1435 1426)">
<path stroke="#30123b" d="M68 46h8M68 50h12M64 54h16M64 58h16M64 62h20M64 66h20M60 70h24M60 74h24M60 78h24M60 82h24M60 86h24M56 90h32M56 94h32M52 98h36M56 102h28"/>
<path stroke="#372466" d="M68 34h8M68 38h12M64 42h16M64 46h4M76 46h8M64 50h4M80 50h4M80 54h4M60 58h4M80 58h4M60 62h4M60 66h4M56 82h4M84 82h4M56 86h4M84 86h4M52 90h4M52 94h4M88 94h4M48 98h4M88 98h4M48 102h8M84 102h8M52 106h4"/>
<path stroke="#3d358b" d="M68 26h8M64 30h16M64 34h4M76 34h8M60 38h8M80 38h4M60 42h4M80 42h4M60 46h4M84 46h4M60 50h4M84 50h4M60 54h4M84 54h4M84 58h4M84 62h4M56 66h4M84 66h4M56 70h4M84 70h4M56 74h4M84 74h4M56 78h4M84 78h4M52 86h4M88 86h4M88 90h4M48 94h4M92 94h4M44 98h4M92 98h4M44 102h4M92 102h4M44 106h8M56 106h40"/>
<path stroke="#4249b1" d="M64 26h4M76 26h4M60 30h4M80 30h4M60 34h4M84 34h4M84 38h4M56 42h4M84 42h4M56 46h4M56 50h4M56 54h4M56 58h4M56 62h4M52 82h4M88 82h4M48 90h4M92 90h4M44 94h4M40 98h4M96 98h4M40 102h4M96 102h4M40 106h4M96 106h4M40 110h20M88 110h8"/>
<path stroke="#4559cb" d="M64 22h16M60 26h4M80 26h4M56 30h4M84 30h4M56 34h4M56 38h4M88 38h4M88 42h4M88 46h4M88 50h4M52 54h4M88 54h4M52 58h4M88 58h4M52 62h4M88 62h4M52 66h4M88 66h4M52 70h4M88 70h4M52 74h4M88 74h4M52 78h4M88 78h4M48 82h4M48 86h4M92 86h4M44 90h4M40 94h4M96 94h4M100 98h4M36 102h4M100 102h4M36 106h4M100 106h4M36 110h4M60 110h4M80 110h8M96 110h8M44 114h8"/>
<path stroke="#466be3" d="M64 18h16M60 22h4M80 22h8M56 26h4M84 26h4M52 30h4M88 30h4M52 34h4M88 34h4M52 38h4M52 42h4M92 42h4M52 46h4M92 46h4M52 50h4M92 50h4M92 54h4M92 58h4M92 62h4M92 66h4M92 70h4M48 78h4M92 78h4M92 82h4M44 86h4M96 90h4M100 94h4M36 98h4M104 102h4M32 106h4M104 106h4M64 110h16M104 110h4M36 114h8M52 114h8M88 114h16"/>
<path stroke="#477bf2" d="M56 18h8M80 18h8M52 22h8M88 22h4M52 26h4M88 26h4M92 30h4M48 34h4M92 34h4M48 38h4M92 38h4M48 42h4M48 46h4M48 50h4M48 54h4M48 58h4M48 62h4M48 66h4M48 70h4M48 74h4M92 74h4M44 82h4M96 82h4M96 86h4M40 90h4M100 90h4M36 94h4M104 98h4M32 102h4M108 102h4M108 106h4M32 110h4M108 110h4M32 114h4M60 114h4M80 114h8M104 114h8M44 118h8"/>
<path stroke="#458afc" d="M56 14h32M52 18h4M88 18h4M48 22h4M92 22h4M48 26h4M92 26h4M48 30h4M96 34h4M96 38h4M96 42h4M96 46h4M96 50h4M96 54h4M96 58h4M96 62h4M96 66h4M96 70h4M44 74h4M96 74h4M44 78h4M96 78h4M40 86h4M100 86h4M36 90h4M104 94h4M32 98h4M108 98h4M28 106h4M112 106h4M28 110h4M112 110h4M64 114h4M36 118h8M52 118h4M88 118h20"/>
<path stroke="#3e9bfe" d="M52 10h36M48 14h8M88 14h4M48 18h4M92 18h4M44 22h4M96 22h4M44 26h4M96 26h4M44 30h4M96 30h4M44 34h4M44 38h4M100 38h4M44 42h4M100 42h4M44 46h4M100 46h4M44 50h4M100 50h4M44 54h4M100 54h4M44 58h4M44 62h4M44 66h4M44 70h4M40 82h4M100 82h4M104 90h4M32 94h4M28 98h4M28 102h4M112 102h4M28 114h4M68 114h12M112 114h4M32 118h4M56 118h4M84 118h4M108 118h4"/>
<path stroke="#35abf8" d="M56 2h28M48 6h44M44 10h8M88 10h8M44 14h4M92 14h8M40 18h8M96 18h4M40 22h4M100 22h4M40 26h4M100 26h4M40 30h4M100 30h4M40 34h4M100 34h4M40 38h4M40 42h4M40 46h4M40 50h4M100 58h4M100 62h4M100 66h4M100 70h4M40 74h4M100 74h4M40 78h4M100 78h4M36 86h4M104 86h4M32 90h4M108 94h4M112 98h4M24 102h4M116 102h4M24 106h4M116 106h4M24 110h4M116 110h4M60 118h4M80 118h4M36 122h16M92 122h12"/>
<path stroke="#28bceb" d="M84 2h8M44 6h4M92 6h8M40 10h4M96 10h8M36 14h8M100 14h4M36 18h4M100 18h4M36 22h4M104 22h4M36 26h4M104 26h4M36 30h4M104 30h4M36 34h4M104 34h4M36 38h4M104 38h4M36 42h4M104 42h4M36 46h4M104 46h4M104 50h4M40 54h4M104 54h4M40 58h4M104 58h4M40 62h4M40 66h4M40 70h4M36 82h4M104 82h4M108 90h4M28 94h4M112 94h4M24 98h4M116 98h4M120 106h4M120 110h4M24 114h4M116 114h4M28 118h4M112 118h4M32 122h4M52 122h4M84 122h8M104 122h8"/>
<path stroke="#1fc9dd" d="M100 6h4M36 10h4M104 10h4M32 14h4M104 14h8M28 18h8M104 18h8M28 22h8M108 22h4M32 26h4M108 26h4M32 30h4M108 30h4M32 34h4M108 34h4M32 38h4M108 38h4M32 42h4M108 42h4M108 46h4M36 50h4M108 50h4M36 54h4M36 58h4M104 62h4M104 66h4M104 70h4M104 74h4M36 78h4M104 78h4M32 86h4M108 86h4M28 90h4M24 94h4M116 94h4M20 102h4M120 102h4M20 106h4M20 110h4M120 114h4M24 118h4M64 118h4M76 118h4M116 118h4M56 122h4"/>
<path stroke="#19d5cd" d="M108 10h4M28 14h4M112 14h4M24 18h4M112 18h8M24 22h4M112 22h8M24 26h8M112 26h8M24 30h8M112 30h8M24 34h8M112 34h8M28 38h4M112 38h4M28 42h4M112 42h4M32 46h4M112 46h4M32 50h4M112 50h4M108 54h4M108 58h4M36 62h4M108 62h4M36 66h4M36 70h4M36 74h4M32 82h4M108 82h4M112 90h4M20 98h4M120 98h4M124 102h4M124 106h4M124 110h4M20 114h4M68 118h8M120 118h4M28 122h4M60 122h4M80 122h4M112 122h4M36 126h16M92 126h16"/>
<path stroke="#19e2bb" d="M20 22h4M120 22h4M16 26h8M120 26h8M16 30h8M120 30h4M20 34h4M120 34h4M20 38h8M116 38h8M24 42h4M116 42h4M28 46h4M116 46h4M28 50h4M32 54h4M112 54h4M32 58h4M112 58h4M108 66h4M108 70h4M108 74h4M32 78h4M108 78h4M28 86h4M112 86h4M24 90h4M116 90h4M20 94h4M120 94h4M16 98h4M124 98h4M16 102h4M128 102h4M16 106h4M128 106h4M16 110h4M128 110h4M16 114h4M124 114h4M20 118h4M24 122h4M116 122h4M32 126h4M52 126h4M88 126h4M108 126h4"/>
<path stroke="#20eaac" d="M12 30h4M124 30h8M12 34h8M124 34h8M16 38h4M124 38h4M20 42h4M120 42h8M24 46h4M120 46h4M24 50h4M116 50h8M28 54h4M116 54h4M32 62h4M112 62h4M32 66h4M32 70h4M32 74h4M28 82h4M112 82h4M24 86h4M116 86h4M20 90h4M120 90h4M16 94h4M124 94h4M128 98h4M12 102h4M12 106h4M132 106h4M12 110h4M128 114h4M16 118h4M124 118h4M20 122h4M64 122h4M76 122h4M120 122h4M28 126h4M56 126h4M84 126h4M112 126h4"/>
<path stroke="#32f298" d="M132 34h4M8 38h8M128 38h8M12 42h8M128 42h8M16 46h8M124 46h8M20 50h4M124 50h4M24 54h4M120 54h4M28 58h4M116 58h4M28 62h4M116 62h4M112 66h4M112 70h4M28 78h4M20 86h4M120 86h4M16 90h4M124 90h4M128 94h4M12 98h4M132 98h4M132 102h4M132 110h4M12 114h4M68 122h8M124 122h4M24 126h4M116 126h8M32 130h20M92 130h20"/>
<path stroke="#46f884" d="M8 42h4M136 42h4M12 46h4M132 46h8M16 50h4M128 50h8M20 54h4M124 54h8M24 58h4M120 58h8M24 62h4M120 62h4M28 66h4M116 66h4M28 70h4M28 74h4M112 74h4M112 78h4M24 82h4M116 82h4M16 86h4M124 86h4M12 90h4M128 90h8M12 94h4M132 94h8M8 98h4M136 98h4M8 102h4M136 102h4M8 106h4M8 110h4M60 126h4M80 126h4M28 130h4M52 130h4M88 130h4M112 130h4"/>
<path stroke="#5dfc6f" d="M4 46h8M8 50h8M136 50h8M12 54h8M132 54h12M16 58h8M128 58h12M20 62h4M124 62h8M24 66h4M120 66h8M24 70h4M116 70h4M116 74h4M24 78h4M116 78h4M16 82h8M120 82h12M12 86h4M128 86h12M8 90h4M136 90h8M8 94h4M140 94h4M4 98h4M4 102h4M64 126h4"/>
<path stroke="#79fe59" d="M4 50h4M4 54h8M8 58h8M140 58h4M16 62h4M132 62h12M16 66h8M128 66h16M20 70h4M120 70h24M20 74h8M120 74h24M16 78h8M120 78h24M12 82h4M132 82h12M8 86h4M140 86h4M4 90h4M4 94h4M76 126h4M56 130h4M84 130h4M32 134h16M96 134h16"/>
<path stroke="#8fff49" d="M0 58h8M4 62h12M8 66h8M8 70h12M8 74h12M4 78h12M4 82h8M0 86h8M0 90h4M68 126h8M60 130h4M80 130h4M48 134h4M92 134h4"/>
<path stroke="#a4fc3c" d="M0 62h4M0 66h8M0 70h8M0 74h8M0 78h4M0 82h4M52 134h4M88 134h4M40 138h4M100 138h4"/>
<path stroke="#b4f836" d="M64 130h4M76 130h4M56 134h4M84 134h4M44 138h4M96 138h4"/>
<path stroke="#c3f134" d="M68 130h8M48 138h4M92 138h4"/>
<path stroke="#d4e735" d="M60 134h4M80 134h4M52 138h4M88 138h4"/>
<path stroke="#e1dd37" d="M64 134h4M76 134h4M56 138h4M84 138h4"/>
<path stroke="#eecf3a" d="M68 134h8M60 138h4M48 142h4M92 142h4"/>
<path stroke="#f6c33a" d="M80 138h4M52 142h4M88 142h4"/>
<path stroke="#fbb637" d="M64 138h4M76 138h4M56 142h4M84 142h4"/>
<path stroke="#fea431" d="M68 138h8M60 142h4M80 142h4"/>
<path stroke="#fe932a" d="M64 142h4M76 142h4"/>
<path stroke="#fb7e21" d="M68 142h8"/>
</g>
<path d="M1490.1 1538.6L1500.9 1535.2L1507.6 1534.5L1512.9 1535.1L1524.9 1538.1L1531.6 1538.3L1536.9 1536.5L1538.9 1533.2L1537.7 1527.9L1528 1509.3L1525.6 1502.6L1526.2 1474.6L1523.9 1461.3L1521.7 1456L1519 1452L1515.6 1449.1L1511.6 1447.4L1506.3 1447L1500.9 1448.3L1496.9 1451.2L1493.6 1456L1490.8 1466.6L1488.8 1497.3L1487.7 1503.9L1484.6 1510.6L1475.4 1523.9L1472.9 1529.2L1472.9 1534.6L1475.6 1537.8L1482.3 1539.6L1490.1 1538.6M1536.6 1546.6L1542.2 1545.2L1547.6 1542L1550.3 1538.6L1551.5 1533.2L1550 1527.9L1539.6 1513.8L1535.9 1505.3L1535.4 1493.3L1536.9 1469.3L1535.7 1460L1533.2 1450.6L1530.7 1445.3L1527.6 1441.3L1523.6 1438L1519.6 1436L1512.9 1434.4L1503.6 1433.9L1494.3 1435.2L1490.3 1437.1L1486.3 1440.4L1483.6 1444L1481.3 1449.3L1479.2 1462.6L1480.6 1487.9L1479.6 1499.9L1476.1 1509.3L1464.3 1526.6L1462.8 1531.9L1463.3 1537.2L1465.7 1541.2L1468.8 1543.9L1477 1546.7L1487.6 1546.3L1500.9 1541L1507.6 1539.8L1512.9 1540.8L1524.9 1545.9L1530.2 1546.8L1536.6 1546.6M1460.4 1428L1459.2 1441.3L1460.2 1453.3L1462.1 1460L1470.5 1481.3L1472.2 1489.3L1472.5 1495.9L1471.8 1501.3L1469.7 1506.6L1458.8 1519.9L1455.5 1525.2L1453.9 1530.6L1453.8 1534.6L1456 1541.2L1461 1546.7L1469 1551.1L1478.3 1552.8L1489 1551.4L1502.3 1545.6L1507.6 1544.6L1512.9 1545.9L1520.9 1550.2L1526.2 1551.8L1532.9 1552.7L1539.6 1552.4L1544.9 1550.9L1552.9 1547.1L1557 1543.9L1560.2 1539.9L1562.2 1533.2L1560.9 1526.6L1558.1 1522.6L1546.2 1510.9L1543.9 1506.6L1543.1 1502.6L1544.1 1490.6L1550.4 1468L1551.7 1460L1550.8 1441.3L1547.6 1428M1437 1460.4L1443.1 1468L1455.7 1480.2L1459.6 1485L1463.4 1491.9L1464.7 1497.3L1464.2 1501.3L1462.6 1503.9L1450.3 1515L1445.1 1522.6L1443.2 1530.6L1443.6 1535.9L1444.8 1539.9L1448.8 1546.6L1455.7 1552.4L1465 1556.6L1474.3 1558.3L1481 1558L1487.6 1556.6L1502.3 1550.2L1507.6 1549.1L1511.6 1550L1520.9 1554.6L1527.6 1557L1534.2 1558.1L1542.2 1558L1555.6 1554.4L1560.9 1551.8L1566.5 1547.9L1571.3 1542.6L1574.6 1535.9L1575.5 1529.2L1574.6 1523.9L1572.7 1519.9L1568.9 1515.7L1552.7 1506.6L1550.7 1503.9L1550.2 1499.9L1551.6 1495.9L1555.6 1489.5L1571.4 1473.3L1578.2 1464.5M1437 1548.2L1443.4 1554.5L1451.7 1559.6L1461 1562.8L1470.3 1564.1L1478.3 1563.7L1485 1562.3L1491.6 1560L1502.9 1554.5L1507.6 1553.5L1511.6 1554.5L1522.3 1559.8L1530.2 1562.7L1539.6 1564.1L1548.9 1563.7L1556.9 1562.3L1564.9 1559.8L1571.5 1556.6L1578.2 1552.2M1479.8 1569.2L1490.3 1565.8L1503.6 1559.4L1507.6 1558.6L1511.6 1559.6L1526.2 1566.8L1534.1 1569.2" fill="none" stroke="#000" stroke-opacity="0.55" stroke-width="0.5" stroke-linejoin="round"/>
</g>
<use href="#head" x="1507.6" y="1498.6"/>
<rect x="1602.4" y="1410.3" width="9.2" height="176.3" fill="url(#cb)"/>
<text x="1616.8" y="1450" font-size="18.4" fill="#262626">8</text>
<text x="1616.8" y="1493.5" font-size="18.4" fill="#262626">6</text>
<text x="1616.8" y="1537.6" font-size="18.4" fill="#262626">4</text>
<text x="1616.8" y="1581.8" font-size="18.4" fill="#262626">2</text>
<path d="M1611.6 1442.9h-1.6M1611.6 1486.4h-1.6M1611.6 1530.5h-1.6M1611.6 1574.7h-1.6" stroke="#333" stroke-width="0.7" fill="none"/>
<text x="1653.7" y="1498" font-size="20" text-anchor="middle" transform="rotate(-90 1653.7 1498)" textLength="113.6" lengthAdjust="spacingAndGlyphs">PSD [<tspan font-family="Liberation Serif, serif" font-style="italic">μ</tspan>V<tspan dy="-7" font-size="15">2</tspan><tspan dy="7">/Hz]</tspan></text>
<text x="1507.6" y="1403.3" font-size="20" text-anchor="middle" font-weight="bold" fill="#000" textLength="191" lengthAdjust="spacingAndGlyphs"><tspan font-family="Liberation Serif, serif" font-style="italic" font-weight="normal">γ</tspan> <tspan stroke="#000" stroke-width="0.9">@</tspan>29.8-43.9Hz | EC</text>
<text x="1613.2" y="1403.7" font-size="17" font-family="Liberation Serif, serif" fill="#262626">×</text>
<text x="1626.2" y="1403.5" font-size="18.4" fill="#262626">10</text>
<text x="1647.8" y="1394.5" font-size="14.6" fill="#262626">-3</text>
<g clip-path="url(#tc5)"><g filter="url(#tb)" stroke-width="4.3" fill="none" transform="translate(210.6 1674.1)">
<path stroke="#8fff49" d="M36 82h4M36 86h8M100 86h8M100 90h8M52 134h12M48 138h20M48 142h24"/>
<path stroke="#a4fc3c" d="M36 78h4M32 82h4M40 82h4M100 82h8M32 86h4M96 86h4M36 90h8M96 90h4M108 90h4M100 94h8M48 130h20M44 134h8M64 134h12M44 138h4M68 138h12M72 142h12"/>
<path stroke="#b4f836" d="M36 74h4M32 78h4M40 78h4M100 78h8M28 82h4M44 82h4M96 82h4M108 82h4M44 86h4M108 86h4M32 90h4M44 90h4M36 94h8M96 94h4M108 94h4M100 98h8M44 126h20M44 130h4M68 130h12M40 134h4M76 134h12M40 138h4M80 138h8M84 142h8"/>
<path stroke="#c3f134" d="M32 74h4M40 74h4M28 78h4M44 78h4M96 78h4M108 78h4M28 86h4M28 90h4M32 94h4M44 94h4M36 98h8M96 98h4M108 98h4M100 102h8M44 122h16M40 126h4M64 126h16M40 130h4M80 130h12M36 134h4M88 134h4M88 138h8M92 142h4"/>
<path stroke="#d4e735" d="M32 70h12M28 74h4M44 74h4M96 74h12M24 82h4M48 82h4M92 82h4M112 82h4M48 86h4M92 86h4M112 86h4M48 90h4M92 90h4M112 90h4M28 94h4M92 94h4M112 94h4M32 98h4M44 98h4M36 102h12M96 102h4M108 102h4M40 106h4M96 106h12M44 114h8M40 118h16M40 122h4M60 122h12M36 126h4M80 126h16M36 130h4M92 130h4M32 134h4M92 134h8M96 138h4"/>
<path stroke="#e1dd37" d="M32 66h12M28 70h4M44 70h4M100 70h12M24 74h4M108 74h4M24 78h4M48 78h4M92 78h4M112 78h4M24 86h4M24 90h4M48 94h4M28 98h4M48 98h4M92 98h4M112 98h4M32 102h4M48 102h4M92 102h4M112 102h4M32 106h8M44 106h8M108 106h4M36 110h16M96 110h12M36 114h8M52 114h4M96 114h8M36 118h4M56 118h8M92 118h8M36 122h4M72 122h28M32 126h4M96 126h4M32 130h4M96 130h8M100 134h4M100 138h4"/>
<path stroke="#eecf3a" d="M32 62h16M28 66h4M44 66h4M100 66h12M24 70h4M96 70h4M112 70h4M48 74h4M92 74h4M112 74h4M20 78h4M116 78h4M20 82h4M116 82h4M52 86h4M116 86h4M52 90h4M116 90h4M24 94h4M116 94h4M116 98h4M28 102h4M92 106h4M112 106h4M32 110h4M52 110h4M92 110h4M108 110h4M32 114h4M56 114h4M88 114h8M104 114h4M32 118h4M64 118h8M80 118h12M100 118h8M32 122h4M100 122h4M100 126h4M28 130h4M104 130h4M104 134h4"/>
<path stroke="#f6c33a" d="M32 58h16M28 62h4M48 62h4M100 62h12M24 66h4M48 66h4M96 66h4M112 66h4M20 70h4M48 70h4M92 70h4M20 74h4M116 74h4M52 78h4M52 82h4M88 82h4M20 86h4M88 86h4M20 90h4M88 90h4M52 94h4M88 94h4M24 98h4M52 98h4M88 98h4M24 102h4M52 102h4M88 102h4M116 102h4M28 106h4M52 106h4M88 106h4M28 110h4M56 110h4M88 110h4M112 110h4M28 114h4M60 114h4M84 114h4M108 114h4M28 118h4M72 118h8M108 118h4M28 122h4M104 122h4M28 126h4M104 126h4M108 130h4M108 134h4"/>
<path stroke="#fbb637" d="M32 54h20M28 58h4M48 58h4M100 58h12M24 62h4M96 62h4M112 62h4M20 66h4M92 66h4M116 66h4M52 70h4M116 70h4M52 74h4M88 74h4M120 74h4M16 78h4M88 78h4M120 78h4M16 82h4M120 82h4M120 86h4M120 90h4M20 94h4M120 94h4M20 98h4M120 98h4M24 106h4M56 106h4M116 106h4M84 110h4M64 114h4M80 114h4M112 114h4M24 122h4M108 122h4M24 126h4M108 126h4"/>
<path stroke="#fea431" d="M32 50h20M28 54h4M52 54h4M100 54h16M24 58h4M52 58h4M96 58h4M112 58h8M20 62h4M52 62h4M92 62h4M116 62h4M16 66h4M52 66h4M120 66h4M16 70h4M88 70h4M120 70h4M16 74h4M124 78h4M56 82h4M124 82h4M16 86h4M56 86h4M84 86h4M124 86h4M16 90h4M56 90h4M84 90h4M124 90h4M56 94h4M84 94h4M56 98h4M84 98h4M20 102h4M56 102h4M84 102h4M120 102h4M84 106h4M120 106h4M24 110h4M60 110h4M80 110h4M116 110h4M24 114h4M68 114h12M116 114h4M24 118h4M112 118h4M20 122h4M112 122h4M112 126h4M112 130h4"/>
<path stroke="#fe932a" d="M44 42h8M32 46h24M28 50h4M52 50h4M100 50h16M24 54h4M56 54h4M96 54h4M116 54h4M20 58h4M56 58h4M92 58h4M120 58h4M16 62h4M56 62h4M120 62h4M56 66h4M88 66h4M124 66h4M56 70h4M124 70h4M12 74h4M56 74h4M124 74h4M12 78h4M56 78h4M84 78h4M12 82h4M84 82h4M12 86h4M16 94h4M124 94h4M16 98h4M124 98h4M124 102h4M20 106h4M60 106h4M20 110h4M64 110h4M120 110h4M20 114h4M20 118h4M116 118h4M116 122h4M116 126h4"/>
<path stroke="#fb7e21" d="M64 18h12M56 22h16M52 26h12M48 30h12M44 34h16M40 38h20M32 42h12M52 42h8M100 42h8M28 46h4M56 46h4M96 46h20M24 50h4M56 50h4M96 50h4M116 50h4M20 54h4M92 54h4M120 54h4M16 58h4M88 62h4M124 62h4M12 66h4M12 70h4M128 70h4M84 74h4M128 74h4M128 78h4M128 82h4M60 86h4M128 86h4M12 90h4M60 90h4M128 90h4M12 94h4M60 94h4M80 94h4M128 94h4M60 98h4M80 98h4M128 98h4M16 102h4M60 102h4M80 102h4M16 106h4M64 106h4M80 106h4M124 106h4M16 110h4M68 110h4M76 110h4M124 110h4M16 114h4M120 114h4M16 118h4M120 118h4M120 122h4M120 126h4"/>
<path stroke="#f66c19" d="M52 14h28M48 18h16M76 18h8M44 22h12M72 22h12M40 26h12M64 26h16M40 30h8M60 30h12M36 34h8M60 34h8M32 38h8M60 38h4M96 38h16M28 42h4M60 42h4M92 42h8M108 42h8M24 46h4M60 46h4M92 46h4M116 46h4M20 50h4M60 50h4M92 50h4M120 50h4M16 54h4M60 54h4M88 54h4M124 54h4M12 58h4M60 58h4M88 58h4M124 58h4M12 62h4M60 62h4M128 62h4M60 66h4M128 66h4M8 70h4M84 70h4M8 74h4M60 74h4M132 74h4M8 78h4M60 78h4M132 78h4M8 82h4M60 82h4M80 82h4M132 82h4M8 86h4M80 86h4M132 86h4M8 90h4M80 90h4M132 90h4M12 98h4M12 102h4M64 102h4M128 102h4M12 106h4M76 106h4M128 106h4M12 110h4M72 110h4M128 110h4M12 114h4M124 114h4M124 118h4M124 122h4"/>
<path stroke="#f05b12" d="M60 6h8M48 10h36M44 14h8M80 14h8M40 18h8M84 18h8M36 22h8M84 22h12M36 26h4M80 26h24M32 30h8M72 30h36M28 34h8M68 34h8M84 34h32M24 38h8M64 38h4M88 38h8M112 38h8M20 42h8M64 42h4M88 42h4M116 42h8M20 46h4M64 46h4M88 46h4M120 46h4M16 50h4M88 50h4M124 50h4M12 54h4M128 54h4M128 58h4M8 62h4M84 62h4M132 62h4M8 66h4M84 66h4M132 66h4M60 70h4M132 70h4M80 74h4M80 78h4M136 78h4M136 82h4M64 86h4M64 90h4M76 90h4M8 94h4M64 94h4M76 94h4M132 94h4M8 98h4M64 98h4M76 98h4M132 98h4M68 102h4M76 102h4M132 102h4M68 106h8M132 106h4M128 114h4"/>
<path stroke="#e7490c" d="M56 2h20M44 6h16M68 6h20M40 10h8M84 10h12M36 14h8M88 14h12M32 18h8M92 18h12M32 22h4M96 22h12M28 26h8M104 26h8M24 30h8M108 30h8M24 34h4M76 34h8M116 34h4M20 38h4M68 38h20M120 38h4M16 42h4M68 42h4M80 42h8M124 42h4M16 46h4M84 46h4M124 46h4M12 50h4M64 50h4M84 50h4M128 50h4M8 54h4M64 54h4M84 54h4M132 54h4M8 58h4M64 58h4M84 58h4M132 58h4M4 62h4M64 62h4M136 62h4M4 66h4M64 66h4M136 66h4M4 70h4M64 70h4M80 70h4M136 70h4M4 74h4M64 74h4M136 74h4M4 78h4M64 78h4M4 82h4M64 82h4M76 82h4M4 86h4M76 86h4M136 86h4M4 90h4M68 90h8M136 90h4M4 94h4M68 94h8M136 94h4M4 98h4M68 98h8M136 98h4M8 102h4M72 102h4M136 102h4M8 106h4M8 110h4M132 110h4"/>
<path stroke="#dd3d08" d="M76 2h16M88 6h12M36 10h4M96 10h8M28 14h8M100 14h8M28 18h4M104 18h8M24 22h8M108 22h8M24 26h4M112 26h8M20 30h4M116 30h8M16 34h8M120 34h8M16 38h4M124 38h4M12 42h4M72 42h8M128 42h4M12 46h4M68 46h16M128 46h8M8 50h4M68 50h4M80 50h4M132 50h4M4 54h4M68 54h4M80 54h4M136 54h4M4 58h4M80 58h4M136 58h4M80 62h4M0 66h4M80 66h4M140 66h4M0 70h4M140 70h4M0 74h4M76 74h4M140 74h4M0 78h4M68 78h4M76 78h4M140 78h4M0 82h4M68 82h8M140 82h4M0 86h4M68 86h8M140 86h4M0 90h4M140 90h4M140 94h4M4 102h4"/>
<path stroke="#d02f05" d="M100 6h4M104 10h8M108 14h8M24 18h4M112 18h8M20 22h4M116 22h8M16 26h8M120 26h4M16 30h4M124 30h4M12 34h4M128 34h4M12 38h4M128 38h8M8 42h4M132 42h4M8 46h4M136 46h4M4 50h4M72 50h8M136 50h4M72 54h8M140 54h4M0 58h4M68 58h4M76 58h4M140 58h4M0 62h4M68 62h4M76 62h4M140 62h4M68 66h4M76 66h4M68 70h12M68 74h8M72 78h4"/>
<path stroke="#c32503" d="M124 26h4M12 30h4M128 30h4M132 34h4M8 38h4M136 42h4M4 46h4M140 50h4M72 58h4M72 62h4M72 66h4"/>
</g>
<path d="M251.4 1768L253.9 1766.5L255.6 1764L256.4 1761.4L256.3 1757.4L255.2 1754.4L252.6 1751.1L249.9 1749.6L247.2 1749.4L244.6 1750.6L242.5 1753.4L241.8 1756L241.9 1760L243.2 1763.4L245.9 1766.6L248.6 1768L251.4 1768M317.6 1772L320 1769.3L321.2 1766.7L321.4 1760L320.4 1757.4L317.8 1754.3L315.2 1753L312.5 1753.2L309.8 1755L308 1758.7L307.5 1762.7L308.2 1766.7L309.8 1770.3L312.5 1772.7L315.2 1773.1L317.6 1772M297.7 1817.3L295 1812L290.3 1808L275.2 1801.5L264.6 1799.5L259.2 1800.5L256.6 1803L253.9 1808L251 1817.3M255.2 1780L257.9 1774.9L260.6 1766.7L261.3 1761.4L260.7 1756L258.6 1750.7L253.9 1743.9L249.9 1741.2L245.9 1741.1L241.9 1743.3L237.9 1748.7L236.5 1754.7L237.1 1761.4L239.6 1768L244.6 1774.8L251.2 1780.3L253.9 1781.1L255.2 1780M313.8 1782.7L319.2 1779.7L323.2 1774.8L325.4 1769.3L326.2 1762.7L325.7 1757.4L323.2 1751.8L319.2 1747.1L315.2 1745.5L311.2 1746.3L307.2 1749.5L304.6 1754.7L303.7 1761.4L304.5 1770.2L307.2 1778L309.8 1781.7L313.8 1782.7M311.2 1817.3L307.7 1804L305.8 1800.6L303.6 1798.6L299.2 1797.4L287.2 1797L276.5 1795.1L268.5 1792.4L256.6 1786.3L255.2 1786.4L252.6 1789.8L246 1804L241 1817.3M321.5 1817.3L318.5 1802.6L318.6 1794.7L320.7 1789.3L326.6 1780L329 1774.7L330.3 1769.3L331 1761.4L329.8 1751.9L327.2 1745.4L324.5 1740.8L320.5 1737.2L316.5 1736.3L311.2 1738.2L307.2 1741.8L303 1748L300.6 1756L300.1 1762.7L300.9 1780L299.6 1785.3L296.5 1788.7L292.5 1790.7L287.2 1791.4L280.5 1790.9L276.5 1790.1L272.2 1788L269 1785.3L266.3 1781.3L264.9 1774.7L265.5 1762.7L265 1757.4L259.4 1737.4L256.6 1732.9L253.9 1731.4L249.9 1730.8L244.6 1732L238.9 1736L234.1 1742.7L231.8 1749.4L231.4 1756L232.5 1762.7L234.7 1769.3L240.8 1782.7L242 1789.3L240.4 1797.3L231.8 1817.3M331.4 1817.3L327.6 1804L326.9 1794.7L327.9 1790.7L332.5 1781.3L334.8 1774.7L336.5 1765.3L336.9 1756L336.1 1749.4L334.3 1742.7L331.4 1736L328.5 1731.7L323.2 1727L317.8 1725.6L312.5 1727L307.2 1731.7L301.8 1741.1L297.7 1752L296.5 1760L296 1776L294.6 1781.3L292.8 1784L289.9 1786.1L285.9 1787.3L281.9 1787.2L277.9 1786.1L274.8 1784L272.5 1781.3L270.7 1777.3L269.2 1758.7L266.7 1744L267.3 1732L266.6 1729.4L264.6 1725.5L261.9 1722.7L259.2 1721.3L255.2 1720.7L245.9 1722.7L239.2 1726.4L232.5 1733.4L227.7 1742.7L226.2 1750.7L226.5 1758.7L233.3 1781.3L234.2 1789.3L231.3 1799.3L222.3 1817.3M342.2 1817.3L337.7 1805.3L336.2 1796L343.2 1765.3L344 1754.7L343.2 1746.7L340.5 1737.4L335.7 1728.1L329.8 1720.6L323.2 1715.2L317.8 1712.8L313.8 1712.4L309.8 1713.9L307.2 1716.6L301.8 1727L294.5 1749.4L292.4 1760L290.9 1774.7L289.7 1778.7L287.2 1781.9L283.2 1783.4L279.2 1781.5L276.5 1777.7L275.2 1773.1L271.7 1746.7L272.6 1730.7L271.4 1717.4L271.7 1712.1L273.1 1708.1L275.2 1705.4L286.5 1698.7L289.4 1694.8L289 1692.1L286.7 1689.4L280.5 1687.8L275.7 1688.1L270.8 1689.4L265.5 1692.1L260.6 1695.6L256.1 1700.1L248.6 1710.2L239.2 1716.8L232.6 1723L225 1733.4L221.5 1742.7L220.5 1753.4L221.6 1762.7L225.7 1777.3L226 1788L222.4 1798.6L212.6 1816M263.6 1676.1L253.9 1681.1L245.9 1688.9L221.6 1725.4L217.4 1733.4L214.8 1742.7L214 1752L214.6 1761.4L217.3 1776L217.4 1781.3L215.9 1789.3L212.6 1797.2M353.8 1815.5L349.6 1805.3L347.6 1796L347.8 1788L351.3 1765.3L352 1753.4L350.3 1741.4L346.4 1730.7L339.4 1718.7L333.8 1711L324.5 1701.1L311.8 1689.4L305.5 1684.1L299.2 1680.1L293.9 1677.9L286 1676.1M284.5 1761.8L283.2 1762.5L281.9 1762L278.6 1756L276.8 1745.4L276.7 1737.4L278.8 1725.4L280.5 1719.7L284.5 1714.5L288.5 1713.3L291.3 1714.7L293.7 1718.7L294.5 1724.1L294.4 1732L292.8 1740L287.7 1756L284.5 1761.8" fill="none" stroke="#000" stroke-opacity="0.55" stroke-width="0.5" stroke-linejoin="round"/>
</g>
<use href="#head" x="283.2" y="1746.7"/>
<rect x="378" y="1659" width="9.2" height="175.6" fill="url(#cb)"/>
<text x="392.4" y="1690.9" font-size="18.4" fill="#262626">0.1</text>
<text x="392.4" y="1744.7" font-size="18.4" fill="#262626">0.08</text>
<text x="392.4" y="1798.4" font-size="18.4" fill="#262626">0.06</text>
<path d="M387.2 1683.8h-1.6M387.2 1737.6h-1.6M387.2 1791.3h-1.6" stroke="#333" stroke-width="0.7" fill="none"/>
<text x="456.6" y="1746.1" font-size="20" text-anchor="middle" transform="rotate(-90 456.6 1746.1)" textLength="113.6" lengthAdjust="spacingAndGlyphs">PSD [<tspan font-family="Liberation Serif, serif" font-style="italic">μ</tspan>V<tspan dy="-7" font-size="15">2</tspan><tspan dy="7">/Hz]</tspan></text>
<text x="283.2" y="1652" font-size="20" text-anchor="middle" font-weight="bold" fill="#000" textLength="169" lengthAdjust="spacingAndGlyphs"><tspan font-family="Liberation Serif, serif" font-style="italic" font-weight="normal">δ</tspan> <tspan stroke="#000" stroke-width="0.9">@</tspan>0.5-3.9Hz | EO</text>
<g clip-path="url(#tc6)"><g filter="url(#tb)" stroke-width="4.3" fill="none" transform="translate(516.7 1674.1)">
<path stroke="#19d5cd" d="M56 110h8"/>
<path stroke="#19e2bb" d="M56 106h4M52 110h4M64 110h4M56 114h12"/>
<path stroke="#20eaac" d="M52 106h4M60 106h4M68 110h4M52 114h4M68 114h8M56 118h16"/>
<path stroke="#32f298" d="M88 2h4M100 6h4M108 10h4M128 30h4M132 34h4M52 102h8M48 106h4M64 106h4M48 110h4M72 110h16M48 114h4M76 114h8M52 118h4M72 118h8M60 122h4"/>
<path stroke="#46f884" d="M56 2h32M44 6h4M92 6h8M104 10h4M108 14h8M112 18h8M116 22h8M120 26h8M124 30h4M124 34h8M128 38h8M128 42h12M132 46h8M48 102h4M60 102h4M68 106h24M88 110h4M84 114h4M80 118h4M56 122h4M64 122h12"/>
<path stroke="#5dfc6f" d="M48 6h44M36 10h12M92 10h12M28 14h12M104 14h4M24 18h8M108 18h4M20 22h4M112 22h4M116 26h4M116 30h8M120 34h4M120 38h8M120 42h8M120 46h12M124 50h20M132 54h12M52 98h4M64 102h4M80 102h12M44 106h4M44 110h4M88 114h4M48 118h4M84 118h4M52 122h4M76 122h8M60 126h8"/>
<path stroke="#79fe59" d="M48 10h44M40 14h8M96 14h8M32 18h8M104 18h4M24 22h8M108 22h4M16 26h12M112 26h4M12 30h12M112 30h4M12 34h12M112 34h8M8 38h16M116 38h4M8 42h16M116 42h4M4 46h24M116 46h4M4 50h24M116 50h8M8 54h24M120 54h12M16 58h12M120 58h24M48 98h4M56 98h8M44 102h4M68 102h12M92 102h4M92 106h4M92 110h4M44 114h4M92 114h4M88 118h4M48 122h4M84 122h4M56 126h4M68 126h12"/>
<path stroke="#8fff49" d="M48 14h8M88 14h8M40 18h4M96 18h8M32 22h8M104 22h4M28 26h8M104 26h8M24 30h8M108 30h4M24 34h8M108 34h4M24 38h8M112 38h4M24 42h8M112 42h4M28 46h4M112 46h4M28 50h8M112 50h4M4 54h4M32 54h4M112 54h8M0 58h16M28 58h4M116 58h4M8 62h24M116 62h28M120 66h12M44 98h4M64 98h4M80 98h16M40 110h4M44 118h4M92 118h4M88 122h4M52 126h4M80 126h8M60 130h16"/>
<path stroke="#a4fc3c" d="M56 14h32M44 18h8M92 18h4M40 22h4M96 22h8M36 26h4M100 26h4M32 30h4M104 30h4M32 34h4M104 34h4M32 38h4M108 38h4M32 42h4M108 42h4M32 46h4M108 46h4M108 50h4M32 58h4M112 58h4M0 62h8M32 62h4M112 62h4M0 66h32M116 66h4M132 66h12M16 70h8M120 70h16M48 94h12M68 98h12M40 102h4M96 102h4M40 106h4M96 106h4M96 110h4M40 114h4M96 114h4M44 122h4M92 122h4M48 126h4M56 130h4M76 130h8M60 134h16"/>
<path stroke="#b4f836" d="M52 18h12M80 18h12M44 22h8M92 22h4M40 26h4M96 26h4M36 30h8M100 30h4M36 34h4M36 38h4M104 38h4M36 42h4M104 42h4M36 46h4M104 46h4M36 50h4M36 54h4M108 54h4M36 58h4M108 58h4M36 62h4M108 62h4M32 66h4M112 66h4M0 70h16M24 70h12M112 70h8M136 70h8M12 74h16M116 74h20M44 94h4M60 94h8M84 94h12M40 98h4M96 98h4M40 118h4M96 118h4M88 126h4M52 130h4M84 130h4M56 134h4M76 134h8M64 138h16"/>
<path stroke="#c3f134" d="M64 18h16M52 22h4M88 22h4M44 26h8M92 26h4M44 30h4M96 30h4M40 34h4M100 34h4M40 38h4M100 38h4M40 42h4M40 46h4M40 50h4M104 50h4M40 54h4M104 54h4M40 58h4M36 66h4M108 66h4M36 70h4M108 70h4M0 74h12M28 74h8M112 74h4M136 74h8M4 78h28M116 78h20M44 90h12M40 94h4M68 94h16M96 94h4M100 98h4M36 102h4M100 102h4M36 106h4M100 106h4M36 110h4M100 110h4M36 114h4M100 114h4M36 118h4M40 122h4M96 122h4M44 126h4M92 126h4M48 130h4M88 130h4M52 134h4M84 134h4M56 138h8M80 138h4M64 142h16"/>
<path stroke="#d4e735" d="M56 22h12M76 22h12M52 26h4M88 26h4M48 30h4M44 34h4M96 34h4M100 42h4M100 46h4M104 58h4M40 62h4M104 62h4M40 66h4M104 66h4M40 70h4M36 74h4M108 74h4M0 78h4M32 78h8M108 78h8M136 78h8M0 82h40M112 82h32M36 86h8M36 90h8M56 90h8M84 90h16M36 94h4M100 94h4M36 98h4M32 106h4M32 110h4M100 118h4M36 122h4M100 122h4M40 126h4M96 126h4M44 130h4M92 130h4M48 134h4M88 134h4M52 138h4M84 138h4M60 142h4M80 142h4"/>
<path stroke="#e1dd37" d="M68 22h8M56 26h4M84 26h4M92 30h4M48 34h4M44 38h4M96 38h4M44 42h4M44 46h4M44 50h4M100 50h4M44 54h4M100 54h4M44 58h4M100 58h4M44 62h4M104 70h4M40 74h4M104 74h4M40 78h4M104 78h4M40 82h8M104 82h8M0 86h36M44 86h12M96 86h48M12 90h24M64 90h8M76 90h8M100 90h32M32 94h4M104 94h4M32 98h4M104 98h4M32 102h4M104 102h4M104 106h4M104 110h4M32 114h4M104 114h4M32 118h4M36 126h4M100 126h4M40 130h4M96 130h4M44 134h4M92 134h4M48 138h4M88 138h4M52 142h8M84 142h4"/>
<path stroke="#eecf3a" d="M60 26h8M76 26h8M52 30h4M88 30h4M92 34h4M48 38h4M96 42h4M96 46h4M100 62h4M44 66h4M100 66h4M44 70h4M100 70h4M44 74h4M100 74h4M44 78h4M100 78h4M48 82h4M96 82h8M56 86h8M88 86h8M0 90h12M72 90h4M132 90h12M4 94h28M108 94h36M16 98h16M108 98h8M124 98h8M24 102h8M108 102h4M24 106h8M108 106h4M24 110h8M28 114h4M28 118h4M104 118h4M32 122h4M104 122h4M104 126h4M100 130h4M40 134h4M96 134h4M44 138h4M92 138h4M48 142h4M88 142h8"/>
<path stroke="#f6c33a" d="M68 26h8M56 30h8M84 30h4M52 34h4M88 34h4M92 38h4M48 42h4M48 46h4M48 50h4M96 50h4M48 54h4M48 58h4M48 74h4M48 78h4M96 78h4M52 82h4M92 82h4M64 86h4M80 86h8M4 98h12M116 98h8M132 98h8M4 102h20M112 102h24M12 106h12M112 106h4M16 110h8M108 110h4M20 114h8M108 114h4M24 118h4M28 122h4M32 126h4M36 130h4M104 130h4M36 134h4M100 134h4M40 138h4M96 138h8"/>
<path stroke="#fbb637" d="M64 30h20M56 34h4M84 34h4M52 38h4M88 38h4M92 42h4M96 54h4M96 58h4M48 62h4M96 62h4M48 66h4M96 66h4M48 70h4M96 70h4M96 74h4M52 78h4M92 78h4M56 82h4M88 82h4M68 86h12M136 102h4M8 106h4M116 106h20M8 110h8M112 110h4M12 114h8M16 118h8M108 118h4M24 122h4M108 122h4M28 126h4M108 126h4M32 130h4M108 130h4M32 134h4M104 134h4"/>
<path stroke="#fea431" d="M60 34h4M80 34h4M56 38h4M52 42h4M52 46h4M92 46h4M52 74h4M92 74h4M56 78h4M60 82h8M80 82h8M116 110h20M112 114h4M112 118h4M20 122h4M112 122h4M24 126h4M112 126h4M28 130h4M108 134h4"/>
<path stroke="#fe932a" d="M64 34h16M60 38h4M84 38h4M56 42h4M88 42h4M52 50h4M92 50h4M52 54h4M92 54h4M52 58h4M52 62h4M52 66h4M52 70h4M92 70h4M88 78h4M68 82h12M116 114h16M112 130h4"/>
<path stroke="#fb7e21" d="M64 38h4M80 38h4M56 46h4M88 46h4M92 58h4M92 62h4M92 66h4M56 74h4M88 74h4M60 78h4M84 78h4M116 118h12M116 122h4M116 126h4"/>
<path stroke="#f66c19" d="M68 38h12M60 42h4M84 42h4M56 50h4M88 50h4M56 70h4M88 70h4M60 74h4M64 78h8M76 78h8M120 122h8M120 126h4"/>
<path stroke="#f05b12" d="M64 42h4M80 42h4M60 46h4M84 46h4M56 54h4M88 54h4M56 58h4M56 62h4M56 66h4M88 66h4M84 74h4M72 78h4"/>
<path stroke="#e7490c" d="M68 42h12M60 50h4M84 50h4M88 58h4M88 62h4M60 70h4M84 70h4M64 74h4M80 74h4"/>
<path stroke="#dd3d08" d="M64 46h4M80 46h4M60 54h4M84 54h4M60 62h4M60 66h4M84 66h4M64 70h4M80 70h4M68 74h12"/>
<path stroke="#d02f05" d="M68 46h12M64 50h4M80 50h4M60 58h4M84 58h4M84 62h4M68 70h4M76 70h4"/>
<path stroke="#c32503" d="M68 50h12M64 54h4M80 54h4M64 62h4M64 66h4M80 66h4M72 70h4"/>
<path stroke="#b41b01" d="M68 54h4M76 54h4M64 58h4M80 58h4M80 62h4M68 66h12"/>
<path stroke="#a11201" d="M72 54h4M68 58h12M68 62h12"/>
</g>
<path d="M518.7 1694.1L557.3 1679.7L566.7 1677.3L576.1 1676.1M594.4 1676.1L610.6 1678.4L618.6 1681.1L625.3 1684.5L630.6 1688.3L636 1693.4L649.2 1711.2L654.4 1714.7L659.9 1716.4M586 1796L594.6 1793.6L600.2 1790.7L603.1 1788L604.7 1785.3L604.7 1781.3L603 1780L601.3 1779.7L593.3 1781L589.3 1780.7L578.9 1776L574.6 1775L569.3 1775.5L566.7 1777.3L565.1 1781.3L565.2 1785.3L566.7 1789.3L569.3 1792.6L573.3 1795.3L577.3 1796.6L586 1796M518.7 1734.3L534.7 1739.4L540 1739.5L545.3 1737.7L549.3 1733.8L551.1 1729.4L551.2 1724.1L548 1709.4L548.9 1705.4L552.4 1700.1L560.6 1693.4L570.7 1688.9L580 1687.2L594.6 1687.2L602.6 1688.1L609.3 1690.2L615.9 1693.8L621.4 1698.7L625.4 1706.7L631.6 1732L633.4 1736L635.9 1739.3L638.6 1740.6L642.6 1741L659.9 1738.8M586.8 1805.3L594.6 1803.9L600 1801.9L606.6 1797.3L610.6 1793.1L613.4 1788L614.7 1781.3L614.1 1776L611.6 1772L609.3 1770.8L605.3 1770.4L593.3 1773.1L589.3 1773.4L577.3 1769.5L570.7 1768.6L565.3 1769.9L561.3 1773.3L558.9 1778.7L558.3 1784L559.4 1789.3L562.5 1794.7L568 1800L574.6 1804L581.3 1805.9L586.8 1805.3M518.7 1756L533.4 1757.9L544 1758.4L550.7 1757.8L553.3 1756.2L556 1750.9L560.5 1736L561.2 1730.7L561.4 1714.7L564.1 1706.7L569 1701.4L574.6 1698.1L581.3 1696.1L589.3 1695.4L597.3 1696.2L604 1698.4L609.3 1701.9L613.5 1706.7L617.4 1716.1L624.7 1748L628.2 1754.7L631.9 1756.9L638.6 1758L651.9 1755.7L659.9 1755.5M598.7 1817.3L604 1812.8L614.9 1801.3L618.6 1795.7L620.6 1789.3L621.8 1781.3L621.2 1772L619.6 1766.7L617.3 1764.4L613.3 1763.4L606.6 1763.5L589.3 1766.5L569.3 1761.6L561.3 1761.1L557.3 1761.7L554.8 1765.3L551 1780L550.6 1784L551.6 1789.3L554.8 1796L559 1801.3L570.7 1812.3L577.5 1817.3M597.3 1758.9L588 1759.4L578.6 1757.1L572 1753.3L569.6 1750.7L567.9 1746.7L567.3 1741.4L568 1725.4L569.8 1716.1L572 1711.9L575.5 1708.1L579.8 1705.4L584 1703.9L588 1703.3L593.3 1703.6L598.6 1705.1L602.6 1707.3L608.5 1713.4L613 1724.1L615 1740L614.6 1745.4L613.4 1749.4L611.7 1752L607.9 1755.1L597.3 1758.9M617.3 1817.3L622.6 1810.7L625.9 1805.3L627.2 1801.3L628.6 1789.3L631.9 1782.9L635.9 1780.6L646.6 1780.7L659.9 1777.3M518.7 1779.6L526.7 1783.7L542.7 1796.5L560.3 1817.3M597.3 1752.3L589.3 1753.2L582.6 1751.6L577.3 1747.9L573.8 1741.4L572.8 1732L574.7 1722.7L578.7 1716.1L581.3 1713.9L585.3 1712L592 1711.4L598.6 1713.7L604.1 1718.7L608.1 1726.7L609.4 1734.7L607.9 1743L604 1748.7L597.3 1752.3M634.4 1817.3L637.4 1810.6L640.1 1800L641.6 1797.3L645.2 1795.9L659.9 1794.9M596 1745.4L590.6 1746.6L586.6 1745.7L582.6 1743L579.8 1738.7L578.7 1733.4L579.6 1728.1L582.6 1723.1L586.6 1720.3L590.6 1719.5L596 1721L600 1724.5L602.8 1729.4L603.6 1733.4L602.5 1738.7L599.8 1742.7L596 1745.4" fill="none" stroke="#000" stroke-opacity="0.55" stroke-width="0.5" stroke-linejoin="round"/>
</g>
<use href="#head" x="589.3" y="1746.7"/>
<rect x="684.1" y="1659" width="9.2" height="175.6" fill="url(#cb)"/>
<text x="698.5" y="1698" font-size="18.4" fill="#262626">0.04</text>
<text x="698.5" y="1760.6" font-size="18.4" fill="#262626">0.03</text>
<text x="698.5" y="1823.4" font-size="18.4" fill="#262626">0.02</text>
<path d="M693.3 1690.9h-1.6M693.3 1753.5h-1.6M693.3 1816.3h-1.6" stroke="#333" stroke-width="0.7" fill="none"/>
<text x="762.7" y="1746.1" font-size="20" text-anchor="middle" transform="rotate(-90 762.7 1746.1)" textLength="113.6" lengthAdjust="spacingAndGlyphs">PSD [<tspan font-family="Liberation Serif, serif" font-style="italic">μ</tspan>V<tspan dy="-7" font-size="15">2</tspan><tspan dy="7">/Hz]</tspan></text>
<text x="589.3" y="1652" font-size="20" text-anchor="middle" font-weight="bold" fill="#000" textLength="169.5" lengthAdjust="spacingAndGlyphs"><tspan font-family="Liberation Serif, serif" font-style="italic" font-weight="normal">θ</tspan> <tspan stroke="#000" stroke-width="0.9">@</tspan>3.9-7.8Hz | EO</text>
<g clip-path="url(#tc7)"><g filter="url(#tb)" stroke-width="4.3" fill="none" transform="translate(822.8 1674.1)">
<path stroke="#30123b" d="M56 2h36M44 6h60M36 10h76M28 14h88M24 18h40M80 18h40M20 22h28M100 22h24M16 26h24M108 26h20M12 30h24M112 30h20M12 34h20M116 34h20M8 38h20M120 38h16M8 42h20M120 42h20M4 46h20M124 46h16M4 50h20M124 50h20M4 54h20M124 54h20M0 58h24M124 58h20M0 62h20M124 62h20M0 66h20M128 66h16M0 70h20M128 70h16M0 74h20M128 74h16M0 78h20M128 78h16M0 82h20M128 82h16M0 86h20M128 86h16M0 90h20M128 90h16M4 94h16M128 94h16M4 98h20M124 98h16M4 102h20M124 102h16M8 106h20M120 106h16M8 110h20M120 110h16M12 114h20M116 114h16M16 118h16M112 118h16M20 122h20M108 122h20M24 126h20M100 126h24M28 130h88M32 134h80M40 138h64M48 142h48"/>
<path stroke="#372466" d="M64 18h16M48 22h16M80 22h20M40 26h8M100 26h8M36 30h8M108 30h4M32 34h4M112 34h4M28 38h8M116 38h4M28 42h4M116 42h4M24 46h8M116 46h8M24 50h8M120 50h4M24 54h4M120 54h4M24 58h4M120 58h4M20 62h8M120 62h4M20 66h8M120 66h8M20 70h4M124 70h4M20 74h4M124 74h4M20 78h4M124 78h4M20 82h4M124 82h4M20 86h4M124 86h4M20 90h4M124 90h4M20 94h4M124 94h4M24 98h4M120 98h4M24 102h4M120 102h4M28 110h4M116 110h4M32 114h4M112 114h4M32 118h4M108 118h4M40 122h4M100 122h8M44 126h56"/>
<path stroke="#3d358b" d="M64 22h16M48 26h20M80 26h20M44 30h8M96 30h12M36 34h8M104 34h8M36 38h4M108 38h8M32 42h8M112 42h4M32 46h8M112 46h4M32 50h4M112 50h8M28 54h8M112 54h8M28 58h8M68 58h12M112 58h8M28 62h8M64 62h20M112 62h8M28 66h4M64 66h16M116 66h4M24 70h8M68 70h12M116 70h8M24 74h4M120 74h4M24 78h4M120 78h4M24 82h4M120 82h4M24 86h4M120 86h4M24 90h4M120 90h4M24 94h4M120 94h4M28 102h4M116 102h4M28 106h4M116 106h4M32 110h4M112 110h4M108 114h4M36 118h8M104 118h4M44 122h8M60 122h20M92 122h8"/>
<path stroke="#4249b1" d="M68 26h12M52 30h44M44 34h12M92 34h12M40 38h12M100 38h8M40 42h8M100 42h12M40 46h8M100 46h12M36 50h16M60 50h24M96 50h16M36 54h76M36 58h32M80 58h32M36 62h28M84 62h28M32 66h16M52 66h12M80 66h12M104 66h12M32 70h8M60 70h8M80 70h8M108 70h8M28 74h8M64 74h20M112 74h8M28 78h8M112 78h8M28 82h4M116 82h4M28 86h4M116 86h4M28 90h4M116 90h4M28 94h4M116 94h4M28 98h4M116 98h4M32 102h4M112 102h4M32 106h4M112 106h4M36 110h4M108 110h4M36 114h4M104 114h4M44 118h4M64 118h12M96 118h8M52 122h8M80 122h12"/>
<path stroke="#4559cb" d="M56 34h36M52 38h48M48 42h52M48 46h52M52 50h8M84 50h12M48 66h4M92 66h12M40 70h20M88 70h20M36 74h28M84 74h8M104 74h8M36 78h4M60 78h24M108 78h4M32 82h8M72 82h4M108 82h8M32 86h4M112 86h4M32 90h4M112 90h4M32 94h4M112 94h4M32 98h4M112 98h4M36 106h4M108 106h4M104 110h4M40 114h4M68 114h8M100 114h4M48 118h16M76 118h20"/>
<path stroke="#466be3" d="M92 74h12M40 78h20M84 78h24M40 82h4M60 82h12M76 82h8M104 82h4M36 86h4M68 86h12M108 86h4M36 90h4M108 90h4M36 94h4M108 94h4M36 98h4M108 98h4M36 102h4M108 102h4M104 106h4M40 110h4M68 110h8M100 110h4M44 114h24M76 114h24"/>
<path stroke="#477bf2" d="M44 82h16M84 82h20M40 86h8M60 86h8M80 86h8M100 86h8M40 90h4M64 90h20M104 90h4M68 94h12M104 94h4M72 98h4M104 98h4M40 102h4M72 102h4M100 102h8M40 106h4M68 106h12M96 106h8M44 110h4M60 110h8M76 110h24"/>
<path stroke="#458afc" d="M48 86h12M88 86h12M44 90h4M60 90h4M84 90h20M40 94h4M64 94h4M80 94h8M96 94h8M40 98h4M64 98h8M76 98h8M96 98h8M64 102h8M76 102h12M96 102h4M44 106h4M60 106h8M80 106h16M48 110h12"/>
<path stroke="#3e9bfe" d="M48 90h12M44 94h8M56 94h8M88 94h8M44 98h4M60 98h4M84 98h12M44 102h4M60 102h4M88 102h8M48 106h12"/>
<path stroke="#35abf8" d="M52 94h4M48 98h12M48 102h12"/>
</g>
<path d="M911.4 1800L895.4 1798.2L876.8 1799.6L867.4 1797.3L861.2 1793.3L856.8 1788.6L852.5 1781.3L848.5 1772L846.2 1761.4L846.4 1748L854.4 1716.1L857.1 1710.7L862.1 1705.4L868.8 1700.7L875.4 1697.7L883.4 1695.7L894.1 1694.9L904.7 1695.4L914 1697.1L922.7 1700.1L931.4 1704.6L936.9 1709.4L939.9 1714.7L947 1750.7L947.2 1762.7L945.3 1772L939.7 1782.7L931.4 1791.9L922 1797.6L916.7 1799.3L911.4 1800M914 1796.1L907.4 1796.3L895.4 1794L879.4 1795.9L870.1 1794.4L864.8 1791.5L860.8 1787.7L857.5 1782.7L853.9 1774.7L851.5 1765.3L851.8 1754.7L854 1746.7L860.2 1732L863.1 1717.4L865 1713.4L868.3 1709.4L872.8 1705.9L878.1 1703.2L884.7 1701.5L894.1 1700.6L911.4 1702L918 1704.1L925.3 1708.1L930.2 1712.1L932.9 1716.1L934.2 1733.4L940.1 1748L942 1756L942.5 1762.7L941.8 1769.3L938 1778.7L931.4 1787.1L923.4 1793L914 1796.1M897.8 1746.7L900.9 1745.4L903.8 1742.7L906.1 1738.7L906.5 1736L905.5 1733.4L902.1 1730.4L898.1 1729L894.1 1729L890 1730.7L887.1 1733.4L886 1736L886.2 1738.7L888.3 1742.7L891.3 1745.4L894.1 1746.6L897.8 1746.7M914 1718.1L910.1 1718.5L896.7 1715.6L882.1 1718.2L879.4 1716.9L878.9 1714.7L880.7 1712.2L884.7 1711.1L910.1 1710.4L912.7 1710.9L915.5 1713.4L915.9 1716.1L914 1718.1M915.4 1792.1L907.4 1792.6L894.1 1789.7L882.1 1792.1L876.8 1792.2L871.4 1791.1L867.4 1789L864.6 1786.7L861.4 1782.7L856.7 1770.7L856.1 1765.3L856.7 1760L860.3 1752L866.1 1746.4L871.4 1744.7L878.1 1746.1L890.1 1752.5L895.4 1754L902.1 1752.3L912.7 1745.5L918 1743.3L923.4 1743.5L927.4 1745.7L934 1753.3L936.2 1757.4L937.6 1764L936.7 1772L933.5 1778.7L928.7 1784.5L922.3 1789.3L915.4 1792.1M914 1788.3L907.4 1788.6L895.4 1784.5L879.4 1788.6L874.1 1788.1L870.1 1786.5L864.8 1781.6L861.5 1774.7L860.5 1766.7L862.5 1760L867.4 1754.8L872.8 1752.9L879.4 1753.7L891.4 1759.2L896.7 1760.2L902.1 1758.6L915.4 1751.6L919.4 1750.9L923.8 1752L928.4 1756L931.4 1761L932.5 1766.7L931.8 1772L929.3 1777.3L924.7 1782.6L919.4 1786.3L914 1788.3M915.4 1782.7L910.1 1783.3L905.3 1781.3L900.4 1776L900 1772L901.9 1768L907.4 1762.7L914 1759L919.4 1758.2L922 1759.2L925.1 1762.7L926.4 1766.7L926.3 1770.7L924.9 1774.7L922 1778.4L915.4 1782.7M882.1 1784.1L876.8 1784.8L872.8 1783.8L868.8 1781.1L866.1 1777.3L864.6 1772L865 1766.7L867.4 1762.3L871.4 1759.5L876.8 1758.8L882.1 1760.4L887.7 1764L892.1 1769.3L893 1773.3L891.6 1777.3L887.4 1781.3L882.1 1784.1M879.4 1780.1L874.1 1780L871.4 1778.3L869.6 1776L868.8 1773.3L869 1769.3L870.6 1766.7L872.8 1765L875.4 1764.3L879.4 1765.1L882.1 1766.8L884.1 1769.3L885 1773.3L884.3 1776L882.1 1778.7L879.4 1780.1M914 1773.6L912.7 1773.2L912.1 1770.7L913 1769.3L915.4 1768.8L916.7 1771.1L915.4 1773.2L914 1773.6" fill="none" stroke="#000" stroke-opacity="0.55" stroke-width="0.5" stroke-linejoin="round"/>
</g>
<use href="#head" x="895.4" y="1746.7"/>
<rect x="990.2" y="1659" width="9.2" height="175.6" fill="url(#cb)"/>
<text x="1004.6" y="1686" font-size="18.4" fill="#262626">0.1</text>
<text x="1004.6" y="1738.2" font-size="18.4" fill="#262626">0.08</text>
<text x="1004.6" y="1791.2" font-size="18.4" fill="#262626">0.06</text>
<path d="M999.4 1678.9h-1.6M999.4 1731.1h-1.6M999.4 1784.1h-1.6" stroke="#333" stroke-width="0.7" fill="none"/>
<text x="1068.8" y="1746.1" font-size="20" text-anchor="middle" transform="rotate(-90 1068.8 1746.1)" textLength="113.6" lengthAdjust="spacingAndGlyphs">PSD [<tspan font-family="Liberation Serif, serif" font-style="italic">μ</tspan>V<tspan dy="-7" font-size="15">2</tspan><tspan dy="7">/Hz]</tspan></text>
<text x="895.4" y="1652" font-size="20" text-anchor="middle" font-weight="bold" fill="#000" textLength="184.5" lengthAdjust="spacingAndGlyphs"><tspan font-family="Liberation Serif, serif" font-style="italic" font-weight="normal">α</tspan> <tspan stroke="#000" stroke-width="0.9">@</tspan>7.8-13.2Hz | EO</text>
<g clip-path="url(#tc8)"><g filter="url(#tb)" stroke-width="4.3" fill="none" transform="translate(1128.9 1674.1)">
<path stroke="#28bceb" d="M72 86h4M68 90h8M68 94h8M68 98h8"/>
<path stroke="#1fc9dd" d="M68 54h12M68 58h12M68 62h12M68 66h8M72 70h4M72 74h4M68 78h8M68 82h8M68 86h4M76 86h4M76 90h4M64 94h4M76 94h4M64 98h4M76 98h4M68 102h8"/>
<path stroke="#19d5cd" d="M72 46h4M68 50h12M76 66h4M68 70h4M76 70h4M68 74h4M76 74h4M76 78h4M76 82h4M64 90h4M64 102h4"/>
<path stroke="#19e2bb" d="M72 42h4M68 46h4M76 46h4M64 50h4M80 50h4M64 54h4M80 54h4M64 58h4M80 58h4M64 62h4M80 62h4M64 66h4M80 66h4M64 70h4M80 70h4M64 74h4M64 78h4M64 82h4M64 86h4M80 86h4M80 90h4M80 94h4M80 98h4M76 102h4"/>
<path stroke="#20eaac" d="M72 38h4M68 42h4M76 42h4M64 46h4M80 46h4M80 74h4M80 78h4M80 82h4M60 90h4M60 94h4M60 98h4M60 102h4M68 106h8"/>
<path stroke="#32f298" d="M72 34h4M68 38h4M76 38h4M64 42h4M80 42h4M84 46h4M84 50h4M60 54h4M84 54h4M60 58h4M84 58h4M60 62h4M84 62h4M60 66h4M84 66h4M60 70h4M60 82h4M60 86h4M80 102h4M64 106h4M76 106h4"/>
<path stroke="#46f884" d="M16 26h4M12 30h4M12 34h4M68 34h4M76 34h4M8 38h4M64 38h4M80 38h4M84 42h4M60 46h4M60 50h4M84 70h4M60 74h4M84 74h4M60 78h4M84 90h4M56 94h4M84 94h4M56 98h4M84 98h4"/>
<path stroke="#5dfc6f" d="M20 22h4M20 26h4M16 30h8M68 30h12M16 34h4M64 34h4M80 34h4M12 38h4M60 38h4M84 38h4M8 42h4M60 42h4M4 46h4M88 50h4M88 54h4M88 58h4M84 78h4M84 82h4M84 86h4M56 90h4M56 102h4M84 102h4M60 106h4M80 106h4"/>
<path stroke="#79fe59" d="M24 18h4M24 22h4M24 26h4M24 30h4M64 30h4M80 30h4M20 34h4M60 34h4M84 34h4M16 38h4M88 38h4M12 42h4M88 42h4M8 46h4M88 46h4M56 50h4M56 54h4M56 58h4M56 62h4M88 62h4M56 66h4M88 66h4M56 86h4M56 106h4M64 110h12"/>
<path stroke="#8fff49" d="M28 14h4M28 18h4M28 22h4M28 26h4M64 26h16M28 30h4M60 30h4M84 30h4M24 34h4M56 34h4M88 34h4M20 38h4M56 38h4M132 38h4M16 42h4M56 42h4M136 42h4M12 46h4M56 46h4M4 50h8M56 70h4M88 70h4M56 74h4M56 78h4M56 82h4M52 94h4M52 98h4M88 98h4M52 102h4M84 106h4M60 110h4M76 110h4"/>
<path stroke="#a4fc3c" d="M32 14h4M32 18h4M32 22h4M32 26h4M60 26h4M80 26h8M32 30h4M56 30h4M88 30h4M128 30h4M28 34h4M52 34h4M92 34h4M124 34h12M24 38h4M52 38h4M92 38h4M124 38h8M20 42h4M92 42h4M124 42h12M16 46h4M92 46h4M128 46h12M12 50h4M92 50h4M132 50h12M4 54h4M92 54h4M0 58h4M92 58h4M88 74h4M88 78h4M52 90h4M88 90h4M88 94h4M88 102h4M80 110h4"/>
<path stroke="#b4f836" d="M36 10h4M36 14h4M36 18h8M36 22h12M56 22h28M36 26h24M88 26h4M124 26h4M36 30h20M92 30h4M120 30h8M32 34h8M48 34h4M96 34h4M116 34h8M28 38h8M48 38h4M96 38h4M116 38h8M24 42h4M52 42h4M96 42h4M120 42h4M20 46h4M52 46h4M96 46h4M120 46h8M16 50h4M52 50h4M124 50h8M8 54h4M52 54h4M132 54h12M4 58h4M52 58h4M0 62h4M52 62h4M92 62h4M52 66h4M92 66h4M88 82h4M88 86h4M52 106h4M88 106h4M56 110h4M84 110h4"/>
<path stroke="#c3f134" d="M40 10h4M40 14h8M44 18h32M48 22h8M84 22h8M120 22h4M92 26h4M116 26h8M96 30h8M108 30h12M40 34h8M100 34h16M36 38h12M100 38h16M28 42h8M48 42h4M100 42h4M112 42h8M24 46h4M48 46h4M116 46h4M20 50h4M48 50h4M96 50h4M120 50h4M12 54h4M96 54h4M124 54h8M8 58h4M96 58h4M132 58h12M140 62h4M52 70h4M92 70h4M52 82h4M52 86h4M48 98h4M48 102h4M64 114h16"/>
<path stroke="#d4e735" d="M44 6h4M44 10h8M48 14h16M76 18h12M116 18h4M92 22h8M108 22h12M96 26h20M104 30h4M36 42h12M104 42h8M28 46h8M44 46h4M100 46h16M24 50h4M100 50h4M112 50h8M16 54h4M48 54h4M100 54h4M120 54h4M12 58h4M48 58h4M128 58h4M4 62h4M96 62h4M136 62h4M0 66h4M140 66h4M52 74h4M92 74h4M52 78h4M48 94h4M92 94h4M92 98h4M92 102h4M48 106h4M92 106h4M52 110h4M88 110h4M60 114h4M80 114h4"/>
<path stroke="#e1dd37" d="M48 6h8M52 10h8M64 14h20M112 14h4M88 18h28M100 22h8M36 46h8M28 50h4M40 50h8M104 50h8M20 54h4M44 54h4M104 54h4M112 54h8M16 58h4M100 58h4M120 58h8M8 62h4M48 62h4M128 62h8M4 66h4M96 66h4M136 66h4M0 70h4M140 70h4M0 74h4M92 78h4M48 90h4M92 90h4M44 102h4M44 106h4M48 110h4M92 110h4M56 114h4M84 114h4"/>
<path stroke="#eecf3a" d="M56 2h4M56 6h8M60 10h12M108 10h4M84 14h28M32 50h8M24 54h8M40 54h4M108 54h4M20 58h4M44 58h4M104 58h4M112 58h8M12 62h4M100 62h4M124 62h4M8 66h4M48 66h4M132 66h4M4 70h4M96 70h4M136 70h4M140 74h4M0 78h4M92 82h4M48 86h4M92 86h4M44 98h4M96 102h4M96 106h4M44 110h4M52 114h4M88 114h4"/>
<path stroke="#f6c33a" d="M60 2h8M64 6h8M100 6h4M72 10h36M32 54h8M24 58h4M40 58h4M108 58h4M16 62h4M44 62h4M104 62h4M116 62h8M12 66h4M100 66h4M128 66h4M8 70h4M48 70h4M132 70h4M4 74h4M136 74h4M4 78h4M140 78h4M0 82h4M48 82h4M140 82h4M0 86h4M140 86h4M0 90h4M140 90h4M44 94h4M140 94h4M96 98h4M136 98h4M40 102h4M136 102h4M40 106h4M132 106h4M40 110h4M96 110h4M48 114h4M92 114h4M60 118h24"/>
<path stroke="#fbb637" d="M68 2h24M72 6h28M28 58h12M20 62h4M108 62h8M44 66h4M120 66h8M128 70h4M8 74h4M48 74h4M96 74h4M132 74h4M48 78h4M136 78h4M4 82h4M136 82h4M4 86h4M136 86h4M4 90h4M44 90h4M136 90h4M4 94h4M96 94h4M136 94h4M4 98h4M40 98h4M132 98h4M4 102h4M36 102h4M128 102h8M8 106h4M32 106h8M100 106h4M124 106h8M32 110h8M100 110h4M124 110h12M44 114h4M96 114h4M56 118h4M84 118h8"/>
<path stroke="#fea431" d="M24 62h4M40 62h4M16 66h4M104 66h16M12 70h4M100 70h4M124 70h4M128 74h4M8 78h4M96 78h4M132 78h4M8 82h4M132 82h4M132 86h4M8 90h4M96 90h4M132 90h4M8 94h4M40 94h4M132 94h4M8 98h8M128 98h4M8 102h12M32 102h4M100 102h4M124 102h4M12 106h20M104 106h4M120 106h4M8 110h24M104 110h20M12 114h8M28 114h16M100 114h8M120 114h12M48 118h8M92 118h8"/>
<path stroke="#fe932a" d="M28 62h12M20 66h4M40 66h4M16 70h4M44 70h4M104 70h4M116 70h8M12 74h4M100 74h4M124 74h4M128 78h4M96 82h4M128 82h4M8 86h4M44 86h4M96 86h4M128 90h4M12 94h4M128 94h4M16 98h4M36 98h4M100 98h4M124 98h4M20 102h12M104 102h4M120 102h4M108 106h12M20 114h8M108 114h12M16 118h8M32 118h16M100 118h8M120 118h8M60 122h28"/>
<path stroke="#fb7e21" d="M24 66h4M36 66h4M108 70h8M44 74h4M120 74h4M12 78h4M124 78h4M12 82h4M44 82h4M12 86h4M128 86h4M12 90h4M40 90h4M16 94h4M36 94h4M100 94h4M124 94h4M20 98h16M120 98h4M108 102h12M24 118h8M108 118h12M48 122h12M88 122h16M120 122h8"/>
<path stroke="#f66c19" d="M28 66h8M20 70h4M40 70h4M16 74h4M104 74h16M16 78h4M44 78h4M100 78h4M120 78h4M124 82h4M40 86h4M124 86h4M16 90h4M100 90h4M124 90h4M20 94h4M120 94h4M104 98h4M116 98h4M20 122h28M104 122h16M120 126h4"/>
<path stroke="#f05b12" d="M24 70h16M20 74h4M104 78h4M116 78h4M16 82h4M100 82h4M120 82h4M16 86h4M100 86h4M120 86h4M20 90h4M36 90h4M120 90h4M24 94h12M104 94h4M116 94h4M108 98h8M24 126h96"/>
<path stroke="#e7490c" d="M24 74h8M40 74h4M20 78h4M40 78h4M108 78h8M20 82h4M40 82h4M116 82h4M20 86h4M36 86h4M116 86h4M24 90h12M104 90h4M116 90h4M108 94h8"/>
<path stroke="#dd3d08" d="M32 74h8M24 78h16M24 82h16M104 82h12M24 86h12M104 86h12M108 90h8M28 130h28M88 130h28"/>
<path stroke="#d02f05" d="M56 130h12M80 130h8M32 134h8M104 134h8"/>
<path stroke="#c32503" d="M68 130h12M40 134h12M92 134h12"/>
<path stroke="#b41b01" d="M52 134h8M84 134h8M40 138h4M100 138h4"/>
<path stroke="#a11201" d="M60 134h8M80 134h4M44 138h8M92 138h8"/>
<path stroke="#8e0a01" d="M68 134h12M52 138h4M88 138h4"/>
<path stroke="#7a0403" d="M56 138h32M48 142h48"/>
</g>
<path d="M1203.4 1780L1206.5 1778.7L1209.5 1776.1L1211.9 1770.7L1211.4 1749.4L1213.9 1728.1L1212.6 1722.7L1209.5 1717.3L1206.7 1714.7L1202.8 1713.5L1200.2 1714.5L1197.5 1717.3L1192.8 1726.7L1192.4 1732L1193.4 1745.4L1193.3 1754.7L1190.2 1770.7L1191.1 1774.7L1194.6 1778.7L1198.8 1780.3L1203.4 1780M1130.9 1725.4L1144.2 1716.8L1150.5 1710.7L1154.2 1705.4L1155.6 1700.1L1155.8 1693.4L1152.3 1676.1M1204.7 1784L1212.3 1781.3L1215.2 1778.7L1217.2 1774.7L1217.6 1770.7L1216.6 1754.7L1220.4 1732L1220.7 1725.4L1219.3 1714.7L1216 1708.1L1213.3 1705.4L1209.5 1703L1205.5 1701.8L1201.5 1701.5L1197.5 1702.2L1193.5 1704.2L1190.1 1708.1L1188.6 1712.1L1186.1 1730.7L1187.4 1754.7L1183.8 1773.3L1186 1778.7L1190.8 1782.5L1196.2 1784.2L1204.7 1784M1264.5 1676.1L1256 1686.8L1246.8 1696.4L1238.8 1702.9L1234.8 1704.2L1232.1 1703.3L1220.2 1696.1L1213.2 1693.4L1204.2 1691.8L1186.8 1690.9L1181.5 1689.7L1178.9 1688.1L1176.2 1685.1L1171.9 1676.1M1130.9 1740.1L1138.9 1733.2L1165.5 1715.7L1169.5 1714.2L1173.5 1715.2L1176.2 1718L1178.2 1722.7L1182.9 1748L1182.4 1757.4L1177.4 1773.3L1177.9 1778.7L1180.9 1782.7L1185.5 1785.8L1190.8 1787.8L1197.5 1788.5L1208.2 1788.1L1213.5 1787L1219 1784L1222.1 1780L1223.1 1774.7L1220.8 1760L1221.2 1752L1231.5 1718.7L1233.5 1715.2L1234.8 1714.2L1236.1 1714L1238.8 1715.2L1248.1 1724.1L1253.4 1728L1272.1 1737.6M1228.5 1676.1L1221.5 1678L1210.8 1678.4L1204.2 1677.9L1199.7 1676.1M1130.9 1781.2L1132.9 1778.7L1133.7 1776L1133.6 1764L1134.6 1757.4L1136.7 1750.7L1139.7 1745.4L1144.5 1740L1150.9 1735.5L1158.9 1731.9L1164.2 1731L1168.2 1732L1172.2 1735.2L1177 1742.7L1178.9 1749.4L1178.6 1754.7L1177 1760L1165.5 1781.3L1165.5 1782.7L1169 1785.3L1185.5 1792L1196.2 1793.6L1214.8 1792.7L1221.5 1790.9L1227.6 1788L1230.6 1785.3L1231.5 1782.7L1225.1 1761.4L1224.6 1756L1225.3 1752L1228.1 1745.9L1232.1 1740.6L1236.1 1737.7L1241.5 1736.5L1248.1 1738L1254.8 1741.2L1260.5 1745.4L1265.1 1750.7L1267.6 1757.4L1267.4 1764L1264.5 1770.7L1257.4 1778.7L1257.1 1781.3L1258.7 1784L1260.6 1785.3L1272.1 1789.1M1161.5 1769.5L1154.9 1769L1149.6 1765.9L1146.4 1761.4L1145.6 1756L1147.2 1750.7L1152 1745.4L1157.5 1742.4L1164.2 1741.4L1168.2 1742.5L1171.9 1745.4L1173.7 1748L1174.3 1752L1172.2 1758L1168.2 1764.2L1164.6 1768L1161.5 1769.5M1242.8 1773.7L1238.8 1773.9L1235.5 1772L1232.1 1766.4L1229.6 1758.7L1229.5 1755.8L1230.8 1752.7L1233.5 1750L1237.5 1748.3L1242.8 1748.1L1246.8 1749.4L1250.8 1752.5L1253.3 1757.4L1253.4 1761.4L1251.1 1766.7L1246.8 1771.5L1242.8 1773.7M1130.9 1803.5L1148.2 1799L1158.9 1797.2L1186.8 1798.7L1218.8 1799.1L1241.5 1797.2L1246.8 1798.1L1272.1 1806.4M1133.6 1817.3L1158.9 1809.8L1176.2 1807.8L1192.2 1804.7L1201.5 1803.9L1241.5 1809.7L1264.1 1817.3" fill="none" stroke="#000" stroke-opacity="0.55" stroke-width="0.5" stroke-linejoin="round"/>
</g>
<use href="#head" x="1201.5" y="1746.7"/>
<rect x="1296.3" y="1659" width="9.2" height="175.6" fill="url(#cb)"/>
<text x="1310.7" y="1677.6" font-size="18.4" fill="#262626">0.014</text>
<text x="1310.7" y="1728" font-size="18.4" fill="#262626">0.012</text>
<text x="1310.7" y="1778" font-size="18.4" fill="#262626">0.01</text>
<text x="1310.7" y="1828.4" font-size="18.4" fill="#262626">0.008</text>
<path d="M1305.5 1670.5h-1.6M1305.5 1720.9h-1.6M1305.5 1770.9h-1.6M1305.5 1821.3h-1.6" stroke="#333" stroke-width="0.7" fill="none"/>
<text x="1385.5" y="1746.1" font-size="20" text-anchor="middle" transform="rotate(-90 1385.5 1746.1)" textLength="113.6" lengthAdjust="spacingAndGlyphs">PSD [<tspan font-family="Liberation Serif, serif" font-style="italic">μ</tspan>V<tspan dy="-7" font-size="15">2</tspan><tspan dy="7">/Hz]</tspan></text>
<text x="1201.5" y="1652" font-size="20" text-anchor="middle" font-weight="bold" fill="#000" textLength="193.2" lengthAdjust="spacingAndGlyphs"><tspan font-family="Liberation Serif, serif" font-style="italic" font-weight="normal">β</tspan> <tspan stroke="#000" stroke-width="0.9">@</tspan>13.2-29.8Hz | EO</text>
<g clip-path="url(#tc9)"><g filter="url(#tb)" stroke-width="4.3" fill="none" transform="translate(1435 1674.1)">
<path stroke="#458afc" d="M68 90h8M68 94h4"/>
<path stroke="#3e9bfe" d="M64 86h16M64 90h4M76 90h4M64 94h4M72 94h4"/>
<path stroke="#35abf8" d="M64 82h16M60 86h4M60 90h4M80 90h4M60 94h4M76 94h4M64 98h12"/>
<path stroke="#28bceb" d="M68 78h12M80 82h4M80 86h4M80 94h4M60 98h4M76 98h4"/>
<path stroke="#1fc9dd" d="M68 70h8M68 74h12M64 78h4M80 78h4M60 82h4M56 86h4M84 86h4M56 90h4M84 90h4M56 94h4M84 94h4M80 98h4"/>
<path stroke="#19d5cd" d="M68 50h8M68 54h12M64 58h16M64 62h16M64 66h16M64 70h4M76 70h8M64 74h4M80 74h4M60 78h4M56 82h4M84 82h4M52 94h4M88 94h4M56 98h4M84 98h4M64 102h16"/>
<path stroke="#19e2bb" d="M68 46h8M64 50h4M76 50h4M64 54h4M80 54h4M60 58h4M80 58h4M80 62h4M80 66h4M60 74h4M84 78h4M88 86h4M52 90h4M88 90h4M52 98h4M88 98h4M60 102h4M80 102h4"/>
<path stroke="#20eaac" d="M72 42h4M64 46h4M76 46h4M80 50h4M60 54h4M84 58h4M60 62h4M84 62h4M60 66h4M84 66h4M60 70h4M84 70h4M84 74h4M56 78h4M88 82h4M52 86h4M48 94h4M92 94h4M92 98h4M56 102h4M84 102h4"/>
<path stroke="#32f298" d="M68 42h4M76 42h4M80 46h4M60 50h4M84 50h4M84 54h4M56 74h4M88 78h4M52 82h4M92 86h4M48 90h4M92 90h4M48 98h4M52 102h4M88 102h4M68 106h8"/>
<path stroke="#46f884" d="M68 38h12M64 42h4M80 42h4M60 46h4M84 46h4M56 54h4M56 58h4M88 58h4M56 62h4M88 62h4M56 66h4M88 66h4M56 70h4M88 70h4M88 74h4M48 86h4M96 94h4M96 98h4M48 102h4M92 102h4M60 106h8M76 106h4"/>
<path stroke="#5dfc6f" d="M64 38h4M80 38h4M60 42h4M84 42h4M56 50h4M88 50h4M88 54h4M52 78h4M92 82h4M44 90h4M96 90h4M44 94h4M44 98h4M56 106h4M80 106h8"/>
<path stroke="#79fe59" d="M64 34h20M60 38h4M84 38h4M56 46h4M88 46h4M52 58h4M52 62h4M52 66h4M52 70h4M52 74h4M92 74h4M92 78h4M48 82h4M96 86h4M100 94h4M44 102h4M96 102h4M52 106h4M88 106h4"/>
<path stroke="#8fff49" d="M72 26h4M64 30h20M60 34h4M84 34h4M56 38h4M88 38h4M56 42h4M88 42h4M52 50h4M92 50h4M52 54h4M92 54h4M92 58h4M92 62h4M92 66h4M92 70h4M96 82h4M44 86h4M100 90h4M40 94h4M40 98h4M100 98h4M48 106h4M92 106h4"/>
<path stroke="#a4fc3c" d="M64 26h8M76 26h4M60 30h4M84 30h4M56 34h4M88 34h4M52 38h4M92 38h4M52 42h4M92 42h4M52 46h4M92 46h4M48 78h4M96 78h4M44 82h4M100 86h4M40 90h4M104 94h4M40 102h4M100 102h4M44 106h4M96 106h4M68 110h8"/>
<path stroke="#b4f836" d="M68 22h8M60 26h4M80 26h8M56 30h4M88 30h4M52 34h4M92 34h4M48 38h4M96 38h4M48 42h4M96 42h4M48 46h4M96 46h4M48 50h4M96 50h4M48 54h4M96 54h4M48 58h4M96 58h4M48 62h4M96 62h4M48 66h4M96 66h4M48 70h4M96 70h4M48 74h4M96 74h4M100 82h4M40 86h4M104 86h4M104 90h4M36 94h4M36 98h4M104 98h4M104 102h4M100 106h4M60 110h8M76 110h8"/>
<path stroke="#c3f134" d="M64 22h4M76 22h8M52 26h8M88 26h4M48 30h8M92 30h8M44 34h8M96 34h8M44 38h4M100 38h4M44 42h4M100 42h4M44 46h4M100 46h4M44 50h4M100 50h4M44 54h4M100 54h4M100 58h4M100 62h4M100 74h4M44 78h4M100 78h4M40 82h4M104 82h4M36 86h4M36 90h4M108 90h4M108 94h4M108 98h4M36 102h4M40 106h4M104 106h4M48 110h12M84 110h16"/>
<path stroke="#d4e735" d="M52 22h12M84 22h8M48 26h4M92 26h8M40 30h8M100 30h4M40 34h4M104 34h4M36 38h8M104 38h8M40 42h4M104 42h8M40 46h4M104 46h4M40 50h4M104 50h4M104 54h4M44 58h4M44 62h4M44 66h4M100 66h4M44 70h4M100 70h4M44 74h4M40 78h4M104 78h4M36 82h4M108 82h4M108 86h4M32 90h4M32 94h4M112 94h4M32 98h4M112 98h4M32 102h4M108 102h4M36 106h4M108 106h4M44 110h4M100 110h4"/>
<path stroke="#e1dd37" d="M56 18h36M44 22h8M92 22h8M40 26h8M100 26h8M36 30h4M104 30h8M32 34h8M108 34h8M32 38h4M112 38h4M32 42h8M112 42h4M36 46h4M108 46h8M36 50h4M108 50h4M40 54h4M108 54h4M40 58h4M104 58h4M40 62h4M104 62h4M40 66h4M104 66h4M40 70h4M104 70h4M40 74h4M104 74h4M36 78h4M108 78h4M112 82h4M32 86h4M112 86h4M112 90h4M28 94h4M28 98h4M112 102h4M32 106h4M112 106h4M40 110h4M104 110h4"/>
<path stroke="#eecf3a" d="M44 18h12M92 18h12M36 22h8M100 22h12M32 26h8M108 26h8M28 30h8M112 30h8M28 34h4M116 34h4M28 38h4M116 38h4M28 42h4M116 42h4M28 46h8M116 46h4M32 50h4M112 50h4M36 54h4M112 54h4M36 58h4M108 58h4M36 62h4M108 62h4M108 66h4M108 70h4M36 74h4M108 74h8M32 78h4M112 78h4M32 82h4M116 82h4M28 86h4M116 86h4M28 90h4M116 90h4M116 94h4M116 98h4M28 102h4M116 102h4M28 106h4M116 106h4M36 110h4M108 110h8"/>
<path stroke="#f6c33a" d="M40 14h64M32 18h12M104 18h8M24 22h12M112 22h8M24 26h8M116 26h8M20 30h8M120 30h4M20 34h8M120 34h8M20 38h8M120 38h8M20 42h8M120 42h8M24 46h4M120 46h4M24 50h8M116 50h8M28 54h8M116 54h4M32 58h4M112 58h8M32 62h4M112 62h8M36 66h4M112 66h4M32 70h8M112 70h8M32 74h4M116 74h4M28 78h4M116 78h8M28 82h4M120 82h4M24 86h4M120 86h4M24 90h4M120 90h4M24 94h4M120 94h4M24 98h4M120 98h4M24 102h4M120 102h4M24 106h4M120 106h4M32 110h4M116 110h4M68 114h8M96 114h12"/>
<path stroke="#fbb637" d="M36 10h32M76 10h32M28 14h12M104 14h12M24 18h8M112 18h8M20 22h4M120 22h4M16 26h8M124 26h4M12 30h8M124 30h8M12 34h8M128 34h4M12 38h8M128 38h4M12 42h8M128 42h4M16 46h8M124 46h8M16 50h8M124 50h4M20 54h8M120 54h8M24 58h8M120 58h4M24 62h8M120 62h4M24 66h12M116 66h8M24 70h8M120 70h4M24 74h8M120 74h4M24 78h4M20 82h8M124 82h4M20 86h4M124 86h4M20 90h4M124 90h4M20 94h4M124 94h4M20 98h4M124 98h4M20 102h4M124 102h4M24 110h8M120 110h4M44 114h24M76 114h20M108 114h12"/>
<path stroke="#fea431" d="M44 6h20M80 6h24M68 10h8M108 10h4M132 34h4M8 38h4M132 38h4M8 42h4M132 42h4M8 46h8M132 46h4M12 50h4M128 50h8M12 54h8M128 54h4M16 58h8M124 58h8M16 62h8M124 62h4M20 66h4M124 66h4M20 70h4M124 70h4M20 74h4M124 74h4M20 78h4M124 78h4M16 82h4M16 86h4M16 90h4M16 94h4M128 94h4M16 98h4M128 98h4M16 102h4M20 106h4M124 106h4M20 110h4M124 110h4M28 114h16M120 114h4"/>
<path stroke="#fe932a" d="M56 2h12M80 2h12M64 6h16M136 42h4M4 46h4M136 46h4M4 50h8M136 50h4M8 54h4M132 54h4M8 58h8M132 58h4M12 62h4M128 62h4M12 66h8M128 66h4M12 70h8M128 70h4M12 74h8M128 74h4M12 78h8M128 78h4M12 82h4M128 82h4M12 86h4M128 86h4M12 90h4M128 90h4M12 94h4M12 98h4M12 102h4M128 102h4M16 106h4M128 106h4M16 110h4M128 110h4M24 114h4M124 114h4M108 118h16"/>
<path stroke="#fb7e21" d="M68 2h12M140 50h4M4 54h4M136 54h4M0 58h8M136 58h4M4 62h8M132 62h4M8 66h4M132 66h4M8 70h4M132 70h4M8 74h4M132 74h4M8 78h4M132 78h4M8 82h4M132 82h4M8 86h4M132 86h4M8 90h4M132 90h4M8 94h4M132 94h4M8 98h4M132 98h4M8 102h4M132 102h4M12 106h4M132 106h4M12 110h4M132 110h4M16 114h8M128 114h4M28 118h4M100 118h8M124 118h4"/>
<path stroke="#f66c19" d="M140 54h4M140 58h4M0 62h4M136 62h8M0 66h8M136 66h4M0 70h8M136 70h4M4 74h4M4 78h4M136 78h4M4 82h4M136 82h4M4 86h4M136 86h4M4 90h4M136 90h4M4 94h4M136 94h4M4 98h4M136 98h4M4 102h4M136 102h4M8 106h4M8 110h4M12 114h4M20 118h8M32 118h8M92 118h8M112 122h12"/>
<path stroke="#f05b12" d="M140 66h4M140 70h4M0 74h4M136 74h8M0 78h4M140 78h4M0 82h4M140 82h4M0 86h4M140 86h4M0 90h4M140 90h4M140 94h4M16 118h4M40 118h4M84 118h8M108 122h4M124 122h4"/>
<path stroke="#e7490c" d="M44 118h28M76 118h8M20 122h12M104 122h4M120 126h4"/>
<path stroke="#dd3d08" d="M72 118h4M32 122h4M100 122h4M112 126h8"/>
<path stroke="#d02f05" d="M36 122h4M96 122h4M24 126h4M108 126h4"/>
<path stroke="#c32503" d="M40 122h4M92 122h4M28 126h4"/>
<path stroke="#b41b01" d="M44 122h4M84 122h8M32 126h4M104 126h4M112 130h4"/>
<path stroke="#a11201" d="M48 122h16M80 122h4M36 126h4M100 126h4M28 130h4M108 130h4"/>
<path stroke="#8e0a01" d="M64 122h4M76 122h4M32 130h4"/>
<path stroke="#7a0403" d="M68 122h8M40 126h60M36 130h72M32 134h80M40 138h64M48 142h48"/>
</g>
<path d="M1509.5 1776L1514.9 1774.7L1520.2 1772L1522.5 1769.3L1523.3 1765.3L1520.9 1756.1L1514.7 1745.4L1511.6 1736.9L1510.3 1735.9L1507.6 1735.6L1504.9 1736.7L1502.1 1745.4L1493.5 1757.4L1490.8 1764L1490.4 1768L1492.4 1772L1496.9 1774.5L1503.6 1776.1L1509.5 1776M1516.9 1780L1526.2 1778.2L1530.2 1776.3L1533 1772L1533.3 1766.7L1526.2 1749.4L1525.4 1744L1525.1 1730.7L1521.7 1720.1L1519.2 1716.1L1515.6 1713.1L1511.6 1711.9L1506.3 1711.9L1502.3 1713.1L1499.6 1714.9L1496.9 1718.3L1494.8 1722.7L1492 1732L1491.9 1742.7L1491.1 1748L1489.6 1752L1482.7 1764L1481.6 1770.7L1482.4 1773.3L1484.2 1776L1489.3 1778.7L1506.3 1781.1L1516.9 1780M1517.9 1784L1531.6 1782.7L1536.9 1780.4L1541.6 1774.7L1542.8 1770.7L1542.8 1766.7L1541.2 1761.4L1535.2 1752L1533.7 1748L1534.1 1729.4L1533 1714.7L1531.2 1709.4L1526.7 1704.1L1520.6 1700.1L1511.6 1696.4L1506.3 1696L1501.9 1697.4L1494.6 1701.4L1489.9 1705.4L1487.1 1709.4L1485.8 1713.4L1484 1730.7L1484.2 1748L1483.2 1750.7L1474.6 1762.7L1473.3 1766.7L1473.1 1770.7L1474.1 1774.7L1476.5 1778.7L1479.9 1781.3L1483.6 1782.9L1507.6 1784.9L1517.9 1784M1545.4 1786.7L1550.2 1785.4L1552.9 1783.5L1555.2 1780L1556.4 1774.7L1556.4 1765.3L1555 1756L1553.3 1750.7L1548.9 1743.1L1548.4 1740L1549.7 1734.7L1556.6 1721.4L1558.7 1714.7L1557.8 1706.7L1553.9 1700.1L1548.9 1695.7L1540.9 1691.6L1531.6 1688.8L1522.3 1687.7L1507.6 1689L1495.6 1687.8L1485 1688.6L1473.1 1692.1L1465 1697.2L1461.4 1701.4L1459.6 1704.9L1458.6 1709.4L1458.8 1713.4L1461.2 1720.1L1470.3 1733.9L1472.1 1741.4L1470.5 1746.7L1463.3 1757.4L1460.5 1765.3L1460.3 1773.3L1461.5 1777.3L1463.6 1780.6L1466.3 1782.9L1470.3 1784.6L1483.6 1787.2L1534.2 1787.7L1545.4 1786.7M1437 1733.2L1441.4 1741.4L1443.6 1748L1442.1 1766.7L1443.4 1776L1447.7 1784L1454.3 1789.7L1459.6 1791.9L1463.6 1792.5L1481 1790.6L1520.9 1790.8L1532.9 1791.9L1554.2 1795.4L1559.5 1794.3L1564 1792L1568 1788L1570.8 1782.7L1572.1 1777.3L1572.4 1770.7L1570 1746.7L1572 1738.7L1578.2 1725.7M1437 1794.6L1446.3 1798.8L1457 1800.4L1465 1799.4L1482.3 1794L1510.3 1793.1L1531.6 1795.6L1551.6 1802.1L1559.5 1803.3L1568.9 1801.9L1578.2 1797.2" fill="none" stroke="#000" stroke-opacity="0.55" stroke-width="0.5" stroke-linejoin="round"/>
</g>
<use href="#head" x="1507.6" y="1746.7"/>
<rect x="1602.4" y="1659" width="9.2" height="175.6" fill="url(#cb)"/>
<text x="1616.8" y="1697.8" font-size="18.4" fill="#262626">8</text>
<text x="1616.8" y="1741.3" font-size="18.4" fill="#262626">6</text>
<text x="1616.8" y="1785.4" font-size="18.4" fill="#262626">4</text>
<text x="1616.8" y="1829.6" font-size="18.4" fill="#262626">2</text>
<path d="M1611.6 1690.7h-1.6M1611.6 1734.2h-1.6M1611.6 1778.3h-1.6M1611.6 1822.5h-1.6" stroke="#333" stroke-width="0.7" fill="none"/>
<text x="1653.7" y="1746.1" font-size="20" text-anchor="middle" transform="rotate(-90 1653.7 1746.1)" textLength="113.6" lengthAdjust="spacingAndGlyphs">PSD [<tspan font-family="Liberation Serif, serif" font-style="italic">μ</tspan>V<tspan dy="-7" font-size="15">2</tspan><tspan dy="7">/Hz]</tspan></text>
<text x="1507.6" y="1652" font-size="20" text-anchor="middle" font-weight="bold" fill="#000" textLength="192.5" lengthAdjust="spacingAndGlyphs"><tspan font-family="Liberation Serif, serif" font-style="italic" font-weight="normal">γ</tspan> <tspan stroke="#000" stroke-width="0.9">@</tspan>29.8-43.9Hz | EO</text>
<text x="1613.2" y="1652.4" font-size="17" font-family="Liberation Serif, serif" fill="#262626">×</text>
<text x="1626.2" y="1652.2" font-size="18.4" fill="#262626">10</text>
<text x="1647.8" y="1643.2" font-size="14.6" fill="#262626">-3</text>
<g clip-path="url(#tc10)"><g filter="url(#tb)" stroke-width="4.3" fill="none" transform="translate(210.6 1921.8)">
<path stroke="#30123b" d="M88 114h8M92 118h4"/>
<path stroke="#372466" d="M88 110h8M84 114h4M96 114h4M84 118h8M96 118h4M88 122h12"/>
<path stroke="#3d358b" d="M80 58h16M80 62h16M52 102h8M52 106h8M88 106h8M84 110h4M96 110h4M80 114h4M100 114h4M100 118h4M84 122h4M100 122h4M92 126h8"/>
<path stroke="#4249b1" d="M88 50h8M72 54h28M68 58h12M96 58h4M68 62h12M96 62h4M72 66h24M76 70h12M48 98h16M48 102h4M60 102h8M44 106h8M60 106h8M84 106h4M96 106h4M44 110h20M76 110h8M100 110h4M48 114h8M76 114h4M76 118h8M104 118h4M80 122h4M104 122h4M84 126h8M100 126h4M92 130h12"/>
<path stroke="#4559cb" d="M76 46h24M68 50h20M96 50h8M64 54h8M100 54h4M64 58h4M100 58h4M64 62h4M100 62h4M64 66h8M96 66h4M68 70h8M88 70h8M68 74h20M48 94h20M44 98h4M64 98h8M40 102h8M68 102h4M84 102h16M40 106h4M68 106h16M100 106h4M36 110h8M64 110h12M104 110h4M24 114h24M56 114h20M104 114h4M16 118h40M72 118h4M20 122h24M76 122h4M24 126h12M80 126h4M104 126h4M28 130h4M84 130h8M104 130h4M92 134h12"/>
<path stroke="#466be3" d="M72 42h28M64 46h12M100 46h4M60 50h8M104 50h4M56 54h8M104 54h4M56 58h8M104 58h4M56 62h8M104 62h4M60 66h4M100 66h4M60 70h8M96 70h4M64 74h4M88 74h8M64 78h24M64 82h16M56 86h24M48 90h28M44 94h4M68 94h8M40 98h4M72 98h4M84 98h12M36 102h4M72 102h12M100 102h4M32 106h8M20 110h16M12 114h12M108 114h4M56 118h16M108 118h4M44 122h12M68 122h8M108 122h4M36 126h12M76 126h4M108 126h4M32 130h12M80 130h4M108 130h4M32 134h8M84 134h8M104 134h8M88 138h16"/>
<path stroke="#477bf2" d="M68 38h36M60 42h12M100 42h8M56 46h8M104 46h4M52 50h8M108 50h4M52 54h4M108 54h4M52 58h4M108 58h4M52 62h4M52 66h8M104 66h4M56 70h4M100 70h4M56 74h8M96 74h4M56 78h8M88 78h8M56 82h8M80 82h12M48 86h8M80 86h8M44 90h4M76 90h12M40 94h4M76 94h20M36 98h4M76 98h8M96 98h4M32 102h4M20 106h12M104 106h4M8 110h12M108 110h4M112 118h4M56 122h12M112 122h4M48 126h8M68 126h8M112 126h4M44 130h4M72 130h8M112 130h4M40 134h8M76 134h8M40 138h4M80 138h8M84 142h12"/>
<path stroke="#458afc" d="M84 30h8M64 34h40M56 38h12M104 38h8M48 42h12M108 42h4M48 46h8M108 46h4M48 50h4M48 54h4M48 58h4M48 62h4M108 62h4M48 66h4M108 66h4M48 70h8M104 70h4M52 74h4M100 74h4M48 78h8M96 78h8M48 82h8M92 82h8M44 86h4M88 86h12M40 90h4M88 90h12M36 94h4M96 94h4M32 98h4M100 98h4M20 102h12M104 102h4M8 106h12M108 106h4M112 114h4M116 122h4M56 126h12M116 126h4M48 130h8M64 130h8M48 134h4M68 134h8M44 138h8M72 138h8M72 142h12"/>
<path stroke="#3e9bfe" d="M76 26h20M60 30h24M92 30h16M48 34h16M104 34h8M40 38h16M112 38h4M36 42h12M112 42h4M40 46h8M112 46h4M40 50h8M112 50h4M40 54h8M112 54h4M44 58h4M112 58h4M44 62h4M112 62h4M44 66h4M44 70h4M108 70h4M44 74h8M104 74h4M44 78h4M44 82h4M100 82h4M40 86h4M100 86h4M36 90h4M100 90h4M32 94h4M100 94h4M20 98h12M104 98h4M4 102h16M108 102h4M112 110h4M116 114h4M116 118h4M120 122h4M120 126h4M56 130h8M52 134h16M52 138h20M48 142h24"/>
<path stroke="#35abf8" d="M64 22h36M52 26h24M96 26h12M36 30h24M108 30h4M28 34h20M112 34h4M28 38h12M116 38h4M28 42h8M116 42h4M32 46h8M116 46h4M32 50h8M116 50h4M36 54h4M116 54h4M40 58h4M116 58h4M40 62h4M40 66h4M112 66h4M40 70h4M40 74h4M108 74h4M40 78h4M104 78h4M40 82h4M104 82h4M36 86h4M32 90h4M24 94h8M104 94h4M4 98h16M108 98h4M112 106h4M116 110h4M120 114h4M120 118h8M124 122h4"/>
<path stroke="#28bceb" d="M64 14h28M52 18h52M40 22h24M100 22h8M24 26h28M108 26h8M20 30h16M112 30h8M20 34h8M116 34h4M20 38h8M20 42h8M120 42h4M20 46h12M120 46h4M24 50h8M120 50h4M32 54h4M120 54h4M32 58h8M36 62h4M116 62h4M36 66h4M116 66h4M36 70h4M112 70h4M36 74h4M36 78h4M108 78h4M36 82h4M32 86h4M104 86h4M28 90h4M104 90h4M4 94h20M112 102h4M116 106h4M120 110h8M124 114h8"/>
<path stroke="#1fc9dd" d="M60 6h28M48 10h52M36 14h28M92 14h12M24 18h28M104 18h8M20 22h20M108 22h8M16 26h8M116 26h4M12 30h8M120 30h4M12 34h8M120 34h4M8 38h12M120 38h4M8 42h12M12 46h8M16 50h8M24 54h8M28 58h4M120 58h4M32 62h4M120 62h4M116 70h4M112 74h4M32 82h4M108 82h4M0 86h4M108 86h4M0 90h28M108 90h4M108 94h4M112 98h4M116 102h4M120 106h8M128 110h8"/>
<path stroke="#19d5cd" d="M56 2h36M44 6h16M88 6h16M36 10h12M100 10h8M28 14h8M104 14h12M112 18h8M116 22h8M120 26h4M124 30h4M124 34h4M124 38h4M124 42h4M4 46h8M124 46h4M4 50h12M124 50h4M4 54h20M124 54h4M20 58h8M124 58h4M28 62h4M124 62h4M32 66h4M120 66h4M32 70h4M120 70h4M32 74h4M116 74h4M0 78h4M32 78h4M112 78h4M0 82h8M4 86h28M112 94h4M116 98h4M120 102h12M128 106h8"/>
<path stroke="#19e2bb" d="M108 10h4M124 26h4M128 30h4M128 34h4M128 38h4M128 42h4M128 46h4M128 50h4M128 54h4M0 58h20M128 58h4M0 62h28M128 62h4M0 66h8M24 66h8M124 66h8M0 70h8M28 70h4M124 70h4M0 74h8M120 74h4M4 78h8M116 78h4M8 82h12M28 82h4M112 82h4M112 86h4M112 90h4M116 94h4M120 98h16M132 102h8"/>
<path stroke="#20eaac" d="M132 34h4M132 38h4M132 42h4M132 46h4M132 50h4M132 54h4M132 58h4M132 62h4M8 66h16M132 66h4M8 70h20M128 70h8M8 74h12M28 74h4M124 74h8M12 78h8M28 78h4M120 78h8M20 82h8M116 82h4M116 86h4M116 90h4M120 94h24M136 98h4"/>
<path stroke="#32f298" d="M136 42h4M136 46h4M136 50h8M136 54h8M136 58h8M136 62h8M136 66h8M136 70h8M20 74h8M132 74h12M20 78h8M128 78h16M120 82h24M120 86h24M120 90h24"/>
</g>
<path d="M297.9 1985.1L300.5 1983.7L301.5 1982.4L300.5 1980.3L296.5 1979.6L293.5 1981.1L292.9 1982.4L293.9 1984.3L295.2 1985.1L297.9 1985.1M267.8 2027.7L268.7 2026.4L268.6 2025L267.2 2023.9L265.9 2023.8L264.3 2025L263.9 2026.4L264.6 2027.8L265.9 2028.3L267.8 2027.7M308.8 2047.7L311.2 2046L312.9 2042.4L312.9 2037L311.3 2033L309.1 2030.4L305.8 2028.4L301.8 2028.1L297.9 2029.5L295.2 2031.7L293.6 2034.4L293.3 2037L294.6 2041L297.9 2044.5L301.8 2046.9L305.8 2048L308.8 2047.7M288.5 1997.1L303.2 1993.6L307.2 1991.6L311.4 1987.7L313.7 1983.7L314.4 1978.4L312.8 1973.1L309.8 1969.7L307.2 1968.3L303.2 1967.6L288.5 1968.8L281.9 1970.7L276.7 1974.4L275.2 1977.1L274.7 1981.1L277.1 1989.1L280.5 1994.2L283.2 1996.5L285.9 1997.3L288.5 1997.1M223.6 2065L249.9 2043.6L255.2 2041.6L276.5 2037.2L279.2 2037.2L281.9 2038.2L291.3 2047.7L303.2 2055.9L308.5 2057.5L312.5 2057L316.4 2054.3L318.7 2050.3L319.5 2043.7L318.4 2037L314.2 2029L308.5 2024.2L304.5 2022.8L300.5 2022.8L289.9 2026.5L285.9 2027.1L283.2 2025.6L278.8 2017L276.5 2014.3L273.9 2013.3L268.5 2013.4L263.2 2015L257.9 2018.5L245.9 2033.5L243.2 2035L233.9 2037.4L228.1 2041L212.6 2056M324.3 2065L327 2058.3L327.4 2050.3L325.6 2042.4L321.3 2031.7L316.5 2024.9L309.8 2018.6L305.8 2016.2L297.9 2014.2L296.3 2013L295.9 2011.7L297.9 2007.4L307.2 2000.7L313.8 1993.8L317.9 1987.7L320.1 1982.4L321.1 1974.4L319.6 1966.4L316.5 1961.8L309.8 1958.2L300.5 1957L287.2 1958.3L276.5 1961.1L268.5 1965.2L264.6 1969.7L263 1975.8L263.9 1983.7L268.3 1998.4L267.7 2002.4L259.2 2008.6L247.2 2019.7L241.9 2023.5L235.2 2026.3L212.6 2032.8M250.7 2065L255.4 2057L260.1 2051.7L266.3 2047.7L272.5 2046.3L276.5 2046.9L280.5 2049.2L295.8 2065M340.3 2065L338.9 2054.3L335.3 2045L326.5 2030.4L316.1 2017L313.7 2011.7L313.6 2007.7L315.1 2002.4L322.9 1989.1L325.9 1982.4L327.2 1975.8L327.4 1969.1L326.7 1962.4L324.2 1957.1L319.2 1952.5L311.2 1948.6L300.5 1946.3L289.9 1946.8L272.5 1950.7L256.6 1955.8L249.9 1958.9L247.7 1961.1L247.4 1965.1L253.3 1981.1L255.2 1991.7L254.3 1999.7L251.6 2006.4L245.9 2013.1L237.9 2017.8L227.3 2020.3L212.6 2021.6M353.8 2055L349.7 2046.3L344.5 2038.4L338.3 2031.7L324.5 2020.3L321 2015.7L319.5 2011.7L319.3 2007.7L320.7 2002.4L329.8 1987.7L332.8 1979.7L333.7 1963.8L331.5 1954.4L328 1949.1L323.2 1944.8L311.2 1937.7L301.8 1934.1L291.2 1931.8L281.9 1931.7L251.2 1942L239.2 1944.6L234.8 1946.4L231.3 1948.9L228.7 1951.8L227 1955.8L227.3 1962.4L230.1 1967.8L240.6 1977.1L245.9 1984.4L248 1991.7L247.1 2002.4L243.2 2008.3L236.6 2012L224.6 2013L212.6 2011.3M353.8 2029L345.8 2023.3L333.8 2019.8L329.8 2017.9L327.1 2015.7L324.6 2011.7L324.2 2007.7L325.6 2003.7L335.4 1991.7L339.3 1983.7L340.8 1974.4L340.9 1958.4L338.3 1949.1L333.3 1941.1L324.5 1932.7L311.8 1923.8M212.6 1983.1L216.6 1981L221.9 1980.5L228.6 1981.5L233.9 1983.5L237.9 1986.2L240.6 1989.3L242.4 1993.1L243 1998.4L241.7 2002.4L239.2 2004.8L235.2 2006.4L230.4 2006.4L225.1 2005.1L220 2002.4L215.3 1998.4L212.6 1994.8" fill="none" stroke="#000" stroke-opacity="0.55" stroke-width="0.5" stroke-linejoin="round"/>
</g>
<use href="#head" x="283.2" y="1994.4"/>
<rect x="378" y="1906.8" width="9.2" height="175.8" fill="url(#cb)"/>
<text x="392.4" y="1938.6" font-size="18.4" fill="#262626">7</text>
<text x="392.4" y="1974.4" font-size="18.4" fill="#262626">3</text>
<text x="392.4" y="2010.5" font-size="18.4" fill="#262626">-1</text>
<text x="392.4" y="2046.3" font-size="18.4" fill="#262626">-5</text>
<text x="392.4" y="2082.1" font-size="18.4" fill="#262626">-9</text>
<path d="M387.2 1931.5h-1.6M387.2 1967.3h-1.6M387.2 2003.4h-1.6M387.2 2039.2h-1.6M387.2 2075h-1.6" stroke="#333" stroke-width="0.7" fill="none"/>
<text x="431.7" y="1994.6" font-size="20" text-anchor="middle" transform="rotate(-90 431.7 1994.6)" textLength="78.5" lengthAdjust="spacingAndGlyphs">t statistic</text>
<text x="283.2" y="1899.4" font-size="20" text-anchor="middle" font-weight="bold" fill="#000" textLength="232.3" lengthAdjust="spacingAndGlyphs">EC vs EO |  FDR correct</text>
<g clip-path="url(#tc11)"><g filter="url(#tb)" stroke-width="4.3" fill="none" transform="translate(516.7 1921.8)">
<path stroke="#30123b" d="M84 110h4"/>
<path stroke="#372466" d="M48 106h4M84 106h8M80 110h4M88 110h4M84 114h4"/>
<path stroke="#3d358b" d="M48 102h8M52 106h4M80 106h4M80 114h4M88 114h4"/>
<path stroke="#4249b1" d="M44 102h4M80 102h12M44 106h4M56 106h4M76 106h4M92 106h4M44 110h12M76 110h4M92 110h4M84 118h4"/>
<path stroke="#4559cb" d="M48 98h8M56 102h4M76 102h4M92 102h4M40 106h4M60 106h4M72 106h4M56 110h4M72 110h4M76 114h4M92 114h4M80 118h4M88 118h4"/>
<path stroke="#466be3" d="M96 6h8M104 10h4M44 98h4M56 98h4M84 98h4M40 102h4M60 102h4M72 102h4M64 106h8M96 106h4M40 110h4M60 110h12M96 110h4M44 114h16M72 114h4M76 118h4M92 118h4M84 122h4"/>
<path stroke="#477bf2" d="M84 2h8M88 6h8M92 10h12M108 10h4M96 14h20M40 98h4M60 98h4M76 98h8M88 98h4M64 102h8M96 102h4M36 106h4M36 110h4M40 114h4M60 114h12M96 114h4M80 122h4M88 122h4"/>
<path stroke="#458afc" d="M76 2h8M80 6h8M84 10h8M88 14h8M88 18h32M92 22h20M44 94h16M64 98h12M92 98h4M36 102h4M100 110h4M36 114h4M44 118h20M72 118h4M96 118h4M76 122h4M92 122h4M80 126h12"/>
<path stroke="#3e9bfe" d="M68 2h8M72 6h8M76 10h8M80 14h8M84 18h4M84 22h8M112 22h12M84 26h32M84 30h20M76 34h20M72 38h20M68 42h24M68 46h24M68 50h24M68 54h24M72 58h20M72 62h20M76 66h16M60 94h28M36 98h4M32 106h4M100 106h4M32 110h4M100 114h4M40 118h4M64 118h8M100 118h4M72 122h4M96 122h4M76 126h4M92 126h4M84 130h8"/>
<path stroke="#35abf8" d="M56 2h12M60 6h12M68 10h8M72 14h8M76 18h8M76 22h8M76 26h8M116 26h12M68 30h16M104 30h12M64 34h12M96 34h12M64 38h8M92 38h12M60 42h8M92 42h8M60 46h8M92 46h8M60 50h8M92 50h8M60 54h8M92 54h8M60 58h12M92 58h8M64 62h8M92 62h8M64 66h12M92 66h8M68 70h28M72 74h20M48 90h20M40 94h4M88 94h4M96 98h4M32 102h4M100 102h4M104 110h4M32 114h4M104 114h4M36 118h4M104 118h4M48 122h24M100 122h4M72 126h4M96 126h4M76 130h8M92 130h8M84 134h12"/>
<path stroke="#28bceb" d="M44 6h16M44 10h24M48 14h24M56 18h20M60 22h16M56 26h20M56 30h12M116 30h12M56 34h8M108 34h8M52 38h12M104 38h4M52 42h8M100 42h4M52 46h8M100 46h4M52 50h8M100 50h4M48 54h12M100 54h4M44 58h16M100 58h4M44 62h20M100 62h4M48 66h16M100 66h4M56 70h12M96 70h4M60 74h12M92 74h8M64 78h28M64 82h24M56 86h28M44 90h4M68 90h20M36 94h4M92 94h4M32 98h4M28 102h4M28 106h4M104 106h4M28 110h4M28 114h4M108 114h4M32 118h4M108 118h12M40 122h8M104 122h20M68 126h4M100 126h24M72 130h4M100 130h16M76 134h8M96 134h16M84 138h20"/>
<path stroke="#1fc9dd" d="M36 10h8M28 14h20M32 18h24M36 22h24M40 26h16M40 30h16M128 30h4M40 34h16M116 34h12M44 38h8M108 38h12M44 42h8M104 42h8M40 46h12M104 46h4M40 50h12M104 50h4M40 54h8M104 54h4M40 58h4M104 58h4M40 62h4M40 66h8M44 70h12M100 70h4M52 74h8M56 78h8M92 78h8M52 82h12M88 82h8M48 86h8M84 86h8M40 90h4M88 90h4M32 94h4M96 94h4M28 98h4M100 98h4M24 102h4M104 102h4M24 106h4M24 110h4M108 110h4M24 114h4M112 114h8M28 118h4M120 118h4M32 122h8M124 122h4M56 126h12M68 130h4M72 134h4M76 138h8M84 142h12"/>
<path stroke="#19d5cd" d="M24 18h8M20 22h16M24 26h16M24 30h16M28 34h12M128 34h8M28 38h16M120 38h8M32 42h12M112 42h8M32 46h8M108 46h8M32 50h8M108 50h4M36 54h4M108 54h4M36 58h4M36 62h4M104 62h4M36 66h4M104 66h4M40 70h4M44 74h8M100 74h4M48 78h8M100 78h4M48 82h4M96 82h4M44 86h4M92 86h4M36 90h4M92 90h8M100 94h4M24 98h4M20 106h4M108 106h4M20 110h4M112 110h4M20 114h4M120 114h4M24 118h4M124 118h4M28 122h4M40 126h16M64 130h4M68 134h4M72 138h4M80 142h4"/>
<path stroke="#19e2bb" d="M16 26h8M16 30h8M16 34h12M20 38h8M128 38h8M24 42h8M120 42h8M24 46h8M116 46h4M28 50h4M112 50h4M32 54h4M32 58h4M108 58h4M108 62h4M36 70h4M104 70h4M40 74h4M104 74h4M40 78h8M40 82h8M100 82h4M40 86h4M96 86h4M32 90h4M100 90h4M28 94h4M20 98h4M104 98h4M20 102h4M108 102h4M16 106h4M112 106h4M16 110h4M116 110h8M124 114h4M20 118h4M24 122h4M32 126h8M56 130h8M64 134h4M68 138h4M72 142h8"/>
<path stroke="#20eaac" d="M12 30h4M12 34h4M12 38h8M16 42h8M128 42h12M20 46h4M120 46h8M20 50h8M116 50h4M24 54h8M112 54h4M28 58h4M112 58h4M32 62h4M108 66h4M36 74h4M104 78h4M36 86h4M100 86h4M24 94h4M104 94h4M16 98h4M16 102h4M12 106h4M116 106h4M12 110h4M124 110h4M16 114h4M128 114h4M16 118h4M20 122h4M24 126h8M48 130h8M60 134h4M64 138h4M68 142h4"/>
<path stroke="#32f298" d="M8 38h4M8 42h8M12 46h8M128 46h12M16 50h4M120 50h8M20 54h4M116 54h8M116 58h4M28 62h4M112 62h4M32 66h4M108 70h4M36 78h4M36 82h4M104 82h4M32 86h4M104 86h4M28 90h4M104 90h4M16 94h8M12 98h4M108 98h4M8 102h8M112 102h4M8 106h4M120 106h4M8 110h4M128 110h4M12 114h4M28 130h20M56 134h4M60 138h4M64 142h4"/>
<path stroke="#46f884" d="M8 46h4M12 50h4M128 50h16M16 54h4M124 54h4M24 58h4M116 62h4M112 66h4M32 70h4M108 74h4M32 82h4M28 86h4M16 90h12M12 94h4M108 94h4M8 98h4M4 102h4M116 102h4M124 106h4M132 110h4M52 134h4M56 138h4M60 142h4"/>
<path stroke="#5dfc6f" d="M4 46h4M4 50h8M12 54h4M128 54h16M20 58h4M120 58h8M24 62h4M28 66h4M112 70h4M32 74h4M32 78h4M108 78h4M108 82h4M108 86h4M12 90h4M108 90h4M4 94h8M4 98h4M112 98h4M120 102h4M128 106h8M32 134h20M52 138h4"/>
<path stroke="#79fe59" d="M4 54h8M12 58h8M128 58h12M20 62h4M120 62h4M116 66h4M28 70h4M112 74h4M28 82h4M12 86h16M4 90h8M112 94h4M116 98h4M124 102h8M40 138h12M52 142h8"/>
<path stroke="#8fff49" d="M4 58h8M140 58h4M16 62h4M124 62h12M24 66h4M120 66h4M116 70h4M28 74h4M28 78h4M112 78h4M24 82h4M4 86h8M0 90h4M112 90h4M116 94h4M120 98h8M132 102h8M48 142h4"/>
<path stroke="#a4fc3c" d="M0 58h4M0 62h16M136 62h8M20 66h4M124 66h8M24 70h4M120 70h4M116 74h4M0 82h24M112 82h4M0 86h4M112 86h4M116 90h4M120 94h4M128 98h12"/>
<path stroke="#b4f836" d="M0 66h20M132 66h12M0 70h8M20 70h4M124 70h4M0 74h8M24 74h4M120 74h4M0 78h28M116 78h4M116 86h4M120 90h4M124 94h20"/>
<path stroke="#c3f134" d="M8 70h12M128 70h16M8 74h16M124 74h4M140 74h4M120 78h4M116 82h4M120 86h4M140 86h4M124 90h20"/>
<path stroke="#d4e735" d="M128 74h12M124 78h20M120 82h24M124 86h16"/>
</g>
<path d="M571.3 2033L573.7 2031.7L575.5 2029L575.5 2026.4L574.1 2023.7L572 2021.8L569.3 2020.8L566.7 2020.8L564 2021.9L562 2023.7L560.9 2026.4L561.6 2030.4L565.3 2033.2L568 2033.6L571.3 2033M604.4 2039.7L607.9 2037.9L610.6 2034.8L611.7 2031.7L611.3 2027.7L609.6 2025L607.2 2023.7L604 2023L600 2023.4L594.9 2026.4L593.4 2029L593.3 2031.7L595.4 2035.7L598.2 2038.4L601.3 2039.7L604.4 2039.7M600.1 1923.8L610.8 1937.1L614.6 1939.8L618.6 1940.8L623.9 1940.5L630.6 1938.8L659.9 1927M606.8 2046.3L610.6 2043.4L614.9 2038.4L616.4 2035.7L617.3 2031.7L616.8 2027.7L614.9 2023.7L612.3 2021L609.3 2019.5L604 2018L600 2017.9L585.3 2020.9L581.3 2020L573.3 2016L568 2015.6L564 2016.5L560 2018.4L556.9 2021L554.4 2025L553.7 2029L554.7 2033L557.3 2036.2L561.2 2038.4L565.3 2039.4L570.7 2039.5L582.6 2037.1L585.3 2037.1L589.3 2038.7L598.6 2045.9L602.6 2047.1L606.8 2046.3M557.7 1923.8L584.7 1937.1L589.3 1941.1L589.3 1943.1L588.1 1945.1L580 1951.8L576.2 1957.1L573.7 1963.8L570.3 1978.4L571.5 1982.4L577.3 1988L585.2 1998.4L589.3 2000.6L597.3 2001L604 2000.1L609.3 1998.1L613.3 1994.8L615.9 1990.4L617.2 1986.4L618.5 1966.4L620.2 1962.4L622.6 1959.7L631.9 1954.6L659.9 1944.3M612.7 2059.7L623.9 2055.6L630.6 2055.5L634.6 2054.5L637.6 2051.7L638.6 2047.7L637.8 2043.7L636.3 2041L634.6 2039.4L629.3 2038.1L626.6 2036.6L619.5 2022.4L617.3 2019.6L613.3 2016.5L601.3 2010.7L592 2011.4L582.6 2008.3L577.3 2008L570.7 2009.4L558.7 2013.3L551.6 2018.4L547.2 2023.7L545.7 2027.7L546 2033L548.8 2038.4L553.3 2041.8L562.7 2044.3L584 2046.1L587.4 2047.7L594.6 2054L600 2057.3L606.6 2059.5L612.7 2059.7M518.7 1932.2L527.4 1942.5L533.8 1951.8L548 1976L553.3 1988.8L559.8 2001.1L559.5 2003.7L557.4 2006.4L539.2 2019.7L536 2023.5L534.9 2026.4L534.4 2030.4L535 2034.4L536.8 2038.4L541.3 2043.7L548 2047.7L553.3 2049.1L569.1 2050.3L577.7 2053L581.9 2055.7L592.4 2065M659.9 2051.1L655.6 2045L648.9 2038.4L642.6 2033.9L631.9 2028.6L627.9 2025.4L618.9 2013L617.4 2009.1L620.7 2002.4L629.1 1977.1L633.1 1970.4L637.3 1967.1L642.6 1964.4L659.9 1958.9M518.7 1963.9L529.2 1973.1L544 1984L549.4 1991.7L551.5 1998.4L550.4 2003.7L546.7 2007.5L541.3 2010.1L530.7 2012.7L526.4 2015.7L523.2 2019.7L521.1 2025L520.7 2030.4L521.7 2035.7L524.1 2041L529.8 2047.7L538.7 2053.3L548 2055.7L562.7 2055.4L566.7 2056L573.3 2059.5L579.3 2065M659.9 2033L637.3 2023.9L632.2 2021L629.5 2018.4L627.1 2014.4L625.5 2007.7L626.4 2001.1L628.7 1994.4L633.3 1986.3L637.3 1981.5L641.2 1978.3L645.2 1976.3L659.9 1972.4M518.7 1981.5L530.7 1984.6L537.4 1987.2L543.2 1991.7L545.3 1994.4L546.2 1997.1L545.3 2000.4L541.3 2003.3L537.4 2004L525.4 2004.4L518.7 2005.7M659.9 2021L646.6 2019.1L637.4 2015.7L634.6 2013.3L632.6 2010.4L631 2003.7L631.4 2001.1L633.4 1997.1L637.3 1992.3L641.2 1989L649.2 1985.7L659.9 1985M518.7 2054.6L526.7 2059.7L536 2063.2L545.3 2064.7L559.9 2065" fill="none" stroke="#000" stroke-opacity="0.55" stroke-width="0.5" stroke-linejoin="round"/>
</g>
<use href="#head" x="589.3" y="1994.4"/>
<rect x="684.1" y="1906.8" width="9.2" height="175.8" fill="url(#cb)"/>
<text x="698.5" y="1957.6" font-size="18.4" fill="#262626">3</text>
<text x="698.5" y="2016" font-size="18.4" fill="#262626">-1</text>
<text x="698.5" y="2074.8" font-size="18.4" fill="#262626">-5</text>
<path d="M693.3 1950.5h-1.6M693.3 2008.9h-1.6M693.3 2067.7h-1.6" stroke="#333" stroke-width="0.7" fill="none"/>
<text x="737.8" y="1994.6" font-size="20" text-anchor="middle" transform="rotate(-90 737.8 1994.6)" textLength="78.5" lengthAdjust="spacingAndGlyphs">t statistic</text>
<text x="589.3" y="1899.4" font-size="20" text-anchor="middle" font-weight="bold" fill="#000" textLength="232.3" lengthAdjust="spacingAndGlyphs">EC vs EO |  FDR correct</text>
<g clip-path="url(#tc12)"><g filter="url(#tb)" stroke-width="4.3" fill="none" transform="translate(822.8 1921.8)">
<path stroke="#fb7e21" d="M28 78h8"/>
<path stroke="#f66c19" d="M24 66h12M20 70h20M20 74h24M108 74h12M20 78h8M36 78h8M104 78h20M24 82h24M100 82h20M28 86h16M100 86h20M100 90h12"/>
<path stroke="#f05b12" d="M24 18h4M20 22h12M16 26h20M12 30h24M128 30h4M12 34h24M128 34h8M8 38h28M124 38h12M8 42h28M124 42h16M4 46h32M124 46h16M4 50h32M120 50h24M4 54h32M120 54h24M0 58h40M116 58h24M4 62h36M112 62h28M4 66h20M36 66h8M104 66h32M8 70h12M40 70h8M100 70h36M8 74h12M44 74h4M96 74h12M120 74h16M8 78h12M44 78h8M96 78h8M124 78h12M12 82h12M48 82h4M92 82h8M120 82h12M16 86h12M44 86h8M92 86h8M120 86h8M24 90h20M96 90h4M112 90h12M100 94h16"/>
<path stroke="#e7490c" d="M36 10h12M28 14h20M112 14h4M28 18h24M112 18h8M32 22h20M108 22h16M36 26h20M108 26h20M36 30h20M108 30h20M36 34h20M108 34h20M36 38h20M108 38h16M36 42h16M108 42h16M36 46h12M108 46h16M36 50h12M108 50h12M36 54h12M104 54h16M40 58h8M104 58h12M140 58h4M0 62h4M40 62h8M100 62h12M140 62h4M0 66h4M44 66h8M96 66h8M136 66h8M0 70h8M48 70h4M92 70h8M136 70h8M0 74h8M48 74h8M92 74h4M136 74h8M0 78h8M52 78h4M88 78h8M136 78h8M0 82h12M52 82h8M88 82h4M132 82h12M4 86h12M52 86h4M84 86h8M128 86h16M8 90h16M44 90h8M88 90h8M124 90h12M16 94h28M92 94h8M116 94h12M100 98h12"/>
<path stroke="#dd3d08" d="M56 2h4M44 6h16M96 6h8M48 10h12M96 10h16M48 14h12M96 14h16M52 18h12M96 18h16M52 22h12M96 22h12M56 26h8M96 26h12M56 30h8M96 30h12M56 34h8M96 34h12M56 38h8M96 38h12M52 42h12M96 42h12M48 46h12M96 46h12M48 50h12M96 50h12M48 54h8M96 54h8M48 58h8M92 58h12M48 62h8M92 62h8M52 66h4M88 66h8M52 70h8M84 70h8M56 74h8M84 74h8M56 78h8M80 78h8M60 82h12M76 82h12M0 86h4M56 86h28M0 90h8M52 90h36M136 90h8M4 94h12M44 94h48M128 94h16M4 98h40M68 98h32M112 98h24M104 102h8"/>
<path stroke="#d02f05" d="M60 2h32M60 6h36M60 10h36M60 14h36M64 18h32M64 22h32M64 26h32M64 30h32M64 34h32M64 38h32M64 42h32M60 46h36M60 50h36M56 54h12M80 54h16M56 58h8M84 58h8M56 62h8M80 62h12M56 66h12M80 66h8M60 70h24M64 74h20M64 78h16M72 82h4M44 98h24M136 98h4M4 102h40M56 102h48M112 102h28M8 106h16M60 106h28M64 110h16M68 114h8"/>
<path stroke="#c32503" d="M68 54h12M64 58h20M64 62h16M68 66h12M44 102h12M24 106h36M88 106h48M8 110h28M56 110h8M80 110h12M104 110h32M12 114h12M60 114h8M76 114h8M64 118h16"/>
<path stroke="#b41b01" d="M36 110h20M92 110h12M24 114h36M84 114h48M16 118h48M80 118h8M108 118h20M20 122h8M64 122h20M116 122h12M68 126h12"/>
<path stroke="#a11201" d="M88 118h20M28 122h36M84 122h32M24 126h24M60 126h8M80 126h8M104 126h20M28 130h4M64 130h20M108 130h8M64 134h20M64 138h20M68 142h16"/>
<path stroke="#8e0a01" d="M48 126h12M88 126h16M32 130h32M84 130h24M32 134h12M60 134h4M84 134h28M60 138h4M84 138h20M60 142h8M84 142h12"/>
<path stroke="#7a0403" d="M44 134h16M40 138h20M48 142h12"/>
</g>
<path d="M865.2 2009.1L868.8 2006.8L870.5 2003.7L870.3 1999.7L867.4 1994.4L860.8 1987.1L855.4 1982.8L850.1 1980.5L846.1 1981.4L842.5 1986.4L840.1 1994.4L840.8 1999.7L842.9 2003.7L847.4 2007.7L852.8 2009.7L859.4 2010.2L865.2 2009.1M930.5 2014.4L939.9 2011.7L943.4 2009.1L946.5 2005.1L948 2001.1L948.1 1997.1L946.6 1993.1L944.7 1991.1L940.7 1989.8L934 1991.2L926.5 1995.7L921.8 2001.1L920.2 2006.4L921.3 2010.4L924.7 2013.4L930.5 2014.4M824.8 2001.7L830.9 2007.7L836.8 2011.7L843.2 2014.4L850.1 2015.7L859.4 2015.7L868.8 2013.6L874.9 2010.4L877.8 2006.4L878.3 2002.4L877.4 1998.4L874.7 1993.1L868.1 1983.7L866.1 1977.1L866.9 1969.1L872.5 1957.1L872.6 1951.8L859.5 1923.8M943.1 1923.8L939.4 1941.6L936.8 1961.1L934.7 1969.1L929.2 1979.7L914.1 1998.4L911.8 2003.7L911.6 2009.1L913.8 2013L919.6 2017L926 2019L934 2019L943.4 2016.6L951.7 2013L959.5 2007.7L966 2001.3M918.3 1923.8L919.5 1933.1L920 1954.4L919.3 1966.4L917.6 1975.8L914.1 1983.7L907.4 1993.6L900.7 2001.2L895.4 2004.5L891.4 2003L887.4 1998.4L880.6 1987.7L878.1 1981.1L879 1975.8L887.1 1963.8L888.5 1958.4L887.7 1950.4L883.3 1931.8L882.9 1923.8M824.8 2018.6L835.5 2021.4L846.1 2022.2L858.1 2021.2L875.4 2017.8L884.7 2017.3L888.7 2018L896.7 2022L910.1 2021.1L930 2023.9L952.7 2021L966 2017.8M898.1 1986.8L895.4 1987.3L892.8 1985.1L892.7 1982.1L895.4 1979.5L898.1 1979.4L900 1981.1L900.2 1983.7L898.1 1986.8M824.8 2031.1L835.5 2031.6L844.8 2030.8L856.8 2028.3L868.8 2024.6L872.8 2024.3L875.7 2025L879.4 2027.1L890.1 2036.9L895.4 2038.7L900.4 2037L911.2 2029L916.7 2027.5L931.4 2029.3L942 2028.8L966 2029.9M824.8 2043.8L842.1 2042.5L866.1 2038.1L872.8 2037.9L879.4 2039.3L892.7 2046.7L896.7 2047.5L900.7 2045.7L914 2036.4L920.7 2034.7L926.1 2035.7L939.4 2040.4L966 2044M905.4 2065L906.2 2054.3L907.2 2051.7L911.4 2048.2L918 2046.2L923.4 2047.2L934 2053.8L940.7 2056.6L950 2059L966 2061.7M824.8 2057.8L846.1 2054.6L871.9 2047.7L878.1 2046.8L882.1 2047.9L886.1 2051.7L889.2 2065" fill="none" stroke="#000" stroke-opacity="0.55" stroke-width="0.5" stroke-linejoin="round"/>
</g>
<use href="#head" x="895.4" y="1994.4"/>
<rect x="990.2" y="1906.8" width="9.2" height="175.8" fill="url(#cb)"/>
<text x="1004.6" y="1922.9" font-size="18.4" fill="#262626">12</text>
<text x="1004.6" y="1948.8" font-size="18.4" fill="#262626">8</text>
<text x="1004.6" y="1975.1" font-size="18.4" fill="#262626">4</text>
<text x="1004.6" y="2001.8" font-size="18.4" fill="#262626">0</text>
<text x="1004.6" y="2028.1" font-size="18.4" fill="#262626">-4</text>
<text x="1004.6" y="2054.4" font-size="18.4" fill="#262626">-8</text>
<text x="1004.6" y="2080.3" font-size="18.4" fill="#262626">-12</text>
<path d="M999.4 1915.8h-1.6M999.4 1941.7h-1.6M999.4 1968h-1.6M999.4 1994.7h-1.6M999.4 2021h-1.6M999.4 2047.3h-1.6M999.4 2073.2h-1.6" stroke="#333" stroke-width="0.7" fill="none"/>
<text x="1054.4" y="1994.6" font-size="20" text-anchor="middle" transform="rotate(-90 1054.4 1994.6)" textLength="78.5" lengthAdjust="spacingAndGlyphs">t statistic</text>
<text x="895.4" y="1899.4" font-size="20" text-anchor="middle" font-weight="bold" fill="#000" textLength="232.3" lengthAdjust="spacingAndGlyphs">EC vs EO |  FDR correct</text>
<g clip-path="url(#tc13)"><g filter="url(#tb)" stroke-width="4.3" fill="none" transform="translate(1128.9 1921.8)">
<path stroke="#30123b" d="M56 2h36M48 6h56M56 10h56M72 14h44M88 18h32M108 22h16M124 26h4M36 122h16M100 122h16M32 126h24M96 126h28M28 130h36M92 130h24M32 134h36M88 134h24M40 138h64M48 142h48"/>
<path stroke="#372466" d="M44 6h4M44 10h12M56 14h16M72 18h16M92 22h16M108 26h16M120 30h12M36 118h12M32 122h4M52 122h4M96 122h4M116 122h12M28 126h4M56 126h8M92 126h4M64 130h4M88 130h4M68 134h20"/>
<path stroke="#3d358b" d="M36 10h8M40 14h16M56 18h16M76 22h16M92 26h16M108 30h12M116 34h20M128 38h8M32 114h16M28 118h8M48 118h8M100 118h20M24 122h8M56 122h4M24 126h4M64 126h4M68 130h8M84 130h4"/>
<path stroke="#4249b1" d="M32 14h8M40 18h16M52 22h24M76 26h16M88 30h20M108 34h8M116 38h12M124 42h16M136 46h4M32 110h12M28 114h4M48 114h4M108 114h4M24 118h4M56 118h4M96 118h4M120 118h8M20 122h4M60 122h4M92 122h4M68 126h4M88 126h4M76 130h8"/>
<path stroke="#4559cb" d="M28 14h4M28 18h12M36 22h16M52 26h24M72 30h16M80 34h28M104 38h12M112 42h12M120 46h16M128 50h16M68 54h12M60 58h20M56 62h24M56 66h20M60 70h12M32 106h12M28 110h4M44 110h4M24 114h4M52 114h4M100 114h8M112 114h16M20 118h4M60 118h4M92 118h4M64 122h4M88 122h4M72 126h16"/>
<path stroke="#466be3" d="M24 18h4M24 22h12M36 26h16M48 30h24M60 34h20M64 38h40M64 42h48M60 46h60M56 50h40M112 50h16M56 54h12M80 54h12M120 54h24M52 58h8M80 58h8M136 58h8M52 62h4M80 62h8M52 66h4M76 66h8M56 70h4M72 70h8M60 74h16M28 106h4M44 106h4M24 110h4M48 110h8M104 110h16M20 114h4M56 114h4M96 114h4M128 114h4M16 118h4M64 118h4M68 122h8M84 122h4"/>
<path stroke="#477bf2" d="M20 22h4M24 26h12M32 30h16M44 34h16M52 38h12M52 42h12M52 46h8M48 50h8M96 50h16M48 54h8M92 54h28M48 58h4M88 58h8M112 58h24M48 62h4M88 62h4M124 62h20M0 66h12M84 66h4M140 66h4M0 70h12M52 70h4M80 70h4M0 74h12M56 74h4M76 74h4M4 78h12M64 78h12M8 82h8M28 102h16M24 106h4M48 106h4M20 110h4M56 110h4M96 110h8M120 110h16M16 114h4M60 114h8M92 114h4M68 118h8M88 118h4M76 122h8"/>
<path stroke="#458afc" d="M16 26h8M12 30h20M28 34h16M36 38h16M40 42h12M40 46h12M4 50h4M40 50h8M4 54h8M40 54h8M0 58h20M44 58h4M96 58h16M0 62h20M44 62h4M92 62h8M108 62h16M12 66h8M48 66h4M88 66h4M120 66h20M12 70h8M48 70h4M84 70h4M128 70h16M12 74h8M52 74h4M80 74h4M140 74h4M0 78h4M16 78h4M56 78h8M76 78h4M0 82h8M16 82h8M68 82h8M0 86h24M4 90h20M28 98h12M24 102h4M44 102h4M20 106h4M52 106h4M100 106h36M16 110h4M60 110h8M92 110h4M12 114h4M68 114h12M84 114h8M76 118h12"/>
<path stroke="#3e9bfe" d="M12 34h16M8 38h28M8 42h8M28 42h12M4 46h12M28 46h12M8 50h32M12 54h28M20 58h24M20 62h12M36 62h8M100 62h8M20 66h8M44 66h4M92 66h8M108 66h12M20 70h4M88 70h4M116 70h12M20 74h4M48 74h4M84 74h4M120 74h20M20 78h4M52 78h4M80 78h4M124 78h20M60 82h8M76 82h8M132 82h12M24 86h4M140 86h4M0 90h4M24 90h4M140 90h4M4 94h28M140 94h4M16 98h12M40 98h4M16 102h8M48 102h4M108 102h32M16 106h4M56 106h4M92 106h8M8 110h8M68 110h24M80 114h4"/>
<path stroke="#35abf8" d="M16 42h12M16 46h12M32 62h4M28 66h16M100 66h8M24 70h4M44 70h4M92 70h4M108 70h8M24 74h4M88 74h4M116 74h4M24 78h4M84 78h4M116 78h8M24 82h4M56 82h4M120 82h12M64 86h20M120 86h20M28 90h4M120 90h20M32 94h12M116 94h24M4 98h12M44 98h8M112 98h28M4 102h12M52 102h4M96 102h12M8 106h8M60 106h32"/>
<path stroke="#28bceb" d="M28 70h16M96 70h12M28 74h4M44 74h4M92 74h4M108 74h8M48 78h4M88 78h4M112 78h4M28 82h4M48 82h8M84 82h4M116 82h4M28 86h4M56 86h8M116 86h4M32 90h8M68 90h16M112 90h8M44 94h8M76 94h4M112 94h4M52 98h4M76 98h8M104 98h8M56 102h40"/>
<path stroke="#1fc9dd" d="M32 74h12M96 74h12M28 78h4M40 78h8M108 78h4M32 82h4M44 82h4M88 82h4M112 82h4M32 86h24M84 86h4M112 86h4M40 90h28M84 90h4M108 90h4M52 94h24M80 94h8M108 94h4M56 98h8M68 98h8M84 98h20"/>
<path stroke="#19d5cd" d="M32 78h8M92 78h8M104 78h4M36 82h8M108 82h4M88 86h4M108 86h4M88 90h4M104 90h4M88 94h20M64 98h4"/>
<path stroke="#19e2bb" d="M100 78h4M92 82h4M100 82h8M92 86h4M104 86h4M92 90h12"/>
<path stroke="#20eaac" d="M96 82h4M96 86h8"/>
</g>
<path d="M1152.9 1923.8L1169.5 1932.9L1180.2 1936.9L1230.8 1948.1L1254.8 1956.1L1272.1 1960.1M1272.1 2045.7L1261.4 2044L1242.8 2039.3L1234.8 2039L1228.1 2041.5L1218.8 2049.3L1214.8 2051.7L1209.5 2053.4L1205.5 2053.6L1198.8 2051.5L1186.8 2043.4L1174.9 2036.7L1168.2 2034.6L1164.2 2036.5L1146.9 2053.7L1132.6 2065M1130.9 1926.6L1148.2 1933.1L1169.5 1943.1L1200.8 1949.1L1214.8 1954L1229.5 1956.2L1252.1 1966.7L1272.1 1972.4M1194.7 1991.7L1195.7 1990.4L1196.3 1983.7L1193.5 1981.9L1190.8 1982.2L1187.9 1985.1L1187.6 1989.1L1189.4 1991.7L1190.8 1992.3L1194.7 1991.7M1272.1 2038.8L1261.4 2038L1242.8 2034.6L1234.8 2034.8L1226.8 2037.6L1214.8 2046.6L1210.8 2047.9L1205.5 2048.1L1198.8 2045.6L1172.2 2029.2L1166.9 2027.9L1164.2 2028.5L1161.1 2030.4L1146.9 2045L1140.2 2050.2L1130.9 2056M1130.9 1941.5L1140.2 1942.5L1149.6 1944.7L1166.9 1951.7L1178.9 1955.1L1184.5 1958.4L1186.3 1961.1L1186.5 1963.8L1179.9 1977.1L1179.4 1981.1L1179.8 1985.1L1181.8 1990.4L1184.2 1993.9L1188 1997.1L1192.2 1998.9L1198.8 2000.4L1204.2 1999.4L1207 1997.1L1214.1 1987.7L1224.1 1977.6L1228.1 1974.7L1230.8 1973.8L1237.5 1974.6L1252.1 1980L1272.1 1986M1272.1 2031.2L1262.8 2032L1242.8 2029.8L1233.5 2030.6L1225.5 2033.3L1214.8 2041.4L1208.2 2042.5L1202.8 2041L1196.6 2037L1185.5 2031.9L1173.3 2025L1168.2 2023.4L1164.2 2023.3L1158.7 2025L1145.6 2038.1L1138.9 2042.5L1130.9 2046.3M1160.2 1976.3L1153.5 1976.5L1148.2 1974.4L1142.9 1970.9L1140 1967.8L1138.8 1965.1L1138.8 1962.4L1140.2 1959.8L1144.2 1957.3L1149.6 1956.7L1154.9 1958L1159.9 1961.1L1162.3 1963.8L1163.7 1967.8L1162.9 1972.3L1160.2 1976.3M1272.1 2019.7L1268.8 2022.4L1264.1 2024.3L1260.1 2024.8L1248.1 2023.7L1240.1 2024.7L1224.1 2028.1L1214.8 2033L1210.8 2033.8L1202.8 2030.2L1194.8 2030.1L1189.5 2028.8L1173.5 2020.5L1156.5 2015.7L1155.2 2014.4L1154.3 2011.7L1151.2 1998.4L1151 1993.1L1152.2 1987.9L1154.9 1982.5L1157.5 1979.9L1161.5 1977.7L1165.5 1979.3L1169.5 1982.6L1179.9 1995.7L1184.2 1999.8L1189.5 2002.9L1196.2 2005.1L1202.8 2006.1L1207.5 2005.1L1209.5 2003.4L1216.2 1994.2L1220.1 1990.3L1226.8 1986.3L1232.1 1985.2L1236.1 1985.7L1240.1 1987.2L1254.8 1995.1L1266.8 2000.4L1272.1 2004.5M1130.9 2015.3L1141.6 2016.6L1146.9 2018L1149.1 2019.7L1149.6 2022.4L1148.2 2026.6L1144.2 2030.8L1138.9 2033.5L1130.9 2035.3M1201.5 2023.8L1196.2 2025L1190.8 2024.2L1177.5 2016.5L1162.9 2010.8L1159.9 2007.7L1157.4 2002.4L1157 1998.4L1158.4 1994.4L1160.2 1992.4L1162.9 1991.2L1168.2 1991.9L1172.2 1994.6L1180.2 2003L1184.2 2006.1L1189.5 2008.5L1205.5 2013.1L1208.2 2012.8L1210.8 2010.9L1218.8 1998.4L1221.5 1995.7L1225.5 1993.3L1229.5 1992.2L1234.8 1992.6L1240.1 1995.4L1243 1998.4L1244.6 2002.4L1245 2011.7L1243.1 2015.7L1239.7 2018.4L1233.5 2021L1226.8 2022.3L1217.5 2023.2L1206.8 2022.6L1201.5 2023.8M1230.8 2016.1L1225.5 2016.9L1221.5 2016.1L1219.2 2014.4L1218.3 2011.7L1219.3 2006.4L1221.5 2002.4L1225.5 1999.1L1229.5 1998.1L1232.1 1998.3L1235.2 1999.7L1237.5 2002.2L1238.2 2005.1L1237.9 2009.1L1236.7 2011.7L1234.1 2014.4L1230.8 2016.1" fill="none" stroke="#000" stroke-opacity="0.55" stroke-width="0.5" stroke-linejoin="round"/>
</g>
<use href="#head" x="1201.5" y="1994.4"/>
<rect x="1296.3" y="1906.8" width="9.2" height="175.8" fill="url(#cb)"/>
<text x="1310.7" y="1924" font-size="18.4" fill="#262626">6</text>
<text x="1310.7" y="1975.8" font-size="18.4" fill="#262626">2</text>
<text x="1310.7" y="2027" font-size="18.4" fill="#262626">-2</text>
<text x="1310.7" y="2078.5" font-size="18.4" fill="#262626">-6</text>
<path d="M1305.5 1916.9h-1.6M1305.5 1968.7h-1.6M1305.5 2019.9h-1.6M1305.5 2071.4h-1.6" stroke="#333" stroke-width="0.7" fill="none"/>
<text x="1350" y="1994.6" font-size="20" text-anchor="middle" transform="rotate(-90 1350 1994.6)" textLength="78.5" lengthAdjust="spacingAndGlyphs">t statistic</text>
<text x="1201.5" y="1899.4" font-size="20" text-anchor="middle" font-weight="bold" fill="#000" textLength="232.3" lengthAdjust="spacingAndGlyphs">EC vs EO |  FDR correct</text>
<g clip-path="url(#tc14)"><g filter="url(#tb)" stroke-width="4.3" fill="none" transform="translate(1435 1921.8)">
<path stroke="#372466" d="M72 2h20M76 6h24M76 10h24M76 14h20M80 18h12M84 22h4"/>
<path stroke="#3d358b" d="M64 2h8M68 6h8M100 6h4M68 10h8M100 10h8M68 14h8M96 14h8M72 18h8M92 18h8M72 22h12M88 22h12M72 26h24M72 30h20M72 34h16M72 38h12M72 42h8M68 78h4"/>
<path stroke="#4249b1" d="M56 2h8M60 6h8M60 10h8M108 10h4M60 14h8M104 14h8M64 18h8M100 18h8M64 22h8M100 22h4M64 26h8M96 26h4M64 30h8M92 30h4M64 34h8M88 34h8M64 38h8M84 38h8M64 42h8M80 42h8M64 46h20M64 50h16M64 54h16M68 58h12M68 62h8M68 66h8M64 70h12M64 74h16M64 78h4M72 78h8M64 82h12M68 86h8M32 102h8M32 106h8M36 110h4M108 110h4M108 114h4"/>
<path stroke="#4559cb" d="M52 6h8M52 10h8M56 14h4M112 14h4M56 18h8M108 18h4M56 22h8M104 22h8M56 26h8M100 26h8M60 30h4M96 30h8M60 34h4M96 34h4M60 38h4M92 38h4M60 42h4M88 42h4M60 46h4M84 46h4M60 50h4M80 50h8M60 54h4M80 54h4M60 58h8M80 58h4M64 62h4M76 62h4M64 66h4M76 66h4M60 70h4M76 70h4M60 74h4M60 78h4M60 82h4M76 82h4M64 86h4M76 86h4M68 90h4M28 98h8M28 102h4M40 102h4M28 106h4M40 106h4M108 106h8M32 110h4M40 110h8M104 110h4M112 110h4M32 114h12M112 114h4M108 118h8"/>
<path stroke="#466be3" d="M48 6h4M48 10h4M48 14h8M52 18h4M112 18h8M52 22h4M112 22h4M52 26h4M108 26h4M52 30h8M104 30h4M52 34h8M100 34h4M52 38h8M96 38h4M56 42h4M92 42h4M56 46h4M88 46h4M56 50h4M84 54h4M60 62h4M80 62h4M60 66h4M80 66h4M80 70h4M80 74h4M56 78h4M80 78h4M80 82h4M60 86h4M60 90h8M72 90h4M24 98h4M36 98h8M24 102h4M44 102h4M104 102h12M44 106h4M104 106h4M116 106h4M28 110h4M48 110h4M116 110h4M44 114h8M104 114h4M116 114h4M32 118h16M104 118h4M116 118h4M36 122h12M108 122h8M40 126h8M56 142h12"/>
<path stroke="#477bf2" d="M44 6h4M44 10h4M44 14h4M44 18h8M48 22h4M116 22h4M48 26h4M112 26h4M48 30h4M108 30h4M48 34h4M104 34h8M48 38h4M100 38h8M48 42h8M96 42h4M52 46h4M92 46h4M52 50h4M88 50h4M56 54h4M88 54h4M56 58h4M84 58h4M56 62h4M84 62h4M56 66h4M84 66h4M56 70h4M84 70h4M56 74h4M84 74h4M84 78h4M56 82h4M84 82h4M56 86h4M80 86h4M56 90h4M76 90h4M24 94h16M60 94h12M44 98h4M104 98h12M48 102h4M100 102h4M116 102h4M24 106h4M48 106h4M100 106h4M52 110h4M100 110h4M120 110h4M28 114h4M52 114h4M100 114h4M120 114h4M28 118h4M48 118h8M100 118h4M120 118h4M28 122h8M48 122h8M104 122h4M116 122h4M32 126h8M48 126h12M104 126h12M32 130h36M36 134h36M40 138h36M48 142h8M68 142h12"/>
<path stroke="#458afc" d="M36 10h8M40 14h4M40 18h4M40 22h8M120 22h4M44 26h4M116 26h8M44 30h4M112 30h8M44 34h4M112 34h4M44 38h4M108 38h4M44 42h4M100 42h8M44 46h8M96 46h8M48 50h4M92 50h4M52 54h4M52 58h4M88 58h4M52 62h4M52 66h4M52 70h4M52 74h4M52 78h4M52 82h4M52 86h4M84 86h4M52 90h4M80 90h8M40 94h8M52 94h8M72 94h8M20 98h4M48 98h20M100 98h4M116 98h4M20 102h4M52 102h8M120 102h4M52 106h8M120 106h4M24 110h4M56 110h4M24 114h4M56 114h4M24 118h4M56 118h8M56 122h12M100 122h4M120 122h4M28 126h4M60 126h12M100 126h4M116 126h8M28 130h4M68 130h8M100 130h16M32 134h4M72 134h8M100 134h12M76 138h12M100 138h4M80 142h16"/>
<path stroke="#3e9bfe" d="M32 14h8M32 18h8M36 22h4M36 26h8M124 26h4M36 30h8M120 30h4M36 34h8M116 34h4M36 38h8M112 38h4M36 42h8M108 42h4M40 46h4M104 46h4M40 50h8M96 50h8M44 54h8M92 54h4M48 58h4M92 58h4M88 62h4M88 66h4M88 70h4M88 74h4M88 78h4M48 82h4M88 82h4M48 86h4M88 86h4M28 90h24M88 90h4M20 94h4M48 94h4M80 94h8M96 94h24M16 98h4M68 98h8M96 98h4M120 98h4M60 102h8M96 102h4M20 106h4M60 106h8M96 106h4M124 106h4M20 110h4M60 110h8M96 110h4M124 110h4M60 114h8M96 114h4M124 114h4M64 118h8M96 118h4M124 118h4M24 122h4M68 122h8M96 122h4M124 122h4M24 126h4M72 126h8M96 126h4M76 130h8M92 130h8M80 134h20M88 138h12"/>
<path stroke="#35abf8" d="M28 14h4M28 18h4M28 22h8M28 26h8M28 30h8M124 30h8M28 34h8M120 34h8M28 38h8M116 38h8M32 42h4M112 42h8M32 46h8M108 46h8M32 50h8M104 50h8M36 54h8M96 54h8M44 58h4M96 58h4M48 62h4M92 62h4M48 66h4M92 66h4M48 70h4M48 74h4M92 74h4M48 78h4M92 78h4M92 82h4M44 86h4M92 86h4M20 90h8M92 90h20M16 94h4M88 94h8M120 94h4M76 98h20M124 98h4M16 102h4M68 102h8M92 102h4M124 102h4M16 106h4M68 106h4M92 106h4M68 110h4M128 110h4M20 114h4M68 114h8M128 114h4M20 118h4M72 118h4M20 122h4M76 122h4M92 122h4M80 126h16M84 130h8"/>
<path stroke="#28bceb" d="M24 18h4M20 22h8M20 26h8M24 30h4M24 34h4M128 34h8M24 38h4M124 38h8M24 42h8M120 42h4M24 46h8M116 46h8M28 50h4M112 50h12M28 54h8M104 54h20M32 58h12M100 58h8M112 58h12M40 62h8M96 62h4M120 62h8M44 66h4M44 70h4M92 70h4M44 74h4M44 78h4M44 82h4M96 82h4M28 86h16M96 86h8M12 90h8M112 90h16M12 94h4M124 94h4M12 98h4M128 98h4M12 102h4M76 102h16M128 102h4M12 106h4M72 106h8M128 106h4M16 110h4M72 110h8M92 110h4M132 110h4M16 114h4M76 114h4M92 114h4M16 118h4M76 118h4M92 118h4M80 122h12"/>
<path stroke="#1fc9dd" d="M16 26h4M16 30h8M20 34h4M20 38h4M132 38h4M20 42h4M124 42h16M20 46h4M124 46h16M20 50h8M124 50h16M20 54h8M124 54h20M8 58h24M108 58h4M124 58h20M0 62h16M32 62h8M100 62h20M128 62h16M0 66h16M40 66h4M96 66h4M112 66h32M0 70h16M96 70h4M120 70h24M0 74h16M96 74h4M124 74h20M0 78h16M40 78h4M96 78h4M124 78h20M0 82h16M36 82h8M100 82h4M124 82h20M0 86h28M104 86h36M0 90h12M128 90h8M4 94h8M128 94h8M4 98h8M132 98h4M8 102h4M132 102h4M8 106h4M80 106h12M132 106h4M12 110h4M80 110h4M88 110h4M12 114h4M80 114h4M88 114h4M80 118h12"/>
<path stroke="#19d5cd" d="M12 30h4M12 34h8M12 38h8M12 42h8M8 46h12M4 50h16M140 50h4M4 54h16M0 58h8M16 62h16M16 66h8M32 66h8M100 66h12M16 70h4M40 70h4M100 70h4M112 70h8M16 74h4M40 74h4M100 74h4M116 74h8M16 78h4M100 78h4M120 78h4M16 82h8M28 82h8M104 82h4M116 82h8M140 86h4M136 90h8M136 94h8M136 98h4M4 102h4M136 102h4M8 110h4M84 110h4M84 114h4"/>
<path stroke="#19e2bb" d="M8 38h4M8 42h4M4 46h4M24 66h8M20 70h8M32 70h8M104 70h8M20 74h4M36 74h4M104 74h12M20 78h4M32 78h8M104 78h4M112 78h8M24 82h4M108 82h8"/>
<path stroke="#20eaac" d="M28 70h4M24 74h12M24 78h8M108 78h4"/>
</g>
<path d="M1499.5 1923.8L1501.9 1931.8L1506.5 1942.5L1506.3 1961.1L1507.6 1966.1L1508.9 1967.8L1510.3 1967.9L1516.9 1962.6L1534.2 1943.3L1539.6 1935.8L1546.3 1923.8M1507.9 2003.7L1508.8 1999.7L1507.6 1997L1506.3 1996.3L1504.2 1998.4L1503.8 2002.4L1504.9 2004.2L1506.3 2004.7L1507.9 2003.7M1486.7 1923.8L1492.5 1946.4L1496.7 1977.1L1497.2 1985.1L1495.9 1998.4L1496.2 2003.7L1497.6 2007.7L1499.8 2010.4L1502.3 2011.8L1506.3 2012.5L1511.1 2010.4L1515.3 2005.1L1516.4 1999.7L1516.4 1983.7L1517.8 1978.4L1520.5 1973.1L1527.4 1963.8L1545 1943.8L1559.9 1923.8M1476.2 2039.7L1479.4 2037L1480.9 2033L1480.8 2029L1479.1 2025L1475.6 2021.6L1471.6 2019.4L1467.6 2018.3L1463.6 2018.8L1462.3 2019.8L1461.7 2022.4L1466.3 2032.2L1471.6 2038.8L1474.3 2039.9L1476.2 2039.7M1548.3 2041L1550.2 2039.8L1552.1 2037L1552.5 2031.7L1551.4 2029L1549.2 2026.4L1547.6 2025.4L1544.9 2025L1542.8 2026.4L1541.3 2029L1541 2035.7L1543.6 2040.2L1546.2 2041.4L1548.3 2041M1475.3 1923.8L1481.4 1941.1L1484.6 1961.1L1490.9 1979.7L1491.4 1987.7L1490.4 2002.4L1491.3 2007.7L1494.5 2014.4L1496.9 2016.1L1500.9 2016.8L1511.6 2014.6L1515.6 2012.5L1518.3 2010.1L1519.9 2007.7L1521.2 2003.7L1521.8 1985.1L1523.2 1979.7L1525.2 1975.8L1530.2 1969.7L1544.6 1955.8L1574.9 1923.8M1516.1 2065L1512 2059.7L1507.6 2055.5L1503.6 2053L1494.3 2049.2L1491.6 2047L1489.8 2042.4L1488.5 2027.7L1485.5 2022.4L1479.7 2018.4L1474.3 2015.7L1469 2014.5L1463.6 2014.8L1459.4 2017L1457.9 2019.7L1457.7 2022.4L1465 2043.5L1473.8 2065M1548.9 2050.3L1552.9 2047.1L1555.8 2042.4L1557.6 2037L1557.5 2031.7L1555.8 2026.4L1552.9 2022.2L1548.9 2019.4L1543.6 2018.5L1539.6 2020.2L1537.2 2023.7L1536.1 2030.4L1536.7 2038.4L1538.2 2044.1L1540.9 2048.6L1544.9 2051L1548.9 2050.3M1462.9 1923.8L1471.8 1945.1L1472.2 1957.1L1473.9 1965.1L1476.6 1970.4L1484.5 1979.7L1485.9 1985.1L1486.4 1991.7L1484.7 2007.7L1483.1 2011.7L1481 2012.1L1469 2011.1L1462.7 2011.7L1457 2013.8L1454 2017L1453.5 2022.4L1457 2030.4L1457.7 2034.4L1460 2065M1555.3 2065L1560.4 2051.7L1562.6 2042.4L1563.1 2037L1562.5 2031.7L1559.8 2023.7L1557.4 2019.7L1554.6 2017L1548.9 2014.6L1542.2 2013.9L1536.9 2014.6L1533 2017L1531.5 2022.4L1532.2 2038.4L1531.7 2046.3L1529.5 2051.7L1526.2 2053.7L1523.6 2053.8L1519.6 2052.5L1513.1 2047.7L1502.1 2035.7L1500.3 2031.7L1500.3 2027.7L1502.6 2023.7L1505.8 2021L1520.6 2015.7L1525.5 2011.7L1526.8 2006.4L1526.3 1987.7L1527.6 1982.4L1530.2 1977.8L1545.9 1965.1L1562.2 1948.9L1578.2 1936.4M1448.1 1923.8L1453.3 1933.1L1456.7 1941.1L1459.3 1955.8L1464 1974.4L1467.6 1978.8L1475.6 1982.4L1478.3 1984.4L1480.5 1987.7L1481.6 1993.1L1480.2 2001.1L1477 2005.4L1471.6 2007.2L1453 2009.8L1449 2011.7L1447.2 2014.4L1446.6 2017L1447 2021L1451.2 2030.4L1452 2034.4L1448.6 2065M1570.7 2065L1570.9 2049L1570.3 2038.4L1568.7 2031.7L1563.5 2016.6L1560.9 2013.2L1558.2 2011.7L1542.2 2009.2L1535.6 2006.6L1533.2 2003.7L1532.1 2001.1L1531 1991.7L1532 1986.4L1535.6 1981.6L1540.9 1978.9L1550.2 1977.4L1552.9 1976.3L1557.6 1966.4L1560.9 1961.8L1567.5 1956.9L1578.2 1951.1M1522.3 2043.7L1519.6 2043.2L1516.2 2041L1514 2038.4L1512.4 2034.4L1512.5 2030.4L1513.8 2026.4L1515.6 2024.7L1519.6 2023.3L1522.3 2023.5L1524.9 2025.2L1526.5 2027.7L1527.5 2031.7L1527.6 2035.7L1526.2 2040.7L1524.9 2042.6L1522.3 2043.7M1437 1935.4L1446.3 1949.6L1450.5 1957.1L1451.9 1961.1L1450.3 1966.1L1447.7 1969.3L1443.7 1971.6L1437 1973.9M1467.6 2003.8L1462.3 2004.7L1458.3 2004.5L1455.7 2003.4L1453.5 2001.1L1452.8 1997.1L1453.9 1991.7L1455.7 1988.2L1458.3 1986L1462.3 1985.3L1469 1986.7L1473 1988.8L1475.3 1991.7L1475.9 1995.7L1474.4 1999.7L1471.6 2002.2L1467.6 2003.8M1548.9 2005.1L1543.6 2004.7L1540.9 2003.3L1538.7 2001.1L1537.5 1998.4L1537.2 1994.4L1537.9 1991.7L1539.6 1989.8L1542.2 1989L1546.2 1990L1550.7 1993.1L1554.2 1997.1L1554.9 1999.7L1554 2002.4L1551.6 2004.3L1548.9 2005.1M1437 2025.3L1440.7 2033L1441.4 2038.4L1440.6 2045L1437 2059.8" fill="none" stroke="#000" stroke-opacity="0.55" stroke-width="0.5" stroke-linejoin="round"/>
</g>
<use href="#head" x="1507.6" y="1994.4"/>
<rect x="1602.4" y="1906.8" width="9.2" height="175.8" fill="url(#cb)"/>
<text x="1616.8" y="1945.9" font-size="18.4" fill="#262626">5</text>
<text x="1616.8" y="1990.5" font-size="18.4" fill="#262626">1</text>
<text x="1616.8" y="2034.3" font-size="18.4" fill="#262626">-3</text>
<text x="1616.8" y="2078.5" font-size="18.4" fill="#262626">-7</text>
<path d="M1611.6 1938.8h-1.6M1611.6 1983.4h-1.6M1611.6 2027.2h-1.6M1611.6 2071.4h-1.6" stroke="#333" stroke-width="0.7" fill="none"/>
<text x="1656.1" y="1994.6" font-size="20" text-anchor="middle" transform="rotate(-90 1656.1 1994.6)" textLength="78.5" lengthAdjust="spacingAndGlyphs">t statistic</text>
<text x="1507.6" y="1899.4" font-size="20" text-anchor="middle" font-weight="bold" fill="#000" textLength="232.3" lengthAdjust="spacingAndGlyphs">EC vs EO |  FDR correct</text>
<text x="-1.8" y="2137.6" font-size="45.5" font-family="Liberation Serif, serif" fill="#000">C</text>
</svg>
</body>
</html>
